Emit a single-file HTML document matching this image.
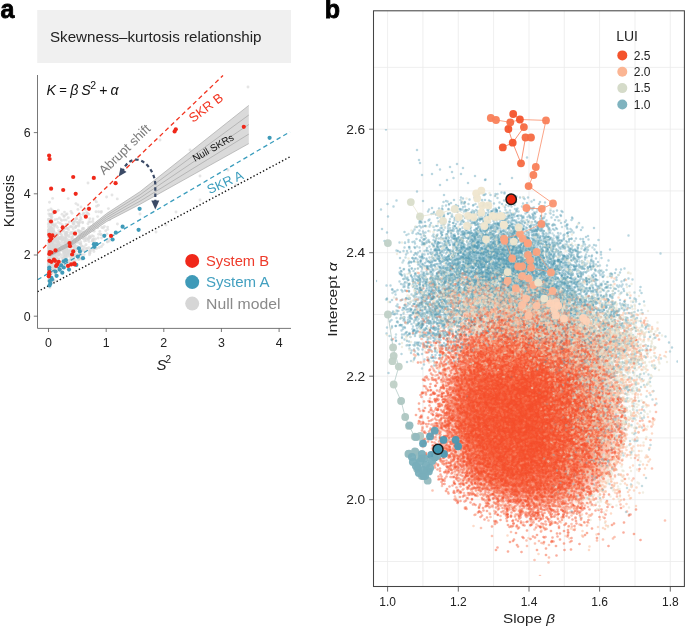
<!DOCTYPE html>
<html><head><meta charset="utf-8"><title>Skewness–kurtosis relationship</title>
<style>html,body{margin:0;padding:0;background:#fff;width:685px;height:627px;overflow:hidden}svg{display:block}</style>
</head><body>
<svg width="685" height="627" viewBox="0 0 685 627" font-family="'Liberation Sans', Arial, sans-serif"><rect x="37.2" y="10" width="253.8" height="53" fill="#f0f0f0"/>
<text x="50" y="41.5" font-size="15.2" fill="#222" textLength="211.5" lengthAdjust="spacingAndGlyphs">Skewness–kurtosis relationship</text>
<text x="0.4" y="18.2" font-size="25" font-weight="bold" fill="#000" stroke="#000" stroke-width="0.8">a</text>
<text x="324.8" y="18.2" font-size="25" font-weight="bold" fill="#000" stroke="#000" stroke-width="0.8">b</text>
<g fill="#111" font-size="14.2"><text x="46.6" y="94.6" font-style="italic">K</text><text x="59.3" y="94" font-size="13">=</text><text x="70.2" y="94.6" font-style="italic">β</text><text x="81.3" y="94.6" font-style="italic">S</text><text x="90.2" y="88.8" font-size="10.5">2</text><text x="99.3" y="94.6">+</text><text x="110.4" y="94.6" font-style="italic">α</text></g>
<g fill="#dadada" fill-opacity="0.7"><circle cx="48.4" cy="257.7" r="1.45"/><circle cx="49.2" cy="235.1" r="1.45"/><circle cx="49.8" cy="233.2" r="1.45"/><circle cx="48.6" cy="277.5" r="1.45"/><circle cx="49.9" cy="240.2" r="1.45"/><circle cx="49.9" cy="258.8" r="1.45"/><circle cx="48.7" cy="234.3" r="1.45"/><circle cx="48.5" cy="265.2" r="1.45"/><circle cx="52.4" cy="243.3" r="1.45"/><circle cx="54.1" cy="227.5" r="1.45"/><circle cx="53.9" cy="247.5" r="1.45"/><circle cx="52.2" cy="257.2" r="1.45"/><circle cx="48.9" cy="248.4" r="1.45"/><circle cx="56" cy="241.8" r="1.45"/><circle cx="48.5" cy="254.2" r="1.45"/><circle cx="53" cy="242.9" r="1.45"/><circle cx="51.3" cy="236.6" r="1.45"/><circle cx="51.6" cy="236.7" r="1.45"/><circle cx="48.5" cy="268.8" r="1.45"/><circle cx="50.2" cy="249.9" r="1.45"/><circle cx="48.7" cy="253.2" r="1.45"/><circle cx="52.1" cy="253.4" r="1.45"/><circle cx="52.5" cy="222.6" r="1.45"/><circle cx="51" cy="254.3" r="1.45"/><circle cx="50.7" cy="229.2" r="1.45"/><circle cx="48.6" cy="263" r="1.45"/><circle cx="49" cy="265" r="1.45"/><circle cx="48.6" cy="264.7" r="1.45"/><circle cx="52.7" cy="239.2" r="1.45"/><circle cx="49" cy="243.2" r="1.45"/><circle cx="48.8" cy="229.4" r="1.45"/><circle cx="50.1" cy="248.3" r="1.45"/><circle cx="51.1" cy="273.8" r="1.45"/><circle cx="52.4" cy="236.9" r="1.45"/><circle cx="50.3" cy="214.1" r="1.45"/><circle cx="49.8" cy="250.2" r="1.45"/><circle cx="52.2" cy="265.1" r="1.45"/><circle cx="49.4" cy="245" r="1.45"/><circle cx="49.2" cy="280.9" r="1.45"/><circle cx="49.7" cy="246.2" r="1.45"/><circle cx="49.5" cy="249.7" r="1.45"/><circle cx="49" cy="230.8" r="1.45"/><circle cx="48.4" cy="243.6" r="1.45"/><circle cx="51.9" cy="264.4" r="1.45"/><circle cx="48.5" cy="264.7" r="1.45"/><circle cx="49.4" cy="272" r="1.45"/><circle cx="48.4" cy="263.1" r="1.45"/><circle cx="52.3" cy="258.6" r="1.45"/><circle cx="53.5" cy="213.3" r="1.45"/><circle cx="49.3" cy="234.9" r="1.45"/><circle cx="50.9" cy="240.1" r="1.45"/><circle cx="49" cy="261.4" r="1.45"/><circle cx="48.9" cy="248.1" r="1.45"/><circle cx="50.5" cy="261.9" r="1.45"/><circle cx="51.5" cy="250.5" r="1.45"/><circle cx="48.5" cy="232" r="1.45"/><circle cx="49.2" cy="235.7" r="1.45"/><circle cx="51.3" cy="255.7" r="1.45"/><circle cx="48.7" cy="240.8" r="1.45"/><circle cx="48.8" cy="214" r="1.45"/><circle cx="51.8" cy="258.9" r="1.45"/><circle cx="54.8" cy="268.1" r="1.45"/><circle cx="53.6" cy="266.4" r="1.45"/><circle cx="50.9" cy="266.8" r="1.45"/><circle cx="48.8" cy="222.8" r="1.45"/><circle cx="52.1" cy="279.4" r="1.45"/><circle cx="48.6" cy="246.8" r="1.45"/><circle cx="48.9" cy="233.5" r="1.45"/><circle cx="51.7" cy="241.7" r="1.45"/><circle cx="48.6" cy="236.9" r="1.45"/><circle cx="50.3" cy="227.7" r="1.45"/><circle cx="52.2" cy="249.1" r="1.45"/><circle cx="51.3" cy="252.3" r="1.45"/><circle cx="50.5" cy="245.8" r="1.45"/><circle cx="50.1" cy="252.2" r="1.45"/><circle cx="49.5" cy="246.3" r="1.45"/><circle cx="52.5" cy="236.7" r="1.45"/><circle cx="53.4" cy="239.2" r="1.45"/><circle cx="51.6" cy="258.4" r="1.45"/><circle cx="52.6" cy="224.4" r="1.45"/><circle cx="49" cy="240" r="1.45"/><circle cx="53.7" cy="266" r="1.45"/><circle cx="48.5" cy="253.4" r="1.45"/><circle cx="50.7" cy="260.6" r="1.45"/><circle cx="50" cy="249.3" r="1.45"/><circle cx="51.7" cy="228.9" r="1.45"/><circle cx="52.4" cy="242.4" r="1.45"/><circle cx="49.3" cy="251.4" r="1.45"/><circle cx="49.7" cy="242.3" r="1.45"/><circle cx="50.3" cy="246.3" r="1.45"/><circle cx="48.9" cy="252.4" r="1.45"/><circle cx="51.9" cy="264.9" r="1.45"/><circle cx="49.5" cy="241.3" r="1.45"/><circle cx="52.5" cy="270" r="1.45"/><circle cx="51.3" cy="249.3" r="1.45"/><circle cx="50" cy="266.8" r="1.45"/><circle cx="50.9" cy="269.5" r="1.45"/><circle cx="49.8" cy="280.8" r="1.45"/><circle cx="52.1" cy="268.4" r="1.45"/><circle cx="49.9" cy="268.6" r="1.45"/><circle cx="54" cy="280.2" r="1.45"/><circle cx="51.8" cy="219.9" r="1.45"/><circle cx="50.9" cy="232.7" r="1.45"/><circle cx="48.4" cy="268" r="1.45"/><circle cx="53.3" cy="211.9" r="1.45"/><circle cx="49.2" cy="252.8" r="1.45"/><circle cx="49.1" cy="252.7" r="1.45"/><circle cx="51" cy="223.2" r="1.45"/><circle cx="48.9" cy="233.5" r="1.45"/><circle cx="53.3" cy="261.6" r="1.45"/><circle cx="48.6" cy="259.7" r="1.45"/><circle cx="51.4" cy="239.5" r="1.45"/><circle cx="51.4" cy="235.2" r="1.45"/><circle cx="49" cy="237.1" r="1.45"/><circle cx="49.5" cy="258.5" r="1.45"/><circle cx="54.5" cy="225.5" r="1.45"/><circle cx="51.1" cy="250.3" r="1.45"/><circle cx="48.4" cy="224.5" r="1.45"/><circle cx="49.8" cy="266.1" r="1.45"/><circle cx="48.6" cy="253.5" r="1.45"/><circle cx="49.3" cy="273.9" r="1.45"/><circle cx="48.5" cy="210.2" r="1.45"/><circle cx="50.5" cy="214.6" r="1.45"/><circle cx="58.2" cy="241.9" r="1.45"/><circle cx="52.4" cy="252.9" r="1.45"/><circle cx="51.9" cy="234.1" r="1.45"/><circle cx="51.8" cy="255" r="1.45"/><circle cx="48.5" cy="251" r="1.45"/><circle cx="48.5" cy="267.3" r="1.45"/><circle cx="50.1" cy="256.1" r="1.45"/><circle cx="51.5" cy="261.7" r="1.45"/><circle cx="50.5" cy="272.8" r="1.45"/><circle cx="52.2" cy="249.4" r="1.45"/><circle cx="48.4" cy="226.8" r="1.45"/><circle cx="53.6" cy="279.7" r="1.45"/><circle cx="49.8" cy="266.7" r="1.45"/><circle cx="49.5" cy="202.3" r="1.45"/><circle cx="49.2" cy="250.8" r="1.45"/><circle cx="48.6" cy="231.5" r="1.45"/><circle cx="49.2" cy="248.6" r="1.45"/><circle cx="52" cy="258.4" r="1.45"/><circle cx="48.4" cy="281.1" r="1.45"/><circle cx="50.1" cy="244.6" r="1.45"/><circle cx="53.9" cy="281.8" r="1.45"/><circle cx="51.3" cy="269.4" r="1.45"/><circle cx="50.4" cy="254.1" r="1.45"/><circle cx="49" cy="247.2" r="1.45"/><circle cx="49" cy="253" r="1.45"/><circle cx="52.9" cy="262.6" r="1.45"/><circle cx="48.6" cy="241" r="1.45"/><circle cx="50.3" cy="282.5" r="1.45"/><circle cx="49.9" cy="253.3" r="1.45"/><circle cx="49.4" cy="230.9" r="1.45"/><circle cx="48.6" cy="268.6" r="1.45"/><circle cx="49.6" cy="247.7" r="1.45"/><circle cx="49.1" cy="254.1" r="1.45"/><circle cx="53.2" cy="247.5" r="1.45"/><circle cx="51" cy="268.8" r="1.45"/><circle cx="50.7" cy="263" r="1.45"/><circle cx="53" cy="246" r="1.45"/><circle cx="50.2" cy="255.6" r="1.45"/><circle cx="48.4" cy="233.1" r="1.45"/><circle cx="49.2" cy="248.1" r="1.45"/><circle cx="51.5" cy="258.1" r="1.45"/><circle cx="52.1" cy="231" r="1.45"/><circle cx="52.2" cy="234.8" r="1.45"/><circle cx="51.6" cy="281" r="1.45"/><circle cx="49.2" cy="262.5" r="1.45"/><circle cx="54.3" cy="248.3" r="1.45"/><circle cx="50.2" cy="226.3" r="1.45"/><circle cx="48.5" cy="280.1" r="1.45"/><circle cx="51.3" cy="234.1" r="1.45"/><circle cx="51" cy="242.4" r="1.45"/><circle cx="49.3" cy="248.1" r="1.45"/><circle cx="49" cy="257.6" r="1.45"/><circle cx="49.3" cy="251.2" r="1.45"/><circle cx="49" cy="250.4" r="1.45"/><circle cx="49.9" cy="287.5" r="1.45"/><circle cx="50.2" cy="253.1" r="1.45"/><circle cx="53.5" cy="259.4" r="1.45"/><circle cx="54.2" cy="225.2" r="1.45"/><circle cx="51" cy="265.4" r="1.45"/><circle cx="48.8" cy="219.5" r="1.45"/><circle cx="49.5" cy="239.1" r="1.45"/><circle cx="49.1" cy="237.2" r="1.45"/><circle cx="51.9" cy="250.9" r="1.45"/><circle cx="48.9" cy="230.1" r="1.45"/><circle cx="48.7" cy="230.1" r="1.45"/><circle cx="51.7" cy="272.2" r="1.45"/><circle cx="51.7" cy="243" r="1.45"/><circle cx="49.9" cy="249.5" r="1.45"/><circle cx="49.6" cy="245.6" r="1.45"/><circle cx="52.3" cy="224.6" r="1.45"/><circle cx="50.8" cy="248.4" r="1.45"/><circle cx="49" cy="271" r="1.45"/><circle cx="53.6" cy="237.1" r="1.45"/><circle cx="48.9" cy="259.4" r="1.45"/><circle cx="49.5" cy="271.6" r="1.45"/><circle cx="49" cy="228.9" r="1.45"/><circle cx="51.2" cy="267.3" r="1.45"/><circle cx="49.8" cy="215.9" r="1.45"/><circle cx="52.4" cy="263.4" r="1.45"/><circle cx="52.4" cy="244.7" r="1.45"/><circle cx="49.3" cy="230.6" r="1.45"/><circle cx="56" cy="248.7" r="1.45"/><circle cx="53.2" cy="239.7" r="1.45"/><circle cx="48.9" cy="220.2" r="1.45"/><circle cx="49.5" cy="270.7" r="1.45"/><circle cx="52.2" cy="272.4" r="1.45"/><circle cx="49.4" cy="232.2" r="1.45"/><circle cx="49.9" cy="243.3" r="1.45"/><circle cx="48.5" cy="241.8" r="1.45"/><circle cx="50.9" cy="246.2" r="1.45"/><circle cx="51.5" cy="227.5" r="1.45"/><circle cx="48.5" cy="268.8" r="1.45"/><circle cx="53" cy="252.1" r="1.45"/><circle cx="50.3" cy="233.4" r="1.45"/><circle cx="51" cy="242.2" r="1.45"/><circle cx="52.9" cy="237.2" r="1.45"/><circle cx="49.6" cy="247.7" r="1.45"/><circle cx="50.7" cy="263.2" r="1.45"/><circle cx="48.9" cy="263.5" r="1.45"/><circle cx="48.5" cy="231.4" r="1.45"/><circle cx="48.7" cy="253" r="1.45"/><circle cx="51.3" cy="234.8" r="1.45"/><circle cx="48.5" cy="219.3" r="1.45"/><circle cx="50.4" cy="231.5" r="1.45"/><circle cx="53.8" cy="250.9" r="1.45"/><circle cx="51.7" cy="223" r="1.45"/><circle cx="51.7" cy="237.9" r="1.45"/><circle cx="51.8" cy="259.2" r="1.45"/><circle cx="50.8" cy="238.3" r="1.45"/><circle cx="50.1" cy="237.6" r="1.45"/><circle cx="49.7" cy="233.5" r="1.45"/><circle cx="52" cy="217.1" r="1.45"/><circle cx="54" cy="245.9" r="1.45"/><circle cx="49.1" cy="251.4" r="1.45"/><circle cx="48.9" cy="252.9" r="1.45"/><circle cx="54.1" cy="232.3" r="1.45"/><circle cx="53.1" cy="232.8" r="1.45"/><circle cx="52.4" cy="266.2" r="1.45"/><circle cx="50.9" cy="233.7" r="1.45"/><circle cx="52.6" cy="245.3" r="1.45"/><circle cx="52.6" cy="198.4" r="1.45"/><circle cx="50" cy="231.6" r="1.45"/><circle cx="51.5" cy="231.5" r="1.45"/><circle cx="49.3" cy="223.4" r="1.45"/><circle cx="51.3" cy="278.3" r="1.45"/><circle cx="50.9" cy="244.4" r="1.45"/><circle cx="51" cy="216" r="1.45"/><circle cx="49.6" cy="251.4" r="1.45"/><circle cx="48.7" cy="250.2" r="1.45"/><circle cx="51.8" cy="250.7" r="1.45"/><circle cx="48.5" cy="276.5" r="1.45"/><circle cx="54" cy="249.4" r="1.45"/><circle cx="50.7" cy="250.8" r="1.45"/><circle cx="64.3" cy="259.7" r="1.45"/><circle cx="50" cy="270.9" r="1.45"/><circle cx="64.2" cy="249.6" r="1.45"/><circle cx="55" cy="255" r="1.45"/><circle cx="67.4" cy="261.6" r="1.45"/><circle cx="54.7" cy="261" r="1.45"/><circle cx="54.6" cy="252.3" r="1.45"/><circle cx="83.8" cy="238" r="1.45"/><circle cx="83.3" cy="249.1" r="1.45"/><circle cx="50.9" cy="251.5" r="1.45"/><circle cx="52.6" cy="259.9" r="1.45"/><circle cx="58.2" cy="266.2" r="1.45"/><circle cx="55.5" cy="260.6" r="1.45"/><circle cx="50.9" cy="273.1" r="1.45"/><circle cx="54.6" cy="250" r="1.45"/><circle cx="52.2" cy="260.3" r="1.45"/><circle cx="60.4" cy="245.7" r="1.45"/><circle cx="55.9" cy="245.6" r="1.45"/><circle cx="65.5" cy="251.5" r="1.45"/><circle cx="65" cy="240.7" r="1.45"/><circle cx="62.5" cy="230.1" r="1.45"/><circle cx="74.7" cy="239.5" r="1.45"/><circle cx="88.9" cy="221.8" r="1.45"/><circle cx="82.1" cy="249.9" r="1.45"/><circle cx="81.5" cy="246" r="1.45"/><circle cx="55.5" cy="224" r="1.45"/><circle cx="89.9" cy="238" r="1.45"/><circle cx="54.8" cy="272.2" r="1.45"/><circle cx="66.5" cy="240.1" r="1.45"/><circle cx="58.8" cy="248.6" r="1.45"/><circle cx="74.3" cy="255.6" r="1.45"/><circle cx="50" cy="242.7" r="1.45"/><circle cx="63.7" cy="231.1" r="1.45"/><circle cx="58.8" cy="255.3" r="1.45"/><circle cx="57.9" cy="266.7" r="1.45"/><circle cx="91" cy="226.6" r="1.45"/><circle cx="49.9" cy="249.4" r="1.45"/><circle cx="92.5" cy="240.9" r="1.45"/><circle cx="64.1" cy="261.7" r="1.45"/><circle cx="107" cy="233.9" r="1.45"/><circle cx="71.8" cy="238.4" r="1.45"/><circle cx="64.1" cy="248.2" r="1.45"/><circle cx="51.7" cy="244.9" r="1.45"/><circle cx="66.2" cy="220" r="1.45"/><circle cx="77.9" cy="236.7" r="1.45"/><circle cx="56.3" cy="238.9" r="1.45"/><circle cx="62.5" cy="249.3" r="1.45"/><circle cx="72" cy="213.2" r="1.45"/><circle cx="52.6" cy="253.9" r="1.45"/><circle cx="53.6" cy="231.3" r="1.45"/><circle cx="49.3" cy="231.3" r="1.45"/><circle cx="73.6" cy="246.6" r="1.45"/><circle cx="53.6" cy="240.2" r="1.45"/><circle cx="72.2" cy="238.9" r="1.45"/><circle cx="75.4" cy="235" r="1.45"/><circle cx="61.3" cy="256.8" r="1.45"/><circle cx="75.2" cy="246.8" r="1.45"/><circle cx="76.9" cy="256.7" r="1.45"/><circle cx="70.7" cy="241.7" r="1.45"/><circle cx="66.7" cy="236" r="1.45"/><circle cx="55.2" cy="266.6" r="1.45"/><circle cx="50.4" cy="259.7" r="1.45"/><circle cx="72.3" cy="254.3" r="1.45"/><circle cx="59.9" cy="230.6" r="1.45"/><circle cx="106.6" cy="197" r="1.45"/><circle cx="50.1" cy="250.8" r="1.45"/><circle cx="88.3" cy="239" r="1.45"/><circle cx="73.8" cy="241.7" r="1.45"/><circle cx="60.2" cy="262.9" r="1.45"/><circle cx="65.8" cy="259.3" r="1.45"/><circle cx="52.2" cy="250" r="1.45"/><circle cx="64.6" cy="253.1" r="1.45"/><circle cx="61.4" cy="263.3" r="1.45"/><circle cx="57.9" cy="267.1" r="1.45"/><circle cx="77.9" cy="242.2" r="1.45"/><circle cx="67.7" cy="252" r="1.45"/><circle cx="54.3" cy="241.3" r="1.45"/><circle cx="89.9" cy="252.8" r="1.45"/><circle cx="58.3" cy="210.3" r="1.45"/><circle cx="73.3" cy="245.6" r="1.45"/><circle cx="67" cy="213.9" r="1.45"/><circle cx="54.6" cy="258.1" r="1.45"/><circle cx="79.9" cy="233" r="1.45"/><circle cx="65.9" cy="255.2" r="1.45"/><circle cx="98.4" cy="205.3" r="1.45"/><circle cx="63.2" cy="237.5" r="1.45"/><circle cx="101.1" cy="221.1" r="1.45"/><circle cx="53.5" cy="245.8" r="1.45"/><circle cx="66.2" cy="252.4" r="1.45"/><circle cx="92.4" cy="229.4" r="1.45"/><circle cx="67.7" cy="251.6" r="1.45"/><circle cx="64.2" cy="253.4" r="1.45"/><circle cx="108.4" cy="208.6" r="1.45"/><circle cx="55.1" cy="234.4" r="1.45"/><circle cx="99.9" cy="231.5" r="1.45"/><circle cx="95.3" cy="248.1" r="1.45"/><circle cx="79.8" cy="248.9" r="1.45"/><circle cx="56.2" cy="253.3" r="1.45"/><circle cx="56.6" cy="252.5" r="1.45"/><circle cx="62.5" cy="258.4" r="1.45"/><circle cx="92.2" cy="235.8" r="1.45"/><circle cx="96.4" cy="201.9" r="1.45"/><circle cx="82.8" cy="228.3" r="1.45"/><circle cx="66" cy="224.1" r="1.45"/><circle cx="50" cy="255.4" r="1.45"/><circle cx="56.1" cy="250.1" r="1.45"/><circle cx="59.8" cy="251.2" r="1.45"/><circle cx="76.6" cy="248.3" r="1.45"/><circle cx="107.7" cy="229.4" r="1.45"/><circle cx="54.7" cy="243.7" r="1.45"/><circle cx="66.9" cy="264.4" r="1.45"/><circle cx="53.9" cy="238" r="1.45"/><circle cx="55.5" cy="249.9" r="1.45"/><circle cx="88.8" cy="247.6" r="1.45"/><circle cx="50.6" cy="262.3" r="1.45"/><circle cx="65.9" cy="255.6" r="1.45"/><circle cx="65.7" cy="237.6" r="1.45"/><circle cx="68" cy="250.9" r="1.45"/><circle cx="65.8" cy="238.6" r="1.45"/><circle cx="65.3" cy="241.5" r="1.45"/><circle cx="56.6" cy="226.1" r="1.45"/><circle cx="68.1" cy="260.8" r="1.45"/><circle cx="80.1" cy="233.8" r="1.45"/><circle cx="66.6" cy="248.6" r="1.45"/><circle cx="57.8" cy="249.1" r="1.45"/><circle cx="64.9" cy="247" r="1.45"/><circle cx="80.6" cy="233.8" r="1.45"/><circle cx="58.7" cy="243.9" r="1.45"/><circle cx="86.3" cy="240.6" r="1.45"/><circle cx="55.2" cy="248.7" r="1.45"/><circle cx="83.7" cy="213.1" r="1.45"/><circle cx="51.2" cy="273.1" r="1.45"/><circle cx="92.8" cy="239.5" r="1.45"/><circle cx="50.8" cy="265.4" r="1.45"/><circle cx="50.9" cy="264.1" r="1.45"/><circle cx="62.8" cy="260.1" r="1.45"/><circle cx="49.5" cy="239" r="1.45"/><circle cx="60.6" cy="262.9" r="1.45"/><circle cx="68.8" cy="264.1" r="1.45"/><circle cx="61.1" cy="249.8" r="1.45"/><circle cx="73.9" cy="258.8" r="1.45"/><circle cx="86" cy="244.7" r="1.45"/><circle cx="52.3" cy="256.2" r="1.45"/><circle cx="94.5" cy="241.6" r="1.45"/><circle cx="69.2" cy="236.8" r="1.45"/><circle cx="50.5" cy="268.2" r="1.45"/><circle cx="64.9" cy="256.8" r="1.45"/><circle cx="78.8" cy="254.1" r="1.45"/><circle cx="86.1" cy="234.5" r="1.45"/><circle cx="78.6" cy="249.1" r="1.45"/><circle cx="72.8" cy="253.6" r="1.45"/><circle cx="52.6" cy="213.6" r="1.45"/><circle cx="68.4" cy="254" r="1.45"/><circle cx="50.7" cy="248.8" r="1.45"/><circle cx="79.9" cy="248.6" r="1.45"/><circle cx="93.7" cy="239.1" r="1.45"/><circle cx="48.9" cy="253.1" r="1.45"/><circle cx="82.7" cy="234.5" r="1.45"/><circle cx="69.6" cy="263" r="1.45"/><circle cx="71" cy="211.5" r="1.45"/><circle cx="68.6" cy="241.9" r="1.45"/><circle cx="52.5" cy="224.8" r="1.45"/><circle cx="72.6" cy="245.9" r="1.45"/><circle cx="60.4" cy="237.8" r="1.45"/><circle cx="59.8" cy="245" r="1.45"/><circle cx="55.7" cy="249.8" r="1.45"/><circle cx="51.9" cy="271.6" r="1.45"/><circle cx="49" cy="240.8" r="1.45"/><circle cx="73.6" cy="247.5" r="1.45"/><circle cx="65.7" cy="264.2" r="1.45"/><circle cx="53.2" cy="269.7" r="1.45"/><circle cx="77.9" cy="204.9" r="1.45"/><circle cx="101" cy="234.8" r="1.45"/><circle cx="67.7" cy="244.4" r="1.45"/><circle cx="51.1" cy="229.2" r="1.45"/><circle cx="82.7" cy="222.8" r="1.45"/><circle cx="49.8" cy="232" r="1.45"/><circle cx="53.4" cy="263.5" r="1.45"/><circle cx="55.7" cy="240" r="1.45"/><circle cx="49.4" cy="246.8" r="1.45"/><circle cx="71.8" cy="233.3" r="1.45"/><circle cx="52.3" cy="252.2" r="1.45"/><circle cx="75.4" cy="250.1" r="1.45"/><circle cx="66.8" cy="249.7" r="1.45"/><circle cx="79.4" cy="251.2" r="1.45"/><circle cx="77.1" cy="222.1" r="1.45"/><circle cx="51" cy="274.6" r="1.45"/><circle cx="57.8" cy="236" r="1.45"/><circle cx="79.4" cy="247.8" r="1.45"/><circle cx="59" cy="238.9" r="1.45"/><circle cx="65.2" cy="241.8" r="1.45"/><circle cx="49.3" cy="263.2" r="1.45"/><circle cx="61.3" cy="248.2" r="1.45"/><circle cx="49.3" cy="263.6" r="1.45"/><circle cx="59.6" cy="232.3" r="1.45"/><circle cx="54" cy="238.4" r="1.45"/><circle cx="79.7" cy="231.6" r="1.45"/><circle cx="107.4" cy="241.6" r="1.45"/><circle cx="69.5" cy="250.6" r="1.45"/><circle cx="96.6" cy="206.2" r="1.45"/><circle cx="99.2" cy="247.5" r="1.45"/><circle cx="65.7" cy="234.7" r="1.45"/><circle cx="67.6" cy="247.5" r="1.45"/><circle cx="60.3" cy="239.3" r="1.45"/><circle cx="50.5" cy="237.7" r="1.45"/><circle cx="107.1" cy="218.5" r="1.45"/><circle cx="75.3" cy="227.6" r="1.45"/><circle cx="54.4" cy="266.5" r="1.45"/><circle cx="58.2" cy="265.1" r="1.45"/><circle cx="49.2" cy="246.8" r="1.45"/><circle cx="75" cy="245.3" r="1.45"/><circle cx="75.7" cy="242.4" r="1.45"/><circle cx="50.9" cy="244.8" r="1.45"/><circle cx="76" cy="248" r="1.45"/><circle cx="54.8" cy="254.7" r="1.45"/><circle cx="50.6" cy="268.4" r="1.45"/><circle cx="75.2" cy="249.3" r="1.45"/><circle cx="60.5" cy="262.7" r="1.45"/><circle cx="57.8" cy="244.6" r="1.45"/><circle cx="59.4" cy="217.9" r="1.45"/><circle cx="58.1" cy="222.4" r="1.45"/><circle cx="73.4" cy="254.3" r="1.45"/><circle cx="58.4" cy="243.6" r="1.45"/><circle cx="50.1" cy="253.5" r="1.45"/><circle cx="58.1" cy="262.2" r="1.45"/><circle cx="67.1" cy="250.1" r="1.45"/><circle cx="93.9" cy="251.5" r="1.45"/><circle cx="101.5" cy="246.5" r="1.45"/><circle cx="89.8" cy="253.2" r="1.45"/><circle cx="56.3" cy="256.6" r="1.45"/><circle cx="50.1" cy="245.2" r="1.45"/><circle cx="94.1" cy="231.3" r="1.45"/><circle cx="51.7" cy="269" r="1.45"/><circle cx="63.6" cy="252.1" r="1.45"/><circle cx="70.1" cy="246" r="1.45"/><circle cx="56.2" cy="237.5" r="1.45"/><circle cx="57.6" cy="263.5" r="1.45"/><circle cx="55.4" cy="273.8" r="1.45"/><circle cx="51.6" cy="214.8" r="1.45"/><circle cx="78.2" cy="259.2" r="1.45"/><circle cx="71.2" cy="251.2" r="1.45"/><circle cx="74.6" cy="256.3" r="1.45"/><circle cx="66.4" cy="232.8" r="1.45"/><circle cx="70.9" cy="250.8" r="1.45"/><circle cx="68" cy="256.2" r="1.45"/><circle cx="61" cy="219.6" r="1.45"/><circle cx="78.9" cy="259.6" r="1.45"/><circle cx="71.1" cy="226.4" r="1.45"/><circle cx="67.9" cy="261.4" r="1.45"/><circle cx="77.2" cy="246.3" r="1.45"/><circle cx="54.4" cy="249.7" r="1.45"/><circle cx="55.5" cy="255.2" r="1.45"/><circle cx="48.5" cy="266.4" r="1.45"/><circle cx="51.9" cy="249.9" r="1.45"/><circle cx="72.2" cy="254.5" r="1.45"/><circle cx="69.1" cy="240.2" r="1.45"/><circle cx="66.1" cy="214.6" r="1.45"/><circle cx="56.3" cy="211.5" r="1.45"/><circle cx="68.8" cy="242.3" r="1.45"/><circle cx="53.9" cy="261.2" r="1.45"/><circle cx="54" cy="261.3" r="1.45"/><circle cx="67.8" cy="252.6" r="1.45"/><circle cx="59.9" cy="269" r="1.45"/><circle cx="49.8" cy="268.6" r="1.45"/><circle cx="53.2" cy="236.3" r="1.45"/><circle cx="58" cy="242.7" r="1.45"/><circle cx="57.7" cy="249.9" r="1.45"/><circle cx="51.8" cy="258.4" r="1.45"/><circle cx="68.2" cy="263.4" r="1.45"/><circle cx="83.3" cy="238.8" r="1.45"/><circle cx="67.9" cy="254" r="1.45"/><circle cx="66.1" cy="244.5" r="1.45"/><circle cx="67.1" cy="228.4" r="1.45"/><circle cx="49.5" cy="237.7" r="1.45"/><circle cx="68.3" cy="217.8" r="1.45"/><circle cx="56.8" cy="251.2" r="1.45"/><circle cx="75.9" cy="203.6" r="1.45"/><circle cx="82.1" cy="237.6" r="1.45"/><circle cx="57.7" cy="241" r="1.45"/><circle cx="64.4" cy="264.7" r="1.45"/><circle cx="49.9" cy="269.5" r="1.45"/><circle cx="50.1" cy="252.8" r="1.45"/><circle cx="109.2" cy="241.1" r="1.45"/><circle cx="51.7" cy="256.2" r="1.45"/><circle cx="59.8" cy="233.2" r="1.45"/><circle cx="61.2" cy="262.3" r="1.45"/><circle cx="91.1" cy="250.5" r="1.45"/><circle cx="62.4" cy="248" r="1.45"/><circle cx="74.8" cy="249" r="1.45"/><circle cx="49.3" cy="246.6" r="1.45"/><circle cx="63.9" cy="252" r="1.45"/><circle cx="57.3" cy="247.6" r="1.45"/><circle cx="58.2" cy="263.5" r="1.45"/><circle cx="50.1" cy="254.4" r="1.45"/><circle cx="52.3" cy="266.9" r="1.45"/><circle cx="62.7" cy="245" r="1.45"/><circle cx="65.1" cy="233.2" r="1.45"/><circle cx="61.4" cy="234.5" r="1.45"/><circle cx="78.9" cy="223.2" r="1.45"/><circle cx="84.6" cy="241.1" r="1.45"/><circle cx="53" cy="239.8" r="1.45"/><circle cx="84" cy="235.7" r="1.45"/><circle cx="62.3" cy="254.7" r="1.45"/><circle cx="93.7" cy="248.8" r="1.45"/><circle cx="49" cy="240.6" r="1.45"/><circle cx="74.2" cy="244.7" r="1.45"/><circle cx="53.4" cy="266" r="1.45"/><circle cx="58.9" cy="254.2" r="1.45"/><circle cx="64.2" cy="220" r="1.45"/><circle cx="79.6" cy="220.2" r="1.45"/><circle cx="65.5" cy="227.3" r="1.45"/><circle cx="57.8" cy="261.5" r="1.45"/><circle cx="57.3" cy="246.5" r="1.45"/><circle cx="65.1" cy="228.7" r="1.45"/><circle cx="80" cy="221.9" r="1.45"/><circle cx="83.8" cy="228.5" r="1.45"/><circle cx="88.2" cy="239.2" r="1.45"/><circle cx="56.6" cy="257.4" r="1.45"/><circle cx="72.1" cy="250.1" r="1.45"/><circle cx="72.5" cy="221.2" r="1.45"/><circle cx="65.8" cy="243.7" r="1.45"/><circle cx="72.5" cy="227.2" r="1.45"/><circle cx="66" cy="254.4" r="1.45"/><circle cx="74" cy="240.3" r="1.45"/><circle cx="79.4" cy="248.8" r="1.45"/><circle cx="77.9" cy="209.4" r="1.45"/><circle cx="60.2" cy="269.3" r="1.45"/><circle cx="54.7" cy="245.4" r="1.45"/><circle cx="66.8" cy="234.2" r="1.45"/><circle cx="61.1" cy="264" r="1.45"/><circle cx="53.1" cy="240.6" r="1.45"/><circle cx="64.9" cy="242.3" r="1.45"/><circle cx="50.9" cy="209" r="1.45"/><circle cx="66.9" cy="224.7" r="1.45"/><circle cx="49.9" cy="256.4" r="1.45"/><circle cx="67.2" cy="232.3" r="1.45"/><circle cx="81.4" cy="234.9" r="1.45"/><circle cx="64.1" cy="256.5" r="1.45"/><circle cx="61.7" cy="239.8" r="1.45"/><circle cx="84.8" cy="232" r="1.45"/><circle cx="76" cy="218.5" r="1.45"/><circle cx="89.8" cy="249.9" r="1.45"/><circle cx="80.5" cy="231.3" r="1.45"/><circle cx="93" cy="219" r="1.45"/><circle cx="51.2" cy="257" r="1.45"/><circle cx="50.7" cy="251.2" r="1.45"/><circle cx="62.3" cy="249.3" r="1.45"/><circle cx="55.2" cy="266.4" r="1.45"/><circle cx="53.4" cy="239.4" r="1.45"/><circle cx="50" cy="242" r="1.45"/><circle cx="89.7" cy="218.8" r="1.45"/><circle cx="64.1" cy="238" r="1.45"/><circle cx="68.1" cy="242.6" r="1.45"/><circle cx="88.8" cy="232.2" r="1.45"/><circle cx="85.6" cy="209.5" r="1.45"/><circle cx="49.2" cy="258.2" r="1.45"/><circle cx="90.5" cy="222" r="1.45"/><circle cx="118.6" cy="212" r="1.45"/><circle cx="81.3" cy="231.6" r="1.45"/><circle cx="74.1" cy="222.2" r="1.45"/><circle cx="80.5" cy="243.9" r="1.45"/><circle cx="55.7" cy="237.7" r="1.45"/><circle cx="59.3" cy="244" r="1.45"/><circle cx="68.3" cy="266.6" r="1.45"/><circle cx="50.1" cy="265.6" r="1.45"/><circle cx="53.2" cy="246.4" r="1.45"/><circle cx="66.1" cy="232.5" r="1.45"/><circle cx="54.1" cy="257.7" r="1.45"/><circle cx="92.8" cy="240.4" r="1.45"/><circle cx="57.2" cy="246.2" r="1.45"/><circle cx="84.1" cy="254.6" r="1.45"/><circle cx="62.4" cy="239.6" r="1.45"/><circle cx="65.2" cy="237.6" r="1.45"/><circle cx="56.6" cy="244.7" r="1.45"/><circle cx="55.8" cy="239.7" r="1.45"/><circle cx="73.3" cy="224.2" r="1.45"/><circle cx="74" cy="241.1" r="1.45"/><circle cx="78.6" cy="231.4" r="1.45"/><circle cx="121.9" cy="210.6" r="1.45"/><circle cx="95.7" cy="248.2" r="1.45"/><circle cx="86.6" cy="212.5" r="1.45"/><circle cx="88.8" cy="237.1" r="1.45"/><circle cx="79.7" cy="243.7" r="1.45"/><circle cx="50.9" cy="269.7" r="1.45"/><circle cx="52.8" cy="254.8" r="1.45"/><circle cx="98.6" cy="211.8" r="1.45"/><circle cx="49.7" cy="235.2" r="1.45"/><circle cx="68.7" cy="251.2" r="1.45"/><circle cx="72.1" cy="264.1" r="1.45"/><circle cx="55.7" cy="272.8" r="1.45"/><circle cx="51.5" cy="227.6" r="1.45"/><circle cx="68" cy="242.6" r="1.45"/><circle cx="71.8" cy="262.8" r="1.45"/><circle cx="80.6" cy="217.4" r="1.45"/><circle cx="109.8" cy="219.7" r="1.45"/><circle cx="67.1" cy="235.4" r="1.45"/><circle cx="57.2" cy="238.3" r="1.45"/><circle cx="56" cy="247.1" r="1.45"/><circle cx="64.3" cy="257.1" r="1.45"/><circle cx="52.3" cy="268.5" r="1.45"/><circle cx="51.1" cy="246.6" r="1.45"/><circle cx="85.3" cy="251.3" r="1.45"/><circle cx="73" cy="232.1" r="1.45"/><circle cx="92.8" cy="221.5" r="1.45"/><circle cx="57.6" cy="227.6" r="1.45"/><circle cx="87.8" cy="213.4" r="1.45"/><circle cx="117.3" cy="198.9" r="1.45"/><circle cx="75.3" cy="240.2" r="1.45"/><circle cx="54.1" cy="250.9" r="1.45"/><circle cx="87" cy="248.5" r="1.45"/><circle cx="60.6" cy="246" r="1.45"/><circle cx="79.6" cy="239.7" r="1.45"/><circle cx="109.4" cy="238.9" r="1.45"/><circle cx="81" cy="219.2" r="1.45"/><circle cx="73" cy="235.5" r="1.45"/><circle cx="50.1" cy="270.9" r="1.45"/><circle cx="57.5" cy="259.1" r="1.45"/><circle cx="61.1" cy="237.3" r="1.45"/><circle cx="65.4" cy="256.6" r="1.45"/><circle cx="72" cy="239.9" r="1.45"/><circle cx="51.1" cy="237.5" r="1.45"/><circle cx="117.4" cy="210.5" r="1.45"/><circle cx="49.4" cy="257.3" r="1.45"/><circle cx="70.7" cy="259.4" r="1.45"/><circle cx="74.5" cy="249.5" r="1.45"/><circle cx="59.6" cy="238.2" r="1.45"/><circle cx="58.9" cy="253.5" r="1.45"/><circle cx="80.1" cy="214.6" r="1.45"/><circle cx="61.7" cy="220.6" r="1.45"/><circle cx="69.2" cy="222" r="1.45"/><circle cx="54.9" cy="240.7" r="1.45"/><circle cx="79" cy="214.2" r="1.45"/><circle cx="59.4" cy="237.9" r="1.45"/><circle cx="81.7" cy="250.7" r="1.45"/><circle cx="59.3" cy="264.2" r="1.45"/><circle cx="66.4" cy="257" r="1.45"/><circle cx="52.3" cy="250.9" r="1.45"/><circle cx="101.1" cy="212.4" r="1.45"/><circle cx="67.8" cy="252.1" r="1.45"/><circle cx="50.9" cy="245" r="1.45"/><circle cx="68.2" cy="198.6" r="1.45"/><circle cx="97.6" cy="216.6" r="1.45"/><circle cx="58.3" cy="252.4" r="1.45"/><circle cx="52.8" cy="229.1" r="1.45"/><circle cx="53.7" cy="259.5" r="1.45"/><circle cx="51.6" cy="260.9" r="1.45"/><circle cx="89.7" cy="251.2" r="1.45"/><circle cx="71.8" cy="265" r="1.45"/><circle cx="66.3" cy="248.7" r="1.45"/><circle cx="117.4" cy="224" r="1.45"/><circle cx="77" cy="249.4" r="1.45"/><circle cx="89.5" cy="254.8" r="1.45"/><circle cx="76.8" cy="218.7" r="1.45"/><circle cx="51.6" cy="228.4" r="1.45"/><circle cx="57.1" cy="265.5" r="1.45"/><circle cx="50.3" cy="234.1" r="1.45"/><circle cx="73.6" cy="243.7" r="1.45"/><circle cx="49.8" cy="256.3" r="1.45"/><circle cx="63.9" cy="216.4" r="1.45"/><circle cx="48.7" cy="273.4" r="1.45"/><circle cx="61.2" cy="237.4" r="1.45"/><circle cx="65.6" cy="249.5" r="1.45"/><circle cx="66.3" cy="246.6" r="1.45"/><circle cx="69.8" cy="253.2" r="1.45"/><circle cx="58.5" cy="230.6" r="1.45"/><circle cx="65.8" cy="246.8" r="1.45"/><circle cx="105.3" cy="218.5" r="1.45"/><circle cx="58" cy="238.8" r="1.45"/><circle cx="59.4" cy="264.1" r="1.45"/><circle cx="50.4" cy="256.8" r="1.45"/><circle cx="100.9" cy="234.2" r="1.45"/><circle cx="56.1" cy="258.8" r="1.45"/><circle cx="92.4" cy="241" r="1.45"/><circle cx="49.6" cy="252.9" r="1.45"/><circle cx="78.8" cy="231" r="1.45"/><circle cx="80.9" cy="244" r="1.45"/><circle cx="83.3" cy="250.6" r="1.45"/><circle cx="62.1" cy="231.3" r="1.45"/><circle cx="58.7" cy="255.2" r="1.45"/><circle cx="54.4" cy="235.2" r="1.45"/><circle cx="107.3" cy="242" r="1.45"/><circle cx="75.3" cy="260.6" r="1.45"/><circle cx="71.3" cy="258.4" r="1.45"/><circle cx="56.5" cy="265.9" r="1.45"/><circle cx="51.8" cy="247" r="1.45"/><circle cx="67.9" cy="244.1" r="1.45"/><circle cx="92" cy="230.1" r="1.45"/><circle cx="65.4" cy="248.4" r="1.45"/><circle cx="72.8" cy="239.6" r="1.45"/><circle cx="71.4" cy="258" r="1.45"/><circle cx="54.1" cy="234.4" r="1.45"/><circle cx="61.7" cy="246" r="1.45"/><circle cx="75.6" cy="256.1" r="1.45"/><circle cx="62.1" cy="214.2" r="1.45"/><circle cx="59.1" cy="258.6" r="1.45"/><circle cx="63.1" cy="251" r="1.45"/><circle cx="65.5" cy="244.3" r="1.45"/><circle cx="101.9" cy="227.5" r="1.45"/><circle cx="86" cy="233.7" r="1.45"/><circle cx="51.8" cy="254.6" r="1.45"/><circle cx="71.3" cy="250.9" r="1.45"/><circle cx="59.9" cy="253.9" r="1.45"/><circle cx="54.4" cy="245.9" r="1.45"/><circle cx="81.5" cy="254.9" r="1.45"/><circle cx="56" cy="249.3" r="1.45"/><circle cx="58.3" cy="259.7" r="1.45"/><circle cx="70.1" cy="246.2" r="1.45"/><circle cx="79.1" cy="258" r="1.45"/><circle cx="88" cy="223.7" r="1.45"/><circle cx="60.3" cy="237.2" r="1.45"/><circle cx="82" cy="246.4" r="1.45"/><circle cx="56.9" cy="259.4" r="1.45"/><circle cx="65.6" cy="253.8" r="1.45"/><circle cx="74.6" cy="243.4" r="1.45"/><circle cx="63.8" cy="239.1" r="1.45"/><circle cx="74.3" cy="256" r="1.45"/><circle cx="72.4" cy="237.1" r="1.45"/><circle cx="101.4" cy="211.4" r="1.45"/><circle cx="61.1" cy="261.8" r="1.45"/><circle cx="57.3" cy="234.6" r="1.45"/><circle cx="57.4" cy="234.2" r="1.45"/><circle cx="52" cy="233.9" r="1.45"/><circle cx="80.8" cy="242" r="1.45"/><circle cx="85.8" cy="235.5" r="1.45"/><circle cx="50.8" cy="268.6" r="1.45"/><circle cx="56" cy="239.2" r="1.45"/><circle cx="82.6" cy="229.3" r="1.45"/><circle cx="57.5" cy="246.5" r="1.45"/><circle cx="105.7" cy="230.8" r="1.45"/><circle cx="65.3" cy="259.6" r="1.45"/><circle cx="65.9" cy="257.7" r="1.45"/><circle cx="66.5" cy="250.7" r="1.45"/><circle cx="69.5" cy="260.3" r="1.45"/><circle cx="64.5" cy="212.1" r="1.45"/><circle cx="70" cy="256.5" r="1.45"/><circle cx="55.7" cy="268" r="1.45"/><circle cx="79.4" cy="213.6" r="1.45"/><circle cx="78.9" cy="223.6" r="1.45"/><circle cx="69.8" cy="227" r="1.45"/><circle cx="71" cy="247.5" r="1.45"/><circle cx="74" cy="254.2" r="1.45"/><circle cx="107.6" cy="227.1" r="1.45"/><circle cx="65.1" cy="234.8" r="1.45"/><circle cx="95.2" cy="226.2" r="1.45"/><circle cx="80.1" cy="234.9" r="1.45"/><circle cx="84.2" cy="246.7" r="1.45"/><circle cx="68.6" cy="229.8" r="1.45"/><circle cx="52.1" cy="270.9" r="1.45"/><circle cx="58.4" cy="262.6" r="1.45"/><circle cx="56.2" cy="249.8" r="1.45"/><circle cx="78.3" cy="230.2" r="1.45"/><circle cx="89.1" cy="230.2" r="1.45"/><circle cx="71.8" cy="237.2" r="1.45"/><circle cx="75.2" cy="251.7" r="1.45"/><circle cx="73.2" cy="229.1" r="1.45"/><circle cx="75.1" cy="254.5" r="1.45"/><circle cx="82.9" cy="257.9" r="1.45"/><circle cx="57.9" cy="244.9" r="1.45"/><circle cx="108.1" cy="216.1" r="1.45"/><circle cx="79.2" cy="258.1" r="1.45"/><circle cx="66.1" cy="248.3" r="1.45"/><circle cx="88.4" cy="207.7" r="1.45"/><circle cx="70.8" cy="241" r="1.45"/><circle cx="53.7" cy="230.2" r="1.45"/><circle cx="60.3" cy="233.6" r="1.45"/><circle cx="67.7" cy="228.5" r="1.45"/><circle cx="68.3" cy="251.8" r="1.45"/><circle cx="97.7" cy="227.8" r="1.45"/><circle cx="51.3" cy="218" r="1.45"/><circle cx="57.9" cy="263.8" r="1.45"/><circle cx="67.6" cy="265.2" r="1.45"/><circle cx="77.8" cy="222.6" r="1.45"/><circle cx="63.4" cy="258.3" r="1.45"/><circle cx="53.1" cy="252.7" r="1.45"/><circle cx="73.9" cy="234.5" r="1.45"/><circle cx="101.5" cy="238" r="1.45"/><circle cx="59" cy="254.6" r="1.45"/><circle cx="56.5" cy="270.9" r="1.45"/><circle cx="63.8" cy="251" r="1.45"/><circle cx="79.2" cy="235.4" r="1.45"/><circle cx="73.5" cy="242.7" r="1.45"/><circle cx="76.1" cy="226.1" r="1.45"/><circle cx="89" cy="241.5" r="1.45"/><circle cx="76.7" cy="226.1" r="1.45"/><circle cx="56.5" cy="233.5" r="1.45"/><circle cx="48.8" cy="235.8" r="1.45"/><circle cx="70.5" cy="233.7" r="1.45"/><circle cx="61.6" cy="242.8" r="1.45"/><circle cx="54.5" cy="248.7" r="1.45"/><circle cx="74.2" cy="251.6" r="1.45"/><circle cx="93.5" cy="236.4" r="1.45"/><circle cx="74.1" cy="244.9" r="1.45"/><circle cx="54.9" cy="219.8" r="1.45"/><circle cx="56.5" cy="271.7" r="1.45"/><circle cx="67" cy="251.7" r="1.45"/><circle cx="104.4" cy="226.5" r="1.45"/><circle cx="72.7" cy="260" r="1.45"/><circle cx="57.6" cy="240.2" r="1.45"/><circle cx="95.2" cy="245" r="1.45"/><circle cx="64.2" cy="243.1" r="1.45"/><circle cx="75" cy="243.4" r="1.45"/><circle cx="64" cy="239.4" r="1.45"/><circle cx="59.9" cy="271.2" r="1.45"/><circle cx="86.9" cy="233.4" r="1.45"/><circle cx="74.9" cy="220.7" r="1.45"/><circle cx="62" cy="236" r="1.45"/><circle cx="54.8" cy="253.2" r="1.45"/><circle cx="50.7" cy="254" r="1.45"/><circle cx="77.4" cy="240" r="1.45"/><circle cx="52.5" cy="257.6" r="1.45"/><circle cx="57.4" cy="265.2" r="1.45"/><circle cx="61.5" cy="249.9" r="1.45"/><circle cx="63.2" cy="250.3" r="1.45"/><circle cx="64.3" cy="216" r="1.45"/><circle cx="83" cy="232.3" r="1.45"/><circle cx="49.9" cy="219.5" r="1.45"/><circle cx="56.9" cy="252.6" r="1.45"/><circle cx="56.4" cy="246.6" r="1.45"/><circle cx="85.1" cy="238.8" r="1.45"/><circle cx="103" cy="244.5" r="1.45"/><circle cx="66.5" cy="262.8" r="1.45"/><circle cx="95.6" cy="239" r="1.45"/><circle cx="50" cy="239.6" r="1.45"/><circle cx="81.1" cy="258" r="1.45"/><circle cx="52.1" cy="255" r="1.45"/><circle cx="57.6" cy="261.8" r="1.45"/><circle cx="58.5" cy="262.4" r="1.45"/><circle cx="62.2" cy="224.7" r="1.45"/><circle cx="98.6" cy="234.2" r="1.45"/><circle cx="59.3" cy="242.3" r="1.45"/><circle cx="73.2" cy="246.2" r="1.45"/><circle cx="75.5" cy="231.7" r="1.45"/><circle cx="51.1" cy="256.4" r="1.45"/><circle cx="58.1" cy="254.6" r="1.45"/><circle cx="88.8" cy="227.3" r="1.45"/><circle cx="56" cy="254.1" r="1.45"/><circle cx="74.1" cy="224.1" r="1.45"/><circle cx="76.8" cy="254.6" r="1.45"/><circle cx="88.6" cy="214.3" r="1.45"/><circle cx="67.7" cy="265.1" r="1.45"/><circle cx="65" cy="255.5" r="1.45"/><circle cx="89.6" cy="236" r="1.45"/><circle cx="81.7" cy="259.3" r="1.45"/><circle cx="72.3" cy="255.1" r="1.45"/><circle cx="50.4" cy="244.2" r="1.45"/><circle cx="69.6" cy="250.8" r="1.45"/><circle cx="49.6" cy="267.6" r="1.45"/><circle cx="93.8" cy="224.2" r="1.45"/><circle cx="77.1" cy="242" r="1.45"/><circle cx="67" cy="239" r="1.45"/><circle cx="96" cy="211.8" r="1.45"/><circle cx="62.5" cy="250.1" r="1.45"/><circle cx="81.7" cy="236" r="1.45"/><circle cx="52.4" cy="210.2" r="1.45"/><circle cx="65.9" cy="245.3" r="1.45"/><circle cx="81.1" cy="254.1" r="1.45"/><circle cx="58" cy="245.3" r="1.45"/><circle cx="52.8" cy="267.2" r="1.45"/><circle cx="68.9" cy="254.4" r="1.45"/><circle cx="68.9" cy="235.4" r="1.45"/><circle cx="90.5" cy="237.2" r="1.45"/><circle cx="67.1" cy="252.6" r="1.45"/><circle cx="54.7" cy="270" r="1.45"/><circle cx="82.5" cy="222.1" r="1.45"/><circle cx="75.6" cy="227.2" r="1.45"/><circle cx="92.9" cy="230.2" r="1.45"/><circle cx="80.9" cy="250.1" r="1.45"/><circle cx="53.4" cy="252.8" r="1.45"/><circle cx="72.9" cy="222.9" r="1.45"/><circle cx="57.6" cy="261.3" r="1.45"/><circle cx="110" cy="214.4" r="1.45"/><circle cx="52.5" cy="260.8" r="1.45"/><circle cx="103.3" cy="228.1" r="1.45"/><circle cx="68" cy="244.6" r="1.45"/><circle cx="75.5" cy="254.9" r="1.45"/><circle cx="58.5" cy="259.3" r="1.45"/><circle cx="60.2" cy="223.2" r="1.45"/><circle cx="70.8" cy="232.2" r="1.45"/><circle cx="62.2" cy="241.1" r="1.45"/><circle cx="86.3" cy="238.3" r="1.45"/><circle cx="96.6" cy="248.4" r="1.45"/><circle cx="55.1" cy="274" r="1.45"/><circle cx="57.4" cy="242.7" r="1.45"/><circle cx="86.1" cy="248.6" r="1.45"/><circle cx="48.6" cy="260.7" r="1.45"/><circle cx="67.7" cy="265.3" r="1.45"/><circle cx="51.4" cy="253.4" r="1.45"/><circle cx="65.6" cy="263.4" r="1.45"/><circle cx="84.4" cy="209" r="1.45"/><circle cx="83.3" cy="214.5" r="1.45"/><circle cx="64.1" cy="253.8" r="1.45"/><circle cx="78.5" cy="224.9" r="1.45"/><circle cx="93.4" cy="249.6" r="1.45"/><circle cx="56.3" cy="234.8" r="1.45"/><circle cx="57.2" cy="219.2" r="1.45"/><circle cx="63.3" cy="239.7" r="1.45"/><circle cx="81" cy="207" r="1.45"/><circle cx="51.8" cy="255.7" r="1.45"/><circle cx="98.2" cy="238" r="1.45"/><circle cx="48.8" cy="245.4" r="1.45"/><circle cx="89.7" cy="237.4" r="1.45"/><circle cx="75.5" cy="234.6" r="1.45"/><circle cx="56.2" cy="250.3" r="1.45"/><circle cx="49.2" cy="269.2" r="1.45"/><circle cx="78.9" cy="226.1" r="1.45"/><circle cx="50.9" cy="266.1" r="1.45"/><circle cx="54.4" cy="244.8" r="1.45"/><circle cx="67.8" cy="241.7" r="1.45"/><circle cx="74.2" cy="252.3" r="1.45"/><circle cx="160" cy="140" r="1.45"/><circle cx="248" cy="87" r="1.45"/><circle cx="107" cy="168" r="1.45"/><circle cx="118" cy="160" r="1.45"/><circle cx="190" cy="150" r="1.45"/><circle cx="200" cy="176" r="1.45"/><circle cx="228" cy="170" r="1.45"/><circle cx="236" cy="185" r="1.45"/><circle cx="112" cy="195" r="1.45"/><circle cx="95" cy="200" r="1.45"/><circle cx="130" cy="205" r="1.45"/><circle cx="140" cy="214" r="1.45"/><circle cx="176" cy="212" r="1.45"/><circle cx="200" cy="200" r="1.45"/><circle cx="88" cy="183" r="1.45"/><circle cx="156" cy="232" r="1.45"/><circle cx="166" cy="225" r="1.45"/></g>
<polygon points="50,254 60,247.2 71.7,241.3 106.7,213.5 140,191.7 248.8,105.4 248.8,143.6 140,204.3 106.7,221.5 71.7,245.1 60,250.8 50,256" fill="#dadada" stroke="none"/>
<polyline points="50,254 60,247.2 71.7,241.3 106.7,213.5 140,191.7 248.8,105.4" fill="none" stroke="#a2a2a2" stroke-width="0.65"/>
<polyline points="50,254.5 60,248.1 71.7,242.2 106.7,215.5 140,194.8 248.8,115" fill="none" stroke="#a2a2a2" stroke-width="0.65"/>
<polyline points="50,255 60,249 71.7,243.2 106.7,217.5 140,198 248.8,124.5" fill="none" stroke="#a2a2a2" stroke-width="0.65"/>
<polyline points="50,255.5 60,249.9 71.7,244.1 106.7,219.5 140,201.2 248.8,134.1" fill="none" stroke="#a2a2a2" stroke-width="0.65"/>
<polyline points="50,256 60,250.8 71.7,245.1 106.7,221.5 140,204.3 248.8,143.6" fill="none" stroke="#a2a2a2" stroke-width="0.65"/>
<line x1="37.5" y1="291.7" x2="291" y2="156.3" stroke="#111" stroke-width="1.4" stroke-dasharray="1.4 2.2" />
<line x1="37.5" y1="279.8" x2="290" y2="131.8" stroke="#3a9dbd" stroke-width="1.3" stroke-dasharray="4.5 3.2"/>
<line x1="37.5" y1="253.5" x2="223" y2="75.5" stroke="#f2321e" stroke-width="1.3" stroke-dasharray="4.5 3.2"/>
<g fill="#3f9ab8"><circle cx="93.9" cy="244.2" r="2.1"/><circle cx="96.5" cy="244.2" r="2.1"/><circle cx="94.4" cy="246.8" r="2.1"/><circle cx="78.9" cy="248.3" r="2.1"/><circle cx="79.9" cy="251.4" r="2.1"/><circle cx="77.8" cy="256.6" r="2.1"/><circle cx="83" cy="258.2" r="2.1"/><circle cx="65.9" cy="260.2" r="2.1"/><circle cx="63.8" cy="261.3" r="2.1"/><circle cx="61.2" cy="265.4" r="2.1"/><circle cx="63.8" cy="267.5" r="2.1"/><circle cx="59.7" cy="269.6" r="2.1"/><circle cx="62.3" cy="272.7" r="2.1"/><circle cx="56.6" cy="275.8" r="2.1"/><circle cx="49.3" cy="267.5" r="2.1"/><circle cx="49.3" cy="269.6" r="2.1"/><circle cx="51.4" cy="277.8" r="2.1"/><circle cx="49.8" cy="281" r="2.1"/><circle cx="50.4" cy="283.5" r="2.1"/><circle cx="69" cy="269.6" r="2.1"/><circle cx="76.3" cy="264.9" r="2.1"/><circle cx="55.5" cy="271.6" r="2.1"/><circle cx="52" cy="279.5" r="2.1"/><circle cx="49.5" cy="285.5" r="2.1"/><circle cx="139.6" cy="208.8" r="2.1"/><circle cx="122.6" cy="226.7" r="2.1"/><circle cx="138.6" cy="229.8" r="2.1"/><circle cx="115.8" cy="232.7" r="2.1"/><circle cx="104.3" cy="235.8" r="2.1"/><circle cx="112.6" cy="239.5" r="2.1"/><circle cx="269.6" cy="137.8" r="2.1"/></g>
<g fill="#f0281a"><circle cx="54.7" cy="212" r="2.1"/><circle cx="89" cy="208.8" r="2.1"/><circle cx="85.8" cy="216.7" r="2.1"/><circle cx="51" cy="221.5" r="2.1"/><circle cx="62.7" cy="227.4" r="2.1"/><circle cx="75" cy="233.5" r="2.1"/><circle cx="49.3" cy="234.8" r="2.1"/><circle cx="50.4" cy="236.4" r="2.1"/><circle cx="51.4" cy="238.5" r="2.1"/><circle cx="49.8" cy="240.5" r="2.1"/><circle cx="52.4" cy="235.4" r="2.1"/><circle cx="49.8" cy="252" r="2.1"/><circle cx="49.3" cy="254" r="2.1"/><circle cx="51.4" cy="252.5" r="2.1"/><circle cx="55.5" cy="250.4" r="2.1"/><circle cx="69.5" cy="243.1" r="2.1"/><circle cx="70" cy="246.2" r="2.1"/><circle cx="73.2" cy="251.4" r="2.1"/><circle cx="72.1" cy="254.5" r="2.1"/><circle cx="49.3" cy="260.8" r="2.1"/><circle cx="51.4" cy="261.8" r="2.1"/><circle cx="54" cy="259.7" r="2.1"/><circle cx="55" cy="260.8" r="2.1"/><circle cx="58.7" cy="261.8" r="2.1"/><circle cx="57.1" cy="264.4" r="2.1"/><circle cx="56.1" cy="265.9" r="2.1"/><circle cx="68" cy="265.9" r="2.1"/><circle cx="71.1" cy="264.4" r="2.1"/><circle cx="74.2" cy="263.3" r="2.1"/><circle cx="74.7" cy="264.4" r="2.1"/><circle cx="49.3" cy="272.2" r="2.1"/><circle cx="49.3" cy="274.2" r="2.1"/><circle cx="48.8" cy="276.3" r="2.1"/><circle cx="111" cy="235.9" r="2.1"/><circle cx="49.1" cy="155.6" r="2.1"/><circle cx="49.6" cy="159" r="2.1"/><circle cx="73.2" cy="177" r="2.1"/><circle cx="93.8" cy="177.9" r="2.1"/><circle cx="51.1" cy="188.7" r="2.1"/><circle cx="63.2" cy="190" r="2.1"/><circle cx="75.7" cy="193.8" r="2.1"/><circle cx="115.6" cy="183.2" r="2.1"/><circle cx="174.6" cy="131.5" r="2.1"/><circle cx="175.8" cy="129.3" r="2.1"/><circle cx="243.8" cy="126.8" r="2.1"/></g>
<text font-size="13" fill="#f2321e" transform="translate(193,123) rotate(-37)">SKR B</text>
<text font-size="13" fill="#3a9dbd" transform="translate(209.5,194.3) rotate(-24.5)">SKR A</text>
<text font-size="10" fill="#111" transform="translate(195,162) rotate(-29.5)">Null SKRs</text>
<text font-size="13" fill="#7a7a7a" transform="translate(104,175.5) rotate(-44)">Abrupt shift</text>
<path d="M122,172 C126,163 131,159.5 136.2,159.5 C146,160 154.5,172 155.3,184 L155.3,202" fill="none" stroke="#3b4a66" stroke-width="2.2" stroke-dasharray="3.5 2.8"/>
<polygon points="118.7,176.6 120.5,167.5 126.5,172" fill="#3b4a66"/>
<polygon points="155.3,209.5 151.3,200.5 159.3,200.5" fill="#3b4a66"/>
<path d="M37.5,75 V328.4 H291" fill="none" stroke="#555" stroke-width="0.8"/>
<line x1="33.8" y1="316.2" x2="37.5" y2="316.2" stroke="#555" stroke-width="0.8"/>
<text x="30.6" y="320.5" font-size="12.4" text-anchor="end" fill="#222">0</text>
<line x1="33.8" y1="255" x2="37.5" y2="255" stroke="#555" stroke-width="0.8"/>
<text x="30.6" y="259.3" font-size="12.4" text-anchor="end" fill="#222">2</text>
<line x1="33.8" y1="193.8" x2="37.5" y2="193.8" stroke="#555" stroke-width="0.8"/>
<text x="30.6" y="198.1" font-size="12.4" text-anchor="end" fill="#222">4</text>
<line x1="33.8" y1="132.6" x2="37.5" y2="132.6" stroke="#555" stroke-width="0.8"/>
<text x="30.6" y="136.9" font-size="12.4" text-anchor="end" fill="#222">6</text>
<line x1="48.5" y1="328.4" x2="48.5" y2="332" stroke="#555" stroke-width="0.8"/>
<text x="48.5" y="347" font-size="12.4" text-anchor="middle" fill="#222">0</text>
<line x1="106.2" y1="328.4" x2="106.2" y2="332" stroke="#555" stroke-width="0.8"/>
<text x="106.2" y="347" font-size="12.4" text-anchor="middle" fill="#222">1</text>
<line x1="163.8" y1="328.4" x2="163.8" y2="332" stroke="#555" stroke-width="0.8"/>
<text x="163.8" y="347" font-size="12.4" text-anchor="middle" fill="#222">2</text>
<line x1="221.4" y1="328.4" x2="221.4" y2="332" stroke="#555" stroke-width="0.8"/>
<text x="221.4" y="347" font-size="12.4" text-anchor="middle" fill="#222">3</text>
<line x1="279.1" y1="328.4" x2="279.1" y2="332" stroke="#555" stroke-width="0.8"/>
<text x="279.1" y="347" font-size="12.4" text-anchor="middle" fill="#222">4</text>
<text font-size="14.5" fill="#222" text-anchor="middle" transform="translate(13.6,201) rotate(-90)">Kurtosis</text>
<text x="156.5" y="369.8" font-size="15" fill="#222" font-style="italic">S</text><text x="165.5" y="363" font-size="10" fill="#222">2</text>
<circle cx="192.2" cy="260.9" r="7" fill="#f0281a"/>
<text x="206" y="266.1" font-size="14.3" fill="#ee3a2a" textLength="63" lengthAdjust="spacingAndGlyphs">System B</text>
<circle cx="192.2" cy="282.1" r="7" fill="#3f9ab8"/>
<text x="206" y="287.3" font-size="14.3" fill="#43a0c0" textLength="63.5" lengthAdjust="spacingAndGlyphs">System A</text>
<circle cx="192.2" cy="303.6" r="7" fill="#d6d6d6"/>
<text x="206" y="308.8" font-size="14.3" fill="#8a8a8a" textLength="74.5" lengthAdjust="spacingAndGlyphs">Null model</text>
<rect x="373.5" y="10.8" width="310.9" height="575.7" fill="#fff"/>
<path d="M387.6,10.8V586.5M422.9,10.8V586.5M458.3,10.8V586.5M493.6,10.8V586.5M529,10.8V586.5M564.3,10.8V586.5M599.6,10.8V586.5M635,10.8V586.5M670.3,10.8V586.5M373.5,561.5H684.4M373.5,499.7H684.4M373.5,437.9H684.4M373.5,376.2H684.4M373.5,314.5H684.4M373.5,252.7H684.4M373.5,190.9H684.4M373.5,129.2H684.4M373.5,67.4H684.4" stroke="#ebebeb" stroke-width="0.8" fill="none"/>
<defs><filter id="bl" x="-30%" y="-30%" width="160%" height="160%"><feGaussianBlur stdDeviation="9"/></filter></defs>
<path d="M468,335 L510,325 L555,330 L590,350 L607,390 L610,440 L597,478 L568,498 L528,502 L490,490 L464,468 L453,425 L454,380 Z" fill="#f6502a" fill-opacity="0.6" filter="url(#bl)"/>
<defs><filter id="soft" x="0" y="0" width="100%" height="100%"><feGaussianBlur stdDeviation="0.45"/></filter></defs><g filter="url(#soft)"><g fill="none" stroke-linecap="round" transform="scale(.5)">
<path stroke="#4893ae" stroke-opacity="0.38" stroke-width="5.0" d="M1054 315h0m-150 29h0m18 4h0m102 8h0m-144 14h0m46 27h0m13 2h0m86-7h0m15 3h0m-148 7h0m3 1h0m7 3h0m68-6h0m98 0h0m12 4h0m-293 9h0m129-1h0m30-1h0m74-2h0m3 4h0m21 0h0m-180 3h0m55 2h0m26 3h0m10 1h0m31-1h0m1-2h0m4 2h0m1-2h0m1 4h0m18-3h0m70-1h0m-139 6h0m12 5h0m22-1h0m8-5h0m3 6h0m29-5h0m5 1h0m45 4h0m2-5h0m23 3h0m-211 5h0m29 4h0m36-2h0m11 4h0m14-4h0m13 0h0m10 4h0m2-6h0m4 6h0m14-1h0m16-5h0m8 4h0m18-3h0m11 3h0m-204 9h0m87-1h0m1-2h0m7 4h0m58-1h0m8-5h0m6 1h0m6 4h0m5 0h0m24-2h0m-233 10h0m8-2h0m11 0h0m17 2h0m29-1h0m11-1h0m13-3h0m18 0h0m43 6h0m2-1h0m4-6h0m3 0h0m3 2h0m2-2h0m22 7h0m1-3h0m22 0h0m8 1h0m24-4h0m13 6h0m9-4h0m40-2h0m0 6h0m1-6h0m18 6h0m-327 8h0m20 0h0m29-2h0m6-5h0m15 1h0m9 4h0m2 1h0m1-3h0m8 2h0m14-4h0m2 5h0m20-5h0m3-1h0m1 6h0m11-2h0m0 0h0m6 0h0m9-3h0m12 0h0m5 4h0m12 0h0m16 2h0m3 0h0m10-1h0m0 1h0m3-4h0m3 0h0m7 2h0m11 2h0m6-1h0m5-5h0m4 3h0m1-1h0m29 1h0m5-2h0m-289 8h0m22 0h0m20 3h0m61 1h0m41 0h0m2-6h0m8 2h0m4 0h0m13 4h0m3-4h0m3 1h0m15 3h0m3-4h0m4 1h0m4-3h0m9 2h0m0 1h0m1 1h0m0 1h0m10-3h0m21 3h0m28-2h0m3-1h0m27 5h0m8-4h0m12-2h0m-304 10h0m25-1h0m13 3h0m3 0h0m8 0h0m10-4h0m3 4h0m21-4h0m1-1h0m11 5h0m13-1h0m0 3h0m5-5h0m16 0h0m6 4h0m0 1h0m6-6h0m2 1h0m3-2h0m14 4h0m2 1h0m13 0h0m5-4h0m1 6h0m5 0h0m3-4h0m0-2h0m0 5h0m10-3h0m5 2h0m5-2h0m3 2h0m25-1h0m2 3h0m7-2h0m3-4h0m21 2h0m2 0h0m13 0h0m0 2h0m33 1h0m15-6h0m-347 11h0m15 1h0m4 2h0m5-3h0m57 2h0m0-2h0m1-2h0m1 0h0m14 5h0m13 1h0m2-3h0m0 1h0m1-5h0m5 7h0m4-2h0m3 0h0m9-5h0m9 1h0m1 3h0m9 0h0m8-3h0m1 2h0m7-3h0m0 5h0m8 1h0m5-1h0m3-4h0m9 6h0m8-1h0m11-2h0m7 1h0m2 1h0m3 0h0m4 1h0m9-1h0m12-1h0m3 2h0m4-5h0m7 5h0m12-6h0m12 1h0m4 4h0m2-5h0m45 3h0m-320 5h0m19 4h0m7-1h0m1-3h0m1 6h0m6-2h0m0 0h0m10 2h0m18-6h0m18 0h0m16 4h0m4 0h0m3 2h0m1-3h0m4-1h0m1-1h0m1 4h0m3-5h0m7 3h0m4 1h0m0 2h0m8-3h0m4-4h0m1 3h0m1-3h0m4 2h0m2 2h0m6 1h0m3 0h0m18 0h0m8 1h0m2-6h0m3 6h0m3-1h0m3-1h0m2 2h0m2-3h0m8-2h0m6 4h0m3-1h0m1-1h0m7-2h0m10 0h0m3 3h0m6-3h0m16 6h0m14-4h0m10-1h0m10 3h0m35 2h0m-378 6h0m29 2h0m8-7h0m39 3h0m2-2h0m2 5h0m12-3h0m22-2h0m5 3h0m2-3h0m6 3h0m2-4h0m3 3h0m10-3h0m2 4h0m3 0h0m1-4h0m5 2h0m0 3h0m1-1h0m12 1h0m4-2h0m2-2h0m5 2h0m1-1h0m4 4h0m11-2h0m0 0h0m7 3h0m0-5h0m6 5h0m9-5h0m11 3h0m4-5h0m2 4h0m5 1h0m2-3h0m8 4h0m1 0h0m1-3h0m5-1h0m1 4h0m5-3h0m6 1h0m6-2h0m2 2h0m1-3h0m2 5h0m11-5h0m4 5h0m8 0h0m9-2h0m1 0h0m1 3h0m2-5h0m24-1h0m16 6h0m-318 7h0m21-1h0m26-1h0m1 3h0m25-5h0m47-2h0m2 4h0m2 3h0m1-5h0m9 2h0m0 2h0m6-6h0m1 3h0m3-2h0m10 3h0m1-4h0m7 1h0m4 2h0m0-3h0m10 3h0m4-3h0m6 1h0m1 2h0m4-1h0m0 0h0m3-1h0m17 1h0m0 0h0m3 0h0m2 5h0m1-1h0m3 1h0m1-1h0m7-6h0m7 1h0m9 4h0m1 1h0m2-2h0m1-4h0m7 0h0m1 1h0m1 5h0m0 1h0m17-1h0m70-1h0m-372 7h0m25 0h0m2 2h0m37-3h0m12 2h0m2-4h0m7 5h0m8 1h0m1-5h0m9 3h0m2-5h0m14 6h0m13-2h0m2 1h0m3-3h0m3 4h0m1-6h0m3 7h0m15-3h0m0-3h0m6 4h0m1-1h0m4 1h0m5 2h0m2-4h0m1 1h0m2-2h0m0 3h0m2 0h0m3-4h0m3-1h0m1 6h0m4-6h0m3 5h0m2-1h0m14-1h0m0 2h0m6-4h0m1 0h0m1 1h0m2 2h0m7 1h0m3-1h0m5 0h0m1-4h0m13 3h0m1 4h0m3-6h0m3-1h0m6 1h0m0 5h0m7-1h0m6-4h0m16-1h0m9 6h0m3-5h0m11 6h0m0-3h0m4 3h0m5-2h0m1-5h0m2 5h0m4 2h0m19-2h0m7-3h0m12 5h0m0-3h0m13-3h0m-365 12h0m10-3h0m14-1h0m17 4h0m12-4h0m17 1h0m1-1h0m4 5h0m13 1h0m4-6h0m1 4h0m31-3h0m3-2h0m2 4h0m4 0h0m6-1h0m4 3h0m5 0h0m1 1h0m1-3h0m3 1h0m2-1h0m2-4h0m2 0h0m2 2h0m0 3h0m0-5h0m6 4h0m1 3h0m2-2h0m3 2h0m4 0h0m2-3h0m1 1h0m14 2h0m2-5h0m4 0h0m0 1h0m2-2h0m5 4h0m0-1h0m3-1h0m2 3h0m6-2h0m7 1h0m4-5h0m3 3h0m3 4h0m1-5h0m8 5h0m1-7h0m2 4h0m0-1h0m1 1h0m9 2h0m5-6h0m2 2h0m3-2h0m2 0h0m0 6h0m8 0h0m0 0h0m1-5h0m3 3h0m2 3h0m7-4h0m8-1h0m7 2h0m29 3h0m7-4h0m28 0h0m-343 12h0m1-7h0m3 3h0m9 1h0m13-3h0m5-1h0m5 7h0m8-3h0m9-4h0m15 7h0m1-5h0m1-1h0m4 5h0m1-2h0m1 2h0m4 1h0m2-4h0m0 2h0m1 0h0m10-5h0m8 5h0m6-1h0m6 3h0m5-6h0m3 2h0m3 2h0m2-4h0m3 4h0m1-2h0m7 2h0m0 1h0m5-6h0m1 7h0m1-6h0m7 6h0m3-6h0m7-1h0m0 3h0m0 1h0m3-4h0m0 6h0m9-6h0m5 7h0m8-2h0m2 2h0m4-3h0m1-4h0m1 2h0m1 1h0m9-2h0m10 5h0m3-2h0m6 3h0m1-6h0m0 3h0m1 1h0m1 0h0m3-4h0m2 4h0m9-4h0m6 6h0m5-7h0m4 7h0m0-1h0m2 1h0m1-5h0m2 0h0m2 1h0m15 3h0m6 0h0m0-2h0m4-1h0m7 1h0m3 3h0m12-3h0m5-3h0m22 2h0m-360 12h0m7-1h0m27-6h0m21 2h0m13-2h0m2 0h0m15 1h0m9-1h0m7 5h0m5-3h0m1 2h0m1-2h0m19-2h0m5 5h0m9-4h0m1-1h0m8 1h0m1 2h0m2 3h0m2-3h0m6-2h0m4 2h0m1 4h0m3-1h0m2 1h0m8-1h0m1-6h0m1 2h0m0 4h0m13 1h0m5-7h0m1 2h0m1 4h0m1 1h0m0 0h0m6-6h0m1-1h0m5 1h0m1 0h0m1 5h0m8-5h0m1 1h0m1 3h0m0 1h0m1 0h0m2-5h0m6 4h0m1-4h0m1 5h0m4-1h0m3-4h0m8 5h0m2-4h0m10 0h0m2 2h0m2 3h0m14-2h0m8-2h0m5-2h0m1 3h0m1 3h0m10-2h0m5 1h0m17-2h0m3-2h0m17 0h0m7 0h0m-376 10h0m22 2h0m38-3h0m0-2h0m4 4h0m10-1h0m10-2h0m4 2h0m4 1h0m1 1h0m1-4h0m7 2h0m12 0h0m1-3h0m6 1h0m4 1h0m2 3h0m9-6h0m2 4h0m1-4h0m0 2h0m9 3h0m2-3h0m4 4h0m4 1h0m2-4h0m0 0h0m6 0h0m2 2h0m9-4h0m3 2h0m1-2h0m1 0h0m2 2h0m12-1h0m2-2h0m1 3h0m2 4h0m4-6h0m4 2h0m9 3h0m1-2h0m3-1h0m1-3h0m10 4h0m2-1h0m4 1h0m3 3h0m5 0h0m7 0h0m0-4h0m2-1h0m1-1h0m4 4h0m8 1h0m7-2h0m4-3h0m1 4h0m3 1h0m1 0h0m1-1h0m1-4h0m3 2h0m6 4h0m4-1h0m4-3h0m2 1h0m4-1h0m10 1h0m5 3h0m0 0h0m13-3h0m5 3h0m13-2h0m14-5h0m19 3h0m11-1h0m8-2h0m23 2h0m7 4h0m-413 4h0m15 3h0m10 2h0m2-5h0m10 3h0m0 2h0m9-6h0m1 2h0m7 2h0m9-3h0m4-1h0m7 3h0m9 2h0m4-3h0m4 0h0m7 2h0m16 0h0m3 1h0m1-3h0m4-1h0m1-1h0m4 0h0m11 1h0m4 3h0m0-5h0m9 2h0m2 5h0m1-2h0m1 1h0m6-4h0m1 0h0m10 1h0m0-2h0m0-1h0m6 3h0m12-1h0m1-2h0m3 7h0m1-7h0m4 7h0m2-6h0m1 0h0m0 5h0m1-6h0m7 1h0m1 1h0m1-1h0m5 5h0m3-3h0m2 1h0m3 1h0m1-2h0m2-2h0m1-1h0m11 7h0m5-5h0m4 3h0m3-4h0m3 0h0m2 2h0m3 0h0m6 3h0m3-2h0m2 1h0m6-2h0m1 4h0m0-3h0m2 0h0m0 2h0m10-1h0m10 2h0m7-2h0m12 0h0m0-2h0m20 2h0m11 1h0m17 1h0m14-6h0m45 6h0m7-2h0m-458 6h0m46 1h0m16 2h0m24-4h0m4 2h0m3-3h0m2 4h0m4 1h0m17-4h0m1 3h0m11 1h0m9-6h0m1 0h0m2 4h0m4-3h0m5 4h0m2-1h0m1-3h0m8 5h0m1-1h0m3 0h0m0-5h0m6 5h0m0-1h0m10 1h0m3 1h0m1-2h0m1-4h0m1 4h0m1-3h0m2-1h0m6 3h0m1-1h0m5 1h0m1-2h0m1 0h0m0 5h0m1-3h0m2 0h0m5 0h0m6-1h0m5-1h0m1 1h0m6 4h0m14-3h0m2-1h0m4-2h0m4 1h0m2-1h0m0 2h0m1 4h0m2-2h0m1 3h0m2-3h0m4 3h0m2-6h0m3 4h0m7 0h0m1-4h0m7 1h0m7 0h0m1 4h0m4-3h0m0 1h0m1 0h0m2 3h0m4-7h0m3 0h0m1 7h0m1-3h0m16 0h0m8 3h0m4-2h0m6-1h0m6 2h0m18-2h0m0-1h0m1-3h0m47 4h0m-407 10h0m10-5h0m9 5h0m26-2h0m27 3h0m21-6h0m6 1h0m0 2h0m10-2h0m1-1h0m2 5h0m3-6h0m7 1h0m2 0h0m6 6h0m2-6h0m3 3h0m5-1h0m5-1h0m5 5h0m5-4h0m7 3h0m0-4h0m1 4h0m1-3h0m2 1h0m6 1h0m4-1h0m4-3h0m5 4h0m8 1h0m1 1h0m2-3h0m5-3h0m2 6h0m1-5h0m0 2h0m1-1h0m0 4h0m3 0h0m10-5h0m7 3h0m8 0h0m2-2h0m2-3h0m1 2h0m2 5h0m9-1h0m4 0h0m9-5h0m14 1h0m1 0h0m1 3h0m13 0h0m8-2h0m6 4h0m1-2h0m0-4h0m21 1h0m6 3h0m57-1h0m6-1h0m9 4h0m-424 8h0m15-3h0m10 2h0m30-3h0m1 4h0m8 0h0m1-4h0m4 2h0m2-5h0m4 7h0m16-3h0m13 2h0m4 0h0m3-2h0m2-3h0m8 3h0m3 0h0m12 2h0m5-1h0m1-4h0m0-1h0m8 1h0m1 4h0m6-1h0m7 0h0m6 0h0m10-4h0m3 5h0m2-3h0m1 5h0m1 0h0m3-4h0m4-2h0m5 2h0m2-2h0m4 6h0m2-2h0m2-4h0m1 0h0m2 4h0m6-4h0m7 3h0m3 0h0m8 0h0m0-1h0m1 0h0m1 2h0m0 1h0m8-3h0m3 2h0m3-1h0m6 3h0m4-2h0m5 0h0m4 1h0m0-2h0m15-2h0m12-1h0m4 2h0m2-3h0m4 0h0m1 3h0m6 3h0m13-1h0m8 1h0m3 1h0m8-1h0m21-4h0m35 2h0m-344 11h0m9 0h0m10-5h0m5 0h0m31 0h0m5 1h0m1-2h0m16 6h0m2-1h0m19 1h0m2-1h0m1 1h0m5-1h0m4-5h0m7 6h0m1-6h0m1 2h0m1 1h0m1 0h0m14-4h0m5 3h0m4 0h0m7 3h0m2-1h0m6 1h0m7-2h0m5-3h0m2 1h0m4 1h0m12 0h0m4 0h0m1 2h0m2 2h0m2-1h0m7-6h0m7 5h0m4-1h0m1-1h0m6 0h0m2 3h0m1-6h0m1 0h0m5 7h0m10-2h0m0 1h0m1-6h0m7 4h0m1 2h0m0-6h0m2 3h0m7-1h0m6-1h0m7 2h0m2-1h0m16 2h0m14 3h0m16-7h0m6 1h0m51 3h0m-413 9h0m21-3h0m10 5h0m26-6h0m0 2h0m17 3h0m3-1h0m4-4h0m7 6h0m8-4h0m2-2h0m1 4h0m36 2h0m3-5h0m3 3h0m0 2h0m8-2h0m0-4h0m12 4h0m3 0h0m4 0h0m5 2h0m1-1h0m3-5h0m1 5h0m10 1h0m3-4h0m8 3h0m0-2h0m4 3h0m7-4h0m9 2h0m2-1h0m1-2h0m2-2h0m7 3h0m1-3h0m5 3h0m2 3h0m3-6h0m3 2h0m5-2h0m4 2h0m7-2h0m4 3h0m0 4h0m4-2h0m1-1h0m6-2h0m6 5h0m1-1h0m1-5h0m0-1h0m2 4h0m13 2h0m1 1h0m6-5h0m3 4h0m4-6h0m7 4h0m1 2h0m20-4h0m2 3h0m6 1h0m2-4h0m13 0h0m9 1h0m3 0h0m7-2h0m0 6h0m30-3h0m-424 5h0m45-1h0m5 1h0m2 2h0m13 3h0m9-2h0m7 0h0m2-2h0m2-2h0m4 4h0m1-3h0m12 6h0m14 0h0m3-7h0m8 4h0m10-3h0m3 0h0m5 0h0m3 1h0m4 3h0m3 2h0m0-4h0m4-2h0m3 3h0m14-4h0m3 0h0m4 7h0m1-5h0m7 0h0m2 4h0m1-1h0m6-5h0m1 1h0m3 5h0m0 0h0m4-4h0m11-1h0m5 6h0m3-1h0m36-6h0m0 2h0m4-2h0m8 1h0m1 5h0m1 0h0m6-2h0m4 1h0m0-1h0m6 1h0m2-1h0m5 1h0m6-1h0m7-1h0m10 1h0m0-1h0m2 4h0m2-2h0m11-5h0m1 4h0m10 1h0m18-1h0m9-1h0m6 0h0m10-2h0m2-1h0m1 6h0m20-3h0m1-3h0m-389 8h0m11 3h0m18 1h0m1-2h0m6 0h0m6 1h0m7-1h0m6 1h0m18 2h0m2-5h0m5 3h0m2-2h0m49 0h0m12-1h0m2 6h0m4-2h0m4 1h0m31 1h0m12 0h0m17 1h0m13-5h0m3 5h0m10-7h0m5 4h0m2 1h0m3-3h0m2 3h0m3-2h0m8 4h0m11-3h0m2 0h0m13 1h0m12-3h0m4 3h0m2-3h0m5 0h0m1 1h0m17 0h0m8-2h0m1 0h0m3 2h0m5 0h0m8 2h0m0-4h0m22 4h0m7 2h0m34-7h0m-450 14h0m13-6h0m21 6h0m4-3h0m11 2h0m19 2h0m3-1h0m37-1h0m0 2h0m4-6h0m2 6h0m1-5h0m60 5h0m23-4h0m17-3h0m26 0h0m24 4h0m0-3h0m7 0h0m1 1h0m3 2h0m2-2h0m5-2h0m3 3h0m1-2h0m17 0h0m1 4h0m14-5h0m1 5h0m0 0h0m3 2h0m6-6h0m4 3h0m17-2h0m29 3h0m6 2h0m2-4h0m4 2h0m17-1h0m15-2h0m36 1h0m-469 7h0m1 2h0m35 3h0m5-6h0m10-1h0m2 7h0m2 0h0m14-6h0m37 2h0m6 0h0m4 4h0m1-7h0m3 3h0m1 4h0m3-4h0m0 2h0m0-3h0m3 0h0m12 4h0m17-5h0m37 0h0m6 5h0m17-3h0m9 4h0m3-4h0m8 0h0m12 0h0m3 1h0m2-2h0m2-1h0m15 1h0m7 3h0m2-2h0m15 3h0m11-4h0m3-2h0m1 0h0m4 7h0m4-5h0m12 2h0m2 3h0m18-5h0m2 5h0m13-6h0m0 1h0m0-2h0m6 1h0m21 5h0m109-4h0m-477 12h0m14-2h0m20-3h0m2 3h0m19-3h0m11 6h0m5-7h0m1 1h0m26 0h0m5 3h0m18-2h0m3-2h0m10 1h0m40 6h0m28-7h0m4 2h0m5 2h0m22 0h0m0 0h0m8 1h0m6-5h0m1 0h0m7 4h0m4 1h0m11-2h0m3 3h0m6-2h0m11-2h0m2 1h0m17-2h0m11 4h0m2-1h0m5-2h0m2 2h0m2-2h0m6 3h0m0-2h0m1-1h0m9 5h0m8-2h0m1-1h0m0-3h0m13 2h0m1 1h0m4 0h0m20-2h0m8 0h0m4 2h0m4-1h0m-435 5h0m12 3h0m20 2h0m1-5h0m3 3h0m19 4h0m2-2h0m5-1h0m2 3h0m20-4h0m9 4h0m37-2h0m2 1h0m8-5h0m19 0h0m1 5h0m36 0h0m0-5h0m2 2h0m20-1h0m0 4h0m5-6h0m1 1h0m37 2h0m14-1h0m9 0h0m5-2h0m0 1h0m10 1h0m40-2h0m0 3h0m1 2h0m7-1h0m1-3h0m14 0h0m19 6h0m4-2h0m7 1h0m36 1h0m13-5h0m22 5h0m-445 3h0m34 0h0m12-1h0m15 0h0m51 1h0m14-1h0m1 5h0m10-5h0m3 3h0m25-2h0m78 2h0m4 3h0m5-4h0m5 0h0m4 1h0m12-2h0m2-2h0m2 3h0m22-2h0m12 1h0m3 0h0m9 3h0m20 0h0m26-1h0m5-3h0m23 5h0m13-3h0m3-3h0m14 2h0m2 1h0m11-2h0m2 0h0m3 2h0m21-3h0m28 1h0m-466 13h0m3 1h0m15-3h0m2 1h0m11-2h0m41-1h0m4 5h0m60-3h0m2-1h0m31 1h0m8-2h0m68 0h0m3 4h0m33-2h0m6 0h0m3 2h0m29 1h0m7-2h0m20-4h0m6 3h0m3-4h0m2 2h0m13 4h0m24-6h0m-373 14h0m9-3h0m1-2h0m1 4h0m16-4h0m17 3h0m4 3h0m31-7h0m12 6h0m16-3h0m20-2h0m34 1h0m33 3h0m18-1h0m31-3h0m3-1h0m23 6h0m14-6h0m39 4h0m0-2h0m8 5h0m-340 3h0m26 1h0m14-2h0m1 1h0m17 2h0m11-1h0m11-1h0m68-1h0m105 1h0m1 3h0m37-3h0m31 0h0m6 3h0m35-1h0m18 3h0m11-7h0m23 5h0m34-3h0m-420 7h0m9 4h0m39-5h0m5 7h0m135-1h0m33-1h0m27 0h0m8-5h0m43 2h0m0-1h0m7 5h0m11-6h0m4 1h0m17 4h0m2 2h0m23 0h0m28-5h0m6 1h0m-448 8h0m77-3h0m36 5h0m122 0h0m20-1h0m47-1h0m39-3h0m4 7h0m23-5h0m64-2h0m4 3h0m-435 6h0m9 2h0m7-3h0m35 0h0m24 0h0m19 1h0m2 4h0m135-4h0m42 3h0m6 3h0m15-7h0m13 0h0m33 5h0m3-1h0m9 1h0m44-1h0m6-1h0m-418 9h0m19-2h0m113 5h0m215-7h0m34 4h0m11 3h0m26 0h0m60-2h0m-229 7h0m13-1h0m45-1h0m37 5h0m22-3h0m-355 8h0m53-2h0m217-1h0m-216 10h0m296 0h0m10 3h0m79-6h0m-67 23h0"/>
<path stroke="#8dbcc6" stroke-opacity="0.5" stroke-width="5.0" d="M969 390h0m1 21h0m-10 27h0m98 5h0m-159 7h0m113 1h0m73 3h0m-48 5h0m-83 10h0m29 1h0m-66 5h0m64 2h0m22-2h0m53 3h0m45-3h0m-52 10h0m58 0h0m42-3h0m-262 13h0m29-4h0m58 2h0m123 1h0m0 0h0m12 0h0m9-6h0m-200 8h0m54 1h0m13 4h0m67-4h0m-32 14h0m4-6h0m7 0h0m75-1h0m-229 9h0m55 2h0m19 2h0m1 0h0m22-4h0m16 3h0m1-1h0m5-1h0m28-2h0m8 6h0m65-1h0m51-3h0m-259 7h0m43 4h0m1-3h0m18-2h0m2 6h0m42 1h0m9-5h0m19-2h0m19 5h0m60-2h0m7-1h0m-193 11h0m35-4h0m6 4h0m17 0h0m54 2h0m13-3h0m15-4h0m52 0h0m-230 15h0m16-3h0m9-3h0m26 2h0m29-3h0m17 3h0m29 0h0m23 4h0m52-3h0m37 0h0m-268 5h0m18 5h0m17 1h0m20-2h0m27-4h0m22 4h0m20-2h0m15 3h0m2-5h0m42 5h0m3-4h0m65 2h0m62 0h0m-312 4h0m116 5h0m41 1h0m36-6h0m1 6h0m61-4h0m24 2h0m-291 11h0m4-5h0m59 0h0m10-1h0m0 1h0m0-1h0m57-1h0m49 5h0m28-5h0m15 4h0m98 1h0m21 0h0m-316 9h0m24 0h0m48 1h0m23-7h0m21 7h0m43-4h0m7-3h0m14 5h0m6-4h0m4 3h0m38 1h0m10-5h0m18 4h0m18-4h0m-205 13h0m25 0h0m36-5h0m12 5h0m83-1h0m62 2h0m55-4h0m-363 11h0m36-1h0m22 2h0m29 0h0m1-3h0m83 4h0m17-1h0m17 1h0m11-6h0m21 3h0m7-1h0m9-1h0m8 3h0m17 0h0m34-1h0m20 1h0m68-2h0m-469 12h0m134-6h0m24 6h0m11 0h0m43-1h0m53-5h0m55 3h0m27-1h0m7 3h0m10 1h0m0-4h0m12-1h0m13 5h0m4-7h0m31 6h0m28-3h0m-285 11h0m11-2h0m22 0h0m10 3h0m4-1h0m5-1h0m2-1h0m10 0h0m13-4h0m3 5h0m3 0h0m43 1h0m10 1h0m0 0h0m33-3h0m17-1h0m15 1h0m38 2h0m13-2h0m75 0h0m-427 4h0m18 1h0m27 6h0m81-3h0m50 2h0m41-6h0m20 0h0m29 7h0m2-1h0m36-1h0m15 1h0m106-1h0m-447 5h0m133-2h0m17 0h0m12 5h0m6 1h0m36-1h0m19-5h0m36 1h0m17-1h0m16 1h0m12-1h0m6 6h0m2-1h0m5-3h0m19-2h0m53 1h0m18 4h0m15-2h0m11 0h0m-425 6h0m98 1h0m39 1h0m40-2h0m12-1h0m56 2h0m67 4h0m12-2h0m6 2h0m5-3h0m3-2h0m24 5h0m41-5h0m6 5h0m-382 4h0m82 2h0m47 1h0m34-3h0m71 4h0m23 1h0m3-6h0m5 6h0m9-3h0m22 1h0m3 2h0m6-6h0m6-1h0m1 6h0m19-4h0m11 1h0m68-1h0m-367 10h0m71-3h0m61 3h0m7-2h0m24 3h0m31 0h0m25-3h0m12 3h0m41-2h0m9 1h0m11-1h0m10 0h0m21 1h0m0 2h0m33-1h0m4-4h0m2 5h0m-425 3h0m0 0h0m6 0h0m3 0h0m121 2h0m110 0h0m26-3h0m1 5h0m10 0h0m36-1h0m3-2h0m56 5h0m18-1h0m11-6h0m6 1h0m-397 7h0m93 0h0m12 7h0m53 0h0m29-5h0m53 0h0m8 5h0m10-4h0m4 1h0m3 1h0m16-5h0m19 3h0m42 4h0m25-7h0m9 7h0m8-4h0m8-3h0m31 2h0m-422 7h0m7 3h0m30-4h0m134 7h0m22-4h0m15-1h0m43-2h0m7 5h0m8-1h0m4 1h0m41-2h0m4-1h0m9 5h0m7-4h0m13-1h0m3 4h0m58-1h0m18 1h0m-421 3h0m8 1h0m17-2h0m293 7h0m1-1h0m10-6h0m4 0h0m10 4h0m8-3h0m8 4h0m32-1h0m15-4h0m-267 14h0m42-2h0m16-3h0m37 3h0m25-1h0m43 4h0m4-2h0m12-4h0m65 4h0m5-1h0m25-4h0m-200 9h0m39-1h0m37 0h0m28 7h0m34-5h0m4-2h0m102 5h0m8 2h0m-196 7h0m5-1h0m71 1h0m4-1h0m9 2h0m34-4h0m14 2h0m44-1h0m-437 4h0m247 7h0m44-5h0m10 4h0m16-1h0m1 2h0m6-7h0m1 3h0m22 3h0m7-3h0m7 2h0m17-5h0m26 5h0m1-1h0m5-1h0m27 0h0m-165 12h0m52-1h0m17 0h0m34-4h0m7-2h0m49 0h0m2 2h0m31 3h0m-500 5h0m322 4h0m10-5h0m50 1h0m7 2h0m47-3h0m13 5h0m8-6h0m-193 14h0m14 0h0m33-6h0m16 4h0m13 2h0m31-4h0m16-2h0m4 2h0m25 3h0m8 1h0m58-3h0m5 0h0m-187 5h0m19 5h0m23-3h0m27 4h0m54-3h0m-110 5h0m6 0h0m38 5h0m16-4h0m4 3h0m10 0h0m2-1h0m44-2h0m-93 13h0m4-1h0m7-3h0m13 1h0m28 4h0m9-4h0m-51 12h0m6-5h0m2 2h0m1-4h0m20 6h0m11-6h0m24 3h0m5 1h0m59 0h0m-210 6h0m67-1h0m25 5h0m12 1h0m37-4h0m18 0h0m-137 9h0m24 0h0m41-2h0m6-2h0m20 0h0m24 4h0m38-3h0m42 5h0m-152 9h0m31 0h0m-89 3h0m93 0h0m9 3h0m12-4h0m7 2h0m37 1h0m50 3h0m-153 6h0m9-2h0m19-2h0m52 1h0m5 0h0m-46 8h0m15-2h0m32 0h0m47 6h0m-88 7h0m3-2h0m14-3h0m52 3h0m-88 7h0m16 2h0m3-3h0m10 5h0m38-4h0m-89 8h0m13 3h0m32-2h0m15 4h0m50-2h0m-150 6h0m37 2h0m44 2h0m4-3h0m51 2h0m-103 5h0m60-3h0m4 5h0m-6 3h0m10 2h0m24-2h0m-97 8h0m29 2h0m56-1h0m39 3h0m-90 9h0m6 1h0m-30 4h0m18 0h0m4 2h0m93-2h0m4 0h0m-149 13h0m135-5h0m39 9h0m-184 12h0m64-7h0m31 14h0m8-6h0m-44 29h0m31 13h0m80 18h0m-26 57h0m-97 6h0"/>
<path stroke="#e6e2cf" stroke-opacity="0.6" stroke-width="5.0" d="M933 397h0m-8 6h0m55 5h0m27 4h0m6 11h0m-87 8h0m-26 30h0m55 2h0m141-2h0m-247 10h0m18-7h0m207 5h0m-201 6h0m116 2h0m40-3h0m26 4h0m-251 7h0m110-1h0m79-1h0m61-1h0m42-2h0m48 7h0m-277 7h0m110-2h0m18-3h0m36 2h0m68 2h0m12-2h0m28-1h0m-230 8h0m124-1h0m11 3h0m8-2h0m19 5h0m30-3h0m1-4h0m-223 14h0m18-4h0m37-1h0m124 6h0m30-7h0m-204 14h0m23-5h0m82 1h0m55 0h0m29 4h0m26 0h0m-239 2h0m28 6h0m113-6h0m2 6h0m30-3h0m18-2h0m31 2h0m35 2h0m-268 9h0m53 1h0m13-6h0m25 2h0m6 1h0m35 1h0m4 0h0m18-4h0m9 2h0m3 1h0m32-2h0m69-2h0m-281 9h0m66 3h0m71-2h0m46 2h0m47 3h0m25-7h0m24 4h0m-280 5h0m76 3h0m8-2h0m44 3h0m43 1h0m5-1h0m37-2h0m26-1h0m71 0h0m1-1h0m-289 14h0m19-6h0m19 6h0m5-4h0m3 2h0m45 2h0m3-1h0m60-6h0m8 5h0m27 1h0m1 0h0m22-3h0m44 3h0m9 1h0m29-5h0m23 2h0m4 2h0m-358 9h0m18-7h0m0 1h0m2 4h0m20 0h0m58 1h0m23-1h0m18-3h0m0 1h0m58 1h0m6 0h0m17 1h0m12 0h0m20-2h0m33 3h0m11-4h0m-246 8h0m47 4h0m16-1h0m76-3h0m2 1h0m17 3h0m23 0h0m13-3h0m3-1h0m1 5h0m10-3h0m9 2h0m94 0h0m-309 8h0m26-5h0m0 6h0m30-4h0m17 2h0m3-4h0m11 3h0m3 1h0m9 0h0m3-2h0m7-3h0m11 6h0m6-3h0m7 4h0m4-5h0m17 4h0m22-1h0m4-2h0m12-1h0m7-2h0m13 5h0m4 1h0m21-3h0m3 4h0m2-1h0m32-1h0m49 0h0m9 0h0m-352 7h0m62 1h0m5-1h0m3 1h0m5 0h0m19-5h0m9 5h0m9-5h0m1 6h0m20 0h0m21-3h0m13 0h0m5 0h0m21-1h0m2-1h0m3 5h0m18-4h0m10 5h0m0-7h0m54 7h0m11-3h0m46 1h0m66-3h0m-405 8h0m23 0h0m19 1h0m10 4h0m7-1h0m3 0h0m3-2h0m27 3h0m3-1h0m4-2h0m11-4h0m29 2h0m5-2h0m3 5h0m13-5h0m6 0h0m1 6h0m28-5h0m4-1h0m28 0h0m9 1h0m4 4h0m7-1h0m1-3h0m16 1h0m1 5h0m0 0h0m51-2h0m6 2h0m1-3h0m-298 10h0m2-2h0m21 3h0m20 0h0m22-1h0m16-3h0m4 1h0m5 0h0m31 3h0m14-5h0m4 2h0m0 2h0m3-4h0m3 3h0m9 2h0m10 0h0m6-6h0m4 4h0m31 2h0m9-5h0m2-2h0m1 7h0m3-1h0m16-2h0m6 3h0m82-1h0m14 0h0m18 0h0m-384 5h0m28 1h0m7 3h0m9-1h0m11-5h0m40 5h0m7-4h0m3 5h0m2-1h0m0-5h0m4 0h0m1 2h0m10-1h0m4 1h0m13-1h0m2 1h0m19-1h0m4 3h0m4-4h0m5-1h0m7 3h0m14-2h0m11 1h0m2 5h0m16-4h0m1 0h0m1 2h0m5-1h0m17 0h0m9-4h0m5 7h0m4 0h0m7-5h0m2 1h0m19 0h0m9-3h0m18 0h0m79 4h0m-397 6h0m42 5h0m25-2h0m17-4h0m15 1h0m29 4h0m16-6h0m15 6h0m5-2h0m16 3h0m6-7h0m2 0h0m2 3h0m11-2h0m1 3h0m2-3h0m3 2h0m4 1h0m5-1h0m8 4h0m1-3h0m1 2h0m10 1h0m0-3h0m16-4h0m2 3h0m1 0h0m7-2h0m0 3h0m6-2h0m3 1h0m5 1h0m28-2h0m14 5h0m4-4h0m2 0h0m48-2h0m9-1h0m3 7h0m-424 1h0m66 3h0m30 2h0m0-3h0m19 2h0m18 3h0m6-1h0m5 1h0m21 0h0m3-4h0m2 3h0m8-2h0m2 1h0m1-2h0m1-3h0m3 6h0m16 0h0m8 0h0m5-6h0m0 3h0m7 1h0m4 2h0m1 0h0m2-2h0m2 2h0m1-1h0m21 1h0m28-6h0m14 2h0m2 3h0m1 2h0m4 0h0m28-6h0m19 3h0m37 2h0m15 1h0m4-3h0m7-1h0m62 0h0m-481 11h0m39-4h0m13 0h0m46 0h0m5 4h0m20 0h0m58-6h0m17 5h0m6-2h0m19-1h0m4-1h0m3 1h0m21 5h0m2-3h0m1 3h0m1-1h0m6-5h0m10 0h0m3 0h0m1-1h0m2 5h0m6 0h0m1 1h0m3-4h0m10 4h0m1-6h0m2 1h0m14 3h0m1 3h0m12-4h0m4 3h0m6 0h0m11 1h0m21-2h0m33 0h0m3-2h0m10-1h0m2 4h0m7-2h0m2-2h0m-312 11h0m17-4h0m21 4h0m21-3h0m26 0h0m0-1h0m0 4h0m1 2h0m0-5h0m3 1h0m6-2h0m0 4h0m13 2h0m6-2h0m3 0h0m8-2h0m4 0h0m3-2h0m17 6h0m22 0h0m6-1h0m12-4h0m9-2h0m0 0h0m9 5h0m7-3h0m3 1h0m25-2h0m11 5h0m9-6h0m6 3h0m1 3h0m19-1h0m5-1h0m6 2h0m35 0h0m20 1h0m-429 1h0m36 2h0m75 1h0m7 1h0m11 0h0m15-3h0m15-1h0m10 4h0m2 2h0m4 0h0m18-6h0m11 7h0m0-2h0m3-4h0m2 1h0m0 4h0m1-5h0m2 4h0m28-1h0m1-2h0m1 1h0m3 1h0m3-3h0m9 0h0m7-1h0m5 7h0m9-2h0m7-2h0m14-1h0m5-1h0m8-1h0m6 5h0m0 2h0m14-5h0m16-1h0m1 1h0m2 0h0m31 4h0m3-1h0m14 0h0m4-5h0m15 5h0m11-4h0m2 6h0m14-6h0m-426 8h0m29 1h0m25 1h0m45-2h0m17-1h0m21 4h0m9 2h0m2-3h0m6-3h0m2 7h0m1-1h0m3-2h0m3 0h0m10-2h0m12 4h0m4-6h0m3 7h0m12-1h0m11-1h0m5-3h0m14 1h0m2 0h0m9-2h0m7 6h0m10-4h0m4-2h0m9 5h0m2 1h0m12 0h0m1-4h0m0 3h0m25-6h0m4 6h0m48 1h0m3-2h0m10 2h0m2-7h0m10 3h0m22 2h0m6 2h0m25 0h0m-464 8h0m42-1h0m5 1h0m28-7h0m8 0h0m2 1h0m12 5h0m16-1h0m2-1h0m45-3h0m11-1h0m4 7h0m18 0h0m1-4h0m2-1h0m18-1h0m9 1h0m8 1h0m5-2h0m2 0h0m3 5h0m4 0h0m6-2h0m20 0h0m7-1h0m1 2h0m1-4h0m10 6h0m5-5h0m7 4h0m3-1h0m11-4h0m14 2h0m11-1h0m5 1h0m23 1h0m6 3h0m4-2h0m12-3h0m4 1h0m4 4h0m0-4h0m1-3h0m24 2h0m27 0h0m34 5h0m-511 3h0m161 0h0m2 4h0m17-6h0m27 6h0m17-1h0m43-5h0m6 0h0m6 0h0m14 7h0m9-4h0m4-2h0m1-1h0m3 7h0m1-7h0m3 6h0m6-4h0m6 4h0m3-3h0m5 2h0m3 1h0m15 1h0m9-1h0m4-6h0m1 5h0m3 2h0m9-7h0m17 6h0m4-1h0m37-5h0m1 3h0m8 0h0m-333 5h0m17 2h0m19 5h0m22-7h0m8 4h0m11 1h0m31-1h0m1-2h0m12 0h0m2 2h0m3-3h0m8 1h0m10 3h0m4 1h0m6-3h0m2-1h0m21 0h0m19 0h0m10 0h0m1 3h0m5-4h0m7 1h0m0 1h0m3-2h0m31 5h0m18-5h0m5 4h0m1-2h0m19 3h0m2-2h0m20 0h0m8-3h0m9 0h0m25 2h0m-391 7h0m11-2h0m47 3h0m46-1h0m36 4h0m24 1h0m9-1h0m5-5h0m29 3h0m8-2h0m19-1h0m2 0h0m14 3h0m0 0h0m1-1h0m2 1h0m5-2h0m9 0h0m5 5h0m0-7h0m27 6h0m3-1h0m8-4h0m0 5h0m16-4h0m1-2h0m2 6h0m7 0h0m3-6h0m14 6h0m1-1h0m6 2h0m28-6h0m-418 14h0m21-4h0m56 1h0m14-2h0m45 0h0m37-2h0m0 1h0m20 2h0m11 4h0m15 0h0m30-2h0m10-2h0m1 1h0m6-3h0m12 1h0m3 2h0m5-3h0m1 5h0m10-3h0m4 2h0m5-3h0m4 3h0m15-3h0m3-1h0m1 6h0m2-6h0m4 5h0m7-2h0m24-3h0m0 1h0m3 0h0m7-2h0m7 1h0m31 4h0m-302 4h0m8 5h0m8 1h0m3-4h0m30 3h0m11-4h0m2 0h0m14 2h0m50-4h0m22 0h0m5 7h0m2-3h0m11-1h0m50 2h0m8 2h0m16 0h0m10-7h0m0 5h0m11-3h0m6-2h0m13 3h0m0 2h0m10-1h0m-436 6h0m144-2h0m77 6h0m12-4h0m21 4h0m20-3h0m37 3h0m5-4h0m14 3h0m22-4h0m18 6h0m0-2h0m4-3h0m3-1h0m23 1h0m4 2h0m20 2h0m0-2h0m15 2h0m6-1h0m-377 5h0m16 0h0m40-1h0m141 2h0m7 4h0m11-7h0m50 1h0m17-1h0m21 7h0m12-5h0m6-2h0m32 1h0m19 5h0m4 0h0m7-6h0m4 1h0m5 3h0m-303 9h0m20 2h0m93 0h0m16-3h0m25 3h0m12-6h0m10 3h0m5-2h0m5-2h0m2 0h0m0 4h0m1 3h0m4-5h0m10 5h0m3-7h0m28 7h0m3 0h0m3 0h0m1 0h0m42-4h0m4-1h0m38 5h0m-346 6h0m42-2h0m61 4h0m23-1h0m27-4h0m16 3h0m12-1h0m16-1h0m6 3h0m8-6h0m2 4h0m17 1h0m6-5h0m8 5h0m4-5h0m18 4h0m3-1h0m0 2h0m3 2h0m52-6h0m-330 10h0m53 3h0m111-4h0m36-2h0m15 5h0m12 1h0m11-3h0m7 0h0m8 3h0m3 1h0m8-3h0m0-3h0m58 3h0m-354 7h0m220-3h0m2 4h0m43 1h0m2-3h0m39 2h0m3-1h0m2-2h0m14 0h0m46 6h0m5-6h0m-140 11h0m27-3h0m19 2h0m2 2h0m76-5h0m9 4h0m-348 7h0m161 1h0m21 1h0m7-4h0m6 4h0m26-5h0m19 6h0m29-1h0m38 0h0m3 1h0m42-2h0m-188 9h0m13-1h0m41 0h0m2 2h0m29-4h0m0 3h0m15-2h0m9-1h0m-134 12h0m1-5h0m24 3h0m9-4h0m47 4h0m1-3h0m9 3h0m34-4h0m13 0h0m-119 13h0m21 1h0m14-3h0m14-1h0m3-2h0m1 5h0m3-3h0m5 1h0m0 0h0m14 1h0m22 0h0m14 3h0m17-1h0m15 0h0m-95 6h0m16 1h0m9-4h0m4 4h0m3 0h0m2-3h0m20-2h0m74 1h0m-107 14h0m39-2h0m1 0h0m4-5h0m2 2h0m8-2h0m47 2h0m-172 7h0m17 4h0m5-5h0m37 4h0m54-1h0m25-2h0m-119 7h0m29 6h0m40-2h0m12-1h0m34-3h0m6 5h0m10-5h0m15 7h0m1-1h0m17 1h0m7-3h0m-159 6h0m24 0h0m15 3h0m44 0h0m1 2h0m2-1h0m27-2h0m7 3h0m-110 7h0m20-5h0m8-1h0m25 7h0m11-7h0m12 3h0m8-3h0m21 3h0m21-3h0m-154 14h0m32 1h0m21-3h0m35 3h0m24-5h0m29 1h0m-163 12h0m60 0h0m38-1h0m28-6h0m29 3h0m-89 12h0m25-2h0m16 0h0m2-2h0m14 1h0m29 1h0m16-3h0m-87 11h0m5-3h0m16 5h0m6-1h0m5-4h0m3 5h0m53 0h0m28-5h0m-131 12h0m24-2h0m19-2h0m-50 12h0m42-6h0m26 6h0m14 0h0m-101 7h0m31-4h0m1 0h0m22 6h0m45-7h0m-99 8h0m34 0h0m69 0h0m-131 11h0m90-3h0m64 4h0m-99 5h0m10-1h0m2 0h0m33 5h0m3-2h0m-112 9h0m34 0h0m81 3h0m-50 2h0m2 7h0m41 2h0m-74 9h0m12 1h0m5 1h0m8 1h0m68 0h0m-60 3h0m48 6h0m16 1h0m11 0h0m-54 12h0m18 0h0m16 13h0m-81 7h0m41 3h0m15 1h0m6-1h0m8 43h0"/>
<path stroke="#fbbd9c" stroke-opacity="0.55" stroke-width="5.2" d="M992 546h0m-130 7h0m149 1h0m24 1h0m15-2h0m10 4h0m169 0h0m-371 9h0m85-1h0m34 0h0m55-5h0m-65 14h0m1 1h0m8-4h0m13 4h0m24-3h0m6 0h0m9 0h0m1 1h0m41-1h0m27-3h0m-223 8h0m12 0h0m54 3h0m20-4h0m0 7h0m4-6h0m5-1h0m3 1h0m6-1h0m11 0h0m11 6h0m0-5h0m15 6h0m16 0h0m12-1h0m7 1h0m9-4h0m16 1h0m0 3h0m-165 4h0m17 3h0m4 0h0m6-6h0m14 7h0m2-4h0m2 0h0m24 2h0m5-2h0m16 4h0m25-2h0m2 1h0m19-3h0m24 2h0m4 0h0m23-2h0m7-1h0m16 5h0m29-4h0m-303 5h0m17 7h0m15-5h0m7-1h0m8 2h0m8-1h0m5-1h0m27-1h0m12 4h0m4-4h0m9 6h0m9-5h0m31 2h0m1 2h0m29-2h0m3 4h0m27-7h0m17 0h0m6 2h0m11 3h0m8-4h0m-253 8h0m81 5h0m0 1h0m6-3h0m7-3h0m3 3h0m32 1h0m6 0h0m6 0h0m4-3h0m2 4h0m23-1h0m5 1h0m9 1h0m12-2h0m2 0h0m10-5h0m4 2h0m1 3h0m1 0h0m11-2h0m26 1h0m18 2h0m6-2h0m10-4h0m7 5h0m61 1h0m50-6h0m-310 15h0m16-6h0m13 3h0m9-1h0m1-2h0m2 6h0m2-7h0m6 3h0m0-2h0m2 0h0m4 4h0m0 0h0m1-5h0m6 1h0m0 1h0m3 2h0m5-2h0m3-1h0m11 1h0m4 1h0m34 0h0m22 0h0m3 2h0m7-3h0m4 5h0m9-2h0m16-1h0m2 3h0m54-3h0m44-3h0m-334 9h0m6 2h0m3 1h0m4 0h0m8-5h0m1 1h0m8-1h0m27 1h0m28 1h0m0 5h0m34-5h0m19-2h0m4 3h0m4 3h0m13-2h0m2 2h0m6-1h0m3 1h0m13-1h0m14-4h0m23 5h0m1 0h0m5-4h0m5 1h0m29 0h0m-283 6h0m62 4h0m3 2h0m0-3h0m15 2h0m23 1h0m0-7h0m35 2h0m6 2h0m6 2h0m3-4h0m29 1h0m8 1h0m0-2h0m6 2h0m34 2h0m16-6h0m14 2h0m7 4h0m63 0h0m5-4h0m60 1h0m-328 8h0m18-3h0m0 2h0m7-2h0m9 6h0m1-1h0m13-5h0m1 7h0m14-6h0m10 4h0m15 2h0m28-3h0m2-3h0m6 4h0m17-3h0m2-2h0m5 0h0m9 2h0m22 0h0m2 4h0m4-6h0m9 0h0m7 3h0m9 1h0m9 1h0m11 0h0m15 0h0m17-5h0m-264 14h0m1 0h0m12-2h0m47-2h0m6 3h0m22-2h0m10 1h0m6-1h0m2 4h0m2-6h0m11 6h0m7-7h0m35 6h0m14 1h0m27 0h0m4-6h0m7 1h0m3 1h0m18 4h0m19-4h0m5 3h0m26 0h0m4 1h0m7-3h0m30-4h0m27 5h0m-332 8h0m7-4h0m10 1h0m20 5h0m3-7h0m10 3h0m34 1h0m1 0h0m1 3h0m2-1h0m2-2h0m0 1h0m4 0h0m2 1h0m8-3h0m5-1h0m30 3h0m12-4h0m5 4h0m16-4h0m6 0h0m2 6h0m6-2h0m29-1h0m3-2h0m15-1h0m25-1h0m2 0h0m-239 8h0m16 6h0m17-1h0m3-5h0m4 2h0m9 4h0m5-6h0m4 2h0m8 0h0m30 4h0m1 1h0m11-6h0m7 0h0m1 4h0m0 2h0m3-5h0m7 1h0m29-2h0m12 6h0m5-6h0m12 1h0m3-1h0m7 3h0m14-1h0m3 0h0m1 0h0m2 3h0m6-6h0m19 5h0m-298 4h0m60 1h0m45 5h0m4-5h0m6-1h0m8 5h0m16 1h0m11-5h0m9 5h0m36-4h0m3 2h0m5-4h0m2 0h0m12 0h0m39 3h0m13-4h0m0 2h0m20-1h0m9 5h0m3-4h0m5 3h0m3-2h0m18-1h0m48 3h0m1 1h0m19-2h0m-380 5h0m78 1h0m4 0h0m22-2h0m2 4h0m19 0h0m3-3h0m1 0h0m9-1h0m33 0h0m1 6h0m7-6h0m7 3h0m11-2h0m6-1h0m0 2h0m2 2h0m19-2h0m19 5h0m5-5h0m3 3h0m37 0h0m48 1h0m6-3h0m-280 9h0m12 0h0m16-1h0m0 3h0m27 0h0m8-5h0m1 4h0m8-4h0m0 3h0m25 2h0m12 0h0m10-5h0m15 6h0m3-3h0m5 1h0m26-3h0m5 4h0m8-3h0m3 1h0m28-4h0m21 0h0m9 2h0m23-2h0m19 7h0m-353 7h0m39-5h0m54 2h0m15 3h0m13-6h0m7 2h0m7 5h0m18-1h0m14-3h0m5-1h0m27 1h0m13-2h0m17 1h0m0 0h0m1 2h0m12-3h0m9 5h0m1-2h0m24 3h0m1-2h0m23 1h0m4 0h0m6-1h0m5-3h0m4 1h0m4 2h0m12-4h0m35 2h0m-337 11h0m58-3h0m2 1h0m18-3h0m45 6h0m6-3h0m2-2h0m25 2h0m9 2h0m40 1h0m8-6h0m8 4h0m17 1h0m43-4h0m20-1h0m18 4h0m-228 6h0m9 3h0m20-4h0m17-2h0m6 7h0m20-2h0m5 1h0m13-3h0m9 2h0m13-4h0m17 6h0m6 0h0m8-6h0m1 5h0m4-5h0m2 0h0m1 1h0m19 1h0m4-3h0m13 5h0m100-5h0m-389 9h0m73 2h0m6-2h0m26 0h0m8 3h0m3 2h0m44-1h0m44-5h0m18 2h0m2 4h0m6-3h0m4-3h0m3 1h0m10 0h0m11 4h0m21-3h0m2-1h0m21 4h0m-387 8h0m168 1h0m47-5h0m4 4h0m4-1h0m93 2h0m16-2h0m4 2h0m14 0h0m28-1h0m20-1h0m11-4h0m-340 13h0m48 0h0m94-3h0m43-1h0m30 1h0m34 5h0m11-1h0m0-4h0m18 1h0m2-1h0m6 4h0m4 1h0m3-4h0m46 2h0m-373 9h0m86-5h0m149-1h0m20 0h0m31 5h0m20 2h0m6-5h0m11 1h0m4-2h0m19 6h0m1-7h0m20 3h0m-370 10h0m230 2h0m21-1h0m34-1h0m18 1h0m28-1h0m13-4h0m-126 9h0m48 1h0m1 1h0m2 2h0m11-2h0m21-2h0m19-2h0m6 6h0m14 0h0m29 1h0m15 0h0m-123 5h0m7-1h0m2-1h0m3 0h0m45 1h0m15 3h0m10-3h0m8-2h0m13-1h0m32 2h0m-197 10h0m25 1h0m14-5h0m27 3h0m48-3h0m11 1h0m40 4h0m-132 4h0m36 0h0m14 4h0m11-1h0m40 2h0m17-6h0m36 5h0m-110 5h0m4 1h0m35 2h0m10 0h0m0-3h0m13 1h0m22 1h0m32 1h0m-152 7h0m7-3h0m41 5h0m14-4h0m6 4h0m28-2h0m37 2h0m-139 2h0m4 3h0m72-3h0m26 2h0m-123 11h0m83 1h0m16-2h0m9 2h0m11-3h0m0-3h0m-94 14h0m11-6h0m13 0h0m26 0h0m4 2h0m13 2h0m-94 5h0m20 5h0m1-2h0m39 2h0m6-4h0m12 1h0m10-1h0m8 4h0m7-2h0m19 0h0m9-3h0m15 1h0m-163 8h0m45 2h0m46 2h0m34-5h0m10 3h0m15 0h0m16-3h0m11 4h0m20-1h0m28 3h0m-199 8h0m21-7h0m36 6h0m2-5h0m12 6h0m6-4h0m6-2h0m12 5h0m3 1h0m4-3h0m6 1h0m7 1h0m9-2h0m64-1h0m-161 9h0m39 2h0m33-2h0m49-4h0m29 1h0m-187 10h0m34 2h0m13 2h0m16-3h0m5 2h0m14-1h0m9 2h0m33-7h0m4 3h0m6-3h0m3 7h0m3-1h0m-97 7h0m29 0h0m16 2h0m11-7h0m12 6h0m17-1h0m14 1h0m2-1h0m60-2h0m-160 12h0m14-4h0m6-3h0m17 4h0m19 2h0m21-3h0m2-3h0m12 6h0m3-1h0m-68 5h0m15 4h0m7-4h0m8-2h0m39 0h0m8 0h0m-95 11h0m23 3h0m10-5h0m2 1h0m8 3h0m17-1h0m1 3h0m54-2h0m20-2h0m-178 7h0m19 3h0m12 1h0m13-1h0m7 0h0m56 2h0m8-5h0m11 1h0m7-3h0m11 4h0m10-4h0m-82 14h0m34-6h0m-26 13h0m56 2h0m28-7h0m-115 10h0m87-2h0m-125 13h0m91-1h0m9-1h0m40 4h0m26-6h0m-150 14h0m35-2h0m8 0h0m16 0h0m4-2h0m25-2h0m-79 8h0m35-1h0m12 6h0m17 1h0m10 0h0m28 0h0m-74 5h0m2-4h0m70 1h0m-120 13h0m76-5h0m-103 10h0m65 2h0m110 2h0m-114 4h0m28-3h0m13 4h0m4-3h0m35 5h0m-58 8h0m49-5h0m-51 14h0m22 0h0m-126 7h0m78-3h0m94 10h0m-113 15h0m30 1h0m-71 6h0m75 9h0"/>
<path stroke="#fa8a68" stroke-opacity="0.5" stroke-width="5.4" d="M932 543h0m-1 5h0m67 2h0m9-2h0m-62 12h0m-11 9h0m43 3h0m38-3h0m2 3h0m-170 5h0m57 5h0m76 1h0m75-2h0m-181 10h0m63-6h0m6-1h0m66 7h0m-198 8h0m55-3h0m41-1h0m56 3h0m13-4h0m4 2h0m22-1h0m29 0h0m47 4h0m-238 7h0m4 0h0m66-3h0m18 1h0m62-2h0m43 0h0m25-2h0m43 4h0m4-4h0m45 5h0m-283 9h0m49-6h0m19 2h0m32 2h0m1-3h0m10 3h0m6-4h0m25 6h0m16 0h0m21-2h0m8 2h0m-134 3h0m11 6h0m25-2h0m26-2h0m14-3h0m34 0h0m3 5h0m4-1h0m28 2h0m11-3h0m-64 5h0m10 0h0m2 3h0m24-1h0m16-1h0m3 6h0m4-6h0m-197 9h0m56-1h0m21 5h0m67-3h0m22 0h0m25 0h0m3 4h0m9-5h0m11 1h0m40 4h0m23-2h0m-256 6h0m71-2h0m27 3h0m0 2h0m6-5h0m10 0h0m23 5h0m43-6h0m10 0h0m4 2h0m12-1h0m135 1h0m-391 6h0m78 0h0m20 7h0m5-4h0m24-2h0m20 6h0m25-5h0m4 5h0m10 0h0m13-2h0m5 0h0m15-1h0m26-2h0m22 5h0m50 0h0m19-2h0m80-2h0m-238 6h0m9-1h0m5 1h0m3 5h0m2-3h0m11 4h0m5-3h0m4-3h0m2 1h0m16-1h0m3-1h0m36 6h0m3-6h0m14 1h0m20-1h0m6 6h0m-284 7h0m51 1h0m13-5h0m27 3h0m2-2h0m1 5h0m33-7h0m16 1h0m25 6h0m59-2h0m3 0h0m12 2h0m3 0h0m6-5h0m29 4h0m3-2h0m32 3h0m36-2h0m51-1h0m-392 10h0m6 0h0m73-6h0m5 1h0m14-1h0m13 6h0m25-1h0m3-3h0m2 2h0m25-1h0m12 0h0m28-2h0m18 5h0m2 0h0m8-5h0m74-1h0m19 6h0m31-3h0m-388 9h0m120 1h0m34 0h0m10-2h0m5 1h0m4 1h0m32 1h0m19-5h0m2 0h0m23 6h0m9-4h0m74 3h0m-295 4h0m17-1h0m23 3h0m71 2h0m10-5h0m16 5h0m0-1h0m12-5h0m5 6h0m1-6h0m23 5h0m17 2h0m2-4h0m23 4h0m7-1h0m2-5h0m9 5h0m36-2h0m7 0h0m29-4h0m-320 15h0m28-3h0m50 1h0m4-5h0m43 3h0m2 2h0m10-3h0m11 3h0m3-3h0m9 5h0m1-3h0m5 0h0m1-4h0m1 4h0m9-1h0m4-1h0m2 5h0m15-4h0m17-3h0m5 1h0m15-1h0m10 7h0m23-2h0m2 2h0m5-7h0m23 2h0m18-2h0m47 4h0m25-2h0m-385 9h0m59-2h0m21 3h0m39-3h0m11 1h0m7-2h0m11 5h0m2 2h0m10 0h0m4-5h0m24 3h0m52 2h0m10-4h0m5 2h0m4-4h0m4-1h0m6 3h0m9-2h0m17 2h0m13 4h0m10-4h0m-301 7h0m97 1h0m0 0h0m15-1h0m2 4h0m26 0h0m3-3h0m5-1h0m4 0h0m31-1h0m1 1h0m4 5h0m3-3h0m6-2h0m2 5h0m5-5h0m2 4h0m29-6h0m21 1h0m42-1h0m5 5h0m-252 6h0m22 4h0m12-2h0m8-1h0m33-4h0m11 6h0m0-2h0m22 3h0m3-3h0m25 0h0m8 1h0m2-4h0m30-1h0m54 2h0m7 5h0m23-6h0m-338 8h0m9 0h0m11 6h0m13 0h0m39 0h0m20 0h0m4 0h0m3-4h0m2-1h0m16-2h0m7 7h0m33-2h0m2-2h0m7 4h0m2-5h0m6-1h0m12 2h0m14-1h0m2 1h0m19 4h0m15-5h0m12 1h0m0-3h0m25 7h0m43-7h0m-240 14h0m15-3h0m54 4h0m5-4h0m3-1h0m9 1h0m1 3h0m6-6h0m18 4h0m18-3h0m3 1h0m4 4h0m16-4h0m9 2h0m16-4h0m32 0h0m16 4h0m26 3h0m-293 5h0m9-2h0m7 5h0m63-1h0m29-5h0m6 4h0m20-4h0m3 4h0m8-2h0m2 0h0m35 2h0m16-1h0m2 2h0m11-4h0m90 5h0m-225 7h0m3-3h0m2 2h0m2 0h0m8-4h0m10 3h0m9 1h0m27-3h0m3 5h0m3-7h0m19 3h0m3-2h0m1 5h0m6 0h0m16-1h0m39-3h0m3-2h0m3 4h0m5-4h0m12 6h0m5-1h0m4-4h0m12-1h0m19 0h0m27 7h0m-325 6h0m69-1h0m4 0h0m22-2h0m12 5h0m49-3h0m3-1h0m19 1h0m3-3h0m12 3h0m42 0h0m15-2h0m7 3h0m9-4h0m43 4h0m-289 4h0m48 0h0m17 6h0m1-7h0m16 3h0m29-2h0m4 6h0m19-4h0m0-2h0m9 4h0m0-3h0m12 4h0m16-4h0m10-2h0m10 4h0m2-4h0m41 2h0m21 0h0m25-2h0m10 0h0m50 1h0m-408 13h0m37 0h0m48 1h0m38-6h0m28 5h0m4-3h0m6 3h0m27-5h0m9 1h0m7 5h0m6-4h0m17-3h0m28 2h0m6 2h0m6 0h0m23-3h0m96 4h0m-303 9h0m9-3h0m34-2h0m17 0h0m3 1h0m14 4h0m10-3h0m5-1h0m14 2h0m10 2h0m54-3h0m1 4h0m9-6h0m10 5h0m55-1h0m8 0h0m-267 8h0m46-1h0m11 0h0m31 0h0m12 2h0m32-2h0m8-4h0m5 7h0m3-4h0m83 3h0m22-6h0m-232 13h0m34 0h0m1-3h0m14 2h0m10-2h0m12 4h0m7 1h0m20-4h0m1-2h0m4 5h0m13 0h0m5-2h0m13-2h0m19 5h0m5-6h0m7 5h0m13-3h0m6-2h0m8 3h0m4 3h0m24-7h0m105 1h0m-394 11h0m15-3h0m24 4h0m3-5h0m40 0h0m15 0h0m8 1h0m5 0h0m17 5h0m9-5h0m16 2h0m31-2h0m14 2h0m8 3h0m4-3h0m4 0h0m3-2h0m48 5h0m14-2h0m17-3h0m26 5h0m-232 7h0m38 0h0m16 2h0m2-2h0m11-4h0m0 6h0m8-7h0m2 1h0m15 0h0m5 2h0m37-1h0m15 5h0m4-2h0m27-1h0m45-3h0m-203 8h0m1 3h0m19 1h0m13-5h0m12 7h0m5 0h0m20-7h0m7 1h0m1 3h0m2-3h0m4 5h0m42-4h0m23-1h0m1-1h0m20 2h0m3 1h0m-255 12h0m44-1h0m8-1h0m5-2h0m17-1h0m12 3h0m29-2h0m8 0h0m10 1h0m1-1h0m4 0h0m2 3h0m15 1h0m21-2h0m60-5h0m-247 9h0m26 6h0m17 0h0m41-1h0m16-2h0m1 1h0m7 1h0m6-1h0m9 1h0m12 0h0m19-4h0m4 3h0m4 0h0m12-4h0m3-1h0m13 5h0m3-5h0m26 5h0m1 0h0m150-3h0m-420 12h0m52-6h0m18 1h0m52-1h0m8 2h0m57 0h0m7 2h0m7-3h0m1 1h0m0-1h0m17 4h0m45-4h0m0-1h0m24 7h0m6-7h0m79 2h0m6 4h0m1 0h0m-276 5h0m40-1h0m64 0h0m19 4h0m13 0h0m8-4h0m1-2h0m28 7h0m17-5h0m1 1h0m20-1h0m16 2h0m-245 10h0m17-6h0m3 3h0m44-2h0m29 0h0m25-1h0m1 4h0m10-3h0m18-1h0m20 2h0m6-2h0m32 5h0m10-1h0m1-4h0m30 3h0m25 2h0m31-5h0m-291 12h0m12-1h0m33 3h0m6-3h0m35 4h0m17-7h0m7 0h0m7 2h0m4 0h0m1 3h0m22 2h0m26-5h0m42 5h0m5-3h0m8 0h0m-252 8h0m23 3h0m14-7h0m15 0h0m43 6h0m78 0h0m32 1h0m4-7h0m91 6h0m19-1h0m-318 3h0m1 3h0m55-3h0m20 1h0m1 2h0m83-3h0m20 3h0m24-2h0m22 5h0m19-2h0m49-2h0m12-2h0m-306 9h0m26 1h0m21 5h0m30-4h0m25-3h0m6 1h0m18 3h0m8 1h0m77 0h0m12 0h0m7 0h0m-187 7h0m5-3h0m17 0h0m8 4h0m16 2h0m2-4h0m7 0h0m9-1h0m10-2h0m9 2h0m35-2h0m6 2h0m6 3h0m6 1h0m12 1h0m34-7h0m34 3h0m63 4h0m-288 6h0m5 2h0m22-6h0m10 4h0m4-4h0m0 3h0m10-4h0m14 7h0m32-1h0m6-3h0m23-2h0m163 2h0m-359 6h0m36 3h0m14-2h0m46 1h0m25 2h0m7 2h0m18-6h0m3 3h0m11-1h0m62 2h0m49-5h0m31 6h0m-228 9h0m3-5h0m15 5h0m25-7h0m6 3h0m48 1h0m1 1h0m8-4h0m10 0h0m68 6h0m25 0h0m56-5h0m-238 13h0m6 0h0m121-7h0m-119 11h0m17-3h0m14 6h0m77-1h0m3-1h0m1 3h0m8-2h0m43-5h0m5 1h0m44 5h0m9-5h0m-249 7h0m40 5h0m1 1h0m17-2h0m202-2h0m-188 6h0m20 5h0m25 2h0m3-1h0m-197 6h0m75 3h0m71-4h0m5-2h0m18 3h0m20 3h0m7-5h0m20 2h0m124-2h0m-359 11h0m244-1h0m10 0h0m0-4h0m47 5h0m-247 5h0m34 5h0m2-4h0m98-1h0m82 4h0m28 0h0m-227 7h0m61-5h0m88 6h0m1-5h0m148 0h0m-206 8h0m27 2h0m34-3h0m7 6h0m4 0h0m25-2h0m-129 9h0m57-1h0m17-4h0m29 4h0m26-3h0m51 5h0m-187 8h0m56 0h0m209 1h0m-305 7h0m214 6h0m-116 9h0m127 6h0m32 28h0m-128 3h0m5 4h0m57-2h0m54-3h0m-140 11h0"/>
<path stroke="#f54b27" stroke-opacity="0.45" stroke-width="5.4" d="M799 615h0m210 0h0m28 7h0m5-2h0m21-4h0m10 7h0m-46 8h0m12-1h0m21-4h0m-100 9h0m0-2h0m4 5h0m24-1h0m27-4h0m6 2h0m94 1h0m-137 11h0m51-6h0m1 0h0m12 4h0m46-2h0m4 0h0m11-3h0m1 4h0m3-1h0m99 1h0m-263 10h0m25-2h0m4-2h0m1 3h0m39-3h0m10 1h0m7 4h0m14-2h0m18-1h0m8 0h0m33 1h0m10-4h0m41 6h0m-224 1h0m11 6h0m42 1h0m14-7h0m27 4h0m23-2h0m30 0h0m26 0h0m5 3h0m1 0h0m22 2h0m6-7h0m38 0h0m22 6h0m-297 3h0m82 5h0m5-4h0m5-1h0m8 6h0m8-5h0m6 1h0m9-2h0m3 5h0m6-2h0m1-4h0m8 1h0m13 0h0m16 5h0m1-1h0m2-3h0m9-1h0m12 3h0m4 0h0m3-1h0m11-2h0m2-1h0m23 7h0m10-5h0m11 4h0m3-3h0m48 3h0m-293 9h0m9-7h0m7 1h0m7 5h0m6-3h0m12 2h0m17-1h0m1-2h0m8 3h0m6-3h0m1 1h0m5 1h0m2-2h0m1-1h0m7 0h0m3 6h0m6-3h0m15-2h0m8 5h0m34-4h0m23-1h0m4 1h0m1 2h0m1-2h0m1 0h0m11 4h0m2-1h0m0-4h0m14 4h0m12-2h0m4-4h0m19 0h0m6 6h0m-288 7h0m17-1h0m34-2h0m6 5h0m5-7h0m8 4h0m8-2h0m3 5h0m1-1h0m5 0h0m9-3h0m3 2h0m2-5h0m1 3h0m5 4h0m6-5h0m14-2h0m10 0h0m1 7h0m3 0h0m8 0h0m5-7h0m4 7h0m2-6h0m5 6h0m2-1h0m9 1h0m1-6h0m9 0h0m3 0h0m11 0h0m7 5h0m0-3h0m4 1h0m8 0h0m8-3h0m3 6h0m6-2h0m16-3h0m40-2h0m20 4h0m58 0h0m-340 8h0m51-3h0m0-1h0m5 7h0m16 0h0m4-6h0m8 1h0m11 3h0m2 1h0m4-2h0m15-2h0m0 5h0m7-7h0m7 5h0m1-3h0m1 4h0m2-1h0m2 1h0m2-2h0m1-2h0m1 3h0m2 1h0m16 0h0m3 1h0m18 0h0m9-3h0m6 3h0m5-3h0m8 1h0m4-4h0m11 3h0m0 3h0m4-1h0m5-2h0m7 0h0m10-2h0m5 1h0m2-3h0m0 7h0m9-4h0m-294 7h0m3 0h0m14-2h0m7 7h0m21-2h0m4 2h0m5-5h0m2 4h0m4-4h0m12 5h0m11-1h0m9-4h0m13 2h0m1 2h0m0-1h0m5 0h0m9-2h0m6-2h0m2 4h0m6 2h0m1-1h0m2 1h0m8 0h0m6-5h0m3-1h0m5 4h0m2 2h0m2-7h0m12 1h0m9 6h0m9-6h0m4 2h0m1 3h0m0-1h0m17 1h0m4 0h0m1-6h0m8 4h0m7-1h0m9 1h0m1 1h0m2-2h0m4 2h0m22-5h0m9 2h0m1-1h0m9 1h0m2-1h0m9 2h0m10 1h0m-306 8h0m1 1h0m27-2h0m15 0h0m2 2h0m16 1h0m11-5h0m3 1h0m4 2h0m4-4h0m2 6h0m1 1h0m2 0h0m0-4h0m4 1h0m12-2h0m5 5h0m9 0h0m2-4h0m8-1h0m1-1h0m10-1h0m8 3h0m8-2h0m8 5h0m4 1h0m1-2h0m2-1h0m22-2h0m8 3h0m3 0h0m10-3h0m0 5h0m1-3h0m9 2h0m2-4h0m1-2h0m9 2h0m0-1h0m11-1h0m3 1h0m8 6h0m7 0h0m15-7h0m14 6h0m94-5h0m-408 9h0m32 2h0m26-4h0m4 0h0m10 7h0m20-3h0m7 0h0m7-1h0m0-2h0m2-1h0m7 5h0m4-5h0m16 4h0m0 3h0m1-4h0m0 0h0m6 0h0m0 2h0m2-5h0m6 3h0m2-2h0m1 1h0m6 1h0m2 3h0m8 0h0m0-2h0m8-1h0m4-1h0m9 4h0m4-2h0m1-2h0m1 5h0m0-2h0m2-3h0m10-1h0m2 4h0m5-2h0m5-2h0m2 5h0m1-5h0m0-1h0m9 6h0m10-1h0m4-3h0m21-2h0m5 7h0m9-1h0m2 0h0m5-6h0m4 0h0m10 6h0m2 0h0m2-6h0m1 1h0m1 4h0m1-1h0m15 0h0m2-4h0m4 6h0m42-1h0m25 2h0m-408 1h0m15 5h0m3 0h0m28-4h0m6 6h0m20-5h0m5 3h0m6 0h0m4 2h0m1-1h0m3-4h0m1-2h0m7 1h0m1 1h0m10 1h0m4-3h0m12 6h0m10-6h0m4 3h0m5 0h0m1-3h0m0 7h0m1-3h0m0 0h0m2-4h0m2 3h0m6 3h0m2-6h0m1 7h0m0-7h0m12 3h0m2-3h0m5 0h0m11 3h0m2 0h0m1 1h0m9-2h0m2 2h0m3 2h0m1-1h0m3-3h0m4-1h0m0 6h0m6-1h0m2-2h0m1 2h0m3-3h0m3 3h0m1-4h0m5-1h0m6-1h0m3 7h0m7 0h0m1 0h0m1-3h0m8 2h0m0-5h0m11-1h0m0 5h0m5-5h0m1 2h0m1 4h0m1-4h0m1 5h0m3-2h0m15 0h0m6-2h0m12-2h0m1 0h0m3 1h0m8 3h0m2-1h0m3 1h0m12 1h0m28-4h0m20 4h0m-378 6h0m20-3h0m19 3h0m2-4h0m23 7h0m13-2h0m2 0h0m6-4h0m1 1h0m6 3h0m2 0h0m3 2h0m2-1h0m0 0h0m7-1h0m5-3h0m0 4h0m1 1h0m2-3h0m5 2h0m3-2h0m1 2h0m2-3h0m1 3h0m3-2h0m0 3h0m1-3h0m2 0h0m6 2h0m2 1h0m1-6h0m3-1h0m4 4h0m4-1h0m3 3h0m6-3h0m5 3h0m1 0h0m1-1h0m1 0h0m1-5h0m4 2h0m1 0h0m3 3h0m1 2h0m0-1h0m1-5h0m2 3h0m1 1h0m4-2h0m0-3h0m1 0h0m6 7h0m2-2h0m0-3h0m0-1h0m2 1h0m0 5h0m4-4h0m2-2h0m7 4h0m2 1h0m1-6h0m7 7h0m17 0h0m1-2h0m4-1h0m1-1h0m1 3h0m9 1h0m3-5h0m1 4h0m4-6h0m6 0h0m12 1h0m4 2h0m5 2h0m10 0h0m41-2h0m-344 10h0m22-1h0m11 2h0m12-5h0m0 5h0m12-2h0m12 0h0m5 3h0m6-2h0m15 0h0m10-3h0m6 3h0m8-4h0m1 3h0m2 1h0m2 1h0m2-1h0m1 2h0m2-5h0m5 0h0m2-2h0m3 0h0m1 6h0m4 1h0m2 0h0m2-6h0m0 1h0m0 3h0m2 2h0m0-2h0m0 0h0m2-1h0m0-1h0m1 3h0m1-4h0m6 0h0m2 2h0m9-3h0m4 4h0m2 2h0m2-3h0m0-3h0m6-1h0m2 0h0m2 7h0m3-7h0m1 5h0m2-2h0m3 2h0m2-1h0m4 1h0m0-2h0m0 1h0m0 0h0m2 1h0m5-5h0m1 7h0m0-7h0m1 0h0m0 5h0m1-4h0m1 0h0m2 2h0m5 3h0m8-6h0m5 1h0m3 5h0m1-6h0m8 2h0m1 0h0m4 2h0m3 0h0m2-4h0m1 4h0m2-4h0m9 4h0m14-2h0m22-2h0m2 2h0m25 4h0m13-5h0m-348 13h0m16-4h0m4-1h0m1 5h0m4 0h0m10 1h0m13 0h0m1-1h0m7 0h0m5-5h0m1 4h0m0-3h0m2 1h0m2-2h0m4 3h0m1-2h0m10 1h0m3 0h0m4-2h0m2 6h0m4-1h0m0 0h0m4-6h0m3 6h0m12-1h0m4-5h0m1 2h0m1-2h0m3 4h0m2 1h0m4 0h0m1 2h0m0-7h0m0 4h0m1 2h0m7-3h0m6-2h0m1 2h0m0-2h0m2 0h0m2-1h0m0 5h0m0-1h0m1 1h0m0-3h0m2-2h0m1 4h0m3 1h0m7 1h0m2-6h0m11 4h0m2-1h0m1 1h0m2 0h0m1-3h0m1 2h0m2 1h0m2 1h0m0-5h0m2 7h0m1-1h0m7 1h0m0-7h0m1 1h0m5 3h0m1-1h0m3 3h0m1-3h0m2 0h0m1 0h0m1 2h0m1-1h0m0-1h0m5 4h0m1-4h0m2 2h0m1-3h0m1 1h0m1 4h0m5-6h0m1 0h0m4 5h0m3-6h0m8 5h0m2 1h0m4-3h0m4 1h0m1 2h0m1 0h0m0-2h0m2-3h0m4 6h0m24-3h0m1 2h0m8-6h0m7 3h0m14 2h0m1-1h0m2-3h0m14 4h0m5 1h0m-331 9h0m5-2h0m22 2h0m10-2h0m2-4h0m13 4h0m2 2h0m5-4h0m4 2h0m6-5h0m2 1h0m1 4h0m8 1h0m1-1h0m10-5h0m9 5h0m4-3h0m5 4h0m6-4h0m8 4h0m0-2h0m4 2h0m6 0h0m4 0h0m9-4h0m2 1h0m1 2h0m3-2h0m8 0h0m2-2h0m3 3h0m0-2h0m7 5h0m0 0h0m1-6h0m1 1h0m1 5h0m4-2h0m0-2h0m2 4h0m0-1h0m5 1h0m17 0h0m2 0h0m5-3h0m1-3h0m2 6h0m0-1h0m1-5h0m2 2h0m3 2h0m1 1h0m5-3h0m10 3h0m1-2h0m4 1h0m4 2h0m10-5h0m8-2h0m14 4h0m5-1h0m13 0h0m4 2h0m2 2h0m1-7h0m7 4h0m3-2h0m2-1h0m9 4h0m3 2h0m20-6h0m-350 7h0m30 7h0m21-4h0m6 0h0m10 0h0m10 1h0m6-2h0m2 3h0m2 1h0m2-3h0m1 2h0m10 0h0m1-1h0m2-1h0m1-1h0m11-2h0m2 6h0m0-6h0m2 2h0m5 4h0m0-1h0m0-1h0m0-2h0m6 2h0m8 2h0m3-4h0m7 2h0m2 0h0m3 0h0m1-4h0m2 0h0m2 1h0m3 1h0m5 3h0m1 1h0m1-2h0m9-2h0m0 3h0m0-1h0m1-4h0m1 6h0m0-4h0m1 4h0m1-1h0m0-4h0m2 1h0m0 3h0m1 0h0m1 0h0m0-4h0m2 1h0m7 2h0m1-2h0m6 4h0m3 1h0m0-1h0m1 0h0m0-2h0m1 2h0m0 0h0m1 0h0m3-4h0m0-1h0m0 4h0m2-2h0m0 3h0m2-6h0m7 0h0m1 1h0m1 6h0m2-1h0m3-1h0m9 2h0m6-3h0m3 1h0m6-3h0m3 5h0m2-2h0m11-3h0m1-1h0m2 4h0m11 1h0m12 0h0m13 1h0m11-4h0m2 0h0m5 4h0m7-2h0m6 1h0m26-1h0m-349 10h0m18 0h0m17-3h0m7 2h0m0-6h0m7 5h0m10 2h0m7-7h0m7 5h0m4 0h0m2 0h0m1 2h0m4-4h0m1 3h0m0-5h0m3 4h0m8-2h0m6 1h0m0-2h0m3 3h0m0-2h0m3 2h0m0 0h0m2 0h0m1-4h0m1 2h0m0 4h0m2 0h0m0-3h0m2-1h0m4-3h0m4 3h0m0 3h0m0-1h0m3-1h0m2-4h0m3 4h0m1 1h0m0-5h0m2 7h0m5-4h0m4-1h0m3-2h0m3 5h0m2-5h0m2 5h0m3 0h0m3-4h0m1 5h0m1-4h0m0 5h0m1-5h0m3 2h0m3-4h0m3 2h0m1 4h0m1-1h0m2-2h0m3 0h0m2 4h0m8 0h0m0-6h0m2 6h0m0-2h0m3 2h0m2-7h0m0 5h0m2-5h0m1 7h0m0-1h0m2-1h0m1 2h0m5-6h0m0 2h0m6-1h0m2 1h0m6 4h0m2-7h0m6 2h0m2 0h0m0 2h0m2-2h0m4-2h0m8 5h0m10-2h0m4 0h0m12-3h0m10 5h0m3-5h0m26 3h0m2 1h0m18-4h0m12 5h0m2-3h0m12 1h0m-385 6h0m32-1h0m34 6h0m4-6h0m6 5h0m4-1h0m6 2h0m1 0h0m1-2h0m1 1h0m8-3h0m4 2h0m3-2h0m3 5h0m4-1h0m2 1h0m0-5h0m0-1h0m2 3h0m2-2h0m2-1h0m6 1h0m0 2h0m1 2h0m6-2h0m5-1h0m4-3h0m1 7h0m4-1h0m4-4h0m0 0h0m5 2h0m5-1h0m0 1h0m0 1h0m2-2h0m1-1h0m0 5h0m3-7h0m2 2h0m0 3h0m2-1h0m5 0h0m3 3h0m0-3h0m3 2h0m1-6h0m0 3h0m1-2h0m1 6h0m3-6h0m8-1h0m3 1h0m1 0h0m2 0h0m3-1h0m0 7h0m1-4h0m4-1h0m2 1h0m0 0h0m0 1h0m2 3h0m0-5h0m1 0h0m5-2h0m4 6h0m1-2h0m5 0h0m0-2h0m3-2h0m2 6h0m9-3h0m2-1h0m2 0h0m2-2h0m1 2h0m2 5h0m2-7h0m6 1h0m13 5h0m3 1h0m1 0h0m9-6h0m3-1h0m18 3h0m1 4h0m51-4h0m26 0h0m-394 8h0m26 0h0m14 1h0m18 0h0m0-2h0m16 5h0m19 0h0m3-6h0m1 6h0m6 0h0m3 0h0m4-4h0m0 2h0m2-2h0m10 3h0m1 1h0m2-6h0m2 3h0m1-4h0m5 7h0m0-3h0m1 0h0m1 0h0m4-4h0m0 1h0m1-1h0m9 3h0m0 3h0m4 0h0m2-3h0m3 3h0m3-2h0m3 1h0m3-2h0m5 0h0m0-3h0m3 6h0m1-6h0m4 5h0m2-4h0m0 2h0m1 0h0m3-1h0m3 3h0m1-2h0m0 1h0m6-3h0m0 6h0m3-4h0m0 0h0m5 4h0m1-1h0m0-4h0m2-2h0m3 5h0m2 2h0m1-3h0m0-1h0m1-2h0m0 6h0m1-6h0m3 2h0m1-3h0m0 4h0m0-1h0m2-2h0m2 5h0m0 0h0m1-4h0m4-1h0m3 6h0m2-7h0m2 1h0m0 6h0m3-1h0m1 1h0m2-5h0m2 1h0m6 3h0m0 1h0m1-6h0m1-1h0m2 5h0m1-5h0m12 6h0m1 1h0m2-7h0m3 2h0m1 1h0m2 1h0m2-3h0m2 4h0m7 0h0m4-4h0m2 4h0m1-5h0m7 4h0m5 0h0m2 3h0m1-2h0m0-5h0m1 7h0m26 0h0m20-3h0m5 3h0m15-3h0m-349 10h0m3 1h0m16-1h0m6 0h0m6-3h0m3 0h0m2 2h0m3-4h0m19 3h0m7-4h0m1 3h0m7-3h0m9 7h0m2-1h0m0 1h0m4-3h0m4-3h0m6 6h0m1-5h0m5 2h0m1-3h0m10 5h0m4-1h0m4-4h0m0 6h0m1-3h0m0 1h0m1-5h0m4 0h0m0 1h0m0-1h0m4 2h0m3 4h0m1 1h0m0-1h0m2-6h0m1 6h0m5-3h0m1-2h0m3 3h0m1-1h0m2-1h0m3 4h0m3-1h0m8 0h0m1-4h0m1 4h0m0-5h0m3 7h0m0 0h0m7-3h0m6-3h0m1 5h0m1-6h0m2 3h0m11 4h0m1-7h0m0 6h0m5-5h0m1 5h0m0-2h0m1-1h0m5 1h0m1-1h0m3-3h0m2 0h0m7 7h0m1-6h0m1 2h0m2-1h0m0 5h0m4-7h0m4 3h0m2 4h0m0 0h0m0 0h0m5-4h0m7 2h0m3-5h0m4 3h0m6 3h0m3-6h0m2 3h0m9-2h0m1 4h0m5-2h0m1 3h0m3-3h0m12-2h0m7 4h0m3-3h0m8 0h0m1 0h0m13 4h0m-364 9h0m19-5h0m1 1h0m38 1h0m3-3h0m5 4h0m4 0h0m5-5h0m1 1h0m2 0h0m13 2h0m2 1h0m0-2h0m3 0h0m5-1h0m3 3h0m2 0h0m1-1h0m4 1h0m2 3h0m3-3h0m6-1h0m7 4h0m1 0h0m0-7h0m0 6h0m3-4h0m0 4h0m0-6h0m3 6h0m0 1h0m2-4h0m4 3h0m2 1h0m0-7h0m3 3h0m4-1h0m1 1h0m4 1h0m1 2h0m0 1h0m3 0h0m2-7h0m4 5h0m0-1h0m1-3h0m3 5h0m1-3h0m2-2h0m2 6h0m7-3h0m1 1h0m0 1h0m8-4h0m0-1h0m4 4h0m0 2h0m1-4h0m2-3h0m4 6h0m1-4h0m0 4h0m1-2h0m0 3h0m0-1h0m4-1h0m1 2h0m2-4h0m2 4h0m4-5h0m1 2h0m0 3h0m2-2h0m1-3h0m2 1h0m1 1h0m0-4h0m3 7h0m2 0h0m0-2h0m1 2h0m2-7h0m2 4h0m3 0h0m3 1h0m8-5h0m4 7h0m2-7h0m1 4h0m1 2h0m2 1h0m1-7h0m5 2h0m3 0h0m1 1h0m0 0h0m11 0h0m0 3h0m0-2h0m1-1h0m3 4h0m2-1h0m4 0h0m0-2h0m2-1h0m2 2h0m6-1h0m0 2h0m1 0h0m5-1h0m5 0h0m6-5h0m3 3h0m4 0h0m4 1h0m2-2h0m12-1h0m-320 10h0m17-3h0m3 5h0m13-2h0m5 3h0m25-4h0m1 0h0m4 3h0m2 1h0m2-2h0m0-2h0m1 4h0m3 1h0m9-6h0m1 4h0m1 1h0m8 0h0m1 1h0m2-5h0m0 2h0m1-2h0m2 5h0m6 0h0m6-5h0m0 4h0m3-2h0m0 3h0m1-1h0m0-2h0m1 1h0m5 2h0m11-2h0m3-3h0m2 5h0m5-6h0m2 4h0m1-2h0m2 4h0m2-1h0m3 0h0m2-1h0m1-4h0m0 1h0m1-1h0m4 1h0m0 0h0m1-1h0m2 2h0m1 2h0m0-4h0m6 4h0m0-3h0m1 5h0m2-6h0m1 3h0m2-2h0m3 3h0m4-3h0m4 3h0m4-5h0m1 1h0m1 2h0m1 3h0m1-2h0m3-1h0m1 2h0m0-4h0m1 3h0m0-2h0m2 2h0m0-4h0m1 0h0m3 3h0m1 3h0m3-2h0m4 3h0m1-7h0m0 6h0m2 0h0m1-2h0m8-2h0m0 5h0m1-7h0m0 0h0m7 3h0m0-3h0m1 0h0m0 7h0m2-1h0m2 1h0m1-4h0m2 3h0m4-4h0m11 4h0m4-2h0m4 3h0m11-2h0m0 0h0m0-5h0m8 2h0m10 1h0m20-2h0m8 6h0m38-6h0m-383 9h0m8 3h0m21 2h0m4-4h0m26-1h0m3 2h0m7 2h0m2-2h0m13-4h0m18 0h0m4 0h0m0 7h0m0-7h0m1 6h0m0 1h0m0-2h0m1-2h0m5-1h0m6 4h0m4-6h0m3 7h0m0-4h0m2-1h0m1 4h0m4 1h0m1 0h0m3-7h0m1 3h0m3-2h0m1 5h0m1-2h0m0 0h0m2 2h0m0 1h0m1-1h0m4-3h0m2 1h0m4 3h0m5-5h0m5-2h0m2 6h0m0 0h0m2 1h0m2-4h0m2 4h0m1-7h0m1 0h0m2 4h0m0-2h0m1-1h0m2 1h0m3-1h0m1 0h0m1-1h0m0 1h0m1 2h0m2-2h0m2-1h0m4 6h0m1-3h0m0-3h0m0 0h0m1 4h0m0-4h0m1 1h0m1 3h0m1 3h0m0-5h0m2 5h0m0 0h0m2-7h0m0 4h0m1 0h0m4-3h0m1-1h0m0 5h0m2-4h0m3 6h0m0-4h0m3 3h0m0-3h0m2-2h0m2 6h0m0-1h0m1 0h0m1-2h0m3 0h0m0-3h0m3 3h0m2 2h0m0-4h0m3 3h0m4 1h0m1 1h0m6-7h0m2 6h0m6-2h0m0-2h0m2-1h0m2 5h0m3-2h0m1-4h0m1 5h0m0 0h0m2 0h0m10-3h0m1-2h0m4 1h0m6 3h0m4-3h0m1 4h0m3-2h0m2 2h0m1-4h0m0 6h0m1-7h0m0 6h0m2-2h0m2-1h0m0 4h0m4 0h0m0-4h0m8 3h0m3-1h0m2 0h0m1 0h0m2 1h0m0-6h0m2 0h0m2 6h0m4-3h0m1-2h0m1 3h0m2 2h0m5-5h0m4 0h0m4 5h0m1 1h0m3-3h0m10 0h0m6-2h0m37 5h0m-399 8h0m38-1h0m11-3h0m2 3h0m5-5h0m1 0h0m1 1h0m19-1h0m4 4h0m4 2h0m2-4h0m1 0h0m5 0h0m3 2h0m1 0h0m3 0h0m3-2h0m2 2h0m2-4h0m1 1h0m1-1h0m0 0h0m7 4h0m1 2h0m6-6h0m6-1h0m6 1h0m4-1h0m2 3h0m0 0h0m0-1h0m1 0h0m2-1h0m1 0h0m0 1h0m4-2h0m1 6h0m2-1h0m11-5h0m1 5h0m0-4h0m1 6h0m5 0h0m3-4h0m4 1h0m0-4h0m0 0h0m3 1h0m0 3h0m2-4h0m0 1h0m2 2h0m0 4h0m9-6h0m2 2h0m3 0h0m1 4h0m1-1h0m1-4h0m0 4h0m1 1h0m3-7h0m0 0h0m0 4h0m1-2h0m1 3h0m1 2h0m1-6h0m4 6h0m5-7h0m5 5h0m1 0h0m1-2h0m3 3h0m0-4h0m1-1h0m1 2h0m3-1h0m8 0h0m3-2h0m0 5h0m4 0h0m1-2h0m1 3h0m5 1h0m2-3h0m2-1h0m2 1h0m2 2h0m5-4h0m0-1h0m11 6h0m2-2h0m6-1h0m0 1h0m3-3h0m2-1h0m0 6h0m2-2h0m6-3h0m5 4h0m10-5h0m0 1h0m2-1h0m2 2h0m0-1h0m0 3h0m6 0h0m4 2h0m3-5h0m1-2h0m3 0h0m2 6h0m0-1h0m4 2h0m23-1h0m5-6h0m0 1h0m32 6h0m-405 4h0m3-3h0m39 5h0m6-2h0m16 4h0m2-3h0m2-2h0m5-2h0m3 7h0m1-3h0m9-3h0m4 5h0m3-2h0m4-2h0m0 0h0m11 5h0m0-3h0m5-2h0m2 4h0m1-4h0m2 3h0m0 1h0m1 1h0m0-5h0m9-1h0m2 0h0m1 2h0m0 3h0m3-4h0m1 3h0m2-1h0m7-1h0m6 1h0m0 3h0m2-3h0m6 3h0m3-5h0m0 3h0m1 2h0m0-3h0m0 0h0m1-2h0m2 4h0m1-1h0m0 1h0m4-4h0m1 2h0m2-1h0m1-1h0m3-2h0m3 4h0m1-3h0m2 5h0m2 1h0m0-4h0m1 3h0m0 0h0m0 0h0m1-6h0m1 5h0m1 0h0m3-2h0m1 4h0m0-4h0m1 1h0m2 3h0m1-4h0m2 2h0m1-2h0m2 3h0m3-1h0m0-5h0m3 4h0m0 0h0m1-1h0m2 3h0m0-2h0m1-4h0m1 6h0m2-4h0m1 2h0m1 3h0m1-5h0m1 2h0m1-1h0m1 4h0m0-1h0m1 1h0m0 0h0m1-7h0m1 3h0m1-1h0m5-1h0m0 5h0m3-4h0m3-2h0m0 4h0m1-4h0m2 5h0m3-3h0m2-2h0m2 7h0m3-4h0m3-3h0m0 0h0m1 3h0m5-2h0m2 6h0m0-4h0m1 3h0m0 0h0m1-3h0m4 0h0m1 1h0m0-4h0m1 5h0m0-3h0m3 3h0m9 0h0m0-2h0m2-3h0m0 0h0m8 2h0m4 3h0m2 2h0m0-7h0m1 2h0m0 1h0m1-1h0m1-1h0m1 6h0m1-7h0m5 7h0m9 0h0m1-2h0m4-1h0m2 3h0m1-3h0m2 3h0m1-4h0m14-3h0m2 4h0m10-2h0m23 2h0m35 0h0m2 2h0m-394 4h0m15 5h0m7 0h0m33-3h0m0-2h0m8-1h0m2 4h0m0-5h0m1 7h0m4-4h0m24 2h0m3-3h0m0 2h0m10 3h0m1-5h0m0 2h0m1 1h0m0-5h0m2 0h0m3 0h0m1 3h0m1 3h0m2-6h0m1 4h0m1 0h0m2-2h0m0 5h0m2-5h0m4 1h0m1 3h0m4 0h0m2-4h0m5-2h0m3 0h0m3 1h0m4 5h0m5-4h0m6 2h0m4-1h0m5 2h0m2 0h0m0-3h0m1 5h0m2-3h0m0 0h0m0-3h0m1-1h0m3 5h0m1-3h0m3 0h0m1 1h0m0 4h0m1-1h0m0-6h0m1 0h0m1 2h0m1 4h0m1 0h0m1-3h0m3-1h0m0 3h0m1 0h0m1-1h0m0 1h0m0 0h0m6 2h0m0-4h0m1 1h0m0 3h0m1-4h0m0 3h0m4-2h0m0-2h0m1 5h0m1-5h0m1-2h0m1 7h0m4-4h0m0-1h0m1 3h0m0 1h0m1-6h0m13 7h0m0-6h0m0 3h0m1 2h0m1 1h0m3-2h0m1-5h0m4 6h0m1-2h0m2 1h0m1 1h0m1 1h0m1-5h0m8 0h0m1 4h0m0-6h0m4 4h0m1-1h0m2 0h0m2-1h0m1 2h0m0 0h0m7 1h0m1-5h0m0 3h0m1 0h0m1 4h0m2-4h0m6-1h0m1-2h0m0 3h0m3 1h0m9 1h0m38-5h0m4 4h0m7 0h0m20 2h0m15-6h0m-375 9h0m7 2h0m4 1h0m3 3h0m3 0h0m2 0h0m5-2h0m4-2h0m4-2h0m18 4h0m11-4h0m2 2h0m6-2h0m0 6h0m10-5h0m2-2h0m5 4h0m2-2h0m6 1h0m1 2h0m2-5h0m3 0h0m0 1h0m4 3h0m1 0h0m3-1h0m4-1h0m4 2h0m1-4h0m1 1h0m3 6h0m8-7h0m1 4h0m1 3h0m2-6h0m1 4h0m1 0h0m3-3h0m2 2h0m1-1h0m2-3h0m0 1h0m0 2h0m2 4h0m0-1h0m3 1h0m0 0h0m4-5h0m0 2h0m0-1h0m2 3h0m6-4h0m0 3h0m1-4h0m1 0h0m1 4h0m3-3h0m0 1h0m2-2h0m0 3h0m1-1h0m1 1h0m4 2h0m0-1h0m7-1h0m1 0h0m0 0h0m6 1h0m1-1h0m1 3h0m2-5h0m2 5h0m0-7h0m0 5h0m3 0h0m0 2h0m6-4h0m3 4h0m7-4h0m1-1h0m0 1h0m3-3h0m0 5h0m2-2h0m1-2h0m0 4h0m6-4h0m2 4h0m1-2h0m1 2h0m1-3h0m1 0h0m4 4h0m1-2h0m0-2h0m12-1h0m6 1h0m1-1h0m5 5h0m1-5h0m3 3h0m3 1h0m2-2h0m7-2h0m1 1h0m4 3h0m5 1h0m0-6h0m10 0h0m3 0h0m7 3h0m0-3h0m9 2h0m54 2h0m5-2h0m13-2h0m-390 9h0m5 1h0m5 3h0m20 1h0m1-6h0m3 7h0m4 0h0m15-7h0m5 4h0m23 3h0m3-3h0m4-1h0m3 0h0m1 4h0m3-7h0m6 6h0m0-3h0m0 3h0m1-3h0m3-3h0m1 3h0m1 4h0m3-6h0m3 6h0m0-7h0m2 2h0m0 2h0m3 1h0m4 1h0m3-1h0m0-1h0m4-3h0m0 4h0m8-2h0m1 1h0m1 2h0m5-5h0m1 5h0m1-6h0m4 5h0m2-5h0m0 7h0m1-4h0m1-2h0m0 6h0m2 0h0m1-1h0m6-4h0m1 5h0m0-2h0m1 1h0m2-6h0m2 4h0m1-4h0m0 5h0m1 0h0m1-5h0m2 7h0m3-6h0m3-1h0m5 2h0m0 1h0m5 2h0m0 0h0m1 2h0m1-3h0m3-3h0m2 2h0m3 2h0m5-3h0m4 2h0m12 2h0m0-3h0m2-3h0m0 7h0m1-3h0m2 2h0m2-5h0m1 6h0m1-4h0m0 4h0m1-6h0m0 5h0m1-5h0m1-1h0m1 4h0m3 2h0m1 0h0m0-2h0m9-4h0m7 6h0m1 1h0m2 0h0m0-6h0m3-1h0m5 7h0m10-5h0m2-1h0m5 4h0m6 2h0m0-5h0m2 1h0m6 2h0m11-5h0m1 7h0m1-6h0m6-1h0m47 4h0m4 3h0m-370 5h0m37-3h0m8 0h0m8 0h0m2 0h0m5 1h0m10-1h0m7 5h0m2 0h0m8-3h0m9-2h0m4 5h0m1-2h0m3-2h0m1 4h0m3-2h0m5 2h0m2-5h0m0 6h0m1-3h0m3 0h0m2 3h0m4-5h0m5 1h0m1 0h0m4 0h0m1 4h0m3-7h0m4 5h0m3-1h0m2-1h0m0 3h0m0-2h0m1-4h0m2 4h0m0 3h0m2-3h0m0-1h0m2 4h0m1-5h0m1-2h0m0 1h0m2 4h0m0 2h0m1-7h0m1 4h0m0 1h0m3 2h0m3-1h0m5 1h0m5-7h0m2 1h0m2 2h0m2-2h0m2-1h0m3 6h0m2 1h0m1-6h0m1 4h0m2-2h0m3-3h0m1 6h0m4-1h0m1-2h0m0-3h0m2 3h0m0-2h0m7 3h0m3 1h0m1-3h0m1 2h0m0 3h0m0-1h0m3-3h0m2-3h0m0 0h0m1 3h0m0 3h0m2-4h0m2 0h0m1 1h0m1 0h0m0-1h0m1 4h0m5-3h0m0 4h0m3-1h0m0 1h0m4-5h0m1 0h0m2 0h0m1-2h0m1 2h0m1 2h0m2 0h0m3-3h0m9 5h0m2-4h0m0 0h0m8 4h0m2 1h0m4-1h0m3-6h0m0 5h0m0 0h0m5-5h0m3 4h0m3 0h0m4 3h0m3-7h0m2 7h0m3-6h0m7 2h0m24-2h0m2 3h0m12 0h0m1 1h0m12-3h0m-353 7h0m14 2h0m16-2h0m2 6h0m1-5h0m3 0h0m10 1h0m6-2h0m0 2h0m23 1h0m0 1h0m6 0h0m0-5h0m0 1h0m1 0h0m2 2h0m7-1h0m2 1h0m1-2h0m2-1h0m2 6h0m1-4h0m3 2h0m1-2h0m1 4h0m2-4h0m3 3h0m2-3h0m0-2h0m3 5h0m2-1h0m1 2h0m5-4h0m0 3h0m6 0h0m7-5h0m0 2h0m3-2h0m0 4h0m1 2h0m0 0h0m1-5h0m0 6h0m2-6h0m2 6h0m1-1h0m1-1h0m5-5h0m0 5h0m5-2h0m0 0h0m2 3h0m0-3h0m2-3h0m2 7h0m1-1h0m0-6h0m1 1h0m0 4h0m2-4h0m1 0h0m0 0h0m1 5h0m4-1h0m1 0h0m2-1h0m10 1h0m2-3h0m1-1h0m2 2h0m1 0h0m2-3h0m1 5h0m4-4h0m2 3h0m1 1h0m0-2h0m1 0h0m2 0h0m3 3h0m0-3h0m2-2h0m2 4h0m2-5h0m0 4h0m2-3h0m0 0h0m0 6h0m3-2h0m1 2h0m1-4h0m0 3h0m1 1h0m3-2h0m1-2h0m9 3h0m0-3h0m3-3h0m5 0h0m7 5h0m1-5h0m8 3h0m7-2h0m1 5h0m0-6h0m20 5h0m3-1h0m3 3h0m10-1h0m5-2h0m9-1h0m12-3h0m47 0h0m-377 12h0m0 0h0m14-1h0m28 2h0m15-3h0m17 3h0m3-5h0m6 5h0m8-2h0m1-1h0m1 1h0m6 0h0m5-3h0m4 1h0m1 5h0m0-6h0m7 4h0m0 0h0m1-3h0m1 0h0m5 6h0m0-5h0m1 2h0m3 0h0m1 3h0m2-4h0m2 3h0m7 0h0m1-1h0m1-2h0m6 0h0m0 4h0m1-5h0m1 4h0m1-3h0m1-2h0m0 0h0m1 4h0m3 0h0m1 1h0m1 0h0m2-6h0m2 0h0m1 2h0m1 0h0m6 1h0m2 4h0m1 0h0m1-3h0m1-2h0m0 1h0m0-1h0m2-1h0m2 0h0m2 1h0m2 0h0m1 0h0m1 1h0m0 3h0m2-4h0m2 2h0m7-1h0m0-1h0m1 4h0m0-5h0m2 1h0m1 0h0m5 1h0m4-1h0m1 1h0m0 2h0m3 0h0m0-4h0m2 4h0m0-1h0m1 2h0m1 1h0m1-4h0m2-1h0m1-2h0m1 6h0m1 0h0m1-6h0m6 3h0m4-2h0m1-1h0m2 2h0m0-1h0m5 1h0m6-1h0m0 4h0m1-3h0m7-1h0m4 1h0m3 3h0m0-4h0m5 4h0m4-1h0m6-2h0m8 0h0m9 1h0m1-3h0m34 4h0m1-1h0m5-2h0m9 2h0m27 3h0m-390 4h0m27-2h0m15 6h0m4-4h0m9 4h0m3-6h0m10 4h0m1-1h0m2 0h0m14 3h0m10 0h0m4-5h0m15 3h0m2 0h0m3-1h0m3 4h0m3-6h0m3-1h0m5 2h0m0 2h0m7 2h0m1-2h0m0 0h0m4-4h0m3 1h0m1 3h0m3 1h0m0-1h0m3-4h0m2 7h0m0-7h0m1 7h0m7 0h0m19-4h0m5 2h0m0-4h0m4-1h0m1 0h0m4 7h0m0-4h0m2 3h0m2-4h0m2 2h0m0-2h0m2 0h0m2 3h0m2-1h0m0-4h0m3 2h0m1 2h0m5 1h0m0-5h0m2 4h0m2-2h0m0-2h0m2 1h0m2 5h0m2 1h0m1-7h0m2 2h0m4 5h0m0-2h0m2-3h0m0 4h0m0-4h0m5 4h0m8 1h0m5-2h0m5-1h0m3-4h0m1 5h0m1 0h0m1 1h0m3-6h0m2 0h0m1 3h0m7 4h0m6-6h0m5 4h0m6-1h0m1 1h0m10 2h0m11-7h0m4 4h0m12-1h0m5 0h0m10 4h0m1-5h0m16 2h0m-331 10h0m7 1h0m1-6h0m3 2h0m3 1h0m10 2h0m1 0h0m14-6h0m2 3h0m12 2h0m4 1h0m5-6h0m14 4h0m1 0h0m1-4h0m0 6h0m15-4h0m1 1h0m1 3h0m5-4h0m0 1h0m1 1h0m6 0h0m3-4h0m0 6h0m1-5h0m1 4h0m0 0h0m0-2h0m1 0h0m2-2h0m2 1h0m4 4h0m1-1h0m1-3h0m2 2h0m0-1h0m1-3h0m4 3h0m2 2h0m3-3h0m3-2h0m2 3h0m0 3h0m0-2h0m6-4h0m0 6h0m4-5h0m2 1h0m1 1h0m1 2h0m6-2h0m1 2h0m0-2h0m5 3h0m2-5h0m2 0h0m3 5h0m2-5h0m0-1h0m1 2h0m1 0h0m3 5h0m2-5h0m3 0h0m8 5h0m2-1h0m2-3h0m4-2h0m2 2h0m2-3h0m1 3h0m0 1h0m4-4h0m2 6h0m3-1h0m0 0h0m6 1h0m0-5h0m1 0h0m4 4h0m1-1h0m0 3h0m5-3h0m4 0h0m2-3h0m1-1h0m1 0h0m4 2h0m8-2h0m1 3h0m2-1h0m2 5h0m1-2h0m7-2h0m13-2h0m0 0h0m14 5h0m15-4h0m1 2h0m12 0h0m-324 8h0m4-3h0m12 2h0m7 3h0m3-4h0m22 3h0m24-2h0m8 4h0m1-4h0m10 2h0m0 2h0m6-6h0m14 1h0m1-1h0m1 6h0m4 0h0m1-7h0m8 2h0m2-2h0m5 5h0m3-3h0m2 2h0m2 0h0m3 3h0m1-3h0m11 1h0m3-2h0m3 2h0m2-3h0m0 2h0m3-3h0m2 5h0m1-5h0m2 1h0m1 3h0m0 1h0m4 0h0m3 0h0m0-6h0m3 3h0m1 1h0m2-2h0m4 3h0m10 0h0m0 0h0m10 2h0m2-3h0m4-1h0m1-3h0m1 3h0m0 2h0m0-3h0m1-2h0m6 5h0m3-3h0m1 0h0m2 0h0m0 4h0m6-6h0m2 2h0m0 5h0m1-1h0m0-3h0m5 3h0m0-1h0m5-5h0m4 2h0m1 5h0m1-1h0m1-1h0m4 0h0m0-1h0m5-1h0m2 3h0m13-6h0m1 7h0m6-1h0m1-6h0m4 6h0m-302 7h0m15 2h0m26-4h0m1-3h0m11 1h0m2 5h0m5-1h0m2-3h0m6 4h0m5-3h0m1-3h0m9 4h0m2-1h0m3-1h0m11 1h0m2 3h0m1-3h0m2-3h0m0 3h0m10-1h0m2 5h0m5-6h0m3 3h0m5 1h0m2 1h0m1-2h0m1-3h0m4-1h0m4 0h0m2 7h0m6-2h0m0 1h0m6-2h0m1 2h0m4-1h0m1-2h0m0-3h0m2 3h0m6-2h0m2-1h0m0 5h0m6-3h0m3 4h0m1-3h0m1 4h0m1-3h0m2 3h0m1-4h0m1 0h0m1 1h0m3-3h0m4 4h0m0-5h0m1 5h0m1 0h0m2-4h0m5 0h0m1 5h0m0-2h0m2 3h0m1-3h0m2-2h0m0-1h0m5 5h0m0 1h0m3-3h0m1-2h0m1-1h0m0 5h0m0-1h0m1-4h0m0 2h0m2 4h0m8-6h0m2 4h0m1-3h0m1 2h0m3 1h0m10 2h0m2-3h0m0-4h0m0 7h0m1 0h0m3-6h0m9 5h0m7-1h0m0-5h0m3 2h0m3-1h0m6 4h0m6-5h0m4 0h0m19 3h0m16 2h0m33 1h0m-342 9h0m9-1h0m3-1h0m3 1h0m25-1h0m0 1h0m15-4h0m16 4h0m6-6h0m13 1h0m4 5h0m2-5h0m7 0h0m7 2h0m4 0h0m6-3h0m3 1h0m1 6h0m1-2h0m3-4h0m1 3h0m0 3h0m1-3h0m1-1h0m10-1h0m1 1h0m0 4h0m5-4h0m3 2h0m3 0h0m4-3h0m4 5h0m4-2h0m1 1h0m0 0h0m12-2h0m1-3h0m3 2h0m3 3h0m0 0h0m0-3h0m0 3h0m1-4h0m1 3h0m0 1h0m7-6h0m1 6h0m0 0h0m4-3h0m7 1h0m1 3h0m5-2h0m1-1h0m1-4h0m5 7h0m4-7h0m1 4h0m1-2h0m10 3h0m2-2h0m1 2h0m3-2h0m4-3h0m10 7h0m14-3h0m17-3h0m7 4h0m6-3h0m4 4h0m29-3h0m-348 8h0m1 4h0m24-1h0m16-5h0m17 2h0m11 0h0m4 1h0m4-2h0m3 5h0m3 0h0m15-6h0m3 1h0m4 4h0m13-1h0m4-3h0m6 0h0m1-2h0m1 2h0m1 4h0m1-4h0m3-1h0m1 6h0m0-5h0m1 0h0m0-2h0m4 2h0m2 1h0m3 4h0m0-5h0m2 1h0m1 0h0m6-3h0m2 1h0m1 1h0m3 4h0m1 0h0m1-3h0m7-2h0m0-1h0m3 5h0m0 1h0m1-3h0m0 4h0m6-3h0m2-1h0m0-3h0m1 3h0m13 4h0m1-4h0m1-1h0m4-1h0m7 5h0m0 1h0m3-3h0m2 1h0m5-5h0m1 1h0m2 3h0m9 1h0m9-1h0m8 3h0m6-6h0m2 1h0m6-1h0m5 3h0m6-4h0m25 0h0m0 5h0m31-2h0m-301 12h0m1-6h0m12 6h0m8-2h0m1 2h0m3-4h0m21 1h0m0 2h0m8 0h0m6 0h0m5-5h0m6 6h0m0-5h0m0 4h0m1-2h0m9-1h0m10 2h0m5-2h0m1 0h0m2 4h0m0-4h0m2 4h0m3-3h0m3-3h0m1 2h0m1-1h0m1 2h0m3-2h0m1 1h0m3-3h0m1 5h0m2-3h0m1 2h0m1 2h0m1-1h0m10-1h0m4-1h0m3 4h0m9-7h0m3 0h0m5 5h0m8-5h0m3 4h0m1-3h0m16 1h0m0 0h0m3 1h0m1 3h0m12-1h0m3 1h0m2 1h0m6-4h0m15-3h0m5 2h0m1 4h0m18-3h0m26 4h0m12-3h0m7 0h0m27 3h0m-328 1h0m26 1h0m15 6h0m7-6h0m17-1h0m2 3h0m2-2h0m15 4h0m4-1h0m13 1h0m7-4h0m13 0h0m1 0h0m3 5h0m0 0h0m5-1h0m2-3h0m0 4h0m2 0h0m1-1h0m1 0h0m6-2h0m1-2h0m5 4h0m2-3h0m4 0h0m5 0h0m2 0h0m3 5h0m2-4h0m1-2h0m2 4h0m6-4h0m8 6h0m3 0h0m0-6h0m1 0h0m2 0h0m2 6h0m2-6h0m5 4h0m19-2h0m18 4h0m4-2h0m4-2h0m15 0h0m35 3h0m4-5h0m3 3h0m21-1h0m-336 12h0m36-4h0m1 4h0m16-5h0m7 4h0m9-4h0m7 4h0m2-5h0m1 3h0m2-4h0m8 2h0m4 5h0m5-6h0m7 5h0m2 1h0m6-2h0m8-3h0m7 3h0m2-5h0m4 5h0m2-4h0m13 4h0m0-2h0m7 3h0m16-5h0m3 5h0m1-4h0m1 0h0m5-1h0m3 4h0m2-1h0m2-3h0m1 5h0m12-5h0m7-1h0m10 2h0m1 1h0m2 4h0m1-4h0m4 0h0m3 2h0m5 0h0m0 2h0m1-6h0m0 2h0m3 3h0m5-3h0m1-3h0m8 0h0m3 3h0m2 3h0m1 0h0m12-5h0m16 5h0m12-3h0m17 0h0m4-3h0m24 0h0m-294 8h0m8 1h0m7 4h0m9-2h0m30 0h0m1 3h0m1-6h0m0 7h0m1-1h0m13-3h0m5-2h0m7 6h0m1-6h0m1 1h0m1 0h0m3 2h0m14 0h0m6 3h0m10-7h0m3 7h0m5 0h0m2-5h0m4-1h0m0 0h0m5-1h0m3 0h0m2 3h0m2-2h0m0 3h0m7 2h0m4 0h0m4-4h0m9 5h0m2-3h0m3 3h0m3-4h0m0 0h0m21 2h0m6 2h0m4-4h0m7 0h0m0-2h0m11 3h0m3-1h0m28 4h0m-270 8h0m21 0h0m10-7h0m34 0h0m5 0h0m6 0h0m2 4h0m14-3h0m13-1h0m11 4h0m10 1h0m2-4h0m7 4h0m0-1h0m2-3h0m2 6h0m1-7h0m10 7h0m12-4h0m3 3h0m3-1h0m0 0h0m7-3h0m2 1h0m8 0h0m9-2h0m2 2h0m11-1h0m4 2h0m1 3h0m15-3h0m18 1h0m0 2h0m16-1h0m-266 8h0m6 1h0m21-5h0m35-2h0m10 4h0m1 0h0m3-2h0m12-1h0m2 4h0m0-3h0m32 3h0m2-4h0m1 4h0m1-2h0m7 0h0m3 2h0m2-2h0m2-3h0m6 2h0m2 2h0m3-4h0m8 3h0m0 3h0m7-3h0m1 0h0m5 2h0m1-4h0m2-1h0m6 3h0m6 2h0m1-5h0m6 3h0m1-2h0m3 5h0m12-3h0m2-1h0m11 0h0m14-2h0m3 7h0m19-4h0m38 0h0m34 4h0m-318 1h0m18 2h0m50-1h0m18 1h0m17-2h0m3 5h0m1 0h0m11-2h0m5 2h0m8-4h0m1-1h0m13 6h0m1-5h0m19 6h0m4-5h0m0-1h0m21 5h0m6-6h0m4 4h0m40 1h0m-235 4h0m52 6h0m18-1h0m10-3h0m2-1h0m8 3h0m15-4h0m1 6h0m2-7h0m1 7h0m21-1h0m18-1h0m1-4h0m1 0h0m8 1h0m3-2h0m7 3h0m1 3h0m1-5h0m33-1h0m12 1h0m7-1h0m1 2h0m-228 8h0m11-1h0m44 5h0m19-3h0m22-1h0m10 2h0m3 1h0m22-3h0m3 1h0m33 1h0m16-3h0m12 3h0m15-1h0m1 4h0m9-1h0m3 1h0m-133 4h0m0 4h0m10-4h0m14-2h0m14 3h0m6-3h0m18 0h0m6-1h0m26 0h0m28 4h0m10 2h0m3-4h0m4 3h0m41-3h0m34 4h0m-267 9h0m52-6h0m9 2h0m8 2h0m0-4h0m17 6h0m32-7h0m21 0h0m8 5h0m45 1h0m47-2h0m75-1h0m-310 6h0m89 6h0m7-4h0m9 4h0m2 0h0m3-5h0m41-2h0m68 7h0m-220 3h0m13 1h0m41-1h0m15-1h0m11 2h0m22-1h0m8 1h0m0 0h0m10 4h0m16 0h0m41-4h0m-149 7h0m66 1h0m46 3h0m1-2h0m1-1h0m8 2h0m58 0h0m-185 8h0m38-1h0m59 2h0m11-5h0m-18 21h0m62 0h0m61-2h0m-169 11h0m19-3h0m58-1h0m89 1h0m-174 8h0m87-1h0m21 4h0m-16 5h0m-120 8h0"/>
<path stroke="#4893ae" stroke-opacity="0.38" stroke-width="5.0" d="M864 348h0m43 8h0m96 29h0m44 10h0m-160 9h0m21-4h0m15 4h0m41-4h0m4 7h0m10-6h0m30 0h0m-96 9h0m86 5h0m6-7h0m13 4h0m12-2h0m-132 8h0m96 2h0m1 2h0m6 1h0m61-6h0m40 4h0m13 0h0m-242 8h0m28-3h0m50 5h0m8-4h0m50 0h0m10 4h0m40 0h0m63-1h0m-233 8h0m0-5h0m23 2h0m3 4h0m6-1h0m22 0h0m23-3h0m23 1h0m4 2h0m8-4h0m2 5h0m5 0h0m10-3h0m18-4h0m33 6h0m1-2h0m11 1h0m64-2h0m-304 7h0m3 3h0m7-1h0m39 3h0m10-4h0m33 3h0m4-1h0m17-5h0m15 2h0m1 4h0m2 0h0m1-3h0m0 3h0m4 1h0m1-7h0m10 2h0m30 0h0m6 3h0m2-4h0m20 4h0m11-1h0m33 0h0m21-4h0m12 6h0m-239 5h0m7 4h0m22-7h0m29 0h0m0 5h0m1 2h0m13-6h0m2 5h0m5 0h0m12-4h0m1-1h0m8 4h0m1-2h0m2 4h0m2-2h0m17 0h0m13 1h0m1-1h0m3 1h0m2-6h0m2 5h0m4 1h0m2-1h0m2-1h0m9 3h0m1-7h0m17 4h0m12 1h0m4 1h0m20 1h0m1-7h0m36 2h0m-305 9h0m55-3h0m13 5h0m2 0h0m15-4h0m6 1h0m4 5h0m4 0h0m5-6h0m1 1h0m8 3h0m7-1h0m5-2h0m6 1h0m0 4h0m3 0h0m6-1h0m0 0h0m6-6h0m3 3h0m2 1h0m2-3h0m25 3h0m1 1h0m18-5h0m4 2h0m16 0h0m0-1h0m23 5h0m2-2h0m2 1h0m1 0h0m24-2h0m8-1h0m29 0h0m-287 13h0m37-7h0m23 7h0m21 0h0m2-5h0m8-2h0m6 3h0m1 2h0m2 2h0m2 0h0m4-4h0m3-1h0m5 0h0m10 3h0m2-1h0m1 2h0m4-2h0m2-3h0m7 2h0m3-3h0m4 7h0m8-1h0m4-2h0m2 1h0m17 0h0m1-4h0m0 2h0m4 0h0m2 4h0m0-5h0m3-2h0m20 1h0m9 6h0m7-3h0m15 3h0m29-5h0m19 0h0m122 5h0m-407 1h0m22 5h0m14 1h0m10-5h0m13 5h0m2-2h0m21 0h0m11 1h0m28 0h0m5-4h0m2 5h0m5-5h0m19 1h0m8 3h0m2 1h0m4 1h0m8-6h0m2 6h0m6 0h0m1 0h0m4-6h0m7 5h0m0-1h0m19-1h0m7-4h0m5 4h0m19-2h0m23 1h0m19-3h0m36 2h0m5 5h0m-408 3h0m30 3h0m31 2h0m10-6h0m36 4h0m16 2h0m5-6h0m0 5h0m0-3h0m22 1h0m4 1h0m1 1h0m2-4h0m8 1h0m1 2h0m1 1h0m10 1h0m0-3h0m2 0h0m6 3h0m0-1h0m9-6h0m2 1h0m1 6h0m20 0h0m2-3h0m1 0h0m3-4h0m4 1h0m4 3h0m3-4h0m14 6h0m0-2h0m3 2h0m6-5h0m4-1h0m4 1h0m0 2h0m1-1h0m9 5h0m1-4h0m3-2h0m3 6h0m0-1h0m2-5h0m0 4h0m2-1h0m12-4h0m5 6h0m1 0h0m8-2h0m1-2h0m3 5h0m7-6h0m2 2h0m103-3h0m-388 15h0m20-1h0m15-5h0m41 3h0m4-3h0m3 1h0m2 4h0m5-4h0m9 2h0m0-4h0m15 2h0m4-2h0m3 7h0m6-7h0m4 6h0m4-3h0m2-3h0m3 2h0m5 3h0m13 0h0m8-1h0m2-3h0m2 4h0m3-5h0m1 2h0m4 2h0m1 2h0m2-6h0m3 6h0m2-3h0m3-3h0m4 6h0m0-6h0m2 3h0m0 1h0m5-2h0m2 3h0m1 0h0m10-2h0m2 0h0m4-2h0m2 1h0m12 4h0m0 1h0m1-1h0m3 1h0m3-5h0m13 2h0m1 2h0m4-4h0m10-2h0m14 1h0m2 4h0m4-4h0m4 6h0m4-1h0m13 1h0m24-5h0m3 2h0m-349 10h0m23-5h0m50 5h0m10-2h0m9 1h0m10-1h0m16 0h0m15-3h0m3 1h0m7 0h0m4 3h0m1-1h0m12-2h0m4 3h0m4-5h0m4 7h0m4-4h0m9-3h0m5 7h0m1-4h0m1-2h0m0 1h0m6 2h0m0 3h0m3-1h0m7-1h0m1 0h0m1-2h0m0 1h0m3-2h0m4 2h0m3-3h0m5 1h0m4 4h0m1-3h0m7 2h0m1-4h0m2 6h0m3-5h0m1-1h0m12 5h0m4 1h0m0 0h0m8 0h0m1-4h0m2 1h0m1 3h0m16-4h0m2 2h0m7-3h0m3 3h0m25-3h0m24 2h0m9 2h0m14-2h0m-356 9h0m24-4h0m29 4h0m15-3h0m3 5h0m4-6h0m21 1h0m0 4h0m1 0h0m7-1h0m11-2h0m1 4h0m11-6h0m5 6h0m1-3h0m12-2h0m5 1h0m1 0h0m2 4h0m2-1h0m2-5h0m3 5h0m1-3h0m3-1h0m2 0h0m10 5h0m0-7h0m2 2h0m2 5h0m2-4h0m3 2h0m7-5h0m5 6h0m0-5h0m0 6h0m5-2h0m5-5h0m4 4h0m4 1h0m3-1h0m8-1h0m0 0h0m4-2h0m2 3h0m8 2h0m6-4h0m4 4h0m2-6h0m3 6h0m13 0h0m3 0h0m9-2h0m1-4h0m1 3h0m3 0h0m2-3h0m9 7h0m30-3h0m4-3h0m51-1h0m-350 10h0m2 3h0m8 2h0m6-4h0m28 2h0m3-1h0m6-2h0m1 2h0m1 1h0m22-5h0m2 1h0m1 0h0m1-1h0m3 0h0m0 5h0m9-2h0m11-1h0m7 2h0m6 0h0m1 1h0m6-2h0m1-3h0m9 6h0m2 0h0m1-3h0m0 0h0m11 1h0m0-4h0m2 0h0m1 6h0m3 1h0m1-4h0m1-3h0m4 7h0m2-5h0m3 4h0m9-3h0m0 2h0m0 0h0m4 1h0m0-1h0m7 0h0m0-2h0m1 0h0m5 4h0m2-6h0m0 1h0m0-2h0m6 3h0m3 2h0m1 0h0m1 2h0m8 0h0m12-5h0m5 3h0m3-3h0m4 3h0m7-5h0m2 4h0m10-1h0m1 3h0m20-5h0m13 2h0m4-3h0m1 4h0m33-3h0m-351 10h0m31 3h0m6-4h0m11 0h0m13 0h0m4 1h0m9-2h0m9 6h0m3-2h0m15 2h0m7-2h0m6-4h0m5 2h0m6-2h0m5 1h0m1 4h0m3-4h0m2-1h0m2 1h0m3 2h0m2 0h0m0 2h0m4-3h0m3 1h0m6-3h0m3 0h0m7 4h0m7-4h0m3 4h0m2 2h0m12-1h0m1-4h0m2 1h0m1-2h0m4 6h0m0 0h0m1-1h0m0 0h0m4-6h0m2 7h0m2-3h0m1 3h0m0-4h0m2-2h0m4-1h0m0 6h0m2 0h0m1-4h0m3 5h0m0-6h0m5 1h0m4-2h0m5 7h0m2-3h0m12 2h0m3 0h0m1-2h0m0-2h0m2 1h0m9-2h0m1 2h0m2-3h0m3 4h0m1 1h0m15 2h0m4-6h0m8 0h0m5 4h0m5 1h0m2-1h0m57-2h0m11 1h0m-377 8h0m20-3h0m6 0h0m9 3h0m6 1h0m17-1h0m24-3h0m2 6h0m3-5h0m8 3h0m0 1h0m1-2h0m1 0h0m4-1h0m4 0h0m0 3h0m1-4h0m6 2h0m4-3h0m5 4h0m7 2h0m2-7h0m4 1h0m1 4h0m2-4h0m0 4h0m5 2h0m16-1h0m12-5h0m4 3h0m1 0h0m6-3h0m6 5h0m2-1h0m3 1h0m3-6h0m2 6h0m10-2h0m7-3h0m1 2h0m4 3h0m4-1h0m5-4h0m3-1h0m0 5h0m3-4h0m1 4h0m3-1h0m0-2h0m4-1h0m10 1h0m9 0h0m3-1h0m3-1h0m6 1h0m4 2h0m7 3h0m3-6h0m6 5h0m2 0h0m0 2h0m6-6h0m4 6h0m8 0h0m4-2h0m11-2h0m4 3h0m8-3h0m3 2h0m3 0h0m2-2h0m4-1h0m-371 6h0m3 7h0m15-4h0m18-2h0m29 2h0m22 4h0m6-3h0m1-4h0m1 5h0m15 2h0m3 0h0m1-3h0m1-4h0m1 2h0m2 0h0m1 2h0m5-2h0m6 2h0m5-3h0m3 6h0m3 0h0m2-1h0m3-6h0m2 7h0m1 0h0m4 0h0m10-2h0m6 1h0m3-1h0m0-3h0m5 0h0m10 3h0m5-3h0m13 5h0m4-3h0m7 0h0m1-1h0m7 2h0m4-2h0m4 4h0m3-3h0m15 0h0m6 3h0m2-6h0m3 3h0m2 3h0m9-1h0m0-1h0m3 0h0m6-5h0m3 4h0m1-2h0m1 4h0m6-6h0m9 0h0m3 7h0m2-1h0m12-6h0m5 0h0m15 6h0m30-5h0m74 2h0m-395 10h0m4 0h0m4-1h0m7-4h0m12 2h0m4-2h0m14 2h0m22 0h0m1 4h0m1 1h0m1-7h0m1 1h0m3 1h0m2 1h0m0 0h0m14-1h0m2 2h0m8-1h0m2 4h0m6-4h0m1-3h0m0 2h0m4 0h0m0 5h0m3-1h0m1-3h0m2-3h0m6 2h0m0 5h0m4-3h0m9-3h0m7 6h0m2-2h0m1-2h0m1 4h0m0-7h0m19 4h0m1 3h0m3-3h0m5-2h0m5-1h0m1 0h0m0 3h0m8 0h0m2 0h0m4-3h0m3 4h0m1-2h0m1-1h0m5-2h0m7 4h0m0 3h0m5-1h0m0-6h0m5 5h0m1-3h0m6 3h0m3-2h0m4 0h0m1 2h0m5 2h0m7-3h0m3 3h0m1-4h0m8 2h0m8-3h0m9 0h0m4-1h0m5 0h0m8 3h0m1-1h0m-323 5h0m3 5h0m0 1h0m9-6h0m20 6h0m17 1h0m10-1h0m5-1h0m1-5h0m3 3h0m10-3h0m1 4h0m23-3h0m20 5h0m2-1h0m6-1h0m7-1h0m7 2h0m1-1h0m1 3h0m4-2h0m5 1h0m4-3h0m1-3h0m8 0h0m4 1h0m7 6h0m6-1h0m2-1h0m6 2h0m0-6h0m2 5h0m7-1h0m1-4h0m1 3h0m1-4h0m2 6h0m1 1h0m3-2h0m1-1h0m2-3h0m4 4h0m9-4h0m6 4h0m0 1h0m3 1h0m4-6h0m4 6h0m3-1h0m4-5h0m6 6h0m11-3h0m26 1h0m8-5h0m2 5h0m5 1h0m4-2h0m9 2h0m12-6h0m4 7h0m12-3h0m7 2h0m5-6h0m2 2h0m-369 6h0m16 0h0m7 3h0m28 1h0m36-3h0m38 3h0m3 2h0m2-6h0m6 4h0m16-2h0m1 2h0m1-3h0m4 3h0m0-4h0m3 6h0m4 1h0m12-2h0m2-4h0m0 2h0m3-1h0m0-1h0m3-1h0m3 0h0m3 7h0m2-3h0m7 3h0m2-7h0m3 6h0m2-6h0m6 5h0m1-1h0m1-3h0m1-1h0m2 7h0m8-6h0m1-1h0m3 6h0m0-1h0m22-3h0m2 3h0m2 1h0m0-6h0m6 0h0m2 3h0m3 0h0m5-3h0m6 1h0m1 0h0m1 3h0m0-2h0m0-1h0m0 4h0m2 2h0m3-6h0m7 0h0m2 0h0m9 3h0m2 1h0m7-2h0m5-1h0m12 5h0m10-6h0m15-1h0m2 2h0m1 3h0m5-1h0m9-2h0m-355 10h0m6-2h0m20-1h0m1 2h0m5-3h0m3 6h0m1-4h0m19 1h0m0-1h0m21-1h0m1 0h0m1-1h0m3 7h0m1-6h0m12 2h0m7-3h0m8 2h0m1 5h0m15-3h0m4 2h0m0 0h0m4-6h0m8 2h0m1 2h0m5 0h0m4 0h0m2 1h0m6-5h0m1 2h0m0 2h0m2 2h0m1-1h0m3-3h0m0 4h0m1 1h0m3 0h0m2 0h0m3-6h0m10 5h0m4 1h0m0-4h0m7-2h0m7 5h0m4 0h0m4 1h0m1-2h0m0-1h0m1-1h0m5 3h0m0-3h0m8 0h0m7 0h0m5 4h0m3-6h0m1-1h0m1 4h0m1-2h0m0-1h0m4 1h0m9 2h0m3 3h0m5-6h0m6 4h0m1-5h0m6 1h0m2-1h0m11 1h0m11 2h0m12 4h0m6-7h0m12 1h0m9-1h0m18 2h0m0-2h0m22 7h0m23-1h0m2-3h0m-455 8h0m34 4h0m12-5h0m0 1h0m15-3h0m6 6h0m13-3h0m11 1h0m1 1h0m1-2h0m20-1h0m6 0h0m5 3h0m4-4h0m16 0h0m17 6h0m2-1h0m6-1h0m9 0h0m16 1h0m0-3h0m2-1h0m6-1h0m4 3h0m1 3h0m2 0h0m6-6h0m0-1h0m2 5h0m0 2h0m3-1h0m1 1h0m1-6h0m3 5h0m2 1h0m1-1h0m1 1h0m5-6h0m5 1h0m1 1h0m0 1h0m3 1h0m4-3h0m1 1h0m1 1h0m2-3h0m1 0h0m1 2h0m27 4h0m0-1h0m3-1h0m0 0h0m1 2h0m3-4h0m6 4h0m15-3h0m20-2h0m11 4h0m6-2h0m5-4h0m7 3h0m4 3h0m1-4h0m1 0h0m15 5h0m-339 6h0m7 1h0m12-5h0m3 4h0m3 0h0m10-1h0m24 3h0m1-4h0m1 4h0m3-5h0m1 5h0m14-6h0m5-1h0m7 6h0m1-4h0m8 0h0m19 5h0m13-6h0m1-1h0m3 6h0m15-2h0m14-3h0m2-1h0m0 6h0m2-1h0m6-2h0m1 0h0m0-2h0m1 1h0m4-1h0m2 0h0m6 5h0m2 0h0m4-2h0m0 2h0m18 0h0m10 0h0m10-5h0m3 3h0m1-2h0m6 1h0m3-1h0m2 0h0m2 1h0m6-2h0m2 2h0m1-1h0m2 2h0m2 3h0m3-4h0m8-1h0m7 0h0m8 0h0m6 5h0m9 0h0m1-7h0m10 7h0m4-4h0m2 4h0m1-1h0m16-3h0m22-2h0m10-1h0m27 6h0m-407 6h0m16-1h0m6 4h0m2 0h0m8-2h0m1 0h0m2-1h0m2 0h0m2 0h0m12 2h0m33-4h0m13-1h0m2 0h0m2 0h0m0 1h0m40 1h0m1 0h0m32 2h0m1-4h0m11-1h0m6 3h0m3-2h0m12-1h0m3 5h0m3-2h0m2-3h0m0 3h0m8 2h0m8-5h0m2 7h0m0 0h0m0-6h0m24 5h0m0 1h0m0 0h0m2 0h0m8-4h0m1 3h0m3-3h0m2 0h0m11-2h0m9 6h0m2-2h0m0 0h0m1 1h0m9-5h0m1 3h0m6 1h0m7 2h0m1-7h0m7 5h0m5-2h0m9 2h0m9 2h0m10-4h0m99 4h0m-456 7h0m15-2h0m5 3h0m11-2h0m12 0h0m19 1h0m1-6h0m5 7h0m7-6h0m15 2h0m11 4h0m3-1h0m0-6h0m3 3h0m2 1h0m1 0h0m7-1h0m5 1h0m12 1h0m5-5h0m9 7h0m4-7h0m10 2h0m4 5h0m3 0h0m3-3h0m1-2h0m4-1h0m9 6h0m8-6h0m5 0h0m2 4h0m6 0h0m7 2h0m3-1h0m0-2h0m6 2h0m2-2h0m2 0h0m0 3h0m9-2h0m19-2h0m1 3h0m7-2h0m0-4h0m25 3h0m5 1h0m16 2h0m2-1h0m8-3h0m5 2h0m10 0h0m10-1h0m2-3h0m1 5h0m4-3h0m5-1h0m29 1h0m10 4h0m14 1h0m15-7h0m-447 12h0m2-3h0m35-1h0m5 2h0m2 2h0m20-1h0m15 0h0m43-3h0m16 3h0m4-3h0m20 7h0m13-1h0m2 1h0m6-1h0m2-4h0m2 5h0m2-4h0m1 4h0m0-5h0m1 5h0m4-4h0m10-2h0m9-1h0m1 6h0m3-3h0m3-2h0m3 5h0m5-6h0m4 5h0m7-5h0m8 5h0m5-2h0m6 4h0m3-2h0m0 1h0m14-5h0m6 4h0m17-4h0m1 2h0m2 4h0m1-3h0m0 1h0m5-4h0m6 0h0m2 3h0m2-2h0m2 4h0m10-4h0m1 2h0m9 3h0m14-6h0m0 2h0m2-3h0m3 7h0m14-7h0m3 7h0m33-4h0m9 2h0m-389 7h0m19 0h0m29-2h0m2-2h0m17 2h0m6 5h0m13-5h0m1 3h0m22 0h0m21 1h0m4-1h0m2-4h0m1 0h0m1 5h0m12-6h0m0 0h0m15 7h0m4-1h0m21-1h0m30-5h0m16 4h0m18 1h0m5-2h0m6 3h0m3 1h0m23-4h0m1-3h0m7 3h0m30 0h0m2 1h0m4 2h0m19-5h0m5 0h0m1 3h0m0 1h0m1-2h0m5 1h0m10 0h0m16 2h0m-424 5h0m12 3h0m48-3h0m26 1h0m1-2h0m5 4h0m4-6h0m17 5h0m4 2h0m34-5h0m8 3h0m6-3h0m6 4h0m0-2h0m4 3h0m18 0h0m33-4h0m10 3h0m2-5h0m1 5h0m2-6h0m6 7h0m8-2h0m6-1h0m1 3h0m1 0h0m1-4h0m5-2h0m5 1h0m3-1h0m4 1h0m8 2h0m1 0h0m5 3h0m5-4h0m1-2h0m3-1h0m2 0h0m9 1h0m2 4h0m5-1h0m2 1h0m6-2h0m27 2h0m12 1h0m3-3h0m1 2h0m17 2h0m16-3h0m8-4h0m18 5h0m11-5h0m2 0h0m2 7h0m28 0h0m-464 6h0m19-1h0m14-2h0m41 1h0m6 2h0m8-3h0m0 0h0m2 2h0m26 0h0m41 1h0m17 0h0m6-3h0m7 5h0m6-3h0m2-2h0m28-1h0m14 4h0m1-2h0m15 0h0m3-3h0m7 3h0m2-2h0m5 5h0m16-2h0m10 2h0m10-6h0m1 0h0m7 1h0m21 1h0m8 1h0m7 1h0m10 1h0m17 1h0m7-5h0m1 4h0m60 2h0m5 0h0m-457 5h0m16 1h0m10-2h0m8 2h0m20-4h0m9 0h0m5 2h0m0 2h0m7-1h0m5 2h0m11-4h0m3 3h0m8-5h0m4 7h0m4-2h0m4 1h0m17-6h0m30 1h0m20 5h0m2-3h0m10 3h0m22-6h0m16 3h0m3 3h0m34-5h0m7-1h0m7 2h0m1 3h0m6-4h0m14 0h0m5 4h0m13 0h0m2 2h0m1-4h0m3-3h0m69 2h0m4 4h0m30-4h0m-433 10h0m48-3h0m1 2h0m5 0h0m0-3h0m32 5h0m9-4h0m1 2h0m1-2h0m10 1h0m10 0h0m6 3h0m3-1h0m22-4h0m24 5h0m8-2h0m10 4h0m37-3h0m17 0h0m6-2h0m0 5h0m6-7h0m8 4h0m10-3h0m9 6h0m6-6h0m0 3h0m14-2h0m10 0h0m12 5h0m15-6h0m6-1h0m8 0h0m13 6h0m2-1h0m9-3h0m1-1h0m5 6h0m31-1h0m-403 7h0m26-1h0m5-3h0m8-1h0m8 4h0m15-4h0m4 1h0m2 3h0m6-2h0m4 5h0m19-7h0m24 5h0m15-2h0m7-3h0m31 0h0m25 2h0m40 4h0m10 0h0m7-4h0m19 4h0m2 0h0m30-1h0m18 1h0m14-6h0m16 7h0m11-5h0m11 0h0m1 2h0m3 2h0m20-2h0m5-2h0m10 4h0m16-6h0m28 3h0m19 2h0m-468 10h0m32-6h0m1 4h0m8-5h0m10 3h0m2 2h0m17 0h0m12 0h0m33-5h0m15 3h0m4-1h0m34 4h0m51-5h0m41 4h0m15-1h0m2 0h0m28-4h0m10 5h0m7-4h0m2 5h0m29-4h0m20 0h0m8 5h0m18-1h0m3-4h0m3-1h0m11 1h0m24-2h0m44 0h0m-425 9h0m65-1h0m14 5h0m121 1h0m14-1h0m32 0h0m21 0h0m36-5h0m-392 8h0m34 3h0m20 2h0m17-5h0m0 4h0m33 2h0m45 1h0m86 0h0m56-1h0m2-4h0m15 5h0m36-1h0m52-2h0m1 2h0m19 1h0m-373 3h0m8 0h0m5 2h0m23-1h0m2 0h0m26 2h0m117-3h0m136 4h0m16 1h0m102-3h0m-417 7h0m26 2h0m22-3h0m11 4h0m21-6h0m24 0h0m5 5h0m126-1h0m49-4h0m9 4h0m46 3h0m24 0h0m85-6h0m-381 12h0m254-2h0m3 2h0m9 1h0m12-1h0m39 0h0m8-2h0m-388 12h0m79-5h0m160 4h0m52-3h0m7 0h0m27 4h0m56-3h0m-335 10h0m13-4h0m34 5h0m124 0h0m22-6h0m83 5h0m-72 2h0m-10 8h0"/>
<path stroke="#8dbcc6" stroke-opacity="0.5" stroke-width="5.0" d="M898 408h0m119 22h0m-117 8h0m50-2h0m26-4h0m95 2h0m-120 11h0m61-1h0m-16 4h0m109 2h0m-131 11h0m32 2h0m-80 5h0m128 0h0m-172 6h0m40 2h0m23 3h0m46-2h0m21 1h0m2 1h0m5-6h0m-147 8h0m18 3h0m66 0h0m37-3h0m88 5h0m51-4h0m-226 12h0m29-3h0m10-3h0m112 7h0m3-2h0m-119 3h0m21 5h0m47-1h0m27-4h0m57 1h0m33 0h0m-295 9h0m67 5h0m166-7h0m20 4h0m16 1h0m57-5h0m-346 11h0m103 4h0m104-2h0m80-5h0m30 0h0m13 3h0m15-2h0m-251 9h0m4 4h0m27 1h0m7-3h0m72 3h0m11-1h0m-110 5h0m74 3h0m11-3h0m2-1h0m24-1h0m37 6h0m14-2h0m46-2h0m7-1h0m69 1h0m-393 8h0m17-2h0m20 1h0m61-1h0m55 2h0m31-2h0m2 5h0m19-2h0m37 3h0m1-2h0m10-3h0m36 1h0m15-2h0m6 3h0m85 2h0m-371 7h0m8 1h0m51 1h0m46-6h0m39-1h0m7 4h0m56 2h0m2-4h0m9 4h0m5-3h0m74 4h0m80 0h0m-317 7h0m46-6h0m46 2h0m10-2h0m5 0h0m12 5h0m14-1h0m20 1h0m7-1h0m13 0h0m29-3h0m12 0h0m1 3h0m61 3h0m-353 6h0m13 0h0m4 1h0m22 1h0m93 0h0m11-3h0m53 2h0m6 1h0m2-5h0m10 0h0m14 1h0m9-3h0m102 4h0m-344 10h0m74 0h0m3 1h0m25 0h0m43-6h0m32 4h0m3 0h0m48 2h0m27-7h0m14 3h0m90 3h0m23-5h0m8 4h0m-358 9h0m60-4h0m7 0h0m53 0h0m5 2h0m1 3h0m39-4h0m12 4h0m4-3h0m8-2h0m3-2h0m3 0h0m5 6h0m16-4h0m21 1h0m85 4h0m-333 3h0m58 4h0m3 0h0m26-1h0m27-2h0m41 0h0m15 3h0m7-1h0m5-1h0m26 0h0m25 1h0m63-1h0m10-1h0m119 3h0m-401 8h0m7 0h0m79-2h0m15-2h0m2-2h0m52 5h0m4 2h0m41 0h0m59 0h0m28-5h0m12 5h0m2-6h0m17 2h0m9 1h0m30-4h0m-384 9h0m74 6h0m75-2h0m10-1h0m2 3h0m9-1h0m15-2h0m9 1h0m11-4h0m6 3h0m2 1h0m26-1h0m17-1h0m6 3h0m14-6h0m12 0h0m13 4h0m0-3h0m8-1h0m-340 14h0m48-5h0m8-1h0m7 1h0m28 2h0m48 4h0m60-1h0m23 1h0m4-5h0m20 2h0m25-2h0m17 1h0m7-2h0m4 4h0m30-1h0m23-4h0m3 3h0m10 4h0m51 0h0m1-1h0m10 1h0m-348 2h0m35 4h0m1 2h0m121-5h0m49-1h0m19 4h0m10 2h0m15-6h0m0-1h0m17 4h0m53 0h0m88 0h0m-381 11h0m42 0h0m14-3h0m4-1h0m35 3h0m26-4h0m13 1h0m9 1h0m3-4h0m2 3h0m15 3h0m22-6h0m13 0h0m24 0h0m27 4h0m44-4h0m27 7h0m-402 8h0m94-4h0m7 3h0m77-2h0m12 0h0m71-1h0m3 0h0m2 2h0m3-3h0m6-2h0m21 0h0m16 5h0m8-5h0m4 1h0m1-1h0m55 3h0m41 0h0m-412 6h0m31 3h0m21 2h0m12-3h0m66 4h0m50-5h0m22 5h0m102-5h0m8 1h0m1-3h0m4 3h0m5 3h0m8-4h0m2-2h0m25 0h0m19 7h0m67-2h0m-374 9h0m12-6h0m93 5h0m57-3h0m1 4h0m39-6h0m14 3h0m12 1h0m14 0h0m12 2h0m-304 5h0m19-2h0m77 3h0m28 2h0m10-4h0m64 1h0m30-2h0m17 6h0m4 0h0m20-7h0m5 5h0m12-4h0m13 6h0m48-1h0m4 0h0m0-1h0m10 2h0m12-3h0m12-3h0m16 1h0m4 5h0m-439 1h0m19 2h0m45 3h0m13-5h0m99 3h0m15-2h0m30 6h0m14-5h0m28 5h0m38-4h0m10 1h0m40-3h0m44 2h0m6 0h0m12 1h0m-268 8h0m121 0h0m11-3h0m0 2h0m2 0h0m72 4h0m4-7h0m28 0h0m1 0h0m8 0h0m22 3h0m23 4h0m80-6h0m-539 9h0m160 4h0m88-4h0m9-2h0m2 1h0m65 4h0m28 2h0m5-1h0m39-2h0m14-4h0m7 5h0m30-3h0m20 1h0m1 4h0m-431 5h0m23 1h0m269-2h0m42 1h0m52 3h0m26-6h0m-286 8h0m113 3h0m29-2h0m4 5h0m1-4h0m0-2h0m23-1h0m12 7h0m8-4h0m44-3h0m24 4h0m29 0h0m6-3h0m20 5h0m-168 4h0m70-2h0m26 0h0m16 3h0m7 3h0m20-4h0m10-1h0m18 6h0m-160 2h0m56 2h0m29-3h0m10 0h0m13 2h0m1-2h0m4 4h0m1 1h0m5-4h0m66 2h0m-200 5h0m49 5h0m4-1h0m9-2h0m2-2h0m40 5h0m22 1h0m10-5h0m-101 8h0m23 4h0m3-2h0m3 0h0m11-3h0m14 2h0m1 3h0m6-4h0m37 0h0m-125 14h0m3-2h0m24 2h0m83 0h0m60-7h0m-69 8h0m3 7h0m6-5h0m33 0h0m-100 13h0m11-2h0m45 2h0m-78 3h0m14 2h0m25 1h0m34 0h0m18-4h0m-75 9h0m19 5h0m59-7h0m15 4h0m22 3h0m30-1h0m-164 9h0m22-4h0m54 1h0m11 3h0m12 0h0m41-3h0m16-3h0m-104 12h0m1 0h0m40-5h0m2 7h0m41-2h0m-51 3h0m31 3h0m2-1h0m57-1h0m-121 11h0m70-1h0m25 4h0m-141 6h0m44-1h0m10 3h0m17-6h0m-37 14h0m50-3h0m2 0h0m4 2h0m28-6h0m9 0h0m-12 8h0m-60 8h0m22 7h0m29-2h0m1 2h0m5-3h0m50-1h0m-181 7h0m145 1h0m-135 9h0m42-2h0m4 9h0m3-3h0m5 7h0m1-2h0m-35 5h0m-22 10h0m20-4h0m27 4h0m28-2h0m17 0h0m23 2h0m-32 7h0m33-3h0m29 2h0m-116 10h0m57 1h0m-12 11h0m2 6h0m16-1h0m55-2h0m-44 14h0m-14 11h0m-37 16h0m70 1h0m-90 19h0m-40 23h0m76 0h0m-39 33h0"/>
<path stroke="#e6e2cf" stroke-opacity="0.6" stroke-width="5.0" d="M992 391h0m-58 29h0m47-4h0m32 31h0m-160 6h0m64 1h0m98-2h0m18-1h0m28 3h0m-38 9h0m-120 2h0m91 6h0m2-7h0m-16 11h0m15 2h0m80 3h0m-226 11h0m36 4h0m3-2h0m5-4h0m53 0h0m142 3h0m-184 11h0m21 0h0m21-7h0m18 6h0m34 1h0m12-7h0m73 3h0m30 4h0m-319 5h0m71 1h0m101-4h0m9 4h0m8 0h0m20 1h0m65-3h0m-251 10h0m107 0h0m53-1h0m3-4h0m37 7h0m17-5h0m0 0h0m11-2h0m62 4h0m7-2h0m-133 13h0m40-5h0m36 4h0m2-6h0m1 1h0m0 3h0m89-4h0m-235 13h0m9-1h0m76 2h0m11-6h0m36 0h0m66 5h0m-262 4h0m88 1h0m34 3h0m6-1h0m3 1h0m158-1h0m47-3h0m0 0h0m-371 11h0m115-4h0m25 7h0m48-2h0m21 1h0m51-3h0m37-3h0m-202 10h0m16 5h0m41-2h0m13-5h0m58 2h0m91 4h0m51-3h0m-327 10h0m26-5h0m38 5h0m5-4h0m7 0h0m9 6h0m22-2h0m20-4h0m11 5h0m8 1h0m37-4h0m6 1h0m1-1h0m0 4h0m15-6h0m5 6h0m11-2h0m15-5h0m36 5h0m6-3h0m23-1h0m29 1h0m-324 8h0m11 0h0m2 0h0m9 4h0m18-1h0m43 2h0m41 0h0m2-4h0m19 4h0m4-3h0m26 2h0m44-1h0m9 2h0m1 0h0m9 0h0m24-3h0m-188 8h0m32-1h0m3 2h0m2 0h0m15-4h0m8 1h0m30 5h0m11-3h0m12 1h0m5-4h0m6 0h0m1 2h0m25-1h0m3 1h0m10 2h0m119 1h0m-361 3h0m37 2h0m8-3h0m16 7h0m12-4h0m7-3h0m0 5h0m1-5h0m10 7h0m2-3h0m14-1h0m16 3h0m15-5h0m1-1h0m12 6h0m13 1h0m2-7h0m0 7h0m12-4h0m1 1h0m50-4h0m36 4h0m6-3h0m1 1h0m2 2h0m8 3h0m12-5h0m36 1h0m12-3h0m-364 13h0m56-1h0m1-2h0m17 1h0m1-3h0m5 3h0m26 4h0m8 0h0m13-5h0m3 0h0m9 1h0m20-3h0m8 6h0m8 1h0m1-6h0m5 2h0m2-3h0m1 5h0m2 2h0m10-4h0m1 2h0m20 1h0m31-3h0m22 3h0m23-1h0m22-2h0m46 1h0m85-4h0m-433 15h0m24-6h0m28 1h0m17 1h0m25 2h0m11 2h0m1-3h0m3-4h0m8 1h0m10 1h0m12 5h0m2 0h0m10-6h0m8 1h0m7 3h0m1-2h0m7 1h0m13 3h0m5-6h0m3 0h0m1-1h0m15 1h0m9 2h0m20-1h0m0 4h0m79-5h0m26-1h0m72 3h0m-403 7h0m12 4h0m34-4h0m23 1h0m6-1h0m14 0h0m20 0h0m14 0h0m10 2h0m0-2h0m19 4h0m1 1h0m5-4h0m2 0h0m11 4h0m1-7h0m6 6h0m1-6h0m13 4h0m1-2h0m8 5h0m6-3h0m5-1h0m10 3h0m4-2h0m0-4h0m15 6h0m2-2h0m5 0h0m53 1h0m12 2h0m29-5h0m6 5h0m26-4h0m16-3h0m13 3h0m-369 5h0m17 4h0m3-1h0m1 2h0m15 0h0m19-1h0m7 3h0m6-3h0m12-3h0m15 6h0m2-2h0m11 0h0m4-3h0m11-2h0m0 5h0m0-3h0m2 4h0m13-4h0m4 3h0m6-2h0m4-3h0m2 1h0m1 5h0m4 1h0m2-3h0m5-1h0m2-1h0m1-2h0m0 0h0m15 6h0m0 1h0m27-6h0m15 5h0m10-2h0m14 3h0m20-5h0m11 2h0m9 3h0m1-4h0m1-1h0m3 5h0m13-7h0m13 6h0m51-4h0m5-1h0m-481 7h0m40 6h0m42-1h0m37-5h0m28 0h0m4 1h0m15 0h0m6 2h0m23-1h0m7 0h0m15-2h0m12 7h0m3-3h0m1 0h0m6 3h0m11-2h0m1-4h0m2-1h0m3 0h0m15 6h0m9 1h0m8-4h0m1 3h0m18-5h0m24 5h0m10-4h0m23 0h0m10 4h0m13-4h0m3 2h0m3-4h0m33 2h0m3 3h0m13-1h0m8 2h0m27-5h0m-398 14h0m21-2h0m6-5h0m47 7h0m6-1h0m1 0h0m9-6h0m27 4h0m11 2h0m25-3h0m2 1h0m3-2h0m1 5h0m11-4h0m3-2h0m5-1h0m3 2h0m9 1h0m1 3h0m3-3h0m1-3h0m3 1h0m9 3h0m10 3h0m3-6h0m4 4h0m2 2h0m0 0h0m4-6h0m4 1h0m19-2h0m10 4h0m5-2h0m8 3h0m10 2h0m1-5h0m21 2h0m23 1h0m23 1h0m8 1h0m-418 8h0m47-1h0m8 1h0m12-5h0m5 4h0m9-4h0m23 2h0m10 2h0m6-4h0m2 5h0m19-2h0m24-5h0m5 0h0m9 2h0m9-2h0m11 2h0m10 1h0m19 1h0m4 2h0m1-2h0m3 0h0m1-2h0m0 4h0m1-6h0m2 5h0m10-1h0m3-4h0m2 4h0m3 3h0m1-6h0m8 2h0m9 4h0m17-1h0m4-1h0m4-2h0m2-1h0m12 3h0m7 1h0m2 1h0m6-7h0m4 4h0m6 0h0m1-2h0m19-1h0m1 5h0m14 0h0m4-4h0m1 5h0m3-1h0m5-3h0m6-3h0m34 1h0m7-1h0m68 5h0m-482 3h0m61 6h0m38-5h0m12 2h0m32-1h0m4 4h0m5-2h0m7-2h0m5 4h0m5-5h0m1 2h0m8 4h0m10-3h0m11-3h0m4 6h0m6-7h0m12 4h0m4-2h0m0 3h0m3-4h0m0 3h0m4-4h0m4 3h0m17-3h0m7 3h0m3-1h0m16 4h0m20-6h0m4 2h0m0-2h0m3 1h0m0-1h0m14 2h0m5 0h0m18-1h0m5 1h0m11-2h0m2 0h0m5 5h0m7-3h0m31 0h0m9 0h0m40 4h0m-330 2h0m9 0h0m2 1h0m3 6h0m2-5h0m8-2h0m18 5h0m2-2h0m3-3h0m9 0h0m26 3h0m1 4h0m0-6h0m2 3h0m1-3h0m12 3h0m6-1h0m6 1h0m2 0h0m17-2h0m10 1h0m2 0h0m5-2h0m5 3h0m20-2h0m1 4h0m15-2h0m1-3h0m14 0h0m4 0h0m12 0h0m10 5h0m2-6h0m20 3h0m7-1h0m10 0h0m7 1h0m26-1h0m17 3h0m-391 10h0m58 0h0m74-4h0m5 3h0m7-3h0m14 2h0m19-1h0m2 2h0m2-2h0m7 0h0m6-2h0m6-2h0m15 7h0m3-2h0m20 1h0m11-2h0m1 1h0m0 1h0m3-3h0m7 0h0m2-2h0m11-1h0m24 3h0m6 3h0m1-6h0m0 4h0m25 0h0m18 2h0m0-3h0m5 1h0m10 3h0m6-7h0m4 4h0m-442 5h0m42 0h0m37 1h0m39 4h0m46-6h0m4 7h0m9-1h0m18-6h0m5 7h0m3-4h0m3 1h0m1-2h0m7 2h0m5-1h0m2 4h0m17-7h0m16 0h0m1 0h0m16 2h0m13 3h0m19 1h0m3-5h0m14-1h0m16 4h0m2-2h0m9-1h0m2 6h0m3-2h0m1-5h0m3 4h0m19 1h0m1-1h0m4-1h0m4-1h0m7 0h0m4 1h0m0-1h0m1-2h0m12 0h0m13 7h0m11 0h0m19-2h0m-404 9h0m73 0h0m47-1h0m14-5h0m29 4h0m1 2h0m4-3h0m11 1h0m7 1h0m14-3h0m1 0h0m24 1h0m1 4h0m5-4h0m7 2h0m5 2h0m8-3h0m10-3h0m7 5h0m3-5h0m1-1h0m2 2h0m3 4h0m8-2h0m4 0h0m19 3h0m8-4h0m0 2h0m20 1h0m6-3h0m2 4h0m6-3h0m6 2h0m8-1h0m22 0h0m2 1h0m0-3h0m9 2h0m32-2h0m-454 7h0m62 2h0m54 1h0m34-5h0m4 6h0m15-6h0m7 4h0m11 1h0m5-4h0m17-1h0m2 0h0m5 4h0m1 0h0m11 2h0m28-2h0m9 2h0m9-6h0m16 7h0m8-7h0m7 3h0m5-2h0m1 0h0m2 6h0m7-3h0m11 0h0m8-2h0m2 2h0m0-4h0m8 3h0m6 2h0m31 1h0m3-3h0m5-1h0m2 5h0m12-4h0m28-1h0m33-2h0m-453 15h0m68-2h0m68-2h0m20-3h0m7 5h0m4-1h0m40 1h0m29 1h0m8 1h0m2-7h0m14 0h0m3 0h0m7 4h0m6-3h0m1 2h0m3-2h0m6 0h0m9 1h0m5 1h0m11 1h0m31-2h0m2 3h0m7 2h0m1-2h0m8-3h0m11-2h0m2 7h0m4-4h0m1-2h0m8-1h0m2 7h0m21-4h0m40 4h0m-349 4h0m33-3h0m12 7h0m26-7h0m66 6h0m13-4h0m2-2h0m9 0h0m19 3h0m1-1h0m7 2h0m6 1h0m22-3h0m16-2h0m11 7h0m9-5h0m3-2h0m0 1h0m16 4h0m1-5h0m25 3h0m22-1h0m-322 13h0m0-5h0m56 3h0m5-5h0m5 1h0m3 3h0m12 1h0m2 2h0m17-2h0m27 2h0m4-3h0m41-1h0m27-2h0m1-1h0m4 7h0m1-3h0m16 2h0m10-5h0m1 5h0m4-2h0m4-4h0m4 0h0m3 6h0m10-6h0m15 4h0m20-3h0m40-1h0m-453 11h0m14 1h0m126-4h0m11 7h0m2-3h0m22-4h0m6 3h0m6-1h0m11 5h0m53-7h0m0 4h0m33 3h0m2 0h0m46-6h0m2 3h0m4 3h0m4-5h0m2 5h0m29-7h0m13 5h0m2-2h0m9 1h0m3 2h0m22 0h0m2-4h0m5-1h0m7 6h0m0-5h0m3 5h0m20-6h0m14 3h0m-416 4h0m185 4h0m9-4h0m7 6h0m19-5h0m23 2h0m36 0h0m3-3h0m5 5h0m7-5h0m6 2h0m11 5h0m5-2h0m2-5h0m7 6h0m7 0h0m4-3h0m7 4h0m5-2h0m5-4h0m1 1h0m17-1h0m52 1h0m1 5h0m-338 7h0m14-6h0m96 3h0m23 0h0m14 0h0m74-3h0m3 2h0m26 4h0m5-6h0m7 2h0m24-2h0m14 1h0m8-1h0m-339 10h0m122 1h0m123 3h0m2-3h0m0 3h0m11-1h0m1 2h0m26-6h0m19 0h0m10-1h0m16 2h0m0 4h0m-177 4h0m37-2h0m9 1h0m24 2h0m1-1h0m1 5h0m3-3h0m45 1h0m36-3h0m4 5h0m-180 6h0m90-5h0m5 4h0m11-4h0m26 5h0m34-4h0m46 2h0m-182 12h0m51-2h0m13 1h0m6-5h0m4 3h0m19 0h0m8-3h0m1 4h0m33-2h0m7 0h0m24 2h0m-201 3h0m58 2h0m39 4h0m6-4h0m5 4h0m11-4h0m15 0h0m7 1h0m7-1h0m5 2h0m15-2h0m31 0h0m1-1h0m0 5h0m-191 2h0m79 0h0m3 1h0m15 6h0m27-3h0m2 0h0m25 0h0m0 1h0m4 1h0m-116 7h0m7-3h0m18 2h0m32 2h0m4 1h0m11-3h0m0-3h0m45 3h0m16-2h0m-144 8h0m12 3h0m33 2h0m29-1h0m9-6h0m68 0h0m23 3h0m10 2h0m-208 7h0m57-2h0m8 0h0m21-1h0m4-1h0m23 1h0m7 6h0m6-3h0m8 3h0m22 0h0m4-2h0m48-1h0m-105 8h0m14-3h0m55 6h0m49 0h0m-181 5h0m5 1h0m21-3h0m14 4h0m14-3h0m14 1h0m12 1h0m5-4h0m23-1h0m-121 13h0m42-3h0m50 4h0m13-5h0m4 0h0m13 1h0m13 1h0m21 2h0m18-4h0m-163 13h0m21-5h0m60 6h0m13-5h0m2 1h0m27-3h0m-86 9h0m38 0h0m29 4h0m11-1h0m39 2h0m-130 4h0m7 4h0m12-1h0m32-2h0m16 3h0m24 0h0m-128 4h0m31 5h0m72-4h0m22 0h0m6 3h0m-13 8h0m5-5h0m-78 8h0m5 1h0m52-2h0m4 5h0m-69 5h0m23 4h0m38-6h0m-52 14h0m-2 7h0m51-1h0m-73 6h0m83-1h0m4 2h0m5-3h0m16 2h0m60 0h0m-163 13h0m67-3h0m5-2h0m25-2h0m-120 8h0m119 3h0m0 4h0m16-2h0m-80 3h0m19 2h0m-27 13h0m18-1h0m48-6h0m2 6h0m-6 2h0m-79 28h0m42-3h0m8 13h0m52 3h0m-48 14h0m29 2h0m12 2h0m-25 14h0"/>
<path stroke="#fbbd9c" stroke-opacity="0.55" stroke-width="5.2" d="M888 544h0m93 5h0m1-3h0m47 2h0m-45 8h0m44 1h0m18 2h0m14-1h0m-163 3h0m76-1h0m17 4h0m29-2h0m25 1h0m19-1h0m6-2h0m-203 14h0m64-3h0m13 3h0m4 0h0m14-2h0m88-2h0m-235 12h0m77-4h0m46 0h0m41 1h0m6 3h0m10-5h0m2 5h0m19 0h0m15-4h0m12-1h0m4 5h0m1-4h0m23 3h0m55 0h0m13-5h0m56 3h0m-296 9h0m7-1h0m23-3h0m4 6h0m7-3h0m26-2h0m9 2h0m21-1h0m8 2h0m8 0h0m1 3h0m53-1h0m5-2h0m5-2h0m12-1h0m8 6h0m11-1h0m19 0h0m20 1h0m-296 4h0m48-3h0m18 5h0m59-2h0m29-2h0m6 0h0m8 4h0m0 1h0m1-5h0m11 5h0m3-4h0m10 5h0m7-1h0m55 1h0m4-3h0m52 2h0m-264 9h0m3-1h0m28-6h0m13 2h0m15 4h0m2 1h0m13 0h0m6-3h0m1 2h0m17-2h0m2 3h0m0-4h0m16 4h0m6-2h0m5 2h0m13-2h0m11 0h0m5-5h0m3 4h0m1 0h0m8 1h0m9 1h0m3 0h0m9 0h0m0-1h0m73-1h0m36-4h0m-343 15h0m13-5h0m16 5h0m6-7h0m72 4h0m33-2h0m3 0h0m0 2h0m11 1h0m1 2h0m8-7h0m2 3h0m30 3h0m5-1h0m1-4h0m0 5h0m3 0h0m6-5h0m3-1h0m2 1h0m10 0h0m2 1h0m24 1h0m6 2h0m7-2h0m2 3h0m31 0h0m-286 9h0m68-7h0m2 4h0m8-2h0m9 4h0m4-1h0m4-3h0m7 1h0m1 4h0m4-5h0m11 3h0m12-4h0m6 1h0m3 5h0m4-5h0m2-2h0m4 6h0m12-3h0m6 0h0m9 1h0m8-1h0m8-2h0m5 0h0m2 5h0m17 1h0m17-2h0m1 2h0m12-7h0m4 7h0m0 0h0m19-5h0m6 2h0m42 2h0m26-6h0m30 5h0m-345 5h0m15 4h0m20-5h0m9-1h0m12 4h0m0 3h0m6-6h0m3 3h0m22-4h0m2 6h0m3-4h0m4-1h0m12 6h0m9-5h0m3-1h0m1 5h0m17-5h0m11 2h0m1 3h0m8-3h0m10 3h0m0-1h0m13-5h0m0 3h0m4 4h0m16-7h0m0 2h0m47 4h0m34-5h0m37 2h0m32 4h0m32-2h0m-346 6h0m9 0h0m27 0h0m2-2h0m9 5h0m7-5h0m40 3h0m12 2h0m4 1h0m4-6h0m14 5h0m2 1h0m3-3h0m8 2h0m4-3h0m9-2h0m10 6h0m4-6h0m8 5h0m24-3h0m28 2h0m42-4h0m-294 7h0m3 6h0m37 0h0m6-5h0m1 3h0m10-4h0m38 5h0m24-5h0m7 1h0m8 5h0m5-6h0m2 3h0m3 4h0m6-1h0m26-2h0m1-4h0m5 1h0m3 2h0m1 0h0m3 2h0m2-3h0m2 2h0m8 1h0m3-5h0m2 5h0m31-4h0m3-1h0m8 1h0m29 4h0m90-4h0m1 1h0m-331 10h0m0 1h0m2-2h0m31-2h0m16 0h0m13 2h0m3-1h0m6 5h0m3-4h0m13-3h0m9 3h0m8 4h0m1-3h0m40-4h0m3 6h0m28-5h0m11 2h0m4 4h0m9 0h0m5-2h0m19-3h0m3 3h0m8-4h0m9 4h0m24 0h0m3-3h0m30-2h0m-322 11h0m82 1h0m16-4h0m8 2h0m17 1h0m7 0h0m2 4h0m4-2h0m12 1h0m5-5h0m10 2h0m11 4h0m3-4h0m6 3h0m11-3h0m12 2h0m15-3h0m1-1h0m1 3h0m10 1h0m13-3h0m8 2h0m28-4h0m0 4h0m-264 7h0m36 4h0m0 0h0m1-7h0m17 4h0m3 3h0m18-3h0m21 3h0m13-3h0m8 3h0m6-7h0m19 3h0m0-3h0m8 5h0m2 2h0m14-3h0m12-4h0m7 7h0m6-1h0m9-1h0m14-3h0m1 5h0m26-5h0m12-1h0m13 2h0m10-2h0m2 0h0m2 4h0m1 1h0m41 1h0m25-4h0m-412 6h0m71-1h0m8 5h0m19-3h0m14 1h0m14 3h0m15-1h0m8 0h0m12-3h0m10 4h0m1-3h0m20-3h0m17 1h0m1 4h0m31 1h0m11 0h0m6-5h0m10 4h0m3-2h0m15-3h0m29 1h0m8 1h0m12 1h0m19-1h0m4 5h0m20-6h0m8 4h0m39 1h0m-424 4h0m65 0h0m23-1h0m47 0h0m7 2h0m25-1h0m1 0h0m2 4h0m18 1h0m7-4h0m43 2h0m10-2h0m22 1h0m4-2h0m8 5h0m3 0h0m13 0h0m13-5h0m6 1h0m37-2h0m12 2h0m36-3h0m-357 12h0m33-1h0m31 1h0m41-1h0m8-2h0m11-1h0m43 2h0m3 2h0m19 0h0m20 3h0m7-2h0m5-4h0m12 0h0m7 4h0m3-2h0m4 3h0m6-1h0m7-2h0m11-3h0m7 0h0m1 7h0m2-1h0m20 0h0m7 1h0m2-5h0m6 3h0m18 1h0m6 0h0m6-5h0m13 6h0m-427 1h0m74 6h0m16 1h0m23-4h0m46-3h0m22 5h0m37-3h0m14-2h0m27 4h0m2 0h0m8 2h0m2-2h0m4 0h0m7 3h0m8-6h0m9 6h0m0-3h0m7-1h0m6-3h0m3 2h0m18 0h0m47 4h0m2-4h0m35-1h0m42 0h0m-422 9h0m95-2h0m47 7h0m38 0h0m73-7h0m6 0h0m7 5h0m1-4h0m4 5h0m23-3h0m6 0h0m17 3h0m12 1h0m50-3h0m28 0h0m-388 7h0m54 1h0m14-1h0m60 4h0m50-7h0m7 7h0m9-5h0m10 3h0m98-2h0m6 4h0m25-3h0m10 0h0m15-3h0m4 6h0m2-3h0m13-4h0m12 1h0m-183 13h0m53-4h0m2 4h0m0-1h0m10-2h0m20 3h0m1-6h0m0 6h0m3-4h0m27 0h0m6-2h0m18 5h0m2-1h0m12 1h0m8-5h0m0 2h0m30 1h0m4-2h0m-362 8h0m11 6h0m37-7h0m4 6h0m54-6h0m66 0h0m70 6h0m34-1h0m2 2h0m10-1h0m30 1h0m23-1h0m-248 2h0m25 4h0m40 3h0m20-5h0m28-2h0m7 1h0m0 0h0m5 1h0m15 2h0m24-3h0m1 5h0m31-5h0m19 0h0m12 5h0m29-2h0m-207 10h0m16-4h0m4-2h0m21 0h0m8 0h0m17 0h0m7 4h0m2-3h0m0 6h0m31-7h0m11 0h0m3 1h0m1 0h0m26-1h0m5 7h0m10 0h0m-125 5h0m2 0h0m40-2h0m13-2h0m13 6h0m2 0h0m6 0h0m8-2h0m-39 8h0m18 1h0m58-3h0m1-2h0m14 4h0m-86 5h0m15 1h0m16-2h0m25 6h0m16-1h0m22-5h0m21 6h0m-176 6h0m28-2h0m26-1h0m37 2h0m7-1h0m3 4h0m9-3h0m5-2h0m6 4h0m15 0h0m2-5h0m-82 15h0m4-3h0m47-4h0m8 7h0m4 0h0m-128 5h0m35-2h0m6 2h0m23 0h0m34-3h0m11 3h0m2 0h0m-76 7h0m3-2h0m8 0h0m37 6h0m56-5h0m-123 10h0m17 3h0m36-7h0m26 1h0m20 5h0m26 1h0m51-4h0m-182 12h0m17-5h0m48 3h0m13-2h0m30 4h0m2 0h0m-103 5h0m3-4h0m44 4h0m5-1h0m0 3h0m5-3h0m7 1h0m14 3h0m67-5h0m5 5h0m-187 8h0m49-3h0m9-1h0m2 1h0m57 1h0m19-2h0m-78 12h0m32-5h0m5 5h0m18-5h0m6 5h0m12-5h0m12 1h0m7 1h0m72-3h0m-213 17h0m19 3h0m20-1h0m36 2h0m102-5h0m15 4h0m4-4h0m-202 12h0m54-3h0m4 5h0m9-1h0m6 0h0m22-3h0m4 1h0m6 1h0m14-5h0m11 5h0m9 1h0m16-4h0m-122 6h0m69 2h0m18-1h0m15 6h0m4-6h0m7 5h0m7-4h0m10-2h0m41 6h0m-172 9h0m23-4h0m2 1h0m11-3h0m4 2h0m2 1h0m14-4h0m13 5h0m5-2h0m39 3h0m7-4h0m-114 12h0m57-5h0m0 3h0m58-4h0m19 0h0m-160 14h0m56 1h0m19-7h0m4 6h0m2-6h0m6 3h0m9 0h0m-25 5h0m23 5h0m7-2h0m20-2h0m-77 9h0m4 0h0m4 1h0m35-1h0m52 5h0m-61 8h0m41-6h0m-25 12h0m13-1h0m37-3h0m-107 7h0m5 0h0m89 4h0m47 2h0m-160 2h0m87 0h0m13 6h0m20-1h0m3 1h0m-58 2h0m-85 13h0m124-2h0m42 8h0m-36 8h0m1 1h0m7-1h0m-110 12h0m36 0h0m38-2h0m27 9h0m35-2h0m-118 13h0m128 3h0m-138 13h0m23 0h0m-90 8h0m97 18h0m-22 6h0m4 2h0m4-2h0m-93 19h0m20 32h0"/>
<path stroke="#fa8a68" stroke-opacity="0.5" stroke-width="5.4" d="M904 532h0m23 15h0m7 16h0m-37 12h0m110-5h0m20 3h0m28-3h0m-214 7h0m97-1h0m13 1h0m67 3h0m39-4h0m41 4h0m-136 8h0m0 0h0m52 3h0m40 0h0m57-2h0m-181 7h0m62 2h0m22-1h0m29 0h0m2-3h0m72 5h0m-314 1h0m151 6h0m37 0h0m6 0h0m21-6h0m0 0h0m5 4h0m69-1h0m-266 9h0m108-3h0m41 6h0m6-1h0m15-1h0m55-4h0m13 0h0m4 5h0m9-6h0m103 2h0m11 5h0m-351 6h0m31 0h0m30 2h0m22 0h0m59-5h0m9 0h0m22 3h0m150 1h0m-327 8h0m123-5h0m12 4h0m14-5h0m8 7h0m2 0h0m35-5h0m42-1h0m37-1h0m-109 13h0m2-3h0m1 5h0m5 0h0m25-3h0m6 1h0m12-1h0m0 3h0m2-2h0m40-3h0m36 0h0m21 4h0m95 1h0m-398 2h0m8 0h0m40 3h0m46-1h0m19 3h0m5-1h0m18-5h0m65 7h0m11-6h0m48 4h0m24-1h0m29 3h0m41-3h0m16 3h0m-289 1h0m69 7h0m10-6h0m1-1h0m34 6h0m24-2h0m24 2h0m12-3h0m18-3h0m21 0h0m89 3h0m29-1h0m-340 11h0m7-5h0m23 4h0m28 0h0m9-3h0m11 2h0m5-1h0m19 1h0m1 1h0m62 3h0m13-4h0m2 4h0m50 0h0m1-7h0m7 4h0m8-4h0m14 6h0m22-6h0m1 4h0m34-1h0m27-1h0m-411 8h0m13 5h0m105-7h0m38 2h0m3 5h0m3-5h0m8 5h0m15-1h0m7 0h0m18-3h0m8 4h0m2-1h0m7-4h0m0 3h0m53-5h0m2 2h0m20-1h0m30-1h0m18 2h0m56 5h0m-415 7h0m15-3h0m108-2h0m36-1h0m7 0h0m0 3h0m1 1h0m8 3h0m16-5h0m36 1h0m57 4h0m11-5h0m2 0h0m4 1h0m17-3h0m0 6h0m12-6h0m9 7h0m31-5h0m12 1h0m3-3h0m-316 10h0m38 5h0m19-3h0m17 1h0m23-5h0m11 3h0m11 0h0m0 1h0m8-2h0m0-2h0m10 3h0m3 3h0m12-5h0m40 5h0m7 0h0m3-1h0m14-5h0m11 1h0m16-1h0m67 2h0m-368 11h0m51 2h0m32-6h0m14 3h0m37-2h0m10-2h0m0 2h0m19 4h0m15-5h0m30 1h0m8 5h0m3 0h0m29-5h0m23 0h0m4 0h0m9 3h0m14 2h0m10-4h0m36-1h0m7 2h0m27 3h0m-272 8h0m3-7h0m36 7h0m16-6h0m2 0h0m2 0h0m17 6h0m37-3h0m18-1h0m14 3h0m16-5h0m21 1h0m12 3h0m1 1h0m42-1h0m26-2h0m14 3h0m55-1h0m-380 6h0m13-1h0m64 2h0m38-1h0m28 0h0m17-2h0m11 1h0m10 0h0m15 2h0m11 3h0m5-6h0m0 4h0m29-1h0m71 3h0m-330 8h0m23-1h0m3-6h0m9 5h0m13-3h0m17-2h0m31 5h0m7 0h0m0-2h0m12 1h0m5 2h0m31-3h0m4-3h0m6 0h0m2 4h0m3 3h0m2-5h0m8 0h0m30 3h0m6-1h0m3 3h0m10-6h0m2 6h0m26-3h0m2-2h0m20 1h0m4 4h0m58-7h0m52 5h0m-441 8h0m6-2h0m64 0h0m71 3h0m1-4h0m1 3h0m0-4h0m21 5h0m14-5h0m1 6h0m12-2h0m10-2h0m28 2h0m9 2h0m28 0h0m4-1h0m122-1h0m-301 10h0m16-3h0m3-2h0m15 0h0m14-1h0m3 0h0m5 4h0m2 2h0m24-1h0m15-1h0m3-4h0m5 0h0m4 4h0m75-2h0m15 3h0m59-3h0m-236 5h0m6 0h0m4 2h0m53 2h0m25 0h0m33 1h0m10-5h0m11 2h0m29 2h0m40 2h0m1-6h0m49 2h0m-345 13h0m42-5h0m39 1h0m37 0h0m2-1h0m4 2h0m14-3h0m8 0h0m9-1h0m56 4h0m7 0h0m45-4h0m45 5h0m-177 7h0m2-1h0m12 1h0m7 0h0m21-2h0m15 2h0m7-1h0m43 1h0m6 0h0m18 3h0m3-1h0m52-4h0m-305 10h0m66-4h0m2 3h0m19-3h0m10 5h0m4-2h0m27 3h0m6 1h0m16-4h0m1 1h0m13 0h0m1-1h0m25 0h0m28 1h0m12 0h0m8-3h0m9 5h0m50 0h0m-293 5h0m50 0h0m13-2h0m16 4h0m12-3h0m3 3h0m66-1h0m1 3h0m6-4h0m18-2h0m7 4h0m7-1h0m1 0h0m5-4h0m23 3h0m3 0h0m9 1h0m9-3h0m95 4h0m-309 7h0m39 2h0m36-5h0m4 5h0m3 1h0m26 0h0m55-5h0m6 3h0m40 1h0m77-4h0m10 1h0m3 2h0m-373 4h0m82 4h0m26-5h0m15 3h0m4 0h0m20 0h0m3-2h0m9-1h0m5 0h0m11 7h0m3-1h0m25 0h0m3-5h0m0 3h0m15-4h0m4 4h0m7 0h0m1 2h0m4-1h0m15-5h0m7 3h0m82 2h0m-329 8h0m50 1h0m25-3h0m4 0h0m7-2h0m28 5h0m15-6h0m11 3h0m4 0h0m8 2h0m38-4h0m15 4h0m27 1h0m5 0h0m5-6h0m19 2h0m0-1h0m0 4h0m43-1h0m55-4h0m-297 15h0m43-6h0m21-1h0m0 2h0m21 2h0m16-1h0m6 0h0m0 1h0m35-4h0m54 5h0m6-5h0m7 6h0m25-3h0m65 2h0m-327 3h0m30 2h0m32 4h0m1 1h0m34-6h0m6 3h0m31 0h0m1-2h0m2 1h0m18 0h0m8 1h0m8-3h0m14 1h0m0-1h0m7 0h0m10 0h0m16 4h0m11-1h0m31-2h0m1-1h0m-220 10h0m61-2h0m5 1h0m5 3h0m12-1h0m0-1h0m6-3h0m16 5h0m11 0h0m14-3h0m4 3h0m41 2h0m6-1h0m27 0h0m3-3h0m1 1h0m57-4h0m30 0h0m-256 10h0m5 1h0m2 1h0m27 3h0m1-2h0m25 0h0m6 0h0m9-5h0m10 5h0m8 2h0m1-2h0m10-4h0m3 2h0m42 3h0m61-6h0m13 2h0m62 5h0m-356 1h0m21 6h0m30-6h0m58 7h0m12-1h0m1-6h0m5 2h0m21-1h0m9 3h0m9 2h0m6-1h0m29 1h0m14 0h0m2-3h0m21 2h0m7 1h0m51-5h0m6 0h0m43 3h0m-375 10h0m97-1h0m10 1h0m12 0h0m0-2h0m6 2h0m0 0h0m7 1h0m2-7h0m0 1h0m2 4h0m6 0h0m8 2h0m3 0h0m5-4h0m6 1h0m7-1h0m6 4h0m13-3h0m4 3h0m11-1h0m30-2h0m0-3h0m23 3h0m14-4h0m12 2h0m139 1h0m-365 8h0m0-1h0m2 5h0m78-3h0m47 2h0m19-6h0m6 1h0m4 5h0m7 1h0m0 0h0m0 0h0m53-4h0m4 0h0m41 4h0m0-6h0m6 1h0m1 3h0m-324 6h0m3 4h0m25-4h0m17 4h0m32-1h0m4 1h0m13-4h0m8 3h0m16-1h0m47 0h0m19 2h0m4-4h0m28 2h0m10-2h0m0-1h0m39 1h0m32-2h0m-218 7h0m4 2h0m19 1h0m9 2h0m5-1h0m13 1h0m74-3h0m3 4h0m76 1h0m38-4h0m2-1h0m39-2h0m-347 15h0m24-5h0m12 0h0m67 5h0m20 0h0m6-1h0m27 1h0m7 0h0m47-6h0m29 3h0m45-3h0m8 4h0m16-2h0m69 4h0m-351 6h0m26-4h0m48 5h0m11 0h0m4-2h0m4-1h0m7-3h0m10 0h0m0 4h0m12 3h0m20-1h0m18-5h0m8 0h0m1 6h0m3-5h0m2 2h0m6 0h0m26 2h0m37-1h0m33 0h0m-274 5h0m57 0h0m3-1h0m5 2h0m7 1h0m9-3h0m62 6h0m3-6h0m5 4h0m8-1h0m3 2h0m53 0h0m73-6h0m37 7h0m-347 2h0m60 1h0m2 2h0m47-4h0m45 4h0m4-1h0m29 1h0m2 3h0m10-7h0m2 1h0m76 5h0m13-1h0m-220 6h0m40-2h0m12 2h0m13 0h0m20 4h0m3 0h0m79-7h0m77 4h0m-305 11h0m105-6h0m2 4h0m8-5h0m8 1h0m8 0h0m41 2h0m73 4h0m36-4h0m38-1h0m-342 10h0m20-1h0m58-3h0m10 0h0m6 1h0m46 5h0m50-3h0m31 1h0m37-1h0m68 3h0m-273 9h0m6-7h0m1 5h0m19-1h0m6-2h0m30 2h0m37-3h0m10 6h0m7-2h0m3 0h0m35 1h0m42-4h0m95 5h0m-248 3h0m32-1h0m7 5h0m3-3h0m37-2h0m8 3h0m29 0h0m5-4h0m15 6h0m75-4h0m17 1h0m19 2h0m76-4h0m-415 8h0m21 4h0m49-1h0m14-1h0m52-2h0m8 1h0m14 5h0m31-4h0m50 4h0m58-6h0m-254 14h0m53-2h0m204 2h0m-267 6h0m71-2h0m7 3h0m52-4h0m28-2h0m10 6h0m23 1h0m7-6h0m9 5h0m5-5h0m26-1h0m15 5h0m-212 5h0m17 0h0m12 0h0m5-2h0m64 2h0m13 0h0m-147 8h0m16 3h0m14-1h0m2-2h0m113-2h0m10 1h0m38-1h0m-155 12h0m16 1h0m134-4h0m48 6h0m-68 5h0m38-4h0m4 3h0m9-1h0m19 5h0m-67 7h0m11-2h0m-124 10h0m57-6h0m31 7h0m19-7h0m12 3h0m15 1h0m122-3h0m-209 10h0m22-2h0m28-1h0m2 3h0m56-2h0m10 5h0m-35 8h0m69-2h0m-120 21h0m22 4h0m52-1h0m-1 13h0m92 9h0m-142 13h0"/>
<path stroke="#f54b27" stroke-opacity="0.45" stroke-width="5.4" d="M1037 617h0m10 1h0m10 4h0m18-3h0m-113 8h0m46-3h0m14 7h0m30-3h0m56 1h0m21 0h0m-184 4h0m15 3h0m30-2h0m32-2h0m15 1h0m4 2h0m16 3h0m21-1h0m25-1h0m7-1h0m-179 7h0m30-1h0m18 5h0m3-1h0m22-1h0m19 3h0m9-1h0m0-6h0m11 1h0m2 1h0m24 0h0m7 3h0m12-3h0m0-2h0m-221 13h0m56-3h0m7 1h0m19-1h0m35 1h0m29-3h0m16 3h0m29-3h0m36 5h0m5-4h0m14 2h0m85-2h0m33 5h0m8 1h0m-321 7h0m6-1h0m6-2h0m10 3h0m29 0h0m16-3h0m16 1h0m32-2h0m1 0h0m1-2h0m1 5h0m3-1h0m5 2h0m4 1h0m5-6h0m47 5h0m2 1h0m45 0h0m2-2h0m-255 9h0m12 1h0m17-4h0m6-2h0m2 4h0m15-3h0m17 2h0m9 3h0m8 0h0m0-6h0m21 1h0m0 3h0m0 2h0m7 0h0m4-7h0m6 5h0m8-1h0m7-4h0m12 6h0m5-5h0m3 2h0m4-3h0m2 2h0m0 2h0m10 0h0m1-2h0m26 2h0m10-3h0m13 0h0m9 1h0m15-2h0m8 1h0m17 5h0m-203 9h0m10-6h0m17-1h0m6 6h0m6-5h0m1-1h0m2 7h0m3-3h0m3 2h0m2-1h0m2-3h0m17 4h0m6-3h0m1 1h0m8 3h0m14-7h0m3 2h0m2 1h0m3 3h0m23-3h0m1 0h0m19 2h0m0 2h0m4-1h0m16-3h0m3 1h0m11 3h0m4-7h0m3 5h0m3-3h0m21 2h0m20-1h0m-256 7h0m4-2h0m0 6h0m9-3h0m7 3h0m0-1h0m3-3h0m0-2h0m5 0h0m7 1h0m15 3h0m1-3h0m2 5h0m1-5h0m14 5h0m0-2h0m0 2h0m12-1h0m5-5h0m1 0h0m6 5h0m3-4h0m9-1h0m4 5h0m0-4h0m10 1h0m8 1h0m6-3h0m1 4h0m4-2h0m6 1h0m2 2h0m12-3h0m1 3h0m20 0h0m6 0h0m0 2h0m7-3h0m15 1h0m10 1h0m18-4h0m28 1h0m-358 7h0m60 1h0m6 3h0m3-2h0m12 3h0m4-6h0m11-1h0m7 0h0m10 1h0m11 1h0m6 5h0m10-7h0m2 0h0m17 2h0m8 1h0m4 4h0m3-5h0m6 1h0m1-1h0m3-1h0m0 1h0m3 5h0m3-5h0m6 4h0m3 0h0m4-3h0m1-3h0m3 6h0m3-1h0m3-3h0m1 0h0m2-1h0m1 4h0m8 1h0m0-1h0m5-3h0m11-1h0m5 2h0m6 2h0m18 0h0m24 2h0m1-6h0m2 4h0m2-5h0m3 5h0m8-3h0m20 3h0m1-4h0m9 1h0m21 1h0m-289 6h0m19 4h0m2-4h0m0 3h0m4 2h0m22-6h0m7 5h0m13-1h0m4-4h0m10 3h0m2 2h0m7 1h0m5-2h0m4-1h0m2 1h0m6 3h0m0-4h0m11 2h0m1 1h0m1-4h0m3 5h0m2-1h0m3 1h0m6-2h0m0 2h0m2-5h0m1 5h0m1-7h0m0 5h0m0 1h0m1-6h0m6 4h0m3-2h0m5 5h0m1-5h0m0 2h0m1-1h0m7-2h0m4 5h0m2 1h0m6-6h0m4 3h0m0-2h0m1 2h0m8 1h0m2-1h0m4-3h0m6 4h0m18 2h0m14-2h0m0 2h0m10 0h0m4-3h0m2 0h0m-280 5h0m5 4h0m44 0h0m8-4h0m5 0h0m8 3h0m1 1h0m0 2h0m5-1h0m10-1h0m3-4h0m19 1h0m2 0h0m4-1h0m0 3h0m2 2h0m8-1h0m1-1h0m4 1h0m3-5h0m0 3h0m0 2h0m6 1h0m8-2h0m9-4h0m2 7h0m4-5h0m2 1h0m6 0h0m4 2h0m4-4h0m6 2h0m0 1h0m1-1h0m5-3h0m17 3h0m3 3h0m1-4h0m0-2h0m0 6h0m6-6h0m6 1h0m1 5h0m0-1h0m5-1h0m14 0h0m2-1h0m0 2h0m29-4h0m7 4h0m3 1h0m5-6h0m12 0h0m4 7h0m2-6h0m1 0h0m4 4h0m5-2h0m-310 10h0m13-3h0m14 3h0m18-5h0m2 5h0m3-3h0m14-2h0m3 7h0m4-2h0m8-5h0m9 7h0m8-2h0m1-2h0m0 4h0m4-2h0m1-3h0m1 1h0m5 1h0m6 3h0m16-1h0m1-5h0m15 0h0m1-1h0m2 3h0m4 1h0m1-1h0m1 4h0m0-2h0m5-3h0m6 2h0m8 1h0m6-3h0m7 1h0m3 3h0m1 1h0m1-6h0m0 0h0m5 1h0m5 5h0m0-1h0m3-1h0m4-5h0m6 2h0m9 5h0m1-6h0m6 6h0m10-6h0m31-1h0m8 7h0m6-6h0m15 3h0m39-2h0m-396 11h0m38 0h0m8-3h0m2 5h0m4-3h0m15 0h0m7 1h0m13-1h0m6 1h0m1-2h0m7-2h0m7 6h0m1-7h0m11 5h0m5-5h0m5 4h0m1-2h0m9 4h0m1-4h0m5 2h0m1-2h0m1 1h0m0 0h0m1 0h0m4 4h0m6-3h0m5 3h0m4-7h0m1 2h0m3 1h0m3-3h0m3 4h0m14-3h0m1 1h0m4 3h0m1 0h0m1 0h0m7-4h0m11 6h0m7 0h0m0-6h0m9 3h0m3-4h0m7 0h0m7 5h0m1-5h0m1 5h0m10 1h0m1-5h0m3 2h0m3 3h0m0-5h0m13 3h0m2 1h0m2-2h0m2 0h0m3-2h0m1-1h0m9 3h0m19-3h0m0 2h0m1 2h0m6-2h0m3 5h0m3-5h0m29-2h0m17 3h0m-295 6h0m0 4h0m19-4h0m3 0h0m0 5h0m8-4h0m7-1h0m5 0h0m1 2h0m1-1h0m4 1h0m8-1h0m2 0h0m0 5h0m2-3h0m0 0h0m6 3h0m4-3h0m5-4h0m1 3h0m2 1h0m6 2h0m4-2h0m4 1h0m0-2h0m7-2h0m1 1h0m4 0h0m1 2h0m1 2h0m9 0h0m1-3h0m22 1h0m2 0h0m0 2h0m13-3h0m0-2h0m3 1h0m0 5h0m2-3h0m1-2h0m1 2h0m0 1h0m1-4h0m6 2h0m6 4h0m3-3h0m11 3h0m6-4h0m9 4h0m12-7h0m1 5h0m3-5h0m5 3h0m2-3h0m1 1h0m3 0h0m1 4h0m1 2h0m8-4h0m3-1h0m12 3h0m10 0h0m-310 3h0m19 2h0m11 2h0m8-3h0m16 5h0m8-2h0m17 2h0m0-6h0m4 3h0m2 4h0m1-7h0m6 1h0m4 1h0m8 3h0m5-5h0m2 2h0m3-1h0m2-1h0m0 3h0m2 4h0m2-1h0m10 0h0m1 0h0m3-1h0m0-5h0m2 2h0m3 5h0m1-3h0m2 0h0m2-1h0m1 3h0m5-4h0m2 3h0m6-1h0m5-1h0m2 0h0m1 2h0m2-5h0m0 4h0m1 2h0m3 1h0m3-2h0m2-5h0m4 1h0m3-1h0m3 2h0m1 5h0m3-7h0m0 5h0m0-5h0m7 7h0m2-1h0m0-6h0m3 1h0m1 0h0m7 4h0m1 0h0m0-5h0m2 0h0m2 3h0m2-1h0m4-2h0m5 7h0m3-7h0m2 4h0m1 0h0m0 2h0m6-2h0m2-3h0m3 1h0m5 1h0m0 2h0m6-2h0m21-2h0m4 0h0m1 2h0m15-2h0m5 2h0m8 2h0m15-2h0m-336 8h0m26-1h0m4 5h0m17-3h0m17-4h0m2 4h0m9 3h0m4-5h0m2 2h0m7-1h0m3 3h0m3-6h0m6 2h0m7 4h0m2-4h0m1-2h0m6 7h0m5 0h0m2 0h0m5-3h0m1-3h0m5 3h0m0 0h0m4-4h0m1 5h0m2-5h0m3 2h0m1 2h0m0 1h0m1-2h0m2 2h0m6-1h0m0 1h0m5-3h0m0 2h0m2-4h0m3 4h0m0 3h0m5-6h0m1 5h0m0-6h0m4 1h0m1 2h0m4-2h0m0 6h0m2-5h0m1 3h0m2-5h0m7 5h0m1 2h0m2-1h0m2 0h0m0 0h0m4-5h0m1 3h0m0-1h0m2-1h0m2 2h0m1 3h0m2-7h0m0 0h0m4 2h0m9-2h0m2 6h0m4-6h0m3 3h0m1 2h0m6-3h0m5 5h0m3-1h0m2-2h0m1 3h0m0-5h0m3 1h0m6 0h0m2 2h0m7 2h0m1-7h0m8 0h0m2 2h0m7-2h0m6 0h0m0 0h0m14 6h0m0-3h0m0 0h0m2-2h0m12-1h0m20 2h0m8-1h0m1 2h0m-331 8h0m16 4h0m3-1h0m8-3h0m13 1h0m2 0h0m2-3h0m7 4h0m3 0h0m1 0h0m2-2h0m5 0h0m9 1h0m7-4h0m5 4h0m2-4h0m2 4h0m1 3h0m6-2h0m0-1h0m10-3h0m2 3h0m1 1h0m6-4h0m1-1h0m1 4h0m3-3h0m2 5h0m2-6h0m0 5h0m5-2h0m0 1h0m2-1h0m6-1h0m5-1h0m2 5h0m0-5h0m0 3h0m3 1h0m1-2h0m0-3h0m4 3h0m0 0h0m1-2h0m1 5h0m2 0h0m3-5h0m1 0h0m2 1h0m2 4h0m2 1h0m5-6h0m2 4h0m2-5h0m1 7h0m3-7h0m6 5h0m3-4h0m0 2h0m4 1h0m2 3h0m1-2h0m2-3h0m7-2h0m7 4h0m1-4h0m2 5h0m1 2h0m2-5h0m2 1h0m0 4h0m2-4h0m0 1h0m0 2h0m7-4h0m5 0h0m0-1h0m1 2h0m5-1h0m1 3h0m2-4h0m0 6h0m3-5h0m1 5h0m3-4h0m3 0h0m2 3h0m11-2h0m3-1h0m10-3h0m24 5h0m1 2h0m16-2h0m2-2h0m32-2h0m-355 13h0m12-3h0m6 2h0m1 0h0m16 0h0m1-3h0m4-1h0m2 0h0m12 1h0m3 5h0m1-3h0m6-4h0m12 1h0m2-1h0m7 4h0m2 2h0m3-3h0m5-3h0m7 7h0m3-6h0m3 2h0m0 3h0m4-3h0m6 3h0m1-4h0m4 5h0m5-2h0m3 2h0m1-4h0m3-3h0m6 0h0m0 3h0m1 1h0m1-2h0m4 2h0m5 1h0m4 2h0m3-4h0m0 3h0m1-4h0m0-1h0m0 6h0m3-6h0m11-1h0m0 6h0m7-4h0m5 5h0m0-2h0m2 0h0m3-2h0m1 3h0m0-3h0m2 1h0m2-1h0m0-1h0m8 5h0m0-6h0m3 0h0m9 0h0m3 3h0m2-2h0m13 5h0m0-3h0m7 2h0m0-2h0m0-4h0m1 2h0m4 5h0m2-3h0m2-3h0m3 1h0m9-2h0m8 0h0m2 0h0m5 1h0m20 2h0m4-2h0m8 2h0m10 4h0m4 0h0m6-5h0m30 4h0m-382 7h0m20-2h0m25 0h0m15-1h0m9 5h0m1-2h0m0 2h0m5-1h0m3-2h0m7 0h0m1 0h0m8-4h0m4 6h0m0-2h0m8 3h0m1-3h0m7-4h0m2 6h0m11 0h0m2-1h0m4 0h0m1 2h0m3-5h0m3 2h0m2 1h0m1-4h0m1 1h0m2-1h0m1-1h0m1 0h0m3 0h0m4 5h0m1-3h0m1 1h0m5 0h0m8 3h0m4-5h0m2-1h0m2 4h0m0 3h0m2 0h0m3-4h0m3 2h0m0-2h0m7 3h0m1 0h0m0 0h0m1 0h0m8-2h0m1-3h0m2 4h0m2-4h0m1 3h0m0-4h0m6 7h0m0-6h0m0 4h0m1-1h0m0-4h0m4 5h0m3-1h0m1 2h0m5-5h0m0 3h0m7 3h0m3-7h0m0 1h0m3 4h0m1-5h0m3 0h0m1 6h0m1-4h0m1 1h0m5 1h0m0 1h0m0 1h0m1-5h0m0 0h0m2 1h0m0 1h0m2 2h0m3-5h0m2 5h0m0-5h0m0 3h0m0-2h0m3 2h0m6-2h0m3 5h0m4-4h0m2 2h0m0 2h0m2-5h0m3 1h0m5 0h0m7-1h0m9 0h0m36 1h0m-321 11h0m0 0h0m25-1h0m9 1h0m0-1h0m3 0h0m1 3h0m1-2h0m3 1h0m1-1h0m10 0h0m0-5h0m9 0h0m5 2h0m1 3h0m2-2h0m2 3h0m9-2h0m2 3h0m2-2h0m14 1h0m1-4h0m2 1h0m2 2h0m6-4h0m5 2h0m1-1h0m0 2h0m1 2h0m2 0h0m0-1h0m1-2h0m1 2h0m3 1h0m1-2h0m0 3h0m1-3h0m0 3h0m3-6h0m2 1h0m1 3h0m1 2h0m1-5h0m4 1h0m2-3h0m5 7h0m0-4h0m5 3h0m1 0h0m2-1h0m2-3h0m3 0h0m1 0h0m0 3h0m1 1h0m0-2h0m2-4h0m0 2h0m1 0h0m0 4h0m0-2h0m3 0h0m7 2h0m1-1h0m1 1h0m1-3h0m1 2h0m0-4h0m2 0h0m1 2h0m7 2h0m1 0h0m6-4h0m0 6h0m1-5h0m0-2h0m0 2h0m1 5h0m1-3h0m5 3h0m1-2h0m2 1h0m1 0h0m0-6h0m1 3h0m1 1h0m0 2h0m7 1h0m0-6h0m3 5h0m7-4h0m1 3h0m3-3h0m0 0h0m6-2h0m3 7h0m6-2h0m4 2h0m5-7h0m3 7h0m8-3h0m3 0h0m2 0h0m5-1h0m0-1h0m1 5h0m2-7h0m0 5h0m5-2h0m1 0h0m0-3h0m10 3h0m8-2h0m24-1h0m2 0h0m15 4h0m3 1h0m17 0h0m-390 5h0m6 3h0m16-1h0m16-3h0m2 1h0m9 0h0m29-1h0m20 1h0m8 3h0m10-2h0m2 2h0m0 1h0m6-3h0m2 2h0m2-3h0m2 1h0m0 3h0m7-5h0m2 3h0m4 2h0m2 1h0m1-3h0m0-2h0m1-1h0m5-1h0m2 4h0m1 2h0m3 1h0m1-4h0m3-1h0m2 0h0m3 0h0m1 5h0m2-1h0m0-2h0m1-2h0m2 5h0m4 0h0m3-7h0m1 7h0m1 0h0m6-3h0m1 1h0m0-1h0m1-1h0m0-2h0m0 6h0m1-5h0m0 1h0m2 4h0m2-3h0m1-4h0m2 0h0m1 4h0m3-1h0m2 3h0m3-2h0m0-3h0m1 4h0m5-4h0m4 0h0m4 2h0m1-2h0m3 2h0m2-2h0m2 4h0m7 0h0m0-3h0m1 2h0m1-4h0m4 6h0m1-6h0m1 2h0m0 4h0m2-5h0m0 3h0m0-3h0m0 4h0m0-2h0m0 0h0m1 2h0m2-4h0m1 4h0m4-5h0m7 0h0m1 6h0m0 1h0m2-1h0m1-6h0m12 5h0m2 1h0m1-1h0m6-2h0m1-1h0m5-2h0m2 0h0m2 5h0m1 1h0m1-2h0m4 2h0m2-4h0m12 5h0m6 0h0m1-1h0m10 0h0m9 0h0m1-2h0m10-3h0m6 2h0m16-1h0m-344 13h0m7-6h0m13-1h0m0 2h0m8 1h0m19 4h0m3-1h0m1-4h0m6 4h0m1-3h0m3-1h0m1 3h0m1-1h0m0 2h0m1-3h0m7-2h0m4 2h0m1 4h0m3 0h0m2-2h0m4 0h0m6-4h0m2 1h0m2 2h0m3-1h0m1 2h0m6-5h0m2 6h0m3-2h0m5-1h0m1 3h0m7-2h0m3-2h0m1 3h0m5 0h0m0 2h0m2-5h0m1-1h0m1 6h0m1 0h0m7-7h0m2 5h0m0-4h0m3 2h0m5-3h0m3 6h0m0-4h0m0-1h0m2 4h0m0-4h0m4 2h0m0 0h0m1-3h0m0 0h0m0 4h0m1-2h0m0 1h0m1-2h0m4 6h0m3-7h0m3 6h0m3-4h0m1 2h0m1-4h0m8 1h0m2 5h0m0-2h0m1-4h0m0 0h0m6 2h0m1 0h0m3 4h0m0-1h0m4-2h0m4 0h0m13 4h0m1-4h0m4 3h0m2-3h0m3-2h0m4 2h0m2 1h0m4 2h0m1-3h0m1 4h0m1-5h0m1-1h0m2 4h0m0-3h0m8-1h0m1 5h0m6-3h0m0-2h0m2 1h0m0 4h0m4-1h0m2-3h0m6 4h0m13 0h0m4-3h0m14 3h0m5-4h0m45 2h0m-365 6h0m19 1h0m13-2h0m8-1h0m8 1h0m5 0h0m0 6h0m2-5h0m8-1h0m3 6h0m0-7h0m6 3h0m3 2h0m4-3h0m0-1h0m1-1h0m1 1h0m1 4h0m1 0h0m1 1h0m3-3h0m1 3h0m2-2h0m4-1h0m0-2h0m4 4h0m0-4h0m1 2h0m3 2h0m4-2h0m2-2h0m7 1h0m4 1h0m3-2h0m0 1h0m0 4h0m2-5h0m6 2h0m0-3h0m1 5h0m6 2h0m0-6h0m3 0h0m4 5h0m5 1h0m1-2h0m0 0h0m1-3h0m1 1h0m2 0h0m3-3h0m2 0h0m3 2h0m1 4h0m1-6h0m2 6h0m1-2h0m1-3h0m1 3h0m0 1h0m0 2h0m2-3h0m0-1h0m0-1h0m1-1h0m1 6h0m0-4h0m2-3h0m0 5h0m2 2h0m1 0h0m0-3h0m1 0h0m2 3h0m3-7h0m2 4h0m2-2h0m3-1h0m3 3h0m3-4h0m3 5h0m7-4h0m1 1h0m2 3h0m8-4h0m3 6h0m0-1h0m0 1h0m1-6h0m0-1h0m2 4h0m3 2h0m4-3h0m1 0h0m0-2h0m2 6h0m5-1h0m5 1h0m1-4h0m2-3h0m1 6h0m2-1h0m1 0h0m2-1h0m1 2h0m3-6h0m2 6h0m5 1h0m5-6h0m9-1h0m3 4h0m7 1h0m5-5h0m4 4h0m6-2h0m1 0h0m4 0h0m1 3h0m6-2h0m6 1h0m2 3h0m6-6h0m1 5h0m27-3h0m-331 5h0m20 1h0m2 6h0m19-4h0m9-2h0m0 3h0m8-2h0m4 3h0m8 1h0m7-3h0m5 4h0m0-1h0m2 1h0m1-2h0m1-4h0m5 2h0m2-2h0m4 2h0m1 0h0m0 1h0m3 0h0m0-1h0m6-3h0m4 0h0m2 1h0m0 6h0m0-2h0m1-5h0m2 6h0m3-5h0m1 5h0m2 1h0m2-2h0m6-2h0m1 3h0m1-6h0m5 0h0m1 6h0m0 1h0m1-4h0m0-1h0m0 3h0m1-4h0m2 5h0m0-5h0m5 4h0m2-2h0m0 2h0m0 2h0m1-1h0m7-2h0m0 1h0m3-3h0m2-2h0m2 3h0m0 4h0m3-6h0m0 6h0m1-3h0m1 1h0m1-2h0m2 4h0m0 0h0m1-3h0m1-2h0m1 1h0m2 4h0m5 0h0m0-6h0m0 4h0m1-2h0m0-1h0m0 0h0m2 3h0m2 1h0m1-1h0m3-3h0m0 3h0m1-5h0m1 3h0m2-3h0m4 5h0m0 1h0m1-3h0m3 3h0m2-5h0m0 1h0m4 3h0m0 2h0m0 0h0m17-4h0m6-2h0m4 6h0m8-1h0m0-2h0m0-3h0m1 1h0m2 2h0m0-1h0m2 2h0m0-4h0m9 6h0m11-5h0m3 3h0m1 2h0m11-6h0m2-1h0m5 7h0m-338 1h0m12 0h0m10 0h0m15 7h0m14-1h0m9-6h0m4 2h0m6 4h0m3-3h0m3-3h0m2 7h0m5-4h0m0-2h0m8 4h0m2 2h0m5-2h0m3-4h0m1 3h0m1 0h0m0-4h0m8 0h0m2 2h0m0 0h0m5 4h0m4-5h0m4 3h0m4-2h0m1-1h0m3 0h0m1 2h0m4-3h0m0 6h0m2 1h0m0-2h0m6 1h0m2-3h0m1 1h0m0-3h0m1-1h0m2 6h0m1-2h0m2-3h0m0 2h0m5 1h0m0-3h0m0 3h0m1 0h0m0 3h0m1-5h0m1 4h0m1-1h0m1-3h0m2 5h0m2-6h0m0 0h0m0 3h0m1-2h0m1 2h0m0-3h0m0 4h0m2 1h0m2-5h0m2 2h0m2 3h0m2-1h0m3-3h0m1 1h0m0-2h0m0 3h0m0 2h0m1-2h0m3-1h0m3-1h0m0 3h0m1-1h0m0 1h0m1 2h0m1 0h0m1-4h0m1 3h0m1-4h0m1 0h0m1 4h0m5-5h0m0 6h0m1-6h0m0-1h0m1 2h0m2-2h0m0 5h0m5-3h0m9 3h0m2-1h0m0-4h0m1 7h0m0-1h0m2-2h0m2-4h0m0 2h0m1 1h0m0-2h0m0 3h0m4-1h0m5-2h0m1 2h0m2-2h0m1 0h0m7 3h0m2-4h0m0 5h0m2-2h0m1 0h0m2 4h0m0-3h0m2-3h0m0 3h0m1 3h0m18-7h0m6 2h0m14-2h0m1 1h0m5 4h0m1-1h0m1-3h0m4 3h0m3-4h0m13 1h0m6 5h0m11-3h0m3 1h0m26 2h0m20 1h0m-386 1h0m32 6h0m0-2h0m4-3h0m3 0h0m13-1h0m11 3h0m5-3h0m1 3h0m1-2h0m1 6h0m0-7h0m2 3h0m1 3h0m2-6h0m0 3h0m17-3h0m1 6h0m1-4h0m0 3h0m3-1h0m2 1h0m7 0h0m4-4h0m3 3h0m1 1h0m1-2h0m3 1h0m1-4h0m2 4h0m3 1h0m2-3h0m0 2h0m1-2h0m1-2h0m1 0h0m0 4h0m3-3h0m0 0h0m4 6h0m0-6h0m5 1h0m1 5h0m2-7h0m0 4h0m1-4h0m2 1h0m3 4h0m3-3h0m1 2h0m0-2h0m1 0h0m0-1h0m0 6h0m5 0h0m4-3h0m1 2h0m3 1h0m1-2h0m2-2h0m1 2h0m1 2h0m1-2h0m3-3h0m3-1h0m1 3h0m4 1h0m1-1h0m1 1h0m1-2h0m2 2h0m2-2h0m0 2h0m1-4h0m1 2h0m0-1h0m5 1h0m2 2h0m1 1h0m2-5h0m1 2h0m1-2h0m4 4h0m0-3h0m4 1h0m0 1h0m4 1h0m3 2h0m10-3h0m0 1h0m2-2h0m1-1h0m0-2h0m2 1h0m1 3h0m4 0h0m4-2h0m1 3h0m4-5h0m4 2h0m10 2h0m0 2h0m2-2h0m5 0h0m4 3h0m3-1h0m1-4h0m0 0h0m2 4h0m2-1h0m4 1h0m2-3h0m12 1h0m4-1h0m1 0h0m3 0h0m8 2h0m2-5h0m6 0h0m1 6h0m7-1h0m13-4h0m-335 12h0m7-5h0m19 6h0m5-4h0m4 2h0m3-3h0m7 3h0m5 0h0m4 3h0m0 0h0m7-1h0m2-6h0m4 5h0m3 2h0m1-7h0m4 5h0m4 2h0m2-5h0m5 4h0m1-2h0m0 2h0m1-5h0m11 6h0m5-1h0m4 1h0m1-3h0m2 2h0m2-6h0m1 2h0m2 0h0m0 2h0m4 0h0m2 3h0m1-2h0m2-5h0m6 5h0m2-5h0m0 7h0m1-3h0m2 0h0m0 0h0m3-1h0m2 3h0m1-5h0m0 0h0m1 1h0m0-1h0m0-1h0m1 0h0m0 0h0m2 7h0m4-1h0m1-6h0m0 3h0m1-2h0m1 1h0m4-1h0m0 2h0m1-2h0m4 3h0m3-4h0m2 0h0m1 5h0m1-3h0m6 0h0m0-1h0m2 5h0m0-4h0m1 3h0m0-1h0m2 0h0m1 0h0m1 2h0m4-3h0m1-2h0m2 2h0m1 3h0m1-2h0m1 0h0m1-4h0m1 0h0m2 3h0m1 1h0m2-4h0m2 0h0m3 6h0m0-3h0m1-2h0m0 6h0m0 0h0m3 0h0m1-5h0m1 5h0m2-4h0m1-2h0m3 2h0m2 3h0m17-3h0m1 3h0m2-6h0m0 6h0m0-5h0m1-1h0m1 4h0m3-4h0m0 5h0m2 1h0m2 1h0m5-7h0m3 7h0m4-3h0m2-2h0m4-2h0m3 3h0m1 3h0m8 0h0m2-6h0m1 3h0m0 4h0m2-6h0m10 3h0m15-4h0m11 6h0m19-3h0m2 2h0m15-5h0m8 0h0m12 2h0m62 3h0m-460 7h0m0 3h0m35-4h0m9-1h0m8 0h0m2-1h0m30 4h0m7-2h0m1 1h0m3-2h0m14 3h0m1 1h0m7 1h0m5-7h0m4 5h0m1 1h0m13-4h0m0 1h0m8 2h0m1-4h0m0 3h0m4 0h0m1 3h0m1-4h0m0-2h0m1 3h0m0-3h0m3 6h0m0-6h0m1 2h0m0 4h0m1-6h0m0 4h0m4 1h0m0-6h0m0 5h0m1-3h0m2 0h0m1 5h0m0-3h0m2-1h0m3 4h0m1 0h0m4-4h0m0-2h0m3 6h0m1 0h0m2 0h0m5-2h0m1-5h0m1 1h0m1 2h0m1-2h0m2 0h0m2 3h0m3-1h0m3-3h0m2 6h0m1-4h0m2 4h0m0-1h0m1-5h0m2 3h0m2 0h0m1 4h0m6-3h0m2 1h0m1-5h0m4 7h0m1-5h0m1 5h0m2-4h0m3 4h0m2-1h0m1-4h0m0-2h0m0 7h0m1 0h0m1-1h0m5-3h0m1-1h0m0 2h0m1 2h0m1-5h0m5 0h0m4 0h0m0 1h0m4-1h0m1 4h0m1-5h0m0 1h0m5 5h0m1 1h0m6-6h0m1 4h0m3-3h0m0 2h0m7-3h0m6 1h0m2 1h0m3 2h0m1-4h0m10 5h0m3-3h0m2 0h0m2 2h0m0-3h0m3 3h0m2 1h0m21-5h0m9 1h0m1 0h0m2 4h0m43 1h0m-357 2h0m6 4h0m3-3h0m1 2h0m3-4h0m2 1h0m3 2h0m7 2h0m1 0h0m10 0h0m1-5h0m1 2h0m7-2h0m8 3h0m2 3h0m7-4h0m5-1h0m6 0h0m0-1h0m1 0h0m1 4h0m7 0h0m4-3h0m1 5h0m2-2h0m5 0h0m2 0h0m1 1h0m5-3h0m5 1h0m0 1h0m3 2h0m2-5h0m1 1h0m3 5h0m1-2h0m2-2h0m1 2h0m4-3h0m3 1h0m0 2h0m5 0h0m2-4h0m3 2h0m0 2h0m1-3h0m0 5h0m1-4h0m2 3h0m1-1h0m1-3h0m1 4h0m1-6h0m1 3h0m0 4h0m1-4h0m3 4h0m1-7h0m3 3h0m4 0h0m0-3h0m6 4h0m1-3h0m1 2h0m1-3h0m0 0h0m0 7h0m3-7h0m0 3h0m2 3h0m0-5h0m0-1h0m0 6h0m1 1h0m1-2h0m1 0h0m2 1h0m1-3h0m1 4h0m0-2h0m2 1h0m1-3h0m3-1h0m4-1h0m3 3h0m0-3h0m2 6h0m1-7h0m3 5h0m6 2h0m2 0h0m0-4h0m6 0h0m0-2h0m2 1h0m1 1h0m1 3h0m4 0h0m10 0h0m0 0h0m11-2h0m2-3h0m2 5h0m2-2h0m1-3h0m4 0h0m0-1h0m4 6h0m0-1h0m4 0h0m0-1h0m1 2h0m1-2h0m5 1h0m1 0h0m3 0h0m6 1h0m0-1h0m0-2h0m13-2h0m4 0h0m6 4h0m9 1h0m15 1h0m23-7h0m-388 13h0m1-4h0m13 6h0m36-2h0m13 1h0m3 1h0m9-5h0m3-2h0m1 2h0m4 5h0m2 0h0m8-7h0m9 0h0m0 6h0m6 1h0m0-7h0m4 7h0m4-2h0m6-4h0m4 3h0m5-1h0m1 1h0m2 3h0m0-6h0m3 4h0m1 2h0m2-5h0m0-1h0m1 6h0m1-2h0m2-4h0m2 1h0m1 0h0m5 1h0m0 3h0m5-6h0m2 7h0m1-7h0m2 5h0m1-1h0m1 0h0m2 1h0m0-4h0m3-1h0m5 0h0m1 4h0m1 2h0m1-5h0m5-1h0m0 2h0m0 5h0m1-7h0m2 5h0m0-3h0m0 1h0m1 2h0m6-4h0m3 2h0m0 1h0m0-4h0m1 6h0m4-1h0m1-3h0m2 2h0m6 2h0m5-3h0m0-1h0m1 2h0m3 3h0m2-2h0m1-4h0m2 5h0m1 0h0m2-6h0m2 1h0m0 1h0m1-2h0m1 1h0m1 4h0m1-2h0m2 0h0m0 3h0m1-1h0m4 1h0m4 1h0m1-3h0m0 2h0m1-1h0m0 1h0m4-5h0m4 4h0m1-5h0m2 0h0m0 0h0m5 5h0m0-1h0m1-4h0m2 1h0m2 1h0m1 2h0m4 2h0m1 1h0m2-2h0m2-3h0m2 1h0m0 0h0m9 2h0m1-1h0m3 2h0m0 1h0m4-7h0m1 1h0m1 1h0m4 3h0m6-5h0m7 5h0m1 0h0m2-1h0m9-2h0m2 2h0m0 2h0m2-5h0m1 5h0m34 0h0m15-4h0m6 4h0m-379 4h0m11 5h0m3-2h0m8 0h0m7-4h0m24 2h0m4-3h0m7 0h0m9 1h0m1-1h0m7 4h0m6 0h0m4-4h0m10 2h0m8 3h0m8-2h0m2-1h0m5 4h0m0-1h0m1 2h0m2-4h0m5 3h0m5-3h0m5 0h0m3 2h0m0 2h0m0-1h0m2 0h0m2-4h0m1 3h0m2-4h0m2 5h0m2-6h0m1 3h0m2 1h0m2 3h0m1 0h0m6-7h0m4 3h0m1 3h0m0-5h0m5-1h0m3 0h0m0 4h0m0 3h0m2-7h0m3 0h0m1 6h0m3 0h0m2-1h0m3 1h0m2 0h0m4 1h0m1-6h0m3 5h0m1-2h0m2-2h0m1 5h0m1-5h0m3 2h0m1 0h0m0-1h0m3 1h0m1-4h0m1 1h0m1 6h0m3-2h0m6 0h0m1-2h0m1-1h0m2 4h0m1-5h0m8 0h0m2 5h0m2 0h0m1 1h0m3-3h0m6-1h0m0 2h0m1 1h0m5-1h0m1-1h0m7-1h0m3 1h0m1 2h0m0-2h0m3 0h0m1-4h0m4 5h0m0 1h0m0 1h0m9-2h0m6-4h0m8 1h0m4 3h0m4-2h0m16 0h0m2 4h0m1-1h0m0-1h0m-336 10h0m24-5h0m9 5h0m0-2h0m41-2h0m13 2h0m0-4h0m1 1h0m4-1h0m4 6h0m1-1h0m0-4h0m11-1h0m1 2h0m3 1h0m6-2h0m11 5h0m1-5h0m8 2h0m0-2h0m1 3h0m2-2h0m1-2h0m1 2h0m1-3h0m1 4h0m9-2h0m1 5h0m0-5h0m0 3h0m2-5h0m2 3h0m3 3h0m0-2h0m4 1h0m1 2h0m6-5h0m1 4h0m3-4h0m1-1h0m0 4h0m4 2h0m2-3h0m2 3h0m0-5h0m7 5h0m0-2h0m1-3h0m1-1h0m2 2h0m4-2h0m3 0h0m1 5h0m2 0h0m0 1h0m2 0h0m6-4h0m6 2h0m0-3h0m1 2h0m2-3h0m1 5h0m0-4h0m9-2h0m0 7h0m1-2h0m1 0h0m2 2h0m1-3h0m2-4h0m3 1h0m0 2h0m2 3h0m1-5h0m0-1h0m0 7h0m6-4h0m6 4h0m1-1h0m2 0h0m1-5h0m12 3h0m1 1h0m5 0h0m14 1h0m1-6h0m0 5h0m11-4h0m9 2h0m19 2h0m22 0h0m9-5h0m16 6h0m-328 6h0m3-4h0m6 7h0m6 0h0m1 0h0m7-2h0m12-3h0m2 1h0m1-1h0m5 2h0m16 3h0m10-2h0m4-5h0m0 3h0m4 3h0m3-4h0m9 5h0m2-3h0m1 2h0m6-5h0m1 1h0m1 3h0m7-4h0m3 6h0m0-6h0m1 6h0m7-1h0m1-5h0m6 6h0m0-7h0m2 0h0m1 6h0m1-5h0m0 2h0m2-3h0m1 4h0m3 1h0m1-4h0m1 2h0m4 0h0m0 2h0m0-4h0m4 2h0m1 3h0m0-3h0m2 1h0m3-1h0m4-2h0m3 3h0m0 2h0m0-2h0m5 3h0m2-3h0m0 1h0m1-2h0m1 2h0m3-3h0m6-1h0m1 1h0m1-1h0m1 1h0m0 4h0m0 0h0m1-6h0m3 1h0m1 1h0m2 2h0m0 3h0m4-1h0m2 1h0m3-4h0m2 3h0m0-3h0m2-3h0m1 5h0m0-4h0m0 4h0m0-2h0m4-2h0m3 3h0m2-2h0m0 3h0m2-1h0m2 3h0m3-7h0m3 7h0m0-7h0m8 5h0m2-5h0m6 1h0m2-1h0m3 0h0m0 4h0m0 3h0m6-2h0m0-3h0m6 2h0m0 3h0m3-2h0m15 1h0m4 0h0m7 0h0m5-4h0m1 4h0m11-2h0m21 1h0m22-5h0m-363 15h0m2-7h0m16 3h0m13 0h0m24-1h0m0 1h0m4 4h0m6 0h0m3-6h0m0 4h0m2-2h0m2-1h0m2 2h0m2 3h0m2 0h0m0-5h0m3 1h0m2 3h0m2-1h0m0-4h0m2 2h0m2 3h0m1-6h0m1 3h0m2-1h0m8 2h0m0 2h0m2-3h0m2-1h0m0-2h0m1 2h0m4 3h0m7-5h0m0 7h0m2-1h0m2-6h0m1 5h0m2-2h0m0-1h0m3-1h0m4 3h0m1-4h0m2 7h0m3-5h0m3 1h0m2-1h0m1-2h0m0 2h0m6 3h0m7 2h0m1-3h0m4-2h0m0 2h0m0-2h0m6 3h0m1 1h0m3-5h0m5 6h0m1-3h0m0 2h0m0-4h0m0 3h0m5 1h0m2 1h0m1-2h0m0 1h0m0-2h0m2-2h0m2-2h0m1 2h0m2 1h0m3-2h0m2 5h0m0-3h0m4 3h0m1-6h0m3 2h0m3-2h0m0 3h0m2 3h0m1-3h0m3-1h0m1 4h0m0-2h0m3 3h0m3-3h0m4-2h0m1-1h0m16-1h0m1 4h0m2-1h0m2-1h0m9-1h0m2 4h0m1-1h0m1 0h0m18 2h0m6-4h0m5 3h0m1-5h0m2 3h0m9-3h0m10 1h0m13 2h0m20 4h0m14-5h0m3 2h0m-341 6h0m1 0h0m18-2h0m10 1h0m1 1h0m11 3h0m0-5h0m11 2h0m2 4h0m10-6h0m3 7h0m3-5h0m4 5h0m3-7h0m1 7h0m4-3h0m2-2h0m5 5h0m2-6h0m4 5h0m2-6h0m6 1h0m4 0h0m7 6h0m3-3h0m2 2h0m1-5h0m1 4h0m0-5h0m0 3h0m3 2h0m3 1h0m4-2h0m1-2h0m3-1h0m1 0h0m1 4h0m2 2h0m6-4h0m3 0h0m3 1h0m3 0h0m0 3h0m1-1h0m0-3h0m1 3h0m0-1h0m3-1h0m3-1h0m6-1h0m1-2h0m2 1h0m1 4h0m1-1h0m3-1h0m1-1h0m0 5h0m2-2h0m4 2h0m0-7h0m7 3h0m1 0h0m2 1h0m7 1h0m1 0h0m3-4h0m10-1h0m1 7h0m1-2h0m7-5h0m3 6h0m1-6h0m0 3h0m1 1h0m9 0h0m1-2h0m1-1h0m0 5h0m5 1h0m1-3h0m1 3h0m0-5h0m3 2h0m2-2h0m1 2h0m4-3h0m11 6h0m7-3h0m5 3h0m15 0h0m4-3h0m1-4h0m19 4h0m11-2h0m-364 12h0m39-2h0m18 1h0m5-4h0m11 2h0m8 0h0m9 3h0m3 0h0m3-2h0m10-1h0m1 1h0m0-3h0m0-1h0m0 3h0m9-2h0m0 6h0m3-3h0m7 0h0m1 3h0m0-1h0m4-2h0m1 3h0m0-3h0m1 3h0m1-6h0m3 2h0m1 2h0m1-2h0m1 1h0m6 1h0m2-1h0m5-3h0m0 1h0m2 1h0m1 4h0m10-5h0m3 5h0m1-3h0m7 3h0m1-4h0m6-3h0m0 2h0m1 3h0m6-4h0m3-1h0m0 6h0m3-5h0m0 6h0m2-6h0m3 3h0m1-2h0m1 1h0m0 4h0m1 0h0m0-4h0m8-2h0m1 0h0m8 6h0m3 0h0m5-5h0m2 3h0m1 0h0m3-5h0m1 2h0m0 2h0m0 1h0m1 2h0m6-6h0m6 0h0m0 6h0m2-1h0m0-1h0m6 0h0m2 2h0m1-6h0m15 5h0m9 0h0m3-5h0m0 4h0m3 1h0m1 1h0m34 0h0m4-6h0m-339 11h0m11 0h0m34-3h0m9 1h0m0 3h0m1-3h0m6 3h0m1-2h0m17 1h0m2-3h0m1 3h0m1 2h0m7-1h0m7-3h0m24 4h0m0 1h0m4-4h0m1-1h0m5 2h0m1-4h0m4 6h0m3-3h0m2 4h0m2-5h0m1 0h0m3 2h0m4-3h0m2 3h0m3 0h0m2-4h0m2 5h0m3-1h0m5-3h0m4-1h0m0 6h0m1-4h0m0 4h0m0-6h0m2 0h0m1 6h0m1 0h0m1 0h0m4-1h0m5 1h0m8-3h0m2 0h0m1 1h0m0 1h0m1-3h0m0 3h0m16-5h0m9 2h0m7 3h0m2-2h0m1 1h0m2-2h0m5 2h0m8-1h0m4 1h0m3-3h0m1 6h0m2-1h0m2-1h0m3-5h0m2 4h0m3-3h0m11 1h0m6-1h0m2 2h0m5-3h0m5 4h0m1 1h0m8-3h0m2 4h0m16-6h0m31 7h0m2-3h0m-297 6h0m10 0h0m13 5h0m1-4h0m17 1h0m3 2h0m5-5h0m10 6h0m1-7h0m3 7h0m10-2h0m0-5h0m8 3h0m3 4h0m4-4h0m6 2h0m8-2h0m1 1h0m1-4h0m3 3h0m0-2h0m15 3h0m0 2h0m6-4h0m2 0h0m3 2h0m14 3h0m0-3h0m0-4h0m3 5h0m2-1h0m0 2h0m2-4h0m1 0h0m2 1h0m0 2h0m3-4h0m6 6h0m3-2h0m6 1h0m2 0h0m12-2h0m0-2h0m7 5h0m0-3h0m6-4h0m2 2h0m2 3h0m0-4h0m4 0h0m1 3h0m0-1h0m3 0h0m7 0h0m34 3h0m10-3h0m7-1h0m3 5h0m2-5h0m13 4h0m15-6h0m-333 9h0m14 2h0m11 3h0m3 1h0m7-2h0m11-2h0m29-3h0m3 0h0m6 3h0m1-2h0m1-1h0m2 7h0m9-3h0m2-4h0m1 6h0m5-4h0m0-1h0m1-1h0m2 3h0m3-1h0m4 1h0m2-1h0m2 5h0m2 0h0m0-2h0m8-3h0m3 5h0m4 0h0m4-1h0m7-5h0m3 1h0m0 1h0m6 4h0m2-6h0m1 2h0m3 0h0m7 0h0m6 0h0m7 2h0m3-3h0m5-2h0m1 4h0m4 2h0m9-5h0m2-1h0m5 6h0m1-3h0m1 3h0m6 1h0m5 0h0m12-3h0m4 3h0m3-6h0m0 5h0m1-2h0m14 2h0m2-4h0m1 5h0m13-6h0m18 4h0m1 2h0m12-5h0m19 5h0m2-3h0m-334 10h0m21-6h0m25 4h0m2-2h0m6 5h0m20-4h0m5 4h0m10-1h0m3-1h0m1 1h0m8 1h0m4 0h0m1-5h0m7 0h0m3-1h0m1 3h0m0-2h0m8 2h0m1-3h0m1-1h0m3 3h0m0-2h0m1 1h0m2 1h0m2-3h0m1 6h0m3 0h0m2 1h0m5-2h0m1 1h0m2-2h0m0-3h0m0 3h0m1 3h0m5-6h0m3 3h0m4-3h0m1 4h0m1-4h0m4 5h0m1-3h0m0-3h0m12 2h0m8 4h0m1-5h0m1 1h0m1 1h0m4 0h0m0-3h0m2 5h0m0-5h0m1 6h0m3-1h0m5-2h0m6 1h0m1-2h0m0 0h0m0 0h0m2 3h0m7-1h0m2 2h0m3-5h0m2-1h0m1 3h0m6-1h0m1-2h0m7 2h0m4 3h0m3 1h0m8-2h0m9-1h0m8-2h0m3 0h0m8 3h0m23 1h0m-276 8h0m9-4h0m8 6h0m1-6h0m6 4h0m7 0h0m13-3h0m2-2h0m2 1h0m1 4h0m0-5h0m27 4h0m5-1h0m2 3h0m1 1h0m8-5h0m0-1h0m0 6h0m19-7h0m0 4h0m1-3h0m3 5h0m2 1h0m5-3h0m2-1h0m8 3h0m0 1h0m1-7h0m1 5h0m1-3h0m2 5h0m5-6h0m5 2h0m0-3h0m1 6h0m0-3h0m9-1h0m4-2h0m10 3h0m6 0h0m18-2h0m3 1h0m9 2h0m18 0h0m1 2h0m4-6h0m22 6h0m-288 8h0m3 0h0m8-1h0m11-3h0m4 0h0m2 0h0m10 2h0m18-4h0m4 5h0m3-3h0m19 4h0m8-2h0m2 2h0m1-6h0m0 2h0m9 1h0m1 1h0m11-3h0m1 2h0m5 1h0m3 2h0m2-2h0m2 0h0m9-4h0m13 7h0m4-7h0m2 1h0m5 2h0m5 3h0m1 0h0m1-1h0m0-1h0m14 1h0m6-4h0m3 2h0m1 4h0m5-7h0m4 2h0m14 5h0m13-2h0m0 0h0m2 2h0m1-6h0m5 3h0m1 2h0m7-2h0m12 0h0m2-2h0m5 0h0m-255 7h0m3 1h0m20 5h0m29-5h0m8-1h0m4 6h0m8-6h0m13 0h0m7 3h0m2-1h0m12-1h0m12 0h0m1-2h0m5 7h0m15-4h0m19 2h0m1 1h0m9-1h0m3-5h0m8 0h0m8 6h0m7-3h0m1-2h0m2 5h0m7-1h0m0-1h0m6-1h0m8 3h0m22-6h0m2 7h0m11-1h0m20 0h0m0-5h0m-274 7h0m43 2h0m11 1h0m15-2h0m14-1h0m13 3h0m4 4h0m17-3h0m12-4h0m7 0h0m5 4h0m11 0h0m3 2h0m7-5h0m6-1h0m16 6h0m2-5h0m1 3h0m1 3h0m1-1h0m8-3h0m12 0h0m3-2h0m8-1h0m14 6h0m5-4h0m24 3h0m8-1h0m8 2h0m1-6h0m1 4h0m29 3h0m6-3h0m-284 9h0m2 1h0m47-5h0m5 3h0m3-2h0m14 5h0m2-7h0m4 1h0m18 3h0m31 2h0m1-4h0m3 2h0m1-1h0m11 4h0m4-4h0m11-1h0m6 0h0m8 5h0m3-4h0m0-3h0m7 3h0m23-1h0m32-1h0m16 5h0m4-6h0m7 3h0m2 4h0m7-6h0m1 4h0m2-4h0m-295 10h0m10-2h0m64-1h0m50 5h0m6-4h0m3-1h0m1 0h0m6 2h0m10-1h0m14 0h0m2 3h0m14-3h0m4 4h0m17-5h0m5 0h0m8 4h0m1-2h0m0 0h0m16 2h0m1-2h0m13 4h0m19 0h0m16-6h0m4 3h0m-272 12h0m55-3h0m4 3h0m10-2h0m34-1h0m4-2h0m7-1h0m13 4h0m17-5h0m1 0h0m4 5h0m3-5h0m9 1h0m1 5h0m3 1h0m4-3h0m1 0h0m5-1h0m20-1h0m0-1h0m42 4h0m42 2h0m-272 5h0m54-3h0m2 5h0m3-6h0m0 2h0m26-1h0m20 1h0m7 0h0m0-2h0m4 5h0m10-3h0m5-2h0m10 0h0m1 7h0m4-2h0m1-4h0m4 6h0m10-7h0m8 3h0m11-3h0m30 2h0m1 5h0m36-2h0m-203 4h0m11 4h0m7-5h0m1 7h0m18-7h0m18 4h0m54 1h0m4-2h0m2 1h0m49-4h0m12 0h0m12 4h0m7 2h0m5 1h0m-227 3h0m33-2h0m39 0h0m9 2h0m11 1h0m17 4h0m16-6h0m4 1h0m64 4h0m22-5h0m21 0h0m10 2h0m-199 9h0m32-1h0m3 1h0m37-3h0m12 3h0m7-3h0m28 1h0m12 3h0m19-4h0m5 1h0m24 0h0m1 5h0m13-4h0m-101 11h0m31-5h0m0 0h0m6 0h0m24-1h0m12 7h0m6-4h0m-98 9h0m62 3h0m-99 3h0m65 3h0m6-5h0m13 2h0m18 3h0m44-3h0m-108 11h0m34-5h0m5 2h0m91-1h0m-14 13h0m-109 8h0m28-3h0m2-1h0m24-1h0m20 0h0m-140 22h0m222-3h0m-201 11h0m58-3h0"/>
<path stroke="#4893ae" stroke-opacity="0.38" stroke-width="5.0" d="M914 328h0m-70 22h0m106 2h0m21 7h0m-13 29h0m9 2h0m4-2h0m78 10h0m-68 5h0m7 4h0m102-2h0m-192 4h0m70 1h0m9 0h0m82 5h0m19-7h0m-316 11h0m96 0h0m20-2h0m43 4h0m11-1h0m51 2h0m8-5h0m7-1h0m32 2h0m3 5h0m0-4h0m32-3h0m42 7h0m-244 5h0m5-4h0m28 3h0m48-2h0m4 3h0m10 2h0m5-3h0m13 3h0m1-6h0m9 5h0m27-3h0m11 3h0m3 0h0m3-2h0m95-3h0m-349 9h0m83 6h0m66-6h0m24 5h0m10 1h0m6-1h0m12-6h0m22 0h0m2 6h0m1-5h0m5 3h0m2 2h0m15-3h0m2 4h0m18-2h0m3-4h0m18 1h0m57-2h0m23 5h0m-306 9h0m3-2h0m44 3h0m4-4h0m16 3h0m15-5h0m33 0h0m12 0h0m28 4h0m1 1h0m11-6h0m4 0h0m18 0h0m4 5h0m11-4h0m4 1h0m3 3h0m4-5h0m27 1h0m12 0h0m37 3h0m2-3h0m11-1h0m15 6h0m-324 8h0m17-2h0m24 0h0m22-3h0m40 2h0m44-1h0m2 5h0m8-7h0m7 2h0m4 1h0m16 1h0m17 0h0m5-2h0m0-1h0m7 2h0m8-2h0m6 4h0m2-4h0m4 2h0m1-1h0m21 2h0m18-4h0m47 5h0m-258 10h0m36-4h0m8-2h0m32 2h0m3 0h0m16 4h0m4-4h0m6-3h0m15 0h0m3 3h0m8-2h0m1 6h0m0-1h0m5-6h0m10 0h0m20 5h0m4-5h0m1 2h0m2 0h0m4 1h0m7 3h0m2-2h0m61 1h0m18-1h0m26-4h0m-414 9h0m35-1h0m30 4h0m64 1h0m3 1h0m10-2h0m9 1h0m10-3h0m5 1h0m15 2h0m14 1h0m12-6h0m27 5h0m10 0h0m8 1h0m0-4h0m3 1h0m6 4h0m17 0h0m1-7h0m5 5h0m5-4h0m4 4h0m21-1h0m5 1h0m15 2h0m13-4h0m8 2h0m-282 10h0m41-2h0m19-4h0m1 5h0m2-6h0m2 6h0m2 0h0m8 0h0m13-2h0m14 0h0m4-3h0m2 2h0m13 2h0m1-3h0m12 2h0m4-4h0m2 6h0m3-2h0m8-3h0m15 3h0m0 2h0m1-2h0m4-3h0m1 6h0m2-2h0m0-4h0m9 2h0m1-1h0m2 0h0m0 0h0m8 3h0m3-3h0m12 2h0m9 2h0m6-1h0m4-5h0m5 1h0m7 1h0m3 2h0m8-2h0m2 2h0m15 3h0m12 0h0m0 0h0m11 0h0m5-1h0m9-1h0m-335 7h0m40-4h0m13 4h0m8 2h0m13-4h0m4 3h0m24-3h0m3 4h0m12-3h0m11 2h0m3-2h0m2 4h0m5-2h0m2-4h0m1-1h0m6 6h0m35-1h0m17-2h0m0-3h0m7 5h0m0 0h0m14-1h0m1-3h0m25 3h0m0 0h0m6 2h0m21-3h0m19 3h0m9-6h0m6 2h0m-265 11h0m7-3h0m10-1h0m0-1h0m17 2h0m19 4h0m1 0h0m9 1h0m3-1h0m22-4h0m1 2h0m5 0h0m4-2h0m8-1h0m4 1h0m2 1h0m2 0h0m14 3h0m3-6h0m10 4h0m0 2h0m1 0h0m16-2h0m1-1h0m9 2h0m2-2h0m10-1h0m7 2h0m3-3h0m6 4h0m2-3h0m7 3h0m2-1h0m24 2h0m5-3h0m3-2h0m2 0h0m7 4h0m3-2h0m16 2h0m5-4h0m24 5h0m3-4h0m7 2h0m2-4h0m3 1h0m18 1h0m-374 12h0m35 0h0m25 0h0m3-2h0m1-2h0m18 2h0m5 0h0m3 2h0m2-1h0m16-2h0m8 3h0m12-5h0m1 1h0m4 3h0m0 0h0m8-5h0m9 5h0m3-3h0m5 5h0m1-4h0m2 4h0m4-1h0m4-5h0m4 4h0m2 2h0m2-4h0m0-2h0m1 6h0m3-2h0m2-3h0m2 5h0m2-6h0m1 1h0m1 0h0m4 3h0m4 2h0m1-2h0m2 1h0m1-2h0m1 1h0m3 2h0m4 0h0m1-2h0m2-2h0m9 3h0m7-6h0m0 6h0m1-1h0m9-2h0m7 1h0m0-3h0m6 6h0m12-2h0m1 1h0m8 0h0m26-3h0m0 4h0m0 0h0m29-5h0m6 2h0m3 0h0m5-2h0m15 3h0m2-2h0m-328 12h0m12-3h0m14 2h0m3 0h0m1-6h0m28 4h0m7 0h0m7 0h0m5-3h0m5 3h0m9 0h0m4-3h0m5 1h0m0-1h0m2 4h0m2-5h0m7 2h0m2 0h0m6 1h0m4 1h0m11 0h0m2-2h0m15 1h0m0-2h0m6 3h0m1 3h0m2-2h0m3 2h0m1-1h0m1-4h0m4-1h0m2 0h0m0-1h0m1 2h0m0 3h0m1-1h0m4-1h0m3-3h0m8 2h0m3-2h0m2 2h0m0-1h0m2 5h0m0-2h0m1-4h0m2 0h0m1 7h0m3-1h0m3 1h0m4-1h0m3-6h0m5 6h0m1-4h0m5 2h0m2 0h0m0-2h0m2 3h0m32-1h0m19-4h0m5 7h0m28-3h0m29 3h0m18-7h0m-367 15h0m4-6h0m28 3h0m1 3h0m22 0h0m5 0h0m3-4h0m1 2h0m2 2h0m4-7h0m0 1h0m4 0h0m0 0h0m14 2h0m1-2h0m3 4h0m4-4h0m6 2h0m0 2h0m2-3h0m0 5h0m2 0h0m1-2h0m1-2h0m5-2h0m14 6h0m6-2h0m7 2h0m0-1h0m3-3h0m4-1h0m3 2h0m13 3h0m1-4h0m3-2h0m5 6h0m2-6h0m3-1h0m1 6h0m0 0h0m3 1h0m0-5h0m8-1h0m5 3h0m2 0h0m0 1h0m1-1h0m3-2h0m3 1h0m7-1h0m5-1h0m0 3h0m4 0h0m5 0h0m0 1h0m2-5h0m8 5h0m1-1h0m0 1h0m2 2h0m2-2h0m3-3h0m1-1h0m5 3h0m5-1h0m40-2h0m4 2h0m15 1h0m31-4h0m5 7h0m-360 5h0m18 1h0m16-2h0m12-3h0m13 5h0m10 2h0m7-1h0m10-6h0m9 4h0m18 3h0m4-1h0m2-6h0m8 7h0m5-6h0m1 6h0m5 0h0m1-7h0m1 5h0m3 2h0m0 0h0m5-6h0m1 4h0m3-2h0m9-2h0m7 4h0m0-1h0m7-2h0m1 3h0m1 1h0m4-3h0m0 1h0m1 3h0m1 0h0m1-3h0m3-3h0m4 3h0m2 2h0m2-4h0m7 3h0m14-3h0m0 1h0m3 3h0m1-5h0m1 1h0m0 1h0m0 2h0m4-1h0m16 2h0m4 0h0m4 1h0m8-3h0m0-4h0m9 6h0m2-3h0m6 0h0m1 3h0m10 0h0m2-1h0m0 2h0m4-5h0m3-2h0m3 6h0m1-2h0m11 1h0m7 1h0m25 0h0m23 1h0m-347 6h0m14 1h0m8-4h0m1 5h0m5-5h0m3 5h0m8-1h0m13-4h0m9 3h0m7-3h0m3-1h0m1-1h0m1 4h0m2-2h0m14 3h0m2 2h0m8-3h0m3 0h0m15 2h0m1-3h0m2 1h0m3 3h0m5-2h0m1-3h0m0 4h0m0-4h0m2 1h0m3 2h0m3 1h0m0 1h0m1-7h0m0 4h0m11 0h0m0-3h0m10 5h0m0 1h0m2-3h0m3 2h0m3 0h0m1-6h0m4 0h0m1 2h0m2-2h0m0 3h0m4 0h0m3-3h0m1 3h0m11-2h0m2-1h0m2 6h0m0-6h0m2 3h0m1-2h0m4 6h0m3-2h0m6-3h0m2 1h0m9-3h0m0 7h0m2-3h0m2-4h0m12 5h0m0-2h0m9 3h0m6-1h0m17-1h0m26-4h0m9 3h0m3 2h0m24 2h0m17-6h0m-384 9h0m15-1h0m44 5h0m4-3h0m20-1h0m2 1h0m6 1h0m7-2h0m1-1h0m5 0h0m13 1h0m15 5h0m2-7h0m10 5h0m0-3h0m3 4h0m7-3h0m10 0h0m2-1h0m4 4h0m2 1h0m3-7h0m8 3h0m4 2h0m1-5h0m1 6h0m3-5h0m2 4h0m1-1h0m6-3h0m0 5h0m0-2h0m3 2h0m2-4h0m4 2h0m1 3h0m1-6h0m1 6h0m5-1h0m0-4h0m0-1h0m4 0h0m5 0h0m4 6h0m1-7h0m2 3h0m3 4h0m8-7h0m1 2h0m9 5h0m4-1h0m4 0h0m2-3h0m0 3h0m4-3h0m3 2h0m5 0h0m0-4h0m5-1h0m2 7h0m1-4h0m3 0h0m1-2h0m2 2h0m3 4h0m3-6h0m7 0h0m7 2h0m3 0h0m3 3h0m15-1h0m0 0h0m7-2h0m7 3h0m4 0h0m17-1h0m1-5h0m14 3h0m-387 11h0m16-4h0m12 1h0m16 4h0m17-7h0m1 2h0m12 4h0m2-4h0m20 3h0m15-1h0m17 2h0m2-6h0m5 1h0m4-1h0m2 0h0m3 7h0m2-4h0m1-2h0m13 5h0m0-6h0m4 5h0m0-4h0m1 2h0m5-3h0m0 6h0m2-3h0m1 2h0m3 0h0m0-1h0m3-1h0m4 3h0m1-3h0m2 0h0m1 0h0m1 1h0m2 2h0m9 0h0m0 1h0m2-2h0m2-4h0m2 4h0m1 1h0m2-5h0m1 2h0m10-1h0m11 0h0m0-2h0m2 1h0m8 4h0m1 2h0m6-7h0m4 6h0m9 0h0m2-4h0m2-2h0m5 2h0m0-2h0m7 5h0m4-2h0m0 2h0m2-5h0m26 2h0m2 2h0m1-4h0m6 2h0m17 1h0m4-1h0m5 4h0m0-1h0m15-5h0m11 1h0m13 5h0m6 0h0m10 0h0m4-3h0m15 1h0m20-3h0m-425 14h0m24-7h0m7 5h0m1 1h0m18-1h0m16 1h0m0-1h0m5 1h0m7-4h0m2 3h0m8-5h0m13 3h0m2 2h0m2-3h0m15 3h0m3-4h0m3 2h0m7 4h0m16-5h0m2-1h0m5 2h0m2 1h0m5 3h0m4-5h0m5 4h0m4-2h0m2 3h0m3 0h0m4-1h0m12 0h0m11 0h0m2-2h0m2-3h0m0 1h0m2 5h0m5 0h0m6-5h0m2 0h0m6 2h0m20-3h0m2 2h0m23 4h0m0 0h0m14-3h0m3-2h0m1 0h0m12 1h0m29 2h0m21 0h0m18 1h0m29-6h0m-404 8h0m20 2h0m16 2h0m13 3h0m3-3h0m22-4h0m2 0h0m7 2h0m1-2h0m0 0h0m11 1h0m5 3h0m9 2h0m26 0h0m4-4h0m8-1h0m6 2h0m8-2h0m2 6h0m2-6h0m3-1h0m0 6h0m2-5h0m2 2h0m1 2h0m11-1h0m6-4h0m1 3h0m4 0h0m5 3h0m2 1h0m7 0h0m1-3h0m0 3h0m0-1h0m6-6h0m2 5h0m4 0h0m4-1h0m0 0h0m2-2h0m0 3h0m3-3h0m2 4h0m0 1h0m3 0h0m13-5h0m5 0h0m3 5h0m1-6h0m3 4h0m1 1h0m2-2h0m0 0h0m2-2h0m2 1h0m3-3h0m3 2h0m2 2h0m3 0h0m3 1h0m3-2h0m28 3h0m10-3h0m2 0h0m2 1h0m11 3h0m2-3h0m6 3h0m11-4h0m0-1h0m10 0h0m33 2h0m11-1h0m-446 8h0m47 1h0m2 3h0m9 0h0m7-3h0m5-4h0m7 5h0m8-1h0m3 1h0m4 2h0m5-7h0m3 2h0m4 2h0m2-1h0m23-1h0m2-2h0m2 3h0m17-1h0m0 0h0m0 4h0m14-2h0m6 3h0m11-6h0m1 1h0m8 2h0m7-4h0m10 7h0m10-3h0m20 3h0m2-1h0m1 1h0m10-5h0m0 1h0m2 4h0m1-2h0m5-4h0m8 2h0m3-2h0m1 0h0m5-1h0m4 7h0m1-1h0m2-5h0m4 4h0m2 2h0m1-5h0m9 0h0m19 1h0m1 1h0m4 3h0m3-1h0m6 0h0m1-2h0m2 0h0m2 2h0m18-5h0m2 4h0m1-2h0m5 1h0m7 2h0m7-6h0m4 4h0m24-2h0m16-1h0m15 2h0m29-2h0m-403 13h0m23-3h0m12 4h0m3 0h0m11-3h0m1 1h0m2-4h0m4 0h0m4 5h0m3 0h0m0-3h0m3 2h0m2 0h0m3-3h0m3 2h0m2-4h0m5 1h0m12-1h0m0 7h0m6-1h0m1-2h0m3-1h0m1 2h0m6 0h0m1 2h0m0-3h0m2-4h0m9 2h0m1 1h0m4-2h0m2 3h0m6-1h0m3 2h0m1 0h0m7-3h0m2-1h0m3 4h0m2-2h0m3-1h0m1 2h0m0-4h0m2 1h0m5-1h0m0 0h0m3 3h0m9-3h0m1 2h0m3 2h0m1-2h0m2 0h0m10 3h0m14-3h0m2 1h0m16 0h0m19-1h0m9-1h0m3 0h0m5-1h0m1 7h0m11-7h0m11 1h0m4 4h0m4 1h0m2-4h0m1 3h0m6 2h0m1-1h0m11 0h0m9-5h0m7 5h0m0-5h0m6 5h0m4 0h0m12 1h0m2-4h0m5-3h0m6 4h0m11 2h0m4-6h0m5 6h0m22 0h0m-457 7h0m50-4h0m17 5h0m3-3h0m0 2h0m20-4h0m1 2h0m1 0h0m1-2h0m5 4h0m8-4h0m2 0h0m22-1h0m1 0h0m2 3h0m0 1h0m0 1h0m26-1h0m9-4h0m1 2h0m4 5h0m9-5h0m7 5h0m5-6h0m1 6h0m6-5h0m4-2h0m1 0h0m1 3h0m1-3h0m0 5h0m7-2h0m3-2h0m4 1h0m9 2h0m1-4h0m7 1h0m3 1h0m0 2h0m7 0h0m1 2h0m12-2h0m21 2h0m1 0h0m4-4h0m0 4h0m1-4h0m10 3h0m18-2h0m0-3h0m0 4h0m17 2h0m1-6h0m8 0h0m7 6h0m3-2h0m9 3h0m42-4h0m-402 10h0m26 1h0m19-3h0m4 0h0m24-2h0m0 5h0m14-4h0m5 1h0m2 4h0m1-7h0m6 0h0m18 6h0m3-1h0m3 2h0m15-3h0m1-4h0m9 4h0m5 1h0m3-5h0m13 0h0m2 2h0m4-2h0m4 7h0m2-5h0m0 3h0m6-3h0m3 0h0m11 5h0m4-1h0m0-3h0m3 4h0m29-4h0m0 3h0m4-6h0m3 2h0m1 4h0m12-1h0m14-4h0m7 1h0m1 0h0m5 0h0m2 4h0m1 0h0m3-1h0m9-2h0m2-3h0m2 3h0m6-1h0m1 2h0m10-3h0m2 4h0m20-3h0m5 5h0m4 0h0m0-6h0m2 1h0m1-2h0m29 6h0m7-6h0m22 1h0m9 5h0m-436 6h0m52-3h0m12 3h0m48 2h0m4-5h0m17 5h0m3-4h0m2 4h0m1-3h0m12-2h0m16 6h0m10-6h0m10 2h0m5 0h0m12-1h0m12 2h0m4-3h0m13 4h0m2 2h0m9-6h0m1 4h0m2 2h0m5 0h0m4-7h0m7 7h0m4-2h0m11-2h0m1-1h0m1 0h0m1-1h0m1 3h0m7 1h0m1-3h0m4 3h0m1 1h0m3 0h0m3-5h0m1 2h0m13-2h0m7 3h0m18 0h0m15-1h0m12-3h0m2 1h0m11 2h0m2-1h0m5 5h0m13-3h0m3-4h0m2 2h0m31 0h0m-397 6h0m8 0h0m4 6h0m40-2h0m7-2h0m0-2h0m2 5h0m6-2h0m9 2h0m27-1h0m14-3h0m35 1h0m4-1h0m3 1h0m0 3h0m1 2h0m2 0h0m32-5h0m5 1h0m35 2h0m1-2h0m7 3h0m16 1h0m10-4h0m18-2h0m5 5h0m3-4h0m30 2h0m0 0h0m21-3h0m7 2h0m0-3h0m3 3h0m11 0h0m1-3h0m-367 14h0m21-2h0m1-4h0m17 2h0m12-1h0m1 4h0m11 0h0m1 0h0m1 2h0m3-7h0m8 7h0m2-4h0m5 2h0m3 1h0m8-1h0m7 1h0m0-3h0m6-3h0m0 1h0m3-1h0m10 5h0m17-1h0m4-4h0m0 7h0m41-1h0m1-6h0m2 4h0m6 0h0m1-2h0m2 2h0m7 0h0m1 3h0m4-2h0m1-2h0m3-2h0m6 0h0m2 1h0m8-1h0m11 2h0m4-3h0m7 7h0m5 0h0m7-5h0m4 5h0m2-4h0m2-3h0m4 4h0m1 1h0m5-4h0m10 2h0m11-1h0m26 4h0m24-6h0m8 1h0m0 1h0m10-2h0m30 6h0m7 1h0m4-6h0m5 4h0m-443 8h0m38-3h0m10-1h0m8 3h0m4 0h0m6-2h0m9 4h0m5-1h0m4-1h0m2-1h0m4 1h0m8 2h0m3-1h0m19 0h0m11-2h0m17-3h0m3 4h0m16 3h0m11-6h0m5 0h0m58 1h0m5 4h0m3-3h0m0-2h0m12 5h0m0-4h0m9 4h0m16-2h0m15 2h0m4-4h0m2-1h0m0-1h0m7 3h0m1 1h0m28 3h0m11-5h0m7 3h0m2-4h0m33 6h0m6 0h0m3 0h0m-388 5h0m3-1h0m57-1h0m34 0h0m28 4h0m8-1h0m6-5h0m6 7h0m11-1h0m22-4h0m2 4h0m37 0h0m17-2h0m0-3h0m14 0h0m1-1h0m0 2h0m5-2h0m1 4h0m8-2h0m23 2h0m7-1h0m4 0h0m2-1h0m5 3h0m26-4h0m6 6h0m11 0h0m6-3h0m33-1h0m23 0h0m11-3h0m-386 15h0m17-4h0m1 2h0m14 0h0m3-1h0m9 3h0m13-7h0m1 1h0m1 2h0m15-1h0m2 0h0m3-2h0m1 6h0m4-3h0m11-2h0m18 6h0m23 0h0m5-2h0m19-1h0m30-4h0m7 1h0m10 3h0m1 3h0m26-3h0m6 1h0m8-5h0m0 4h0m12-1h0m14 4h0m3-4h0m4 3h0m15-3h0m12 3h0m2-6h0m11 7h0m0-3h0m2-2h0m14 5h0m32-4h0m24-3h0m14 7h0m-440 5h0m0-2h0m2 5h0m32-1h0m5-1h0m2-3h0m17 3h0m12-5h0m10 3h0m6-2h0m14 4h0m21 1h0m14-5h0m10 4h0m25-5h0m45 0h0m1 0h0m7 3h0m11 0h0m18 0h0m10 1h0m5 0h0m8-3h0m6 6h0m2 0h0m31 0h0m3-3h0m17-4h0m9 4h0m4-4h0m3 2h0m16 0h0m18 5h0m0-3h0m21-2h0m18 2h0m4 1h0m2 0h0m22 2h0m13 0h0m-462 3h0m20 4h0m8 1h0m7-6h0m13 1h0m5 4h0m1-2h0m14-2h0m3 0h0m20-1h0m1 4h0m14 2h0m32-3h0m12 2h0m29 1h0m26-3h0m23 1h0m13-5h0m7 4h0m35 0h0m6-1h0m2-1h0m4 2h0m1-2h0m1-1h0m4-1h0m3 4h0m1 2h0m3-2h0m0-1h0m4 2h0m12-1h0m2-4h0m12 7h0m0-6h0m9 0h0m53 3h0m13-2h0m-411 11h0m4-4h0m14 3h0m6-3h0m12 6h0m4 0h0m4 0h0m4-4h0m3-1h0m15 4h0m1-3h0m5 2h0m7-1h0m2 2h0m36-3h0m66 2h0m0-1h0m4-3h0m17 3h0m21-4h0m25 5h0m5-2h0m39 0h0m31-3h0m19 0h0m1 0h0m11 3h0m3 2h0m1-2h0m20-1h0m63 2h0m-472 4h0m12 3h0m13 1h0m5 3h0m12-5h0m27-1h0m11 3h0m3-4h0m9 6h0m6 0h0m2-2h0m21 3h0m10-4h0m104 0h0m16 0h0m57 2h0m9 0h0m25 2h0m4-4h0m12 1h0m1 0h0m26 1h0m16-2h0m14-2h0m2 0h0m23 5h0m2-2h0m50-1h0m-479 6h0m42 6h0m2-1h0m6 1h0m55-5h0m11-1h0m144 1h0m6-2h0m3 2h0m13 4h0m3 0h0m23-3h0m9-3h0m3 4h0m38-4h0m27 1h0m3 4h0m30-4h0m8-1h0m-398 10h0m70 1h0m12-2h0m27 1h0m142-1h0m14 1h0m54 2h0m61 0h0m1-3h0m36 0h0m2 0h0m57 3h0m-392 5h0m3 5h0m239-3h0m3 4h0m34-6h0m102 3h0m-441 8h0m20 2h0m7 0h0m3-5h0m170 0h0m43 2h0m64 0h0m70 3h0m-393 9h0m79-3h0m226-3h0m47 6h0m14-1h0m3-2h0m3-2h0m18 4h0m-301 5h0m258-3h0m1 7h0m4-4h0m88 1h0m-420 5h0m273 2h0m-17 5h0m20 3h0m5 0h0m181-2h0m-88 13h0m12-5h0m-79 11h0m56-4h0m-1 54h0"/>
<path stroke="#8dbcc6" stroke-opacity="0.5" stroke-width="5.0" d="M921 400h0m111 4h0m-74 31h0m85-3h0m-67 11h0m66 3h0m1-3h0m-104 9h0m55 2h0m-113 7h0m51-3h0m10 5h0m136-3h0m-148 7h0m3 1h0m22-2h0m29 3h0m30-4h0m36 4h0m42-3h0m-126 10h0m31 2h0m27-6h0m-184 9h0m41 4h0m68-5h0m7 7h0m57-2h0m-194 9h0m15-1h0m80 2h0m3 0h0m6-4h0m5 2h0m17 0h0m13 2h0m21-6h0m8 4h0m19-4h0m0 6h0m2-7h0m48 7h0m6 0h0m43-4h0m26 3h0m6 0h0m-220 7h0m65-3h0m12 2h0m14 0h0m12 3h0m31-2h0m-114 8h0m87-4h0m26 0h0m4 0h0m28 5h0m15-6h0m-230 14h0m46-2h0m15-4h0m20 1h0m53 4h0m14-1h0m7-1h0m4 1h0m2-2h0m65 5h0m9-2h0m-199 3h0m9 0h0m3 6h0m11-5h0m28 5h0m69-5h0m58 1h0m93 5h0m-275 8h0m41-2h0m27 0h0m50-5h0m63 3h0m3 2h0m-152 8h0m8 1h0m12-1h0m48 2h0m24-5h0m15 5h0m19-3h0m1-2h0m54 0h0m79 4h0m5 1h0m7-2h0m-286 9h0m1 1h0m71-2h0m15 1h0m11 1h0m16-1h0m39 0h0m16-5h0m-214 12h0m2-5h0m53 5h0m18-5h0m16 5h0m17-4h0m11-1h0m6 0h0m57 4h0m6-2h0m13-1h0m-169 14h0m49 0h0m17-3h0m45 0h0m7 0h0m32 1h0m22-1h0m15-4h0m9 0h0m26 6h0m79 1h0m-317 3h0m15 2h0m107 1h0m3-3h0m32 4h0m52-2h0m8-1h0m52 3h0m27-3h0m-324 8h0m64 3h0m92 0h0m21-3h0m4-3h0m39 0h0m19 6h0m27 1h0m43-2h0m43-5h0m-425 10h0m111-2h0m37 0h0m26 7h0m1 0h0m10-7h0m43 6h0m21-2h0m34-2h0m12-1h0m7 0h0m25 3h0m81 1h0m8-5h0m1 6h0m-428 9h0m102-7h0m12 2h0m27 5h0m16-5h0m35 5h0m19-1h0m34-2h0m19-4h0m9 6h0m23-4h0m1-1h0m8 2h0m19 3h0m68-3h0m17-1h0m30-1h0m-373 13h0m17-1h0m48 0h0m1 0h0m3 1h0m27-5h0m46 6h0m30-4h0m4-1h0m20-2h0m34 0h0m15 2h0m43 0h0m65 3h0m29-1h0m-387 11h0m17-7h0m45 1h0m15 1h0m47 2h0m10-2h0m12 1h0m14 0h0m5 3h0m32-5h0m25 5h0m7-4h0m7-1h0m11 2h0m7 0h0m6 0h0m6-2h0m5-1h0m79 1h0m31 1h0m35-1h0m5 1h0m-389 11h0m2 1h0m94-2h0m16 3h0m47-6h0m65 4h0m25-1h0m4 3h0m9-5h0m21 1h0m26 2h0m18-2h0m49-3h0m17 0h0m-441 15h0m16-5h0m70-2h0m9 5h0m36-2h0m51 4h0m46-4h0m11-2h0m15 5h0m44-4h0m43-1h0m4 2h0m4-3h0m5 5h0m4-3h0m50 2h0m42-4h0m-462 11h0m1-1h0m43-2h0m9 0h0m47 6h0m14 0h0m27 0h0m73-6h0m19 0h0m9 4h0m1 3h0m3-4h0m22 0h0m52-1h0m36 3h0m10-5h0m14 7h0m-377 2h0m5 6h0m14-6h0m52 3h0m7 2h0m41-1h0m33 1h0m47-1h0m4-3h0m2 0h0m11 3h0m4 1h0m31-5h0m13 4h0m8-1h0m34 3h0m25-1h0m26 0h0m6-2h0m20 1h0m3 2h0m13-6h0m30 3h0m-339 8h0m94 1h0m30-1h0m28-1h0m21-2h0m12 3h0m3 1h0m9-4h0m20 3h0m20-2h0m13-1h0m17 6h0m26-7h0m5 5h0m3-1h0m16-2h0m-275 12h0m31-4h0m12 2h0m87-4h0m6 2h0m7 1h0m18 0h0m15 1h0m63-1h0m7 3h0m5 1h0m18-6h0m-395 13h0m61-6h0m38 3h0m88-3h0m1 4h0m96 2h0m12 1h0m3-4h0m1-2h0m0 1h0m3 2h0m19 2h0m3-6h0m9 4h0m31 0h0m17-2h0m6 3h0m2 0h0m53 0h0m-345 8h0m108-4h0m9 3h0m12 0h0m12-2h0m39 2h0m80 0h0m58-1h0m-127 9h0m65-2h0m3 5h0m5 0h0m0-7h0m4 3h0m16 0h0m2 2h0m37-4h0m18 3h0m15-4h0m0 0h0m1 0h0m-456 10h0m83 4h0m172-3h0m44-1h0m34 3h0m16 0h0m10-5h0m25 4h0m92-2h0m-429 10h0m255 2h0m24 0h0m7-4h0m3 2h0m6-3h0m44 5h0m24-2h0m24 2h0m91 1h0m-505 4h0m350 2h0m4 1h0m38-2h0m-160 4h0m56 4h0m39-4h0m4 4h0m15 2h0m13 0h0m-336 3h0m265 3h0m8-4h0m23 7h0m9-7h0m9 7h0m90-2h0m-150 3h0m75 4h0m9 0h0m16-2h0m25 4h0m45-2h0m-438 5h0m34 6h0m237-7h0m51 7h0m17-4h0m13 0h0m3-2h0m29 3h0m41-4h0m-143 10h0m51-1h0m3 5h0m27-6h0m7 5h0m52-4h0m-144 7h0m12 3h0m6-1h0m19-1h0m50-1h0m-16 10h0m7-1h0m4 2h0m3-1h0m26-1h0m-147 12h0m55-1h0m114 3h0m-109 5h0m27 2h0m8 1h0m18-2h0m5-1h0m11-3h0m28 1h0m13 4h0m-122 6h0m34 0h0m3-3h0m10 1h0m13 0h0m3 2h0m8 3h0m23-2h0m7-5h0m-73 12h0m33-3h0m24 4h0m-85 8h0m11 1h0m-56 3h0m24 4h0m26 0h0m34-1h0m44 1h0m8-1h0m-58 8h0m43 1h0m78 0h0m-122 4h0m6 2h0m26 4h0m34-2h0m17-5h0m-132 12h0m28-2h0m3 2h0m36-3h0m21-1h0m-65 9h0m24 1h0m3 0h0m83 5h0m-67 8h0m7-5h0m41-1h0m3 0h0m1 5h0m-82 4h0m43 2h0m15-4h0m12 6h0m20-6h0m2 1h0m26 9h0m-85 9h0m47-3h0m-49 8h0m56 0h0m-36 15h0m41-6h0m-85 10h0m62 2h0m-70 3h0m47 14h0m-2 7h0m10-3h0m9-1h0m-81 12h0m79-2h0m65-1h0m-148 13h0m19 9h0m142 4h0m-155 31h0m63 9h0m-57 26h0"/>
<path stroke="#e6e2cf" stroke-opacity="0.6" stroke-width="5.0" d="M930 407h0m-14 17h0m43 7h0m140-6h0m-180 7h0m94 8h0m51 5h0m-199 7h0m78-2h0m213-2h0m-333 13h0m160 1h0m-17 8h0m48-3h0m2 0h0m128 2h0m-193 5h0m184-1h0m-276 12h0m76-2h0m92 3h0m62-5h0m-90 11h0m8-4h0m11 2h0m26 2h0m5-4h0m6 5h0m2 0h0m9-5h0m25 3h0m5 1h0m55-2h0m26 3h0m-157 10h0m42-7h0m11 4h0m4 3h0m34-3h0m-203 8h0m2-2h0m166 4h0m45-5h0m-187 9h0m111-1h0m41 6h0m-250 6h0m110-2h0m10 2h0m12 1h0m51-6h0m12 5h0m11-5h0m20 0h0m80 2h0m33 0h0m-227 6h0m98 3h0m9 0h0m29 1h0m102 1h0m-328 6h0m98 2h0m35-1h0m19 0h0m4 0h0m9-3h0m16 5h0m-162 8h0m9-2h0m34-4h0m7 6h0m35-1h0m37 2h0m32-7h0m80 4h0m-234 5h0m2 4h0m11-5h0m8 1h0m85 0h0m2 1h0m13 1h0m226-1h0m-358 13h0m18-1h0m17-1h0m4-1h0m58 1h0m0 2h0m13-5h0m7 3h0m10-3h0m34-1h0m3-1h0m16 1h0m2 4h0m3 2h0m32-7h0m20 5h0m4-3h0m32 2h0m45 3h0m-360 4h0m5 3h0m37-1h0m1 1h0m6-5h0m13 4h0m18-2h0m42 0h0m8 0h0m8 4h0m4-4h0m14 3h0m4-3h0m14 4h0m2-6h0m28 1h0m10 3h0m11 1h0m5-5h0m2 3h0m103 3h0m64-5h0m3 3h0m28 1h0m-343 6h0m17 1h0m30 0h0m51-1h0m19-2h0m1 5h0m1-3h0m2 0h0m9 0h0m2 1h0m0 0h0m7 1h0m16 0h0m9-6h0m35 1h0m5 3h0m113-2h0m-383 10h0m25 1h0m42 0h0m34-2h0m5 3h0m29 1h0m10-7h0m1 2h0m3 5h0m16-1h0m36 1h0m1-1h0m0 1h0m2-7h0m15 3h0m29-2h0m4 3h0m2-3h0m16 0h0m17 3h0m13-3h0m43 5h0m51-1h0m-385 3h0m35 3h0m17 2h0m35-2h0m8 1h0m23-4h0m1 5h0m9-2h0m17 1h0m2 2h0m1 1h0m2-3h0m15 0h0m5-3h0m3 3h0m5 0h0m6 3h0m2 0h0m10-4h0m4-2h0m1 4h0m5 1h0m4-6h0m20 0h0m10 3h0m38-2h0m38 2h0m12-1h0m19 3h0m0 2h0m3-3h0m0 2h0m-427 6h0m83 2h0m18-6h0m28 3h0m5 2h0m2 2h0m12-3h0m1 0h0m1 3h0m1-3h0m13 3h0m14-5h0m6-2h0m3 2h0m4 3h0m1 2h0m10-4h0m7-2h0m8 4h0m0-2h0m8-3h0m4 7h0m16-5h0m2 4h0m3-2h0m6 1h0m9 0h0m2-1h0m3 0h0m10-1h0m1 3h0m7-2h0m7 3h0m12-7h0m8 6h0m1 1h0m2 0h0m1-2h0m4-2h0m10-3h0m11 4h0m65 0h0m1 2h0m7-6h0m73 1h0m-412 8h0m4 6h0m49-1h0m3-5h0m16-1h0m6 4h0m14-4h0m4 5h0m26-3h0m4 1h0m6 2h0m10-1h0m6 0h0m15-2h0m10 1h0m10-3h0m13 2h0m1-1h0m11 0h0m28 1h0m19-1h0m5 3h0m6-1h0m11-3h0m9 4h0m25-2h0m14 5h0m22-3h0m1 3h0m2 0h0m22-3h0m-381 5h0m48 6h0m26-2h0m19-2h0m8 1h0m2 3h0m4-1h0m3-3h0m7-2h0m14 2h0m1-2h0m18 2h0m15 3h0m1-1h0m10 1h0m3-1h0m0-3h0m3 0h0m7-1h0m23 2h0m6-3h0m9 6h0m5 0h0m2 0h0m3-4h0m2 5h0m5-7h0m7 5h0m8-2h0m5 4h0m13-3h0m16 2h0m13-6h0m17 7h0m47-1h0m3-5h0m-387 8h0m6 3h0m10-1h0m17 4h0m10-6h0m27 6h0m18-3h0m23-2h0m6 0h0m19 5h0m9-1h0m3-6h0m3 3h0m25 1h0m1-2h0m8 0h0m2 1h0m8-3h0m1 2h0m1 2h0m0 0h0m1-2h0m1-1h0m13 3h0m2-3h0m17 3h0m9 1h0m6-3h0m4 1h0m12 0h0m5 1h0m6 3h0m11-2h0m10-5h0m9 2h0m28 4h0m24-6h0m1 4h0m18-1h0m-345 6h0m22 1h0m16 2h0m90-4h0m2 1h0m20 3h0m3-4h0m3 7h0m2-6h0m6 1h0m4 5h0m2-2h0m7-4h0m2 3h0m2 0h0m2-1h0m4 1h0m5 0h0m11 3h0m4-3h0m3 2h0m0 0h0m6-4h0m18-1h0m25 2h0m2 1h0m2 0h0m0 0h0m2-3h0m22 4h0m4-2h0m6 2h0m6 0h0m4-3h0m30-1h0m14 6h0m-354 8h0m38 0h0m28-7h0m14 5h0m37 2h0m10-7h0m7 7h0m3-2h0m10 0h0m7 1h0m14-2h0m5 2h0m1-1h0m6-1h0m16-1h0m1 1h0m7-4h0m2 0h0m7 5h0m10-3h0m15-1h0m2 4h0m15-2h0m2-2h0m15 6h0m6-7h0m14 7h0m11-1h0m3-3h0m7 4h0m1-3h0m3 0h0m41 1h0m17 1h0m2 1h0m26-6h0m3 6h0m-423 2h0m54 4h0m4 0h0m15-3h0m1 2h0m9 3h0m21-4h0m23-3h0m22 1h0m8-1h0m6 7h0m9-1h0m5-5h0m3 5h0m2-2h0m10-3h0m0 2h0m2 0h0m8 3h0m19-3h0m4 3h0m17 1h0m8-2h0m9-1h0m7 2h0m5-3h0m0-2h0m3 2h0m1 4h0m17-6h0m6 6h0m4 0h0m14-5h0m2 0h0m37 0h0m3 1h0m0 0h0m7-2h0m16-1h0m-383 9h0m67 3h0m14 3h0m5-6h0m15 1h0m12 4h0m3-2h0m14 3h0m17-1h0m27-2h0m2-3h0m11-1h0m4 7h0m16-6h0m4 3h0m0-4h0m4 0h0m2 6h0m13-5h0m20 6h0m3-6h0m9 3h0m2 3h0m0-5h0m4 5h0m6 0h0m26-1h0m2-5h0m6 5h0m10-4h0m0 3h0m7 1h0m1-3h0m6-1h0m5 4h0m9-1h0m3 0h0m0-2h0m1 3h0m31-2h0m14-2h0m77 5h0m-367 3h0m13-1h0m11 1h0m4 5h0m6-1h0m3-3h0m13 1h0m5-1h0m14 4h0m60-6h0m0 0h0m13 6h0m0-6h0m3 6h0m20 0h0m4-3h0m1 2h0m4-1h0m2-1h0m0 0h0m14-3h0m8 5h0m10-4h0m2 3h0m1-4h0m3 4h0m1 0h0m14-3h0m3-1h0m2 2h0m1 0h0m6-1h0m13 1h0m3 4h0m1-3h0m7 1h0m14-2h0m7-2h0m16 2h0m1 2h0m1 2h0m10-6h0m3 2h0m27 3h0m1-3h0m12 4h0m15 0h0m-408 7h0m47-4h0m27 3h0m7-4h0m20 4h0m5 2h0m4-7h0m49 2h0m23 2h0m12-4h0m10 7h0m1-3h0m12-2h0m14-2h0m0 4h0m20 2h0m1 0h0m3 0h0m4-2h0m4 3h0m17-4h0m14 4h0m10-2h0m3-1h0m7 3h0m3-7h0m9 7h0m29-5h0m1 5h0m4-6h0m2 2h0m10-3h0m-476 14h0m168 0h0m3-4h0m29-2h0m14 0h0m10 1h0m4 1h0m1 2h0m15 3h0m9-2h0m1-2h0m16 3h0m26-2h0m1-1h0m2 1h0m2 2h0m4 1h0m2-4h0m7 3h0m4-4h0m2 1h0m1-2h0m1 0h0m9-1h0m9 2h0m12 4h0m3-5h0m2 4h0m20 1h0m9-3h0m1-2h0m6 5h0m0-4h0m2 5h0m21-5h0m5 5h0m22-6h0m8 2h0m10-1h0m6 1h0m-417 7h0m119-1h0m26 0h0m45 3h0m38-2h0m21-2h0m0 2h0m9-1h0m14 0h0m8 5h0m14-2h0m5 2h0m3-2h0m11-4h0m11 5h0m6 0h0m7-3h0m4 2h0m2 3h0m8-7h0m11 4h0m2 0h0m8-3h0m11-1h0m36 4h0m34 1h0m-387 5h0m18-1h0m28 4h0m3-2h0m24 1h0m11 3h0m13-6h0m1 6h0m24-4h0m23 1h0m13 0h0m18-2h0m14-2h0m8 1h0m1 0h0m9 1h0m2-2h0m3 4h0m2-4h0m23 1h0m5 5h0m2-1h0m6-5h0m9 3h0m6 4h0m3 0h0m3-5h0m3 4h0m1 1h0m4-3h0m2 3h0m5-2h0m9 1h0m73-2h0m-332 4h0m2 7h0m1-5h0m38 2h0m7-1h0m25 0h0m9 1h0m0 1h0m1 1h0m8-6h0m66 5h0m1-5h0m2 5h0m10-3h0m1-1h0m3 6h0m1-3h0m10-4h0m16 5h0m7 0h0m0-2h0m5-1h0m8 1h0m1 2h0m15 1h0m3 1h0m2-1h0m23-6h0m21 2h0m10 0h0m2 3h0m-223 3h0m32 7h0m22-3h0m17 3h0m7-1h0m3-1h0m12-1h0m19-3h0m16 0h0m3 0h0m18 1h0m8-2h0m8 7h0m25-5h0m1 4h0m0-4h0m28 3h0m81-3h0m-470 9h0m22-3h0m110 5h0m24-5h0m5 3h0m42 4h0m24-5h0m5-2h0m2 2h0m2 3h0m20-5h0m7 3h0m30 4h0m13-6h0m25-1h0m19 0h0m1 6h0m8-5h0m16 6h0m14-3h0m-228 7h0m70 1h0m4-2h0m20-2h0m7 3h0m9-3h0m5 0h0m13 4h0m1-1h0m3 0h0m4 1h0m8-1h0m3 1h0m23 1h0m1-4h0m20 0h0m21 3h0m0-3h0m6 4h0m1-5h0m28 6h0m23-3h0m15 3h0m-300 8h0m39-2h0m51-2h0m32 2h0m4 2h0m22-3h0m2-2h0m6-1h0m0 2h0m19-2h0m2 3h0m4 3h0m13-6h0m12 3h0m11-2h0m25 4h0m8-5h0m28 3h0m-391 12h0m66-6h0m36 1h0m19 0h0m100-2h0m20 5h0m8 2h0m9-4h0m18-1h0m8-2h0m4 2h0m6 4h0m4-5h0m6 0h0m13 1h0m15 3h0m17-5h0m12 4h0m2-4h0m-289 9h0m39 2h0m87-3h0m67 1h0m0-1h0m31 5h0m25-3h0m60-1h0m-322 7h0m21 6h0m124-6h0m9 0h0m37 4h0m7-1h0m6-1h0m10-2h0m1 7h0m69 0h0m33-1h0m-103 7h0m5 0h0m9 0h0m3 1h0m6 1h0m1-3h0m13-1h0m13 2h0m8-4h0m4 2h0m27 4h0m-122 3h0m17 4h0m8 1h0m1-6h0m8 3h0m10 2h0m8-5h0m22 6h0m20-4h0m37 3h0m5-6h0m-127 10h0m24-1h0m29 6h0m30-1h0m2-1h0m7-1h0m-115 8h0m30 0h0m20-2h0m5 2h0m0 0h0m2-3h0m38 0h0m5 6h0m11 0h0m5-2h0m20 0h0m-164 6h0m59-2h0m6 1h0m4 5h0m8-6h0m6 2h0m19 3h0m22 0h0m18 0h0m-124 9h0m23-7h0m50 5h0m2-5h0m29 5h0m51 1h0m5-6h0m-166 9h0m57-1h0m0 5h0m38-1h0m9-3h0m15 4h0m12 1h0m28-6h0m-184 11h0m35-2h0m18 3h0m24-2h0m3-1h0m5 5h0m1-2h0m13-4h0m1 0h0m13 6h0m8-6h0m25 0h0m-123 8h0m43 7h0m12-2h0m13 2h0m20-6h0m21 5h0m-69 7h0m4-2h0m11 1h0m12 0h0m5-3h0m16 0h0m30 4h0m2-5h0m4 4h0m19 2h0m1 1h0m-103 5h0m16-2h0m7-2h0m7 1h0m17-1h0m16 3h0m8 3h0m4-5h0m4 2h0m0-2h0m23 5h0m15-1h0m-158 5h0m20 5h0m71-7h0m11 3h0m5 2h0m56-5h0m-113 8h0m26 7h0m18-3h0m3-3h0m3 1h0m5 1h0m17 1h0m2-3h0m22 2h0m-98 9h0m19 3h0m16-4h0m7-2h0m46 4h0m-134 8h0m180 0h0m-182 8h0m9 2h0m27-3h0m40-3h0m52 3h0m-89 8h0m50 3h0m18-4h0m71 3h0m-122 5h0m1 0h0m30 2h0m9 2h0m62-2h0m-125 6h0m25-2h0m27 11h0m38 3h0m-32 4h0m-14 7h0m6 1h0m86 0h0m-151 10h0m55-2h0m46 0h0m-24 18h0m13-2h0m3 2h0m1-5h0m-71 18h0m-30 7h0m37 9h0m44-1h0m-15 18h0"/>
<path stroke="#fbbd9c" stroke-opacity="0.55" stroke-width="5.2" d="M908 551h0m47-5h0m11 5h0m38-4h0m10 1h0m68 3h0m-142 6h0m75 2h0m16 0h0m68-3h0m124-1h0m-396 9h0m61 1h0m36-2h0m47 2h0m6-1h0m61-4h0m10 7h0m44-1h0m-142 9h0m34-1h0m8-1h0m17-1h0m27 3h0m193-7h0m-317 15h0m16-3h0m31-3h0m9 0h0m25 3h0m0-3h0m11 1h0m6 2h0m9-2h0m39 3h0m26-1h0m-249 5h0m36 1h0m18-1h0m7 4h0m30-1h0m6 1h0m5-5h0m33 5h0m15 2h0m4-6h0m2 4h0m4 2h0m13-2h0m6-5h0m3 7h0m4-3h0m22-3h0m4 0h0m6 0h0m2 1h0m17 5h0m22-5h0m1 3h0m23-1h0m-217 7h0m9-2h0m9 6h0m33-1h0m11-6h0m24 1h0m1 5h0m1-5h0m5 5h0m15 0h0m6 1h0m2-3h0m15-2h0m11 3h0m6-1h0m51-1h0m7 3h0m1-6h0m38 0h0m11 7h0m56 0h0m-268 2h0m1 0h0m5 2h0m18 2h0m11-3h0m2 3h0m7-2h0m3 4h0m1-7h0m8 2h0m2-2h0m1 5h0m3 1h0m4-2h0m3 1h0m8-2h0m7-3h0m20 6h0m25-1h0m3-2h0m16 3h0m47-4h0m48 1h0m37-1h0m-391 9h0m95 0h0m20 4h0m69-4h0m0 1h0m10-4h0m12 2h0m13 5h0m11-7h0m13 2h0m23 5h0m16-1h0m5-5h0m6 6h0m38-6h0m3-1h0m-234 12h0m22 3h0m14-1h0m2-5h0m12 6h0m5-4h0m4-2h0m10-1h0m1 1h0m6 1h0m5-1h0m4 4h0m8-5h0m3 2h0m6 4h0m3-5h0m16-1h0m3 7h0m14-7h0m0 7h0m7-4h0m25 4h0m33 0h0m39-5h0m1 4h0m-277 7h0m20 1h0m4-5h0m26 2h0m22-3h0m6 4h0m2 1h0m2 1h0m2-4h0m1 4h0m5 0h0m6-3h0m16 3h0m11-5h0m0 1h0m35-2h0m3 1h0m2 5h0m7-2h0m22 0h0m2-1h0m9-1h0m4 3h0m18-3h0m22 0h0m7 1h0m93-1h0m-365 13h0m15 0h0m35-3h0m1-3h0m6 2h0m45 1h0m0-4h0m2 0h0m3 1h0m41 3h0m3 3h0m26-5h0m5 0h0m2 0h0m1 0h0m34-1h0m8-1h0m37 7h0m13-2h0m54-1h0m12 0h0m15-1h0m28 0h0m-368 9h0m36-4h0m15 2h0m18-1h0m24 6h0m34-5h0m11-1h0m4 3h0m9 0h0m0 3h0m14-1h0m2-4h0m6 1h0m8-2h0m10 1h0m18 0h0m3 5h0m0-6h0m14 3h0m43 2h0m14-3h0m28 1h0m18-1h0m-350 8h0m36 3h0m47-3h0m28 2h0m5-1h0m10 2h0m12-2h0m5 0h0m5-1h0m4-3h0m16 4h0m3 2h0m7-3h0m9 0h0m5-1h0m12 2h0m5 3h0m17-5h0m12 2h0m4-1h0m27 0h0m29-2h0m4 6h0m14-6h0m28 2h0m23 4h0m9 0h0m-374 1h0m36 6h0m23 0h0m57-5h0m8 0h0m23 3h0m6 0h0m2-4h0m7 6h0m5 0h0m6 0h0m0-1h0m6-4h0m7-1h0m5 6h0m2-6h0m13 2h0m4 1h0m4-2h0m0 0h0m1 5h0m7-4h0m2 1h0m2-1h0m1-2h0m0 4h0m0-2h0m13 4h0m6 0h0m15 1h0m2-4h0m1-2h0m9 5h0m9-5h0m3 5h0m2-5h0m1 6h0m10-7h0m12 1h0m5 5h0m10-3h0m27 3h0m4 1h0m39-3h0m39-3h0m-409 9h0m23 4h0m18-5h0m7 3h0m36-4h0m43 1h0m8 5h0m4-3h0m12 0h0m13 2h0m3-4h0m0-1h0m6 0h0m11 5h0m1-4h0m1 2h0m10 4h0m1-1h0m9 0h0m1-1h0m7-3h0m17-1h0m8-1h0m1 5h0m1 1h0m7 1h0m2-2h0m4-3h0m1-1h0m1 2h0m2 4h0m41 0h0m4-3h0m12-3h0m13 6h0m15-7h0m-294 12h0m20-3h0m18 4h0m37-5h0m9 7h0m1-1h0m30-4h0m3 1h0m22 4h0m2-3h0m5-1h0m7-2h0m2 3h0m14-4h0m17 5h0m11 1h0m11-6h0m5 7h0m10-2h0m20-1h0m8-4h0m18 2h0m43 2h0m-371 5h0m45 6h0m24-6h0m13 3h0m2 0h0m26-3h0m6 4h0m21-5h0m5 0h0m8 1h0m3 3h0m9 2h0m7 1h0m3-1h0m7 1h0m18-4h0m5-3h0m19 5h0m4-3h0m5 5h0m6-7h0m3 6h0m2-2h0m9-1h0m4 1h0m0-2h0m7 0h0m22 3h0m3-5h0m1 7h0m0 0h0m6-6h0m9 3h0m22-1h0m6-3h0m21 0h0m8 2h0m6 1h0m1 3h0m9-6h0m-402 11h0m44 4h0m48-7h0m27 2h0m25-2h0m6 0h0m24 2h0m79 0h0m11 1h0m10-2h0m10 6h0m2-1h0m2-3h0m8 2h0m1-2h0m22-1h0m8-2h0m16 1h0m37 2h0m5-1h0m13 2h0m7-1h0m-298 9h0m1 0h0m54-2h0m45 0h0m6 0h0m33 4h0m9-5h0m2 5h0m3 0h0m3-1h0m18-4h0m54 4h0m6-4h0m35 1h0m13 2h0m8 1h0m-337 3h0m21 1h0m81-1h0m4 1h0m47 3h0m4-4h0m7 1h0m18-1h0m6 2h0m14 0h0m24 3h0m30-1h0m55 2h0m68-4h0m-385 8h0m16 2h0m45-2h0m49 2h0m34 3h0m60-6h0m21 6h0m21-4h0m58 2h0m15-2h0m8-2h0m19 6h0m10 0h0m1-6h0m7 1h0m-349 6h0m48 4h0m27 3h0m105-1h0m28-1h0m7-3h0m2 3h0m18-4h0m38 4h0m1 0h0m5-4h0m68 5h0m-164 6h0m10 3h0m5-4h0m13 3h0m4 1h0m5-6h0m8 5h0m17-4h0m14-1h0m1 5h0m1-4h0m8 3h0m9-5h0m42 7h0m2-6h0m-384 9h0m56 4h0m107 0h0m27-2h0m25 2h0m11 1h0m1-4h0m21 1h0m5 2h0m10-2h0m19-1h0m44-1h0m20 4h0m-230 2h0m172 6h0m32-6h0m3 7h0m6-2h0m5 2h0m12-7h0m22 6h0m-205 5h0m90 3h0m13-1h0m79-3h0m12-2h0m10 6h0m16-3h0m-288 7h0m191 2h0m8-2h0m6-2h0m20 0h0m14 2h0m6-2h0m4 5h0m5-5h0m2 1h0m5 4h0m-215 3h0m100 0h0m22 0h0m39 1h0m19 1h0m55-1h0m-131 9h0m7-1h0m28 0h0m5 3h0m3 2h0m4-3h0m22 0h0m5 2h0m11-3h0m4 1h0m20-2h0m14 5h0m33-3h0m27 4h0m-208 8h0m43-1h0m5-2h0m45 0h0m11 1h0m35-2h0m1-1h0m19-2h0m20 5h0m-109 10h0m14-7h0m51 1h0m80 5h0m-192 8h0m23-2h0m12 0h0m37 1h0m12-5h0m-114 9h0m56 4h0m16-5h0m13 3h0m17 2h0m5 2h0m23-2h0m8-4h0m6 6h0m8-1h0m23-2h0m29-1h0m-135 11h0m26-4h0m8 4h0m4 0h0m23-2h0m-87 6h0m26 5h0m15-7h0m37 4h0m54 1h0m-125 9h0m12 1h0m14-3h0m1-4h0m4 2h0m14 3h0m4-2h0m25-3h0m53 0h0m-189 15h0m91 0h0m0-1h0m11 0h0m0-4h0m8 5h0m5-1h0m27-5h0m6 1h0m49 5h0m30-2h0m-145 9h0m24 0h0m19-2h0m2-4h0m19 6h0m7-4h0m47 4h0m-128 5h0m17 1h0m18-1h0m1 1h0m5-4h0m46 4h0m1-2h0m7 2h0m48-1h0m-162 12h0m15-5h0m14 4h0m4-4h0m32 0h0m10 4h0m9-4h0m4 4h0m3 0h0m6 0h0m26-1h0m-116 4h0m20 4h0m24-4h0m8-1h0m1 3h0m10 2h0m2-3h0m-23 11h0m3 0h0m3 0h0m5-4h0m7 0h0m42 2h0m-138 9h0m8 0h0m100-3h0m19 5h0m19-1h0m3 2h0m10-7h0m20 3h0m-112 7h0m6 2h0m7-3h0m62 5h0m-118 5h0m41 1h0m53-4h0m14 1h0m1 0h0m-146 11h0m67 1h0m48 2h0m10-5h0m86 5h0m-177 1h0m56 2h0m13 1h0m-77 12h0m75-4h0m76 0h0m28-1h0m-154 16h0m4 0h0m27-2h0m45 4h0m72 2h0m-190 14h0m49-2h0m2-1h0m60 2h0m25 3h0m11-4h0m19-1h0m-38 13h0m2-3h0m-24 11h0m7 1h0m48-3h0m-144 9h0m50 1h0m-34 5h0m56 4h0m73-2h0m-104 3h0m21 7h0m4-5h0m31 3h0m-62 10h0m-90 8h0m153-2h0m-127 12h0m29 2h0m85 4h0m-78 6h0m55 1h0m39 6h0m-23 17h0m-54 8h0"/>
<path stroke="#fa8a68" stroke-opacity="0.5" stroke-width="5.4" d="M854 539h0m-17 7h0m40-1h0m76 2h0m-21 9h0m145 9h0m-167 4h0m26 5h0m15-6h0m1 5h0m21 0h0m36-3h0m53-2h0m8 4h0m-174 10h0m96-6h0m-60 10h0m16-1h0m88-1h0m9 1h0m-188 8h0m36-1h0m79 5h0m5 1h0m1-6h0m30 2h0m4 3h0m12-3h0m91 2h0m-210 5h0m14 1h0m81 4h0m13 1h0m5-5h0m27 0h0m32 2h0m7-2h0m-273 7h0m21 4h0m85 1h0m33-1h0m21 1h0m6-4h0m60 0h0m27-2h0m8 3h0m31-1h0m-227 12h0m69 0h0m36 0h0m52-2h0m9-1h0m7 4h0m4-7h0m20 5h0m77-5h0m-317 11h0m149 4h0m15-5h0m47 4h0m0-4h0m28 2h0m14-1h0m96-2h0m8 6h0m-204 1h0m41 5h0m26 1h0m39-5h0m46 5h0m-194 4h0m34 0h0m14 0h0m6 0h0m14-2h0m3 5h0m17-4h0m22-1h0m8 0h0m18 0h0m2 0h0m39 5h0m2 0h0m4 1h0m14-5h0m20 3h0m52 2h0m-310 3h0m18 4h0m22-2h0m57 1h0m3 2h0m4-4h0m12 3h0m1-1h0m1 3h0m15-3h0m18-3h0m7 0h0m4 3h0m24-3h0m43 1h0m7 4h0m10-5h0m32 5h0m24-2h0m10-2h0m-315 11h0m1-1h0m30-4h0m57 3h0m9-1h0m1 3h0m5-3h0m16 4h0m26 1h0m64-2h0m1 1h0m5-5h0m16 2h0m28-3h0m57 4h0m4-1h0m-381 5h0m68 7h0m59-5h0m54 0h0m111 4h0m25-6h0m17 7h0m33 0h0m40-4h0m-460 11h0m135-1h0m8 2h0m86 0h0m4-2h0m7-3h0m5 4h0m11-3h0m18 4h0m1-7h0m2 2h0m17 5h0m16-4h0m2-1h0m0-1h0m20 3h0m16-4h0m20 7h0m13-1h0m29-1h0m1 0h0m-336 8h0m90 0h0m48-3h0m28 2h0m17-1h0m1 2h0m13-1h0m9-2h0m6 1h0m15 0h0m36 3h0m6-5h0m2 5h0m3-5h0m17-1h0m8 4h0m-309 8h0m27-1h0m1 4h0m55-7h0m32 2h0m11 0h0m48 2h0m4-2h0m6 3h0m3 2h0m9-7h0m16 2h0m2 1h0m27-3h0m9 3h0m1 2h0m10-1h0m21 1h0m28-1h0m24 3h0m45-6h0m33 2h0m-399 12h0m90-6h0m3 5h0m22 1h0m15 0h0m7-3h0m3 0h0m20-1h0m7 2h0m15-1h0m9-1h0m1-2h0m11 1h0m9-1h0m6 1h0m14-1h0m26 5h0m3-2h0m5-2h0m9-1h0m3 5h0m14-5h0m4 1h0m10 0h0m17 3h0m31-3h0m26 2h0m2 3h0m23-6h0m-417 8h0m29 1h0m5 1h0m4 1h0m59 0h0m28 2h0m0-6h0m6 7h0m10-7h0m6 2h0m4-2h0m14 1h0m4-1h0m9 6h0m15-5h0m18 0h0m3 1h0m2 1h0m1-2h0m11 5h0m17 0h0m3 1h0m33-3h0m4 2h0m31-6h0m41 4h0m48 2h0m20-6h0m5 4h0m-401 10h0m11-6h0m19 1h0m47 6h0m53-6h0m2 1h0m3-2h0m7 3h0m10-1h0m2 2h0m52-4h0m5 1h0m18 4h0m5-4h0m0 6h0m2-2h0m3-1h0m23-3h0m52 0h0m68 3h0m-339 6h0m13 1h0m1 1h0m5-1h0m4 1h0m4 2h0m14-3h0m8-2h0m1 2h0m16 4h0m9-5h0m3 3h0m9 2h0m6 0h0m1-1h0m4 1h0m3-2h0m9 0h0m23 1h0m9-3h0m11-3h0m4 3h0m27-3h0m2 3h0m4 3h0m11 0h0m14 1h0m-227 6h0m61-4h0m18 3h0m4-1h0m40-2h0m5 4h0m3 1h0m10-1h0m7-3h0m46-2h0m16 0h0m34 4h0m23 3h0m56-3h0m1-2h0m4 5h0m-289 8h0m7-1h0m4-3h0m48 4h0m31-4h0m4 4h0m8-2h0m4 1h0m4-2h0m23-1h0m7-1h0m6 1h0m6-2h0m21 6h0m30-3h0m30 0h0m25 1h0m21 1h0m-286 2h0m75 0h0m7 5h0m6-1h0m12-4h0m29 3h0m24 2h0m7 0h0m2 2h0m5-4h0m14-2h0m20 4h0m12-5h0m22 7h0m19-3h0m-263 7h0m0 4h0m69-7h0m1 3h0m7 2h0m0-3h0m10 5h0m38-6h0m26 4h0m1-2h0m132-2h0m8 0h0m-303 7h0m64 3h0m1 2h0m15 0h0m7 2h0m7-2h0m18-1h0m15 1h0m26 0h0m23-5h0m5 2h0m20 1h0m7-2h0m8 0h0m-247 11h0m95-3h0m6 6h0m46-3h0m47 1h0m14-4h0m-207 13h0m9-5h0m54 3h0m11 2h0m6-4h0m2 4h0m10-5h0m9 1h0m8 0h0m6 0h0m18-2h0m39 7h0m37-2h0m12-1h0m8 3h0m24-1h0m44-5h0m-294 8h0m4 5h0m33 0h0m31-2h0m10 3h0m5-7h0m15 3h0m7 4h0m32-7h0m18 6h0m61-5h0m3 3h0m4-3h0m6 2h0m6-2h0m-233 12h0m16 2h0m43-4h0m48 4h0m1-6h0m23 3h0m6-3h0m13 5h0m7-2h0m10 1h0m14-3h0m49 5h0m11-2h0m51-3h0m1-1h0m6 4h0m16-2h0m-302 12h0m43-7h0m14 0h0m18 0h0m0 5h0m13-1h0m5 2h0m2-6h0m4 5h0m4-3h0m10 2h0m22 1h0m9-2h0m0-3h0m8 2h0m19 5h0m38-1h0m15-3h0m19 1h0m6-1h0m0-2h0m39 3h0m-316 5h0m23 3h0m16-3h0m85 4h0m14 2h0m1-1h0m2 0h0m28-1h0m43-4h0m2 5h0m5-2h0m42 2h0m0-2h0m13-1h0m22 3h0m-340 8h0m67-1h0m5 1h0m35-2h0m13 1h0m1 2h0m16-3h0m27 2h0m14 0h0m23-4h0m6-1h0m7 2h0m24-2h0m2 6h0m10-6h0m5 3h0m18 1h0m69 2h0m0-7h0m66 1h0m36 2h0m-350 6h0m18 2h0m6-2h0m26 5h0m33 1h0m8-7h0m5 1h0m20 1h0m8 3h0m9-1h0m10 2h0m2-5h0m3 3h0m90-1h0m2 3h0m23-1h0m-260 7h0m11-3h0m29 1h0m6 3h0m12 0h0m5 2h0m9 0h0m6-3h0m1 2h0m5-4h0m2 5h0m11-7h0m13 2h0m13 4h0m4-1h0m5 2h0m3-1h0m10-4h0m13-1h0m14 4h0m4 2h0m28-4h0m-260 5h0m29 2h0m13-2h0m7 7h0m55-4h0m5-3h0m32 5h0m14-5h0m23 4h0m1-2h0m22 1h0m6-1h0m18-2h0m10 4h0m13 1h0m1-3h0m56 5h0m17-4h0m82-2h0m-418 7h0m22 5h0m49 0h0m96-2h0m38 1h0m52 0h0m2-3h0m0 5h0m37-6h0m26 4h0m7-4h0m5 5h0m32-3h0m-366 10h0m46-1h0m10 0h0m34-2h0m20 2h0m15 0h0m20 1h0m8 1h0m15 1h0m25 1h0m9-4h0m19 1h0m10 2h0m34-5h0m1 4h0m3-2h0m1 3h0m38-3h0m40 3h0m3-2h0m18-1h0m-366 5h0m95 2h0m17 2h0m5 0h0m6-4h0m2 1h0m10 2h0m4 4h0m21-5h0m32 4h0m7-2h0m36 0h0m0 3h0m46-7h0m32 4h0m-277 4h0m20 0h0m86 6h0m13-3h0m2 3h0m8-6h0m3 3h0m18 0h0m2-1h0m6 2h0m60-3h0m2-1h0m2 4h0m25-4h0m34 3h0m-304 9h0m5 1h0m62 2h0m1-5h0m1 5h0m0-7h0m9 6h0m10-2h0m2-4h0m4 4h0m31-1h0m0-2h0m1 4h0m5 2h0m0 0h0m6-4h0m5-1h0m17 4h0m6-2h0m19 0h0m16 3h0m5-5h0m2 3h0m15 1h0m24-5h0m72 6h0m42-2h0m-308 9h0m9 0h0m19-6h0m6 5h0m7 0h0m27-4h0m1 1h0m5-1h0m29 3h0m30-3h0m27 4h0m11-4h0m25-1h0m2 6h0m7-5h0m-248 7h0m10 4h0m51 2h0m40-2h0m2 2h0m7-5h0m0 5h0m27-5h0m39 4h0m11 0h0m14-5h0m4 0h0m22 4h0m16-2h0m3-1h0m9 1h0m11 3h0m57-4h0m14-1h0m-275 8h0m1 3h0m26 2h0m13 0h0m1-1h0m1 0h0m61-1h0m1-3h0m3 4h0m13-2h0m2 4h0m16 1h0m12-4h0m8 4h0m0-1h0m66-1h0m51-3h0m-251 8h0m14 4h0m11-4h0m10 3h0m5-1h0m50 0h0m6 1h0m14-4h0m21-1h0m5 5h0m8 2h0m115-6h0m-335 10h0m96-1h0m2 5h0m20-7h0m11 2h0m22 2h0m34 2h0m26 1h0m26-1h0m48 0h0m49-2h0m8-3h0m-214 12h0m126-2h0m6 1h0m1-4h0m3 3h0m-180 10h0m1-2h0m0 4h0m34-4h0m17 0h0m22 2h0m52 1h0m45 0h0m68-6h0m-204 14h0m12-6h0m11 2h0m-117 12h0m8-6h0m108 6h0m15-2h0m31 0h0m26 3h0m-166 4h0m45 0h0m7 10h0m17 0h0m85-4h0m19 1h0m37 3h0m35-2h0m-157 6h0m28 5h0m61-4h0m-198 8h0m18 2h0m30 3h0m11-3h0m21 2h0m56 0h0m175-5h0m-182 13h0m-2 7h0m-44 4h0m111 5h0m48-3h0m-155 12h0m26 0h0m-90 6h0m172 6h0m-146 6h0m90 0h0m35 6h0m-29 2h0m-4 10h0m-85 13h0m242 5h0m-173 4h0m17 6h0m28 3h0m0 25h0m-29 5h0"/>
<path stroke="#f54b27" stroke-opacity="0.45" stroke-width="5.4" d="M1047 615h0m-59 7h0m51-3h0m12 4h0m31-7h0m6 6h0m-13 2h0m3 7h0m24 0h0m-139 1h0m22 4h0m9-3h0m14-1h0m33 7h0m5-5h0m29 4h0m0-4h0m13 3h0m7-3h0m22 3h0m9-3h0m5 2h0m-174 8h0m22-1h0m25-1h0m5 0h0m40-1h0m12 6h0m13-1h0m28 1h0m3-4h0m1 3h0m13 1h0m-178 4h0m2 2h0m20-3h0m5 1h0m6 3h0m34 1h0m31-2h0m5 0h0m28-3h0m15 5h0m4-5h0m8 3h0m23-3h0m-237 12h0m49-3h0m54 3h0m4-3h0m8-2h0m19-1h0m9 4h0m1 0h0m50-2h0m7 1h0m8 1h0m1 1h0m9-1h0m4-4h0m7 2h0m2 2h0m0 0h0m9-2h0m3 1h0m19 3h0m2-1h0m9 2h0m-220 1h0m59 4h0m1-1h0m8 1h0m2 1h0m4 1h0m1-2h0m5 2h0m3-5h0m14-1h0m3 2h0m3 2h0m4 1h0m7-3h0m52 5h0m1-5h0m5-1h0m11 1h0m1 4h0m3-3h0m4 3h0m9-6h0m16 4h0m-260 9h0m16-5h0m1 4h0m8-2h0m10 5h0m25-6h0m4 1h0m1 0h0m1 3h0m8-5h0m3 5h0m9 1h0m14-2h0m13 0h0m2-4h0m6 2h0m6 3h0m1 1h0m5-2h0m5 2h0m21-4h0m8 2h0m5 1h0m12-4h0m9 4h0m2-1h0m1-1h0m2 3h0m9-5h0m2-1h0m26 0h0m1 5h0m-263 8h0m28 0h0m6 0h0m45-3h0m11-2h0m15 1h0m3 1h0m2 5h0m9-5h0m6 3h0m1-4h0m2-1h0m10 7h0m5-3h0m8 1h0m4 0h0m3-4h0m3 0h0m15 4h0m4-2h0m2 4h0m4-1h0m3 1h0m5-2h0m4-1h0m13-1h0m4 1h0m1-4h0m7 6h0m4 0h0m7-4h0m0 5h0m14-1h0m17-1h0m11 2h0m37-2h0m10 0h0m-307 7h0m2 0h0m9-2h0m4 5h0m43-5h0m1 3h0m1 0h0m2-4h0m12 2h0m11 2h0m4-2h0m4-2h0m14 5h0m3-4h0m12 3h0m10 0h0m5 1h0m16 1h0m0-5h0m13 3h0m1-2h0m0 3h0m2 1h0m13-5h0m0 1h0m1-3h0m4 7h0m18-7h0m21 3h0m2-3h0m15 6h0m3-4h0m12 4h0m13-1h0m10-2h0m20-2h0m30-1h0m-334 14h0m4-5h0m10 2h0m17-1h0m4-1h0m4-1h0m23 3h0m2 4h0m6-4h0m23-2h0m5 5h0m7-5h0m0 3h0m2 1h0m7 1h0m3 0h0m29 1h0m3-4h0m4 4h0m0-1h0m0-3h0m5-1h0m6 2h0m3 1h0m4-3h0m3 3h0m1 0h0m7 2h0m2-1h0m6-2h0m5 0h0m3-1h0m11 3h0m7-2h0m12-4h0m34 7h0m13-1h0m5-1h0m19 1h0m67-2h0m-392 5h0m44 0h0m23-1h0m38 5h0m3 2h0m9-7h0m5 2h0m7 1h0m1-3h0m5 1h0m4-1h0m0 7h0m1-2h0m4 1h0m5-4h0m4 1h0m7 0h0m2 0h0m2-2h0m3 0h0m1 2h0m1-1h0m0-1h0m2 1h0m3 3h0m0-4h0m1 3h0m1 1h0m1 0h0m0-3h0m1 2h0m0 1h0m1 1h0m5-6h0m9 6h0m0-3h0m1-3h0m2 0h0m2 0h0m7 5h0m0-4h0m9 1h0m8 5h0m13-6h0m0 0h0m3 2h0m0 1h0m1 1h0m3-3h0m0 3h0m3-2h0m3-1h0m13 4h0m1-4h0m1-2h0m12 3h0m5-3h0m23 6h0m5-5h0m6 2h0m12 1h0m3 0h0m-298 5h0m15 6h0m1-6h0m5 3h0m21 1h0m13 2h0m15-7h0m13 0h0m3 2h0m5 4h0m3-1h0m13 1h0m19 0h0m0 1h0m0-5h0m7-2h0m4 6h0m5 1h0m6-6h0m0 3h0m2-2h0m5-1h0m6 3h0m1 2h0m1-5h0m1-1h0m1 1h0m4 4h0m6-2h0m0-3h0m0 5h0m3-1h0m8 0h0m3-2h0m8-2h0m3 6h0m3-5h0m5-1h0m1 4h0m16 2h0m2-5h0m4 3h0m4 1h0m1-1h0m2 2h0m1-2h0m5-2h0m5-1h0m1 3h0m12-4h0m15 4h0m4 2h0m8-2h0m3 2h0m1-2h0m7 0h0m-238 7h0m1 4h0m3 0h0m2-1h0m13-5h0m0 1h0m4-1h0m2 1h0m3-2h0m5 1h0m18 4h0m1-1h0m5 0h0m1-4h0m4 2h0m3 4h0m5 1h0m0 0h0m1-5h0m1 2h0m2 0h0m3 1h0m0-5h0m1 7h0m5-2h0m0 1h0m8-1h0m1 2h0m2-6h0m2 2h0m6 4h0m6 0h0m2-6h0m2 3h0m11-1h0m1-3h0m2 7h0m0-2h0m7 2h0m11-6h0m4 3h0m5-1h0m2 1h0m9-1h0m1 4h0m1 0h0m6-1h0m3-4h0m2 3h0m6-3h0m2-1h0m16-1h0m1 4h0m41-3h0m3-1h0m5 6h0m9-2h0m5-2h0m-350 11h0m25-2h0m15 1h0m4 2h0m3-4h0m4 2h0m12 2h0m15-3h0m6 2h0m1-5h0m8 4h0m6 3h0m8-4h0m2-3h0m3 7h0m9-1h0m1 1h0m1-7h0m2 4h0m5 1h0m1-4h0m0 5h0m5 0h0m2-5h0m2 4h0m1 0h0m4-3h0m7 5h0m1-2h0m7-4h0m5-1h0m1 4h0m5 0h0m0-3h0m0 5h0m2-2h0m2 2h0m3-6h0m5 3h0m9 1h0m1 0h0m0-1h0m2-3h0m3 3h0m1 2h0m2-4h0m5 6h0m0-5h0m10 4h0m3-2h0m5-3h0m1 4h0m1-2h0m0 3h0m4 1h0m7-2h0m4 1h0m6-5h0m9 0h0m0 3h0m5 3h0m27 0h0m4-2h0m8-3h0m2 2h0m4 1h0m8 2h0m3-3h0m21 2h0m6-1h0m19 0h0m-366 6h0m29 3h0m7-6h0m2 1h0m14 4h0m6-1h0m2-2h0m7 0h0m5 2h0m4-3h0m3 4h0m9 1h0m9 0h0m5 1h0m1-5h0m5 2h0m19 2h0m6-2h0m2 1h0m3 1h0m3-4h0m4 2h0m3-4h0m2 4h0m3-4h0m0 4h0m1-4h0m2 2h0m1 1h0m3 3h0m2-1h0m0-5h0m4 2h0m7-2h0m3 3h0m4 3h0m5-1h0m9-3h0m8-1h0m4 3h0m1-4h0m0 3h0m1 2h0m1-2h0m3 2h0m4 2h0m2 0h0m1-5h0m4 2h0m0-3h0m1-1h0m1 3h0m8 3h0m2 1h0m11-5h0m9 1h0m2 0h0m2 3h0m3 1h0m4-5h0m3 0h0m1 5h0m10-6h0m4 4h0m4-3h0m4 1h0m8 4h0m3-1h0m7-2h0m3 3h0m5 0h0m21-5h0m-324 12h0m7-2h0m9 0h0m23 1h0m1-3h0m8 4h0m6-5h0m5 4h0m9-3h0m26 3h0m9-2h0m4 4h0m2-1h0m3 1h0m3-4h0m1 2h0m2-2h0m5-2h0m1 2h0m5 4h0m2-1h0m1 1h0m2-6h0m7 3h0m0-4h0m3 3h0m0 3h0m1 1h0m4-5h0m2-2h0m3 7h0m3 0h0m7 0h0m2 0h0m4-3h0m6-4h0m1 4h0m0-4h0m2 4h0m2-4h0m2 2h0m2-2h0m2 7h0m1-1h0m1 1h0m1-3h0m12-2h0m1 5h0m2-3h0m2 0h0m6 2h0m6-6h0m1 1h0m0 2h0m2 1h0m0-4h0m11 3h0m1-1h0m2-1h0m2 5h0m4-6h0m0 4h0m4-3h0m10-1h0m3 5h0m1-1h0m2 0h0m3-4h0m6 6h0m1 1h0m3-2h0m7-3h0m3-2h0m0 2h0m19 1h0m3 2h0m14-5h0m6 1h0m-333 14h0m17-4h0m3 4h0m14-3h0m2 0h0m1-3h0m2 1h0m1 3h0m5-2h0m2 0h0m8-1h0m6 5h0m0-4h0m7 4h0m5-2h0m1 2h0m7-3h0m12 2h0m0-1h0m1 2h0m4 0h0m2-4h0m2 3h0m3-4h0m1 4h0m0-5h0m6 6h0m1-6h0m3 3h0m6-4h0m1 3h0m1-1h0m3 0h0m6 1h0m2 1h0m1 3h0m6-5h0m4-1h0m3 2h0m4 3h0m2-3h0m1-1h0m1 3h0m7 0h0m1-3h0m7 4h0m1 0h0m0-4h0m2 0h0m0-2h0m1 5h0m0-4h0m2 2h0m0-2h0m2 1h0m4 3h0m1-5h0m3 0h0m2 2h0m2 1h0m7-3h0m0 2h0m3 0h0m1 4h0m4 0h0m0-2h0m2-2h0m0-1h0m1 6h0m0 0h0m1-6h0m0 0h0m3 3h0m21-1h0m1 4h0m0 0h0m4-6h0m5 5h0m3-1h0m22 2h0m14 0h0m9-7h0m5 4h0m1 2h0m4-5h0m0 1h0m26 1h0m23 1h0m-332 6h0m12 3h0m1 0h0m1 1h0m3-5h0m1 1h0m7-2h0m10 5h0m3-2h0m0 0h0m7 4h0m1-6h0m5-1h0m6 3h0m1-1h0m3 5h0m2-7h0m3 4h0m2-4h0m3 0h0m1 0h0m5 7h0m4 0h0m1-7h0m1 7h0m0 0h0m3-6h0m1 6h0m0-2h0m1-3h0m1 4h0m0-1h0m5-1h0m0 3h0m4 0h0m4 0h0m2-4h0m10-1h0m2 5h0m0-5h0m1 1h0m6 1h0m2-2h0m6-2h0m8 3h0m1-2h0m1 2h0m1 1h0m0-4h0m2 5h0m0-3h0m2 1h0m2 3h0m1-2h0m8 2h0m1-2h0m13 1h0m3 0h0m1-1h0m1-3h0m1-1h0m0 1h0m2 5h0m0-2h0m1-2h0m7 4h0m2-1h0m0-3h0m1 2h0m6-3h0m1 0h0m4 4h0m4 2h0m0-1h0m1-6h0m0 7h0m2-3h0m1 2h0m4-2h0m3 1h0m2-1h0m2 0h0m8-2h0m2 3h0m3-4h0m5 4h0m1-1h0m9-3h0m6 0h0m9 6h0m3-4h0m14-3h0m24 7h0m3-1h0m-348 6h0m71-4h0m19 1h0m7-1h0m6 1h0m3 0h0m1 5h0m8 1h0m0-5h0m0 4h0m4-5h0m2 6h0m5-7h0m0 5h0m6-3h0m4 0h0m5-1h0m3 4h0m1 2h0m2-3h0m1-4h0m2 6h0m2-6h0m3 3h0m1-2h0m1-1h0m0 4h0m1-4h0m0 5h0m3-1h0m1-1h0m1 1h0m2-4h0m3 7h0m6-2h0m1-1h0m1 0h0m1 2h0m0 0h0m3-5h0m2 4h0m2-5h0m1 2h0m2-1h0m2-1h0m1 4h0m1-3h0m3-1h0m1 5h0m4 1h0m4-3h0m3 0h0m4-2h0m1 2h0m0 0h0m2 3h0m0 0h0m3-1h0m0-1h0m3 0h0m1 2h0m0 0h0m1-3h0m2 3h0m3-3h0m2 1h0m0-2h0m4 5h0m1-6h0m5 5h0m0-4h0m6 2h0m1-2h0m5 3h0m0-5h0m1 2h0m4 5h0m7 0h0m4 0h0m0-6h0m2 5h0m1-4h0m0 4h0m6-1h0m0-2h0m3-1h0m2 5h0m0 0h0m0-4h0m9 2h0m1-1h0m4-2h0m13-2h0m0 3h0m10 1h0m8-1h0m13 3h0m6-2h0m46 3h0m-344 3h0m3 0h0m15 4h0m5-1h0m4-3h0m2 0h0m14-1h0m3 2h0m5-1h0m6 3h0m2 0h0m4-2h0m1-3h0m3 5h0m6-3h0m2-2h0m1 3h0m0-1h0m1-2h0m2 2h0m5 2h0m3 2h0m1-4h0m3 1h0m3 1h0m1-1h0m0-3h0m2 6h0m1 1h0m3-6h0m4 6h0m2-2h0m1-1h0m2-1h0m4 3h0m0-3h0m0-2h0m1 5h0m1 0h0m0-5h0m1 2h0m1 4h0m2-4h0m1 1h0m0-3h0m2 3h0m2-3h0m1 5h0m1-3h0m2-1h0m1 3h0m1 2h0m1-7h0m3 2h0m2 1h0m1-3h0m0 4h0m4-3h0m2 2h0m0 1h0m0-1h0m3-1h0m0 1h0m2 3h0m0-5h0m1 1h0m1 5h0m3-1h0m0-5h0m1 3h0m2-2h0m0 3h0m4-2h0m8-3h0m1 0h0m4 0h0m2 4h0m7-4h0m1 5h0m2 0h0m2 1h0m5-1h0m1-1h0m0 1h0m0-2h0m1-1h0m5 5h0m0-2h0m14 2h0m1 0h0m0-5h0m1 5h0m6-6h0m3 6h0m1-7h0m4 7h0m1-7h0m3 6h0m2-3h0m7 1h0m3-3h0m0 2h0m33-3h0m6 0h0m1 4h0m0 2h0m9-4h0m14-2h0m-362 14h0m25-4h0m13 4h0m5-2h0m23-2h0m8 2h0m3-2h0m4-2h0m4 7h0m1-7h0m8 3h0m1-1h0m1 2h0m3-4h0m0 3h0m4 1h0m1 0h0m2-4h0m1 7h0m3-2h0m1-5h0m5 3h0m2 0h0m1 4h0m1-1h0m1-6h0m1 2h0m4-1h0m1 1h0m3-1h0m0 4h0m1 2h0m3-6h0m6 4h0m1 2h0m7-4h0m2-1h0m2 4h0m1-2h0m2 0h0m0 2h0m3-1h0m0 0h0m0-4h0m2 3h0m5-1h0m3-3h0m2 4h0m0-2h0m2-2h0m0 3h0m1 0h0m2 3h0m2 0h0m0-4h0m0 5h0m1-5h0m2 2h0m4 2h0m3-6h0m3 7h0m4 0h0m1-6h0m4 5h0m3-1h0m4-3h0m0 5h0m0-1h0m3 0h0m1-4h0m3 3h0m1-3h0m2 4h0m1-6h0m2 0h0m2 6h0m2-3h0m1 3h0m1 1h0m0-6h0m1 3h0m1-3h0m1 2h0m2 2h0m1-5h0m2 3h0m4-1h0m1 4h0m2-3h0m0-1h0m5 4h0m0 1h0m1-4h0m4-3h0m0 0h0m3 4h0m1 1h0m6-3h0m4 2h0m2-4h0m1 1h0m4 6h0m2-6h0m13 2h0m2 3h0m3 1h0m2-4h0m3-1h0m3 1h0m0-2h0m2 0h0m17 5h0m4 1h0m8-4h0m46 1h0m6 3h0m-333 8h0m1-6h0m21 3h0m1 1h0m6 2h0m1-7h0m6 4h0m12-2h0m5 2h0m2 0h0m3-4h0m1 5h0m0-3h0m2 2h0m7 3h0m2-4h0m3 1h0m1 1h0m1-1h0m0-2h0m1 1h0m1-1h0m0-2h0m1 2h0m8 2h0m0 2h0m0 1h0m1-1h0m2-4h0m2 4h0m3-4h0m2 4h0m1-5h0m0 5h0m4-2h0m1 3h0m2-4h0m1 4h0m3-4h0m4-3h0m2 1h0m1 3h0m2-3h0m2-1h0m1 6h0m1 0h0m1 1h0m0-6h0m2 3h0m4 2h0m3-5h0m1 2h0m1-1h0m1 5h0m2-2h0m2 2h0m3-5h0m0-1h0m1 4h0m2 0h0m3 0h0m2 2h0m1-1h0m2 1h0m0-6h0m0 1h0m1 5h0m1-3h0m5-2h0m1 1h0m3-1h0m2-2h0m2 1h0m5 5h0m2-6h0m0 4h0m4-1h0m3-3h0m3 5h0m0-1h0m1-2h0m5 1h0m1 2h0m2 1h0m2-4h0m2-2h0m2 1h0m3 2h0m1 4h0m4-4h0m1 4h0m2-2h0m2-4h0m4-1h0m0 5h0m1-5h0m1 4h0m12 0h0m0 3h0m1 0h0m3-3h0m2-4h0m7 2h0m5 2h0m1 1h0m3-5h0m3 2h0m11-2h0m1 5h0m0 0h0m3-2h0m7 2h0m7-2h0m11 0h0m1 0h0m1 0h0m10 0h0m26 1h0m12 3h0m8 0h0m-383 5h0m4 0h0m6-2h0m1 2h0m14-4h0m2 4h0m12 2h0m4-4h0m1 1h0m10-3h0m2 0h0m6 4h0m4 2h0m5 1h0m5-6h0m3 5h0m0-1h0m11 2h0m0-7h0m1 1h0m0-1h0m1 3h0m2 1h0m3-4h0m3 4h0m1-4h0m4 6h0m6-1h0m2 2h0m8-6h0m3 4h0m4 0h0m0 0h0m1 0h0m1-4h0m5 6h0m2-3h0m0-2h0m0 3h0m1 2h0m2-4h0m1 4h0m2-6h0m0 5h0m2-4h0m0 2h0m2 0h0m0 3h0m5-7h0m1 4h0m1-4h0m1 7h0m1-2h0m3 2h0m1-2h0m0 2h0m3-4h0m1 3h0m5-3h0m0-2h0m0 4h0m7 0h0m1 1h0m2-3h0m1 0h0m1 0h0m0 4h0m1-2h0m3-1h0m2 0h0m0 2h0m2-2h0m0-4h0m0 1h0m0-1h0m1 4h0m0-3h0m2-1h0m0 3h0m1-1h0m3 1h0m1-3h0m0 6h0m6-5h0m0 0h0m2 3h0m1 3h0m0 0h0m1-3h0m1-1h0m1 1h0m0 2h0m1-2h0m1 1h0m0-5h0m3 7h0m0-2h0m2-2h0m0-3h0m3 5h0m0-3h0m1 5h0m1-7h0m1 3h0m1-3h0m2 4h0m1-4h0m1 2h0m2 4h0m0-1h0m2-1h0m1-4h0m4 4h0m4-3h0m5 6h0m5-3h0m0 0h0m3-4h0m5 4h0m2-1h0m2-3h0m4 3h0m5-1h0m2 5h0m1-6h0m3 6h0m4 0h0m6-4h0m3 3h0m2-2h0m1-4h0m1 4h0m1 3h0m2 0h0m14-3h0m17 1h0m4-1h0m20-4h0m22 6h0m10-6h0m-367 13h0m14-1h0m9 0h0m10-1h0m4-3h0m5 5h0m3-1h0m1-3h0m0 5h0m1-6h0m4 5h0m9-2h0m4 2h0m1 2h0m2-2h0m4-1h0m0 3h0m13-6h0m2 5h0m2-3h0m0-2h0m3-1h0m4 7h0m1-5h0m2-2h0m1 4h0m2-3h0m3 1h0m1 1h0m0 4h0m1-7h0m2 1h0m1-1h0m2 6h0m2-4h0m0 5h0m3-5h0m1 0h0m0 1h0m1 2h0m0 1h0m2-2h0m1 3h0m1-2h0m0-4h0m1 1h0m2-1h0m3 5h0m4-2h0m0-1h0m3 2h0m3 1h0m1-6h0m1 4h0m0 0h0m2-4h0m2 5h0m3-1h0m4 2h0m1 1h0m0-4h0m0 4h0m2-6h0m1 5h0m0-6h0m5 0h0m1 2h0m2 5h0m0-3h0m2-4h0m2 6h0m0 0h0m0-5h0m8-1h0m2 6h0m0 0h0m1 0h0m1 0h0m1-3h0m1 4h0m1-3h0m1 0h0m1 3h0m1-2h0m2 2h0m8-6h0m1 0h0m1-1h0m4 7h0m6-5h0m5-1h0m2 5h0m1 1h0m1-6h0m1 2h0m0 4h0m8-2h0m5 0h0m0-2h0m2-2h0m1 4h0m3-5h0m2 5h0m2 1h0m0-2h0m0-1h0m1-2h0m1 2h0m3-2h0m4 5h0m8-4h0m0-2h0m4 1h0m4 5h0m4-3h0m1 3h0m9-6h0m8 2h0m4-2h0m0 6h0m2 0h0m3-1h0m18-1h0m3 1h0m6-5h0m13 6h0m6-3h0m16 1h0m-374 8h0m15-1h0m19 0h0m11 3h0m10-4h0m0 1h0m4 4h0m1-6h0m7 2h0m7-2h0m7 0h0m4-1h0m8 4h0m1 3h0m7-2h0m2 0h0m1-4h0m0 2h0m2 2h0m1 0h0m6-2h0m2 0h0m0-3h0m3 7h0m4-2h0m2-3h0m9 5h0m1-7h0m1 3h0m2-1h0m2 5h0m2-3h0m5 3h0m7-1h0m0-1h0m2 0h0m0-3h0m0 5h0m1-7h0m2 0h0m0 1h0m1-1h0m4 3h0m0 0h0m1 1h0m2-4h0m4 5h0m3-5h0m1 6h0m0-4h0m1 4h0m0-6h0m0 3h0m4 0h0m0-2h0m1 4h0m2-1h0m1 3h0m1-2h0m3 2h0m3-2h0m3-3h0m1 2h0m1 0h0m1-2h0m5 1h0m1 3h0m1-6h0m0 4h0m1 3h0m0-3h0m1-4h0m0 1h0m5 0h0m0 6h0m7 0h0m1-4h0m3-3h0m1 1h0m2 1h0m1-1h0m0 2h0m2 2h0m1 0h0m1 2h0m3-6h0m3 3h0m1-1h0m3 3h0m3-4h0m2-1h0m3 2h0m1-3h0m1 6h0m3-2h0m2 3h0m0-2h0m3-4h0m1 0h0m2-1h0m0 6h0m1-4h0m2-2h0m9 5h0m5-5h0m1 7h0m5 0h0m4-6h0m8 5h0m3-5h0m3 3h0m0-4h0m4 5h0m6 1h0m6-1h0m14-1h0m24 0h0m24 0h0m7 2h0m-381 7h0m22 2h0m16-1h0m10-3h0m5 0h0m5-3h0m2 2h0m1 3h0m7-5h0m2 3h0m3 3h0m12 0h0m1 1h0m0-1h0m0 1h0m3-4h0m1-2h0m4 6h0m2-2h0m2-2h0m1-2h0m2 1h0m0 0h0m2 4h0m11 1h0m2-3h0m1-3h0m2 2h0m0 0h0m6 1h0m3 3h0m1 0h0m2-1h0m1-2h0m2 3h0m1-5h0m1 5h0m3-4h0m2-1h0m2 3h0m1 0h0m0 2h0m4-7h0m5 7h0m2 0h0m0-6h0m0 3h0m3 3h0m1-6h0m0 0h0m2 6h0m1-5h0m0 1h0m1-2h0m3-1h0m1 6h0m5-2h0m1 0h0m2 1h0m1-5h0m1 0h0m1 7h0m2-5h0m0 1h0m0 0h0m1 3h0m2-5h0m0 5h0m1-5h0m1 6h0m1-4h0m1 1h0m1-4h0m2 1h0m0-1h0m1 4h0m2-2h0m1 5h0m1-5h0m0 1h0m0 3h0m2 0h0m0-6h0m1 2h0m2 0h0m3-2h0m2 2h0m5 1h0m4 4h0m2-3h0m1-4h0m3 0h0m0 7h0m1-3h0m0 2h0m2 0h0m1-1h0m0 0h0m2-5h0m0 7h0m1-4h0m1 2h0m1 0h0m3 0h0m8-2h0m0 4h0m1-6h0m4 0h0m2-1h0m1 4h0m5 0h0m2 1h0m0-2h0m1 2h0m3 2h0m3-3h0m4-3h0m6 5h0m2 0h0m3-6h0m2 6h0m5 0h0m2 0h0m2-6h0m19 3h0m12-2h0m57 0h0m-400 8h0m30-1h0m12 4h0m1 0h0m14 0h0m2 1h0m6-1h0m2 3h0m2-2h0m23 0h0m0-1h0m2 1h0m3-1h0m5-1h0m5 3h0m0-3h0m0-3h0m7 6h0m0-1h0m1-1h0m0-2h0m4 1h0m1 3h0m3-5h0m0 4h0m5-4h0m5 3h0m3 1h0m2 1h0m1-1h0m2 1h0m0-6h0m0 7h0m0-1h0m3 0h0m3-5h0m1 4h0m2-2h0m1 1h0m0 0h0m4-3h0m1 2h0m1-2h0m1 3h0m1 2h0m2-6h0m1 1h0m2 2h0m5-3h0m1 1h0m1 1h0m1 2h0m0-4h0m1 7h0m1-3h0m2-3h0m1 2h0m1 1h0m0-4h0m2 7h0m1 0h0m0-4h0m1 3h0m1-2h0m0 2h0m5 0h0m1-5h0m2 3h0m1 3h0m0-5h0m1 3h0m0-1h0m0-2h0m2 0h0m7 5h0m2 0h0m1-4h0m4 3h0m0 1h0m9-2h0m1 2h0m0-2h0m1 2h0m0-1h0m3 1h0m1-5h0m1 2h0m2-1h0m4-2h0m0 5h0m0-5h0m4-1h0m0 1h0m0 4h0m4-1h0m1-3h0m2 3h0m0 1h0m0-4h0m2 0h0m0 5h0m0-6h0m7 7h0m1 0h0m1-7h0m3 2h0m6 5h0m1 0h0m0-2h0m11 0h0m1-3h0m1 5h0m11-2h0m2 0h0m4-2h0m0 1h0m1-3h0m2 2h0m0-3h0m10 2h0m9 5h0m22-3h0m6-2h0m3 2h0m0 3h0m8-2h0m2 2h0m1-5h0m16-1h0m2 5h0m3-1h0m7-5h0m9 0h0m-398 10h0m24-1h0m12 6h0m4-6h0m7 5h0m5-2h0m1-2h0m13-1h0m26 2h0m1 2h0m1-2h0m9 3h0m5-4h0m2 0h0m1 0h0m2 4h0m6-5h0m2 2h0m0-1h0m2 4h0m1-5h0m0 6h0m1-1h0m4 0h0m2-2h0m1 3h0m3-3h0m4 2h0m3-6h0m0 1h0m3 6h0m1-7h0m2 5h0m1-4h0m2 6h0m0-4h0m3 4h0m5 0h0m11-2h0m2-5h0m2 6h0m0-4h0m3 3h0m0 2h0m1-4h0m0-3h0m1 4h0m4-1h0m2 4h0m1-4h0m3 1h0m1 2h0m1-6h0m2 0h0m1 7h0m0-6h0m1-1h0m1 5h0m2 2h0m2-4h0m5 0h0m3 1h0m1 0h0m1-4h0m0 7h0m0-3h0m0 2h0m3 0h0m0-3h0m2-2h0m1 5h0m1 1h0m1-1h0m1-1h0m1 2h0m4-3h0m1 1h0m1-3h0m1 0h0m2-1h0m0-1h0m0 7h0m1-2h0m2-1h0m0 2h0m1-4h0m2 5h0m1-1h0m2-4h0m1 2h0m5-4h0m1 6h0m5-3h0m4 0h0m0-3h0m0 7h0m2-1h0m1-2h0m4 2h0m1-5h0m1 3h0m1-1h0m3 2h0m0-5h0m8 7h0m0-1h0m4-2h0m1 1h0m2-5h0m1 7h0m4-4h0m4 3h0m3-3h0m1 4h0m3 0h0m1-3h0m1-3h0m12 2h0m0-1h0m11 0h0m5 2h0m4-4h0m12 6h0m1-3h0m4-3h0m7 5h0m4-4h0m4 0h0m24 5h0m1-3h0m-360 9h0m6 0h0m16 0h0m9-1h0m15 3h0m6-2h0m5-1h0m13-3h0m0 6h0m3-4h0m1 4h0m1-5h0m4 3h0m1 3h0m0 0h0m1-5h0m7 4h0m0-1h0m1-4h0m1 4h0m0 2h0m2-1h0m4-5h0m7 3h0m1 1h0m1-5h0m1 3h0m1 2h0m3-1h0m4 2h0m2-1h0m5 0h0m1 1h0m2-2h0m1-2h0m1 5h0m0-7h0m3 4h0m3 1h0m1-2h0m8-2h0m2 0h0m1 4h0m1 1h0m0 0h0m1-1h0m0 0h0m1-3h0m2 0h0m1 4h0m1-3h0m1 3h0m4-2h0m5-1h0m1 1h0m1 0h0m1-2h0m2 4h0m0 0h0m0-3h0m2-1h0m0 2h0m4-1h0m0 4h0m2-2h0m1-4h0m2 0h0m0 6h0m1-5h0m3-2h0m1 7h0m4-7h0m0 2h0m1 3h0m0 2h0m0 0h0m1-7h0m1 7h0m0-2h0m0-3h0m2 4h0m1 1h0m1 0h0m1-6h0m0-1h0m2 6h0m0-6h0m2 6h0m0-1h0m2-3h0m2 3h0m3 0h0m1-1h0m0-2h0m0 4h0m7-4h0m4-1h0m4 1h0m0 5h0m1-5h0m0-1h0m1 3h0m0 1h0m0 1h0m1-1h0m0 0h0m0-4h0m5 3h0m3 0h0m4-2h0m1 5h0m7-3h0m3 3h0m1-4h0m0-3h0m3 2h0m1 4h0m2-1h0m5-5h0m2 2h0m2 2h0m4 1h0m6-2h0m2-3h0m2 5h0m3-5h0m10 4h0m0 0h0m1 3h0m0-1h0m5 0h0m4-6h0m2 7h0m5-5h0m29 0h0m21-1h0m5-1h0m-368 12h0m22-4h0m14 1h0m12 3h0m9-2h0m10-1h0m1 3h0m5 3h0m1-4h0m2 2h0m2 1h0m4-2h0m5-3h0m1 2h0m6 1h0m0-2h0m2-2h0m2 0h0m9 7h0m4-6h0m0 0h0m6 3h0m3-4h0m10 3h0m3 3h0m5-6h0m0 6h0m0 1h0m1-1h0m0-4h0m0-2h0m3 5h0m1 2h0m1-5h0m1-1h0m1 4h0m0-2h0m1-1h0m2 0h0m3 5h0m5-7h0m0 4h0m4 2h0m1-6h0m3 1h0m0 3h0m1 1h0m0-1h0m2-4h0m4 6h0m2-3h0m0-2h0m1 0h0m2 5h0m0-2h0m2 1h0m1-3h0m2 0h0m0 4h0m0-6h0m3 2h0m5 5h0m1-3h0m2-4h0m2 3h0m3 0h0m2-1h0m0 0h0m1 3h0m1-4h0m0 1h0m0 5h0m0-4h0m2 0h0m0 1h0m2-4h0m1 3h0m1 4h0m3-4h0m2-1h0m0 5h0m2-1h0m1-1h0m2 1h0m2-5h0m2 1h0m1-1h0m3 4h0m1-5h0m5 0h0m1 1h0m1 1h0m0-1h0m3 0h0m2 6h0m2-2h0m1 0h0m2 2h0m9-1h0m9-4h0m1 1h0m3-2h0m2-1h0m8 7h0m12-5h0m14 4h0m1-4h0m3 4h0m6 1h0m13-7h0m9 7h0m8-2h0m1-3h0m34 0h0m12 0h0m-384 9h0m12 0h0m17 4h0m5-7h0m0 5h0m4 2h0m4 0h0m21 0h0m6-6h0m1 6h0m1-4h0m0-3h0m6 1h0m7 4h0m2-3h0m1 1h0m5 4h0m1-6h0m0 0h0m0 4h0m6-5h0m10 7h0m2-3h0m1 3h0m3-6h0m5 6h0m0-4h0m1-2h0m7 5h0m2 0h0m0-1h0m2-5h0m3 0h0m7 0h0m2 1h0m1 5h0m0-6h0m0 7h0m1 0h0m0-4h0m0 2h0m3-5h0m2 2h0m1 4h0m0-1h0m0-4h0m3 0h0m0 0h0m1 3h0m2-2h0m1-1h0m2-1h0m8 7h0m0-7h0m3 7h0m1-2h0m0-2h0m2-2h0m1 4h0m2-3h0m3-1h0m2 4h0m0 2h0m0-6h0m1 4h0m1-1h0m1-4h0m2 7h0m2-1h0m1-3h0m1 1h0m0 3h0m1-2h0m4-5h0m0 0h0m4 6h0m6-6h0m0 2h0m9 4h0m1-1h0m2-4h0m4 0h0m5 5h0m0-5h0m1 3h0m1 3h0m1-2h0m2-3h0m4-1h0m3 4h0m12 0h0m4-2h0m1 2h0m2-4h0m0 5h0m1-3h0m0-1h0m6-2h0m1 1h0m2 2h0m3 4h0m4-5h0m7 1h0m6 1h0m2-2h0m8 2h0m17 1h0m42 2h0m15 0h0m-394 2h0m43-1h0m4 0h0m2 0h0m11 1h0m8 1h0m2-1h0m9-1h0m2 5h0m1-3h0m7 5h0m3-7h0m2 3h0m0 4h0m0 0h0m1 0h0m1-6h0m1-1h0m4 2h0m3 5h0m7-5h0m13 0h0m4 3h0m1-5h0m1 1h0m5 6h0m2 0h0m2 0h0m1-2h0m1-4h0m4 3h0m1-4h0m3 3h0m1 3h0m1-2h0m0 3h0m1-2h0m1-3h0m4 3h0m1-2h0m8 3h0m0-5h0m7 0h0m1 2h0m5 1h0m1 0h0m2 1h0m2-4h0m4 3h0m0-2h0m5-2h0m4 4h0m1-1h0m2 4h0m0-2h0m1 1h0m0 1h0m2-4h0m10 2h0m3 2h0m1-4h0m1-3h0m1 6h0m1-1h0m2 2h0m6-4h0m1-3h0m11 1h0m3 5h0m1-1h0m2-4h0m3 5h0m1-1h0m1 0h0m1-2h0m1 3h0m3-3h0m2-3h0m4 1h0m0-1h0m8 3h0m1 2h0m3-5h0m9 3h0m1-3h0m7 6h0m8 0h0m12-6h0m1 3h0m6 3h0m10-6h0m3 0h0m7 6h0m10 1h0m5-7h0m20 4h0m12 0h0m-382 10h0m70-3h0m2 2h0m0 0h0m18-3h0m7 3h0m1-4h0m2-1h0m4 3h0m8-2h0m2 4h0m1-1h0m0-3h0m3-1h0m5 0h0m2 1h0m9 3h0m6 1h0m4-2h0m0 1h0m5-3h0m2-1h0m2 7h0m3-4h0m7-1h0m3-2h0m6 2h0m1 2h0m1-4h0m2 1h0m3 3h0m1 0h0m5-4h0m3 4h0m5 1h0m0 0h0m1-3h0m4 3h0m4-4h0m0 2h0m1 4h0m3-7h0m2 4h0m0-3h0m2 2h0m0 3h0m2 0h0m0 1h0m1-1h0m2-2h0m3-3h0m0 3h0m2-3h0m2 6h0m0-5h0m1 1h0m3 1h0m4 1h0m4-1h0m0-1h0m2 1h0m2 2h0m1-2h0m10-4h0m5 1h0m0-1h0m7 6h0m11-1h0m5 2h0m1-4h0m1-2h0m12 1h0m5 3h0m4-3h0m0 5h0m4-7h0m0 2h0m0-2h0m18 7h0m30-2h0m7 1h0m27-5h0m-355 10h0m2-3h0m4 3h0m6 2h0m8 1h0m2-6h0m14 6h0m0 1h0m1 0h0m16-4h0m3 2h0m12 2h0m1-4h0m1-1h0m4 5h0m3-6h0m1-1h0m4 3h0m0 1h0m7 2h0m7-5h0m1 4h0m4-4h0m2 1h0m1 5h0m4-6h0m0 4h0m5 0h0m3 0h0m1-1h0m1-2h0m0 4h0m2 0h0m1-1h0m1 0h0m6-2h0m3 1h0m9 0h0m8 2h0m1 1h0m1-1h0m1 0h0m0 0h0m5-6h0m0 2h0m2-2h0m0 7h0m2-6h0m1 2h0m2-2h0m1 4h0m3 2h0m1-5h0m1-2h0m1 1h0m3 0h0m1 1h0m0 2h0m1-2h0m1 0h0m6-2h0m1 2h0m1 2h0m3 0h0m2-4h0m9 4h0m2-2h0m0 1h0m0 2h0m3 1h0m1-6h0m0 5h0m1-1h0m0-1h0m2-3h0m6 4h0m3 0h0m0-1h0m1-3h0m0 3h0m0-3h0m5 0h0m2 2h0m1 1h0m5 3h0m1 1h0m0-5h0m7 4h0m4-2h0m1 1h0m3 0h0m0-2h0m1 0h0m5 2h0m5 0h0m4-4h0m11-1h0m3 3h0m9-2h0m1-1h0m3 5h0m27 1h0m-306 3h0m6 6h0m28-6h0m4 6h0m1-6h0m10 0h0m2 3h0m1 0h0m23 2h0m2 0h0m2-4h0m0-1h0m11 4h0m1-2h0m1-3h0m1 7h0m4-2h0m4-5h0m1 7h0m1-6h0m6 5h0m2 1h0m10-5h0m0 1h0m0 4h0m9-4h0m1 1h0m4-2h0m2-1h0m0 4h0m1-5h0m2 7h0m4-6h0m0 4h0m8 1h0m0-5h0m0 3h0m1-4h0m1 1h0m4 4h0m3-5h0m1 3h0m3 1h0m1 2h0m0-2h0m5-2h0m4-1h0m0 2h0m1 2h0m2-1h0m4 3h0m2-7h0m2 0h0m0 0h0m0 4h0m2 0h0m1 2h0m0-3h0m0-3h0m0 3h0m0 3h0m1-4h0m2-1h0m2 6h0m4-7h0m5 0h0m5 2h0m6 2h0m8-3h0m1 4h0m0-2h0m1-3h0m16 5h0m2 2h0m13-7h0m3 2h0m7 4h0m3-4h0m9-2h0m1 6h0m5-6h0m8 0h0m7 5h0m10-1h0m44 3h0m-388 6h0m10-4h0m18 6h0m18 0h0m34-7h0m2 5h0m3 2h0m28 0h0m0-3h0m0 2h0m8-1h0m1 1h0m3-4h0m1 1h0m3 4h0m1-6h0m4 6h0m0-7h0m6 0h0m3 5h0m1-1h0m7 1h0m3-3h0m1 5h0m2-1h0m0-6h0m3 1h0m3 6h0m1-3h0m0-4h0m7 4h0m3-2h0m1 0h0m3 2h0m2 2h0m3-5h0m1 0h0m0 0h0m1 3h0m6 3h0m0-5h0m0-1h0m3 4h0m7-4h0m5 5h0m0 1h0m10-5h0m5-2h0m6 1h0m4 3h0m0 2h0m1-1h0m3-2h0m0 4h0m7-1h0m4-5h0m6 2h0m0-1h0m6 1h0m5-2h0m3 4h0m2 1h0m3 0h0m2-1h0m0 0h0m13 0h0m4-4h0m5 1h0m2 3h0m2 2h0m9 0h0m14-5h0m4-2h0m13 1h0m4 3h0m3-2h0m2 5h0m14-6h0m-338 11h0m4 0h0m6 0h0m21-3h0m20 0h0m8 0h0m1 5h0m5 1h0m14-6h0m3 3h0m3-1h0m1 2h0m3 0h0m4 1h0m7-2h0m2 0h0m0-3h0m2 0h0m6 0h0m2 4h0m2-2h0m1 1h0m1-4h0m2 4h0m3-1h0m1-3h0m1 0h0m2 1h0m4 0h0m2 1h0m1 4h0m2 0h0m0 1h0m4-1h0m2-6h0m4 2h0m6 4h0m0-3h0m1-3h0m1 0h0m1 2h0m3 0h0m6 4h0m3-2h0m1-4h0m2 6h0m4-3h0m1-2h0m2 2h0m2-2h0m1 6h0m2-5h0m1 1h0m2 1h0m1 3h0m1-4h0m0 3h0m1-3h0m4-1h0m1-2h0m12 6h0m1-2h0m2 2h0m2-2h0m5 3h0m4-4h0m1-2h0m6-1h0m3 6h0m1-4h0m2 4h0m4-1h0m3-1h0m8 3h0m1 0h0m2-6h0m3 3h0m10 2h0m14-3h0m6 1h0m8-2h0m4 1h0m7 1h0m0-2h0m4-2h0m4 3h0m7-3h0m6 7h0m11 0h0m9-6h0m7 6h0m3-5h0m7 0h0m-352 9h0m2-1h0m9-1h0m18 4h0m3-1h0m2 3h0m4-6h0m8 3h0m13 1h0m7 1h0m0-4h0m9 5h0m2-4h0m2 3h0m0 0h0m7-5h0m2-1h0m6 2h0m9 2h0m3-1h0m4-3h0m0 1h0m2 6h0m2-6h0m3-1h0m1 1h0m3-1h0m1 1h0m1 3h0m0-2h0m5 3h0m3 2h0m1-5h0m10-1h0m4 2h0m0 0h0m7 1h0m1 1h0m3-5h0m2 2h0m4 5h0m6-2h0m2 2h0m1-4h0m2 0h0m1 0h0m1 3h0m0-2h0m4 1h0m1-2h0m5-1h0m0-1h0m3-1h0m4 7h0m3-2h0m5-2h0m1 1h0m0 1h0m1-4h0m3 0h0m2 4h0m10-4h0m13 4h0m3-5h0m4 4h0m4 3h0m2-6h0m19 2h0m12 2h0m7-1h0m8 2h0m2-6h0m4 3h0m1 0h0m16-3h0m9 7h0m-307 6h0m12-4h0m2 5h0m0 1h0m11-5h0m11-2h0m16 7h0m20-3h0m5-1h0m2 0h0m1-1h0m1 3h0m12 1h0m1-6h0m3 0h0m0 1h0m1 1h0m11 4h0m1-4h0m2 0h0m2 5h0m1 0h0m2 0h0m9-4h0m0-2h0m8 2h0m2 2h0m3-5h0m1 0h0m5 3h0m1-1h0m1 2h0m0 2h0m3-4h0m4 3h0m4-5h0m1 2h0m1 5h0m3 0h0m10-3h0m5-2h0m1-1h0m2 0h0m2 2h0m3 3h0m2-5h0m3 3h0m7 0h0m6-3h0m1 2h0m6-3h0m4 1h0m8 4h0m2-4h0m2 5h0m13-1h0m5-5h0m12 1h0m18 4h0m13 1h0m12-5h0m31-1h0m-326 12h0m6-2h0m5 1h0m25-2h0m8 5h0m4-1h0m1-4h0m2 4h0m9 1h0m2-5h0m18 4h0m13-2h0m4-2h0m7 1h0m8 0h0m2 1h0m5-2h0m1 0h0m4 5h0m8 0h0m3-2h0m5-4h0m1 4h0m2-2h0m1-2h0m7 0h0m5 3h0m1 3h0m1-6h0m1 4h0m0-2h0m3 0h0m0 5h0m2-1h0m3-6h0m6 6h0m5 1h0m6-3h0m7-3h0m2 6h0m12-7h0m0 6h0m5-3h0m5 1h0m6-2h0m1 1h0m6-1h0m22 4h0m3-5h0m8 3h0m1-1h0m18 1h0m12-1h0m6 4h0m-311 1h0m5 3h0m27 3h0m9-4h0m2 2h0m2 0h0m1 3h0m10-5h0m8-2h0m1 0h0m3 3h0m6 0h0m8-2h0m6 4h0m9 0h0m2-3h0m1-2h0m0 6h0m0-4h0m17 3h0m2-3h0m6 3h0m0-1h0m3 3h0m3-5h0m2 1h0m1 2h0m2-2h0m1 3h0m3-3h0m5-2h0m0 3h0m1-2h0m3 4h0m4-5h0m0 4h0m2-1h0m1 3h0m7-3h0m0-2h0m6 4h0m2-1h0m1-1h0m0-2h0m14 1h0m1-1h0m3 3h0m10-3h0m9 3h0m0 1h0m1 1h0m5-1h0m1-1h0m1-1h0m1 3h0m10-2h0m2-5h0m1 5h0m10 2h0m2-4h0m2 4h0m1-4h0m8 2h0m1-3h0m1-2h0m15 3h0m4 1h0m31 2h0m10-4h0m-312 7h0m0 0h0m19 4h0m13-5h0m13 7h0m6-6h0m4 5h0m6 0h0m3 1h0m1-3h0m5 2h0m4 0h0m12-3h0m6 0h0m17-3h0m3 5h0m0-5h0m6 6h0m0-3h0m1 1h0m1-4h0m8 2h0m1-1h0m22-1h0m2 3h0m5 4h0m1-4h0m15 3h0m10-6h0m19 1h0m14 4h0m4-4h0m1 3h0m5-3h0m5 0h0m5 1h0m7 5h0m3-5h0m4 0h0m15 4h0m7-4h0m2 1h0m23 0h0m-283 8h0m19 4h0m5-1h0m18 0h0m24-2h0m7 1h0m2-2h0m6-3h0m5 6h0m1 1h0m1-6h0m6 2h0m2 0h0m3 3h0m5-3h0m5 3h0m6-1h0m9-3h0m9 5h0m3-5h0m1 5h0m5-5h0m0 1h0m1-3h0m4 2h0m16 4h0m5-1h0m25-1h0m8-3h0m4 6h0m3-4h0m4 4h0m0-3h0m6 0h0m14 2h0m18-1h0m-239 3h0m18 6h0m1-2h0m10 3h0m13-7h0m5 3h0m20-1h0m13 1h0m9 0h0m14-1h0m4 4h0m1-6h0m3 2h0m4 3h0m4-3h0m5 0h0m12-1h0m7 4h0m26-4h0m1 4h0m0 2h0m1-3h0m6-3h0m1-1h0m7 7h0m14-5h0m6 4h0m3-6h0m29 6h0m0-5h0m5-1h0m3 4h0m-210 4h0m8 5h0m2-2h0m9-2h0m3 0h0m13 1h0m2-2h0m0 4h0m15 3h0m3-3h0m6-2h0m3-1h0m15 1h0m1 5h0m14-1h0m2 0h0m1-2h0m15-4h0m1 7h0m26-4h0m5 3h0m10-2h0m8-4h0m13 2h0m4 3h0m0-5h0m6 0h0m4 6h0m21-5h0m0 1h0m3 3h0m15 2h0m-260 2h0m18 4h0m2-2h0m3-2h0m25 3h0m16 0h0m2 2h0m5-5h0m7 1h0m20-2h0m3 3h0m4 2h0m4-1h0m3 2h0m1-5h0m23 1h0m7 0h0m15 1h0m10-3h0m5 3h0m15 1h0m2 0h0m15 2h0m50-6h0m41 5h0m-298 5h0m84 4h0m0-5h0m2 0h0m13 6h0m23-7h0m14 3h0m12 1h0m6-2h0m15-1h0m12 6h0m6-2h0m8-1h0m25-1h0m0 2h0m19 1h0m4-3h0m3-2h0m-254 8h0m79 5h0m5-2h0m11-1h0m9 3h0m17-6h0m6 4h0m2-4h0m5 5h0m4-4h0m18 6h0m30-6h0m11 2h0m0 1h0m21 3h0m36 0h0m15-2h0m33-3h0m-195 8h0m21 3h0m6-1h0m9-1h0m1-1h0m4 1h0m49 1h0m37-2h0m-216 7h0m29 6h0m15-1h0m22-3h0m17 4h0m1-1h0m0-3h0m24 3h0m4-1h0m16-3h0m1-2h0m8 0h0m28 4h0m2 2h0m3-4h0m54-1h0m3 6h0m4-7h0m0 7h0m81-7h0m-250 8h0m4 6h0m40-1h0m7-1h0m13 3h0m13 0h0m6 0h0m1-5h0m2 3h0m7-1h0m42 1h0m17-4h0m3 0h0m7 2h0m-93 10h0m19-2h0m1 1h0m22-2h0m-111 8h0m34-1h0m1 6h0m9-5h0m6 1h0m68 2h0m42-3h0m-133 12h0m62 1h0m1 8h0m67-3h0m-29 7h0m148 1h0m-202 5h0m4 2h0m73 1h0m-40 8h0m-11 26h0m21 1h0"/>
<path stroke="#4893ae" stroke-opacity="0.38" stroke-width="5.0" d="M874 330h0m6 9h0m14 21h0m42 6h0m34-6h0m-82 30h0m107-2h0m38 5h0m-110 14h0m131-1h0m-279 2h0m155 5h0m7-5h0m14 0h0m15 5h0m9-2h0m0-3h0m5 6h0m88 1h0m-212 8h0m28-6h0m30 6h0m17-3h0m1 3h0m4-3h0m2-2h0m37 2h0m8 3h0m37-2h0m13 0h0m2-4h0m-147 13h0m67-4h0m50 3h0m16 2h0m30-4h0m4-3h0m-212 15h0m44-6h0m16 0h0m29 1h0m15 3h0m15 1h0m9-6h0m7 6h0m19-3h0m12 2h0m7-5h0m18 0h0m11 2h0m16 2h0m24 1h0m3-1h0m25-2h0m2 0h0m-208 12h0m2-5h0m15 1h0m3 1h0m16 0h0m1 2h0m2 0h0m3 1h0m26-1h0m14 1h0m3-6h0m3 7h0m3 0h0m22-2h0m12-4h0m1 2h0m37 0h0m-182 6h0m22 3h0m21-3h0m9 6h0m11-5h0m6 3h0m17-2h0m2 4h0m10-4h0m21 3h0m7-6h0m17 2h0m28 3h0m17 2h0m18-5h0m11 1h0m26 1h0m-367 6h0m123 2h0m18 1h0m9 2h0m2 0h0m3-1h0m16-1h0m25 0h0m9 2h0m3 0h0m1 0h0m3-7h0m11 6h0m4-2h0m4-4h0m7 5h0m5-5h0m8 0h0m20 3h0m11-1h0m16 1h0m3 1h0m2 3h0m7-1h0m14 0h0m11 1h0m2-2h0m11-5h0m-230 11h0m2 3h0m31-6h0m21 1h0m13 3h0m0-1h0m2-1h0m11 5h0m4-2h0m6 1h0m4 0h0m10 0h0m6 1h0m7-2h0m2 2h0m5-3h0m17 1h0m3 1h0m4-6h0m2 1h0m2 4h0m3-1h0m1-4h0m2 1h0m18 0h0m9 0h0m19 0h0m31 6h0m18-5h0m2-2h0m4 0h0m-308 14h0m17 0h0m23-6h0m4 5h0m16 0h0m5-1h0m7-1h0m3 1h0m1-3h0m5 5h0m1 0h0m3-4h0m4 4h0m3 0h0m14-5h0m5-1h0m1 7h0m3 0h0m1-5h0m2 5h0m0-1h0m8-6h0m1 2h0m3 1h0m1-3h0m14 7h0m7 0h0m12-2h0m5-4h0m4-1h0m18 4h0m6 2h0m1-6h0m1 6h0m2-1h0m20-3h0m4 2h0m18-2h0m5-1h0m4-1h0m30 4h0m-256 8h0m17 0h0m12-2h0m8-1h0m20 6h0m2 0h0m26 0h0m7-7h0m5 7h0m0-4h0m1 3h0m2-5h0m0 5h0m25-3h0m0 0h0m1 1h0m0-1h0m2 1h0m1 1h0m0-4h0m1 3h0m10-1h0m4 2h0m11-2h0m14 4h0m4-2h0m2-1h0m14 2h0m5-6h0m0 2h0m7 3h0m3 1h0m14-3h0m1-2h0m2 3h0m25 3h0m8-1h0m7 0h0m-281 9h0m50-4h0m26-2h0m8 5h0m5 0h0m9 1h0m11-1h0m1-4h0m3 5h0m2-1h0m3-4h0m1 1h0m15 0h0m1 3h0m1-5h0m3 4h0m1-3h0m2 4h0m3 0h0m17-1h0m6 1h0m0-5h0m2 5h0m4-1h0m1 2h0m0-6h0m1 5h0m10 0h0m1-6h0m3 4h0m1-2h0m3 5h0m0-7h0m3 5h0m0 0h0m6-4h0m5 4h0m5-1h0m4-3h0m10 2h0m6 4h0m3-2h0m0-2h0m11 3h0m7-4h0m7 0h0m0 4h0m9-4h0m12 5h0m7 0h0m1 0h0m46 0h0m17-4h0m-385 11h0m46-2h0m20-1h0m7 3h0m4 0h0m9-2h0m0-3h0m2 1h0m4 3h0m0 1h0m17 0h0m3-1h0m12 0h0m1-2h0m3-3h0m13 6h0m3-4h0m2 5h0m0-5h0m2-2h0m7 0h0m14 3h0m6-2h0m2 2h0m3 2h0m10-1h0m9 0h0m3 0h0m4-4h0m2 4h0m3-2h0m0 2h0m0-3h0m6 3h0m2-1h0m3 2h0m2 0h0m1-2h0m0 2h0m3-4h0m2 5h0m2 1h0m2-2h0m2 2h0m3-2h0m1-5h0m7 4h0m15-4h0m1 6h0m2-3h0m3 2h0m0 2h0m2 0h0m5-2h0m0 1h0m1-3h0m8 4h0m3-4h0m19 0h0m3 2h0m21 0h0m3 2h0m49-4h0m-389 5h0m34 5h0m28-1h0m1-3h0m2 0h0m29-1h0m5 6h0m23-5h0m0-1h0m6 6h0m4 0h0m1-5h0m3 0h0m4 3h0m9-3h0m0 5h0m6 1h0m1-7h0m1 2h0m0 2h0m2 1h0m7 0h0m2-5h0m6 7h0m9-4h0m6 3h0m5 1h0m1-3h0m0 0h0m4-4h0m2 4h0m1-3h0m0 6h0m3-3h0m13 0h0m1 3h0m1-1h0m8-3h0m0 2h0m5-4h0m2 1h0m16 1h0m4-1h0m4 1h0m5 0h0m8-1h0m1 5h0m4-7h0m3 4h0m5-2h0m36-2h0m26 6h0m-315 6h0m13-3h0m3 3h0m5 1h0m11-3h0m9 1h0m7 1h0m17-4h0m7 2h0m12 4h0m1-6h0m2 5h0m3-3h0m5-1h0m0 3h0m3 0h0m2-1h0m4 2h0m0-5h0m2 4h0m4 2h0m0-4h0m2 1h0m14 1h0m0 1h0m2-3h0m0 5h0m0-4h0m3-3h0m1 1h0m2 6h0m10-5h0m1 5h0m0-5h0m3 1h0m1-1h0m1-2h0m3 0h0m4 2h0m9 4h0m4 0h0m5 0h0m23 1h0m1-7h0m1 5h0m11-1h0m1 2h0m2 1h0m4-2h0m1-4h0m3-1h0m0 1h0m11 5h0m2-4h0m4 1h0m3 2h0m2 2h0m5-7h0m3 2h0m0-2h0m3 3h0m6-1h0m7 4h0m0-4h0m6-2h0m1 2h0m19 2h0m1 1h0m3-5h0m4 6h0m13-1h0m9-3h0m47 2h0m-396 5h0m46 2h0m18-2h0m8 6h0m16-7h0m4 6h0m4 1h0m2-4h0m11-1h0m19 5h0m3-3h0m1 3h0m2-6h0m4 0h0m2 0h0m3 6h0m1 0h0m0-6h0m1 2h0m6-3h0m2 2h0m2-1h0m8 1h0m4-2h0m5 2h0m10 4h0m2 0h0m8 0h0m0-5h0m7 0h0m1 1h0m4 5h0m0-7h0m7 1h0m0-1h0m3 6h0m3-5h0m1 4h0m0 0h0m11-3h0m15-1h0m2 5h0m4-2h0m10 3h0m1-1h0m4-1h0m9 0h0m9-4h0m10 4h0m3-2h0m1 1h0m3 3h0m4-6h0m6 3h0m6-2h0m2-2h0m17 0h0m12 2h0m28-1h0m-346 8h0m6 4h0m9-1h0m5 3h0m10-4h0m20 4h0m5 0h0m5-6h0m13 0h0m8-1h0m8 2h0m7 2h0m1 1h0m6 1h0m2 0h0m2 1h0m1-2h0m12 1h0m2-3h0m0-2h0m4 0h0m2 4h0m1 2h0m5-3h0m2 1h0m13-4h0m7 3h0m6-3h0m7 4h0m3-2h0m9 0h0m4-1h0m3 5h0m0 0h0m1-2h0m1 0h0m2-4h0m1 6h0m1-4h0m6 0h0m0-3h0m1 2h0m1 3h0m1 2h0m5-3h0m0-1h0m3 4h0m0-4h0m7 2h0m1-1h0m1-1h0m9-3h0m3 7h0m6 0h0m0-4h0m2-1h0m1-1h0m4 4h0m3 0h0m6 0h0m1-4h0m0 5h0m2-1h0m0 1h0m13-4h0m7 1h0m1 3h0m20-3h0m7-1h0m8 3h0m27 1h0m5 0h0m33-3h0m-412 11h0m16-1h0m12-3h0m13 5h0m10 0h0m29-1h0m1-5h0m2 0h0m2 3h0m9-4h0m4 5h0m7-2h0m8 4h0m6-5h0m7 4h0m9-1h0m0-4h0m10-1h0m11 0h0m16 0h0m1 5h0m2-2h0m1-1h0m7-1h0m0 4h0m5-5h0m12 0h0m3 3h0m2 1h0m2 3h0m3-6h0m3 5h0m3-2h0m2 1h0m4-2h0m4 0h0m0-1h0m0 2h0m1-3h0m4 3h0m3 0h0m1-3h0m4 6h0m1-3h0m0-1h0m3 2h0m2 1h0m5-3h0m1-3h0m1 7h0m4-5h0m0 5h0m1-4h0m5 4h0m8-6h0m9 4h0m5-1h0m2-1h0m1 0h0m9 0h0m1-2h0m10 2h0m10 0h0m0-2h0m10 2h0m32-3h0m4 1h0m48 3h0m36-3h0m-450 8h0m3 3h0m52-1h0m19 4h0m9-4h0m1 3h0m6-6h0m9 7h0m3 0h0m1-1h0m4-3h0m8-1h0m12 1h0m1 1h0m1 1h0m4-4h0m1 6h0m7-4h0m2-3h0m6 7h0m8-5h0m1 1h0m5-3h0m0 3h0m2-2h0m7 3h0m3-1h0m3 2h0m4-4h0m7-1h0m7 7h0m2-5h0m4 5h0m2-1h0m0-5h0m2 2h0m6-1h0m3 5h0m0-4h0m1 4h0m1-5h0m5 4h0m3-3h0m1 2h0m2 1h0m5-3h0m2 2h0m14-3h0m2-1h0m4 0h0m12 2h0m1-3h0m3 7h0m1-1h0m2-1h0m2-3h0m3 4h0m10-6h0m3 2h0m4 0h0m13 5h0m15-1h0m8-1h0m4-5h0m19 3h0m4-1h0m3-1h0m1 3h0m62 0h0m-413 9h0m4-2h0m14-3h0m9 2h0m3 5h0m20-3h0m16-3h0m2 6h0m30-3h0m2 0h0m3 1h0m1-2h0m5 4h0m7-3h0m2 3h0m7-2h0m3-2h0m3-3h0m14 4h0m5-1h0m10-1h0m4-1h0m2 1h0m8 2h0m2-4h0m1 6h0m1-2h0m1 0h0m4-2h0m1 1h0m0 2h0m5 2h0m1-3h0m2 2h0m1 1h0m6-5h0m0 5h0m3-2h0m7-4h0m0 2h0m3 2h0m0-2h0m3-1h0m3 3h0m2-1h0m3 1h0m4-3h0m1 1h0m2 4h0m1-6h0m5 3h0m6 1h0m5 2h0m1-5h0m3 2h0m0 3h0m22-7h0m3 1h0m1 4h0m1-5h0m1 1h0m3 6h0m3-3h0m8 1h0m2 2h0m9-4h0m3 4h0m6-3h0m2 2h0m1-2h0m0 0h0m4 3h0m5-5h0m5 2h0m7 1h0m2 1h0m9-4h0m28 5h0m46-4h0m-424 12h0m17-5h0m11-2h0m12 7h0m2-3h0m13-4h0m3 6h0m9-2h0m12 2h0m2-4h0m2 3h0m6-4h0m4 0h0m3 3h0m0 1h0m13-1h0m1 0h0m1-2h0m3 5h0m4-3h0m9 1h0m3-3h0m5 0h0m2 1h0m3 2h0m3-3h0m6-2h0m3 6h0m1 1h0m2-1h0m3-6h0m5 1h0m4-1h0m5 6h0m20 1h0m1-2h0m1 2h0m0-2h0m0-3h0m0-2h0m2 0h0m1 1h0m2 1h0m1 4h0m3-6h0m7 2h0m0 0h0m3 5h0m5-3h0m5-3h0m4 5h0m1-6h0m0 4h0m1 3h0m2-3h0m1 0h0m1-2h0m2 3h0m2 2h0m10-5h0m0 1h0m10 3h0m2-3h0m1 1h0m5-4h0m4 2h0m1 2h0m9 2h0m6 0h0m11-5h0m9 4h0m1 0h0m7-2h0m3 4h0m0-7h0m4 7h0m14-4h0m31-1h0m17 2h0m57-3h0m-475 10h0m29-3h0m4 1h0m3 2h0m9-1h0m0-2h0m42 0h0m2 1h0m6 5h0m2-5h0m3 6h0m5-7h0m9 2h0m8 1h0m4 4h0m4-5h0m0-2h0m0 0h0m8 5h0m0 0h0m13-5h0m6 7h0m7-7h0m16 1h0m5 2h0m4 0h0m7 1h0m5 0h0m3 3h0m3-2h0m4 2h0m6 0h0m14-7h0m2 6h0m1-2h0m3-2h0m6 4h0m1-5h0m8 4h0m9-4h0m8 5h0m3-2h0m0-1h0m1 2h0m1 1h0m7-5h0m8-1h0m1 6h0m3-1h0m1-4h0m5-1h0m20 1h0m4 4h0m2 0h0m5 1h0m7-5h0m3 5h0m3-1h0m6-3h0m5-1h0m2 5h0m5 0h0m9-6h0m22 4h0m9-3h0m107 5h0m-486 6h0m10 3h0m30-5h0m3 3h0m2-5h0m14 0h0m5 6h0m4 0h0m8-5h0m4 1h0m6 4h0m3-3h0m4 2h0m13-1h0m1-1h0m11 1h0m3-1h0m6-2h0m7 1h0m3 1h0m1-3h0m0 0h0m21 7h0m9-6h0m4 6h0m3-2h0m1-2h0m10 1h0m5 2h0m1-4h0m0 5h0m5-4h0m4 4h0m7-7h0m2 0h0m2 2h0m1-2h0m1 6h0m1-2h0m2-1h0m3 2h0m1 1h0m3-3h0m2 1h0m9 0h0m0-2h0m0 2h0m5-1h0m11-2h0m0 4h0m6-1h0m2-4h0m7 3h0m12-3h0m0 2h0m1 5h0m3-3h0m1 2h0m7 0h0m3 1h0m3-1h0m0-4h0m13 5h0m13-6h0m9-1h0m14 2h0m1 2h0m2-3h0m4 4h0m12-1h0m3-1h0m21 3h0m4-3h0m42-2h0m-372 9h0m4 2h0m5 2h0m4-3h0m10-2h0m0 2h0m6 2h0m1 0h0m2-3h0m5-1h0m3 5h0m12 0h0m9-4h0m9 3h0m2 2h0m3 0h0m8-2h0m6-2h0m1-2h0m6 1h0m1-1h0m1 1h0m8 3h0m14-5h0m6 0h0m6 6h0m11 0h0m1-3h0m2 1h0m0-1h0m1 1h0m12 0h0m1-3h0m11 3h0m0-2h0m6 3h0m2-1h0m1-1h0m2-1h0m0 2h0m10 1h0m0-4h0m1 5h0m8-4h0m3-2h0m3 1h0m7 0h0m21 6h0m0-6h0m4 1h0m19 4h0m3-6h0m0 0h0m1 3h0m2 3h0m12-6h0m0 2h0m1 3h0m9 1h0m7-1h0m1-5h0m36 0h0m9 6h0m34-4h0m-414 12h0m30-4h0m7 4h0m2-1h0m12-3h0m8-1h0m11 5h0m4-1h0m10-4h0m22 6h0m5-7h0m13 1h0m0 5h0m6-4h0m4-2h0m5 5h0m7-2h0m9 3h0m0-6h0m1 1h0m5 3h0m0 0h0m2 3h0m4-4h0m5-1h0m6 5h0m1-6h0m2-1h0m5 0h0m5 0h0m1 0h0m17 2h0m0-1h0m6 6h0m1-1h0m2-5h0m2-1h0m12 6h0m6-3h0m8-3h0m1 5h0m8 0h0m2 2h0m5-3h0m6 1h0m7-5h0m2 5h0m16 2h0m12-4h0m7 0h0m7-2h0m2 0h0m12 6h0m3-2h0m4-2h0m22-3h0m5 6h0m13 0h0m12-6h0m6 6h0m55-1h0m-448 7h0m22-1h0m18-3h0m14 7h0m0-6h0m5-1h0m8 2h0m9 4h0m0-6h0m2 5h0m11-3h0m0 1h0m15 2h0m4 1h0m7-2h0m13 0h0m20 0h0m11 1h0m2 2h0m7-3h0m4 0h0m8-1h0m2 4h0m2-1h0m1-1h0m7-5h0m10 0h0m3 7h0m7-2h0m1-4h0m10 1h0m1 3h0m0-4h0m7 5h0m9-6h0m1 1h0m6 0h0m0 3h0m1-1h0m8 2h0m2 0h0m6-2h0m8-2h0m1 2h0m13 0h0m2 4h0m5-3h0m0-2h0m1-1h0m7 2h0m1 1h0m4-4h0m0 6h0m0-5h0m7 3h0m6-2h0m5 0h0m3 5h0m7-2h0m5-5h0m9 0h0m0 0h0m13 2h0m4 0h0m1 3h0m6 2h0m11 0h0m13-7h0m23 7h0m-425 4h0m40-2h0m3 5h0m16-1h0m2 1h0m3-2h0m4-2h0m5-1h0m0 3h0m5 2h0m10-1h0m13-1h0m9 3h0m1-3h0m4-1h0m1 0h0m3 2h0m3 2h0m2-1h0m9-4h0m1 0h0m8 4h0m8 0h0m12-1h0m10-5h0m3 2h0m0-1h0m7-1h0m1 6h0m4-5h0m3 3h0m2-2h0m10 5h0m10-4h0m7-2h0m4 3h0m23 3h0m2 0h0m2-4h0m3 0h0m2 4h0m5-4h0m1 0h0m5-2h0m3 1h0m7-2h0m7 3h0m12 2h0m3-5h0m4 1h0m4-1h0m9 1h0m1 0h0m3 3h0m3 1h0m16 1h0m2-6h0m0 7h0m15-5h0m16 2h0m26-1h0m8 0h0m5-1h0m31 5h0m-451 5h0m1-4h0m2 2h0m4 1h0m8-2h0m3 2h0m6 2h0m6 2h0m10-2h0m6-2h0m2 0h0m18 2h0m4-4h0m10 2h0m3 1h0m30 2h0m2-3h0m7 4h0m10-2h0m3 1h0m1-5h0m13 6h0m17-1h0m7-5h0m3 5h0m10 1h0m0-2h0m2-4h0m2 5h0m1-6h0m0 0h0m18 2h0m1 2h0m4 0h0m1-2h0m8 4h0m10-6h0m26 6h0m10-6h0m12 3h0m5-3h0m0 1h0m11 5h0m3-5h0m11 4h0m9 2h0m10 0h0m8-7h0m5 3h0m0-2h0m3 2h0m9 3h0m20-6h0m26 7h0m2-3h0m19 1h0m21 0h0m-441 6h0m16 3h0m3-3h0m3-3h0m33 1h0m0 2h0m9 1h0m0-4h0m8 0h0m10 3h0m4 3h0m2-1h0m5 1h0m0 1h0m2-6h0m16 2h0m5 1h0m25-4h0m9 2h0m8 4h0m29-5h0m3 3h0m11-2h0m18-2h0m13 5h0m9 2h0m3 0h0m4-2h0m2-5h0m3 3h0m3 1h0m13 3h0m33-2h0m1-2h0m2 3h0m3 0h0m0-3h0m6 2h0m6 0h0m5-4h0m9 2h0m2-3h0m17 4h0m7-1h0m5-1h0m7 4h0m14-4h0m15 4h0m12 0h0m3 1h0m0 0h0m15-1h0m-418 2h0m33 6h0m5-3h0m8 3h0m4-4h0m14 4h0m5-1h0m3-5h0m7 6h0m2-2h0m11 3h0m19-2h0m7-5h0m5 6h0m12-2h0m43 0h0m1-2h0m20 0h0m12-2h0m10 6h0m3-6h0m9 4h0m4-1h0m1-3h0m3 0h0m1 0h0m5 2h0m3-2h0m7 5h0m9-5h0m10 6h0m8 0h0m17-4h0m9-1h0m6 0h0m1 4h0m6-5h0m16 3h0m14 2h0m4-2h0m14 3h0m20 1h0m41-4h0m19 3h0m3-2h0m-494 7h0m57 3h0m7 1h0m9-1h0m5 0h0m2-4h0m6 5h0m17-5h0m10 3h0m16-3h0m10 4h0m42-2h0m12 3h0m33-7h0m47 0h0m17 7h0m13-3h0m4-1h0m3-1h0m1 0h0m5 1h0m4-3h0m42 7h0m26-5h0m6-2h0m4 5h0m28 2h0m24-1h0m51-4h0m-482 9h0m36-2h0m9 5h0m43-3h0m22-2h0m6 3h0m4 1h0m14-1h0m33 3h0m25-6h0m1 5h0m6-3h0m48-1h0m21 2h0m36 1h0m9-1h0m4-2h0m1 0h0m58 3h0m27 1h0m1-6h0m10 6h0m-403 2h0m18 4h0m23-3h0m25 5h0m14 1h0m100-3h0m42-3h0m26-1h0m8 6h0m20 0h0m0-2h0m3 3h0m12-2h0m1 1h0m1-6h0m30 1h0m16 0h0m22 2h0m10-1h0m3-2h0m24 1h0m2 1h0m61-2h0m20 1h0m-518 10h0m46-1h0m11 2h0m25 2h0m7-6h0m3 1h0m1 2h0m5 1h0m9-2h0m1 3h0m6-3h0m37 0h0m8 3h0m83-3h0m62 3h0m18-1h0m2 1h0m6-5h0m1 7h0m7-3h0m3 1h0m106 2h0m-437 8h0m64-6h0m14 4h0m17-4h0m12-1h0m21 2h0m76 0h0m28 0h0m38 1h0m27 4h0m34 0h0m7 0h0m21-6h0m1 1h0m16-1h0m3 3h0m14 3h0m32-4h0m22 2h0m10 0h0m-392 10h0m7-1h0m19-2h0m42 0h0m16-4h0m129 0h0m20 3h0m60 0h0m23 1h0m43 2h0m17-4h0m10-2h0m104 5h0m-539 3h0m31 1h0m7 1h0m18 2h0m7-2h0m21 0h0m26-2h0m110 5h0m36 1h0m23 1h0m48-5h0m9 3h0m12 1h0m3 1h0m17-7h0m2 1h0m43 6h0m-389 6h0m7 2h0m7-4h0m33 4h0m25-4h0m209 1h0m0 3h0m25-7h0m35 1h0m22 5h0m16-2h0m10 1h0m7 0h0m11 2h0m0 0h0m-394 5h0m44 3h0m206-7h0m13 3h0m7-1h0m2 1h0m7-2h0m89 5h0m-375 6h0m28 2h0m7-2h0m342-1h0m9 0h0m-146 6h0m41 3h0m97-4h0m-106 13h0m56-1h0m-35 8h0m20-4h0m-94 14h0m124 7h0m-238 36h0"/>
<path stroke="#8dbcc6" stroke-opacity="0.5" stroke-width="5.0" d="M904 429h0m178 3h0m7 1h0m-139 13h0m125 0h0m-117 9h0m42-5h0m19 2h0m76-4h0m29 6h0m-46 3h0m-161 10h0m40 3h0m30-2h0m-78 6h0m40 5h0m144-1h0m6 0h0m-174 4h0m30-2h0m8 2h0m109 1h0m-85 6h0m2-1h0m42 1h0m37 6h0m17-6h0m6 6h0m43-6h0m-262 12h0m78 0h0m68 0h0m10-3h0m26 0h0m27 2h0m22 0h0m-187 8h0m24 3h0m24-3h0m19-1h0m50 2h0m1 2h0m9-2h0m5 1h0m23 0h0m-123 4h0m3 4h0m1 0h0m30 1h0m24-2h0m40 1h0m102-4h0m-253 9h0m20 0h0m5 2h0m11 2h0m44-5h0m3-2h0m19 1h0m3 3h0m5-1h0m7 0h0m9 3h0m21-5h0m13 3h0m16 0h0m49 3h0m-117 8h0m59-5h0m13 1h0m37 1h0m-192 11h0m39-2h0m38 0h0m3-4h0m32 4h0m11 2h0m28-1h0m14-1h0m30-3h0m-252 13h0m137-6h0m32 5h0m2-4h0m8-1h0m54 2h0m12 2h0m35-5h0m22 6h0m-351 7h0m38 0h0m9 1h0m45-3h0m28 3h0m22-2h0m23 3h0m50-7h0m69 0h0m28 5h0m-290 4h0m28 0h0m31 4h0m93-3h0m57 4h0m21-2h0m1-1h0m1 3h0m16-3h0m2 1h0m11-4h0m5 3h0m31-3h0m-294 8h0m111 1h0m32 5h0m20-4h0m25 1h0m10-2h0m85 3h0m94 3h0m-378 5h0m4-3h0m20 2h0m13-2h0m19 2h0m9 4h0m8-7h0m15 4h0m6-2h0m53 0h0m63 5h0m5-5h0m12 2h0m15 2h0m13-3h0m18-3h0m19 1h0m40 2h0m2 0h0m7-3h0m12 4h0m-338 10h0m29-4h0m17 1h0m4 3h0m10 0h0m3-2h0m34 1h0m2-3h0m24 0h0m7 4h0m9-3h0m6 1h0m3 3h0m61 0h0m20-2h0m58-2h0m17 1h0m56-3h0m41 4h0m-436 7h0m44 0h0m7-1h0m47 0h0m16-3h0m15 5h0m6 2h0m10-5h0m5 4h0m8-6h0m0 6h0m49-2h0m16 1h0m3 0h0m17-1h0m1 3h0m17-4h0m12-2h0m11 4h0m4 1h0m20 1h0m5-2h0m21 2h0m69-5h0m-346 11h0m18-2h0m47 4h0m7-6h0m17 6h0m78-3h0m0 3h0m13 0h0m25-3h0m5-2h0m20 4h0m1 0h0m65-2h0m2 0h0m-303 4h0m96 2h0m25 1h0m24-3h0m13 1h0m9 6h0m39-1h0m14-4h0m23 2h0m7 2h0m15 1h0m28-2h0m46-4h0m2 6h0m1-1h0m2-4h0m33 0h0m-426 13h0m61 0h0m3 0h0m62-6h0m2 3h0m3-3h0m72-1h0m81 4h0m14 1h0m2-5h0m16 4h0m33-3h0m68 5h0m-359 4h0m30-2h0m7 1h0m4 3h0m25 3h0m21-1h0m4-3h0m4 0h0m43-1h0m71 2h0m5-1h0m1-2h0m33 2h0m32-2h0m34 5h0m23-6h0m6 3h0m29 0h0m-458 9h0m9-1h0m30 2h0m50-3h0m42-2h0m38 4h0m25-3h0m50-1h0m7 3h0m18 4h0m7-4h0m21 4h0m3-7h0m2 4h0m11 1h0m70 0h0m2-1h0m2-2h0m47-1h0m-227 11h0m17-2h0m1-2h0m83 4h0m7 1h0m5 2h0m9-1h0m48-4h0m6 5h0m1-7h0m3 1h0m9 0h0m40 4h0m29 2h0m4 0h0m-478 5h0m119-1h0m30 2h0m7-1h0m7-1h0m26-1h0m10 5h0m47 0h0m27-5h0m8 1h0m11-2h0m2-1h0m17 1h0m10 3h0m12-2h0m13-2h0m11 0h0m10 3h0m12 1h0m10-2h0m26 4h0m3-1h0m16-5h0m-348 8h0m3 0h0m45 4h0m59 2h0m80-2h0m41 1h0m4-2h0m22-1h0m15 4h0m1-2h0m44 1h0m7-3h0m33 1h0m34 0h0m14 3h0m-391 9h0m167 0h0m28 0h0m20-5h0m25-1h0m9 1h0m45 0h0m15 1h0m3 4h0m20-6h0m25 2h0m81-1h0m-472 6h0m40 2h0m99 4h0m99 0h0m36-6h0m25 7h0m11-3h0m34-3h0m27 4h0m91-1h0m-430 5h0m28 0h0m3 1h0m121 5h0m34-3h0m16-4h0m7 2h0m9 5h0m101-1h0m51 1h0m-436 4h0m336 4h0m20-2h0m64 2h0m6-7h0m7 5h0m22-1h0m-409 5h0m62 5h0m112 0h0m16-6h0m76 0h0m13 5h0m55 1h0m5 0h0m2-1h0m0 1h0m15-4h0m52-2h0m-239 13h0m83-1h0m26-3h0m16 1h0m6 5h0m22-5h0m52 3h0m37 1h0m1-3h0m0 3h0m-147 8h0m1-2h0m14-4h0m35 1h0m3 5h0m5-6h0m13 3h0m1-3h0m13 5h0m33-2h0m28 4h0m1-2h0m-205 3h0m20 4h0m49 2h0m27-6h0m17 7h0m28-3h0m4 1h0m-340 5h0m254 0h0m23 5h0m2-4h0m28-1h0m36 4h0m15 0h0m19-2h0m10 3h0m-112 4h0m82-3h0m-63 9h0m12-1h0m15 0h0m21 0h0m15 1h0m69 4h0m-93 10h0m17-4h0m10-3h0m48 3h0m5 3h0m-125 3h0m8 6h0m15-2h0m41 0h0m-73 8h0m20 2h0m4-3h0m50-2h0m64 0h0m-183 9h0m49 2h0m2-4h0m17 6h0m25-5h0m36 3h0m6 2h0m9-7h0m30 6h0m-200 4h0m109 3h0m8-1h0m31 2h0m74 0h0m-88 4h0m23-1h0m-150 14h0m80-1h0m6-4h0m81 1h0m-72 6h0m86 3h0m-130 6h0m29 0h0m16 4h0m13-2h0m79 1h0m-109 8h0m46-4h0m1 4h0m38 2h0m-66 1h0m27 1h0m-46 10h0m21 4h0m1-4h0m29 0h0m19 3h0m-63 5h0m21-3h0m91 7h0m-203 5h0m10-2h0m92 4h0m35-1h0m12-2h0m-26 11h0m2-6h0m2 17h0m15 6h0m-29 6h0m-52 6h0m31 1h0m-66 10h0m138-4h0m2 5h0m-104 1h0m63 6h0m-25 2h0m3 1h0m1-1h0m32 5h0m-68 24h0m70-2h0m-29 10h0m2-4h0m-20 7h0m47 8h0m43 1h0m-97 7h0m10 20h0m77 28h0"/>
<path stroke="#e6e2cf" stroke-opacity="0.6" stroke-width="5.0" d="M979 386h0m122 31h0m-213 9h0m77 4h0m155 11h0m-114 7h0m-9 14h0m-111 17h0m38-2h0m85-1h0m-159 11h0m60-6h0m17 1h0m67 2h0m48 0h0m-129 4h0m60 4h0m13-1h0m68 3h0m75-1h0m-188 8h0m6-3h0m3 2h0m97 0h0m8 0h0m38 1h0m-105 5h0m76 1h0m-200 7h0m7 3h0m104 2h0m74 0h0m-115 2h0m30 2h0m18 1h0m108-4h0m-156 13h0m106-2h0m43-2h0m110 4h0m-308 7h0m33 0h0m20 2h0m35-6h0m1 6h0m80-5h0m19 2h0m7-1h0m57 1h0m4 1h0m16 3h0m5-7h0m-305 11h0m35 1h0m91 1h0m4-5h0m18 3h0m3 3h0m36-3h0m8-1h0m9 4h0m54-2h0m105 0h0m36-2h0m-414 7h0m22 6h0m4-4h0m39 0h0m32 3h0m8 1h0m37-5h0m15 5h0m2-1h0m35-4h0m12 5h0m27 0h0m11-7h0m37 5h0m38-4h0m-297 10h0m11 0h0m47-1h0m2-2h0m20 6h0m20-5h0m27 4h0m3-4h0m9-1h0m7 6h0m10-3h0m15-1h0m22 2h0m5-3h0m13 6h0m1-1h0m89-1h0m5 2h0m-283 3h0m20 5h0m28-3h0m17-2h0m9 3h0m60 0h0m27-4h0m38 2h0m128-2h0m-385 11h0m45-2h0m39 1h0m13 0h0m17-3h0m27 7h0m6-5h0m11 1h0m8-3h0m1 7h0m25-4h0m14-1h0m3 1h0m1 2h0m8 1h0m19-5h0m6 5h0m1-5h0m43 6h0m1-4h0m1-2h0m2 3h0m41-3h0m-334 14h0m22-7h0m29 3h0m6-3h0m11 1h0m17-1h0m7 7h0m7-7h0m14 2h0m6 2h0m5 3h0m3-5h0m11 5h0m28-3h0m6-3h0m3 4h0m6 1h0m1-2h0m3-2h0m6 2h0m0-2h0m4 4h0m21 1h0m4-5h0m1 1h0m1 0h0m4 3h0m13-1h0m25-3h0m11 3h0m47 1h0m2-6h0m-272 9h0m4-1h0m6 3h0m3-3h0m3 6h0m12 1h0m8 0h0m13-5h0m1-2h0m20 5h0m4-3h0m1 4h0m1 1h0m3-7h0m4 6h0m0-3h0m8 0h0m15-2h0m29 2h0m15 2h0m8-3h0m27 3h0m20-2h0m13-2h0m28 1h0m49 0h0m-363 9h0m8 2h0m17 0h0m39 1h0m30 1h0m23-7h0m3 2h0m2 4h0m1 1h0m0-4h0m3 2h0m9-5h0m1 1h0m1 3h0m1 1h0m4 0h0m8 0h0m12-2h0m3 1h0m2-3h0m2-1h0m9 2h0m2 1h0m24-3h0m12 6h0m14-6h0m19 1h0m3 4h0m25-5h0m14 5h0m0 0h0m13 1h0m24 1h0m0-7h0m2 4h0m25 3h0m15 0h0m0-6h0m-329 10h0m36-1h0m15-1h0m16 6h0m3-5h0m1-2h0m4 1h0m6 6h0m10-4h0m15-2h0m7-1h0m2 6h0m1-1h0m9 0h0m1-1h0m13-4h0m0 6h0m28-5h0m2 1h0m1 1h0m7-2h0m1 5h0m2 0h0m6 1h0m8-5h0m7 4h0m12 1h0m3-1h0m3-6h0m1 5h0m1-3h0m2 3h0m3 2h0m11-2h0m7 2h0m1-5h0m18 3h0m13-3h0m5-1h0m19 4h0m18 1h0m17 1h0m15-6h0m13-1h0m6 6h0m48-4h0m-410 12h0m2 0h0m23 1h0m13-6h0m13 4h0m15-2h0m55 3h0m3 1h0m3-2h0m28-1h0m4-4h0m1 7h0m2-7h0m3 4h0m13-4h0m1 7h0m1 0h0m8-4h0m3-2h0m9 3h0m8-1h0m6 2h0m11-3h0m2 2h0m7-1h0m0 3h0m2-6h0m6 7h0m16-6h0m7 0h0m2 4h0m16 2h0m5-6h0m5 1h0m2-2h0m3 0h0m6 7h0m35-5h0m35-2h0m63 6h0m-463 8h0m78-2h0m38 3h0m16-4h0m10-1h0m15 4h0m4 1h0m7-7h0m8 1h0m1 0h0m3 1h0m3-2h0m13 2h0m4 1h0m4 2h0m3-3h0m7 4h0m14 0h0m4-6h0m60 5h0m32 1h0m19-1h0m7-2h0m18 4h0m13 0h0m-331 6h0m14-4h0m14 6h0m15-3h0m12-3h0m1 3h0m2 2h0m0-5h0m6 3h0m3-4h0m2 5h0m26-4h0m8 1h0m2-2h0m14 0h0m5 5h0m3-1h0m9-2h0m14 5h0m3-1h0m1-1h0m6-2h0m7-1h0m1 3h0m1-5h0m9 4h0m5 1h0m13 1h0m3 0h0m4-4h0m9 3h0m19 2h0m0-3h0m6-1h0m8-2h0m1 0h0m2 3h0m9 3h0m2-3h0m0 2h0m12-5h0m27 1h0m12 5h0m45-3h0m7 0h0m3-2h0m34 3h0m-396 9h0m16-5h0m50 0h0m2 1h0m0-1h0m21 2h0m10 2h0m2-5h0m17 6h0m6-5h0m3-1h0m18 3h0m7 0h0m0-3h0m2 5h0m5 1h0m15-3h0m1 3h0m8-3h0m3-2h0m20 1h0m15 2h0m4 3h0m10-5h0m8-2h0m4 7h0m2-7h0m7 4h0m10-3h0m39 2h0m20 1h0m9 2h0m4-6h0m5 4h0m20-2h0m17-1h0m7-1h0m-304 13h0m12 2h0m0-7h0m3 5h0m7-1h0m12 1h0m16-2h0m2-2h0m4-1h0m2 2h0m4 0h0m9-1h0m9 1h0m8 5h0m9-3h0m6 0h0m3 2h0m0 1h0m6 0h0m9-4h0m8-2h0m6 0h0m1 6h0m1-7h0m4 2h0m11 5h0m1-2h0m10-4h0m14-1h0m15 3h0m11-1h0m1 4h0m4-3h0m5 3h0m13 1h0m5-6h0m3 5h0m28 1h0m1-3h0m39-1h0m12 3h0m9-3h0m-449 9h0m56-3h0m4 4h0m55 2h0m16-1h0m11-3h0m15 4h0m8 0h0m13-5h0m1 1h0m4 4h0m2 0h0m2-2h0m4-2h0m7-3h0m15 7h0m18-7h0m12 1h0m14 3h0m8 0h0m8-2h0m1 4h0m20-6h0m6 3h0m13-2h0m5 2h0m4-3h0m0 4h0m4 2h0m3-3h0m11 0h0m1 4h0m18-3h0m4 0h0m2 3h0m0 0h0m5-1h0m1 1h0m20-1h0m16-6h0m11 4h0m18-4h0m5 5h0m21-3h0m10 2h0m-391 7h0m0 4h0m27-6h0m29 3h0m32-2h0m4 4h0m2-6h0m1 5h0m0 1h0m5-5h0m11 4h0m7-1h0m1-1h0m7-3h0m4 3h0m0 3h0m10-6h0m37 3h0m25-1h0m5 0h0m2-2h0m5 1h0m15 4h0m21-1h0m0-3h0m18 1h0m3 0h0m33 3h0m5-1h0m2 0h0m46 2h0m-468 9h0m7-6h0m88 0h0m26 6h0m30-5h0m2 0h0m18-2h0m9 4h0m12 2h0m4 0h0m10-5h0m12 6h0m6-5h0m4 1h0m8-1h0m21 3h0m3-4h0m34-1h0m19 0h0m3 3h0m5-1h0m17-1h0m3 1h0m1-2h0m6 1h0m1 1h0m1-2h0m1 4h0m5 1h0m3-1h0m2-3h0m10 1h0m3-2h0m2 5h0m8-1h0m21-3h0m6 6h0m7-7h0m4 4h0m4-4h0m3 2h0m17 4h0m-279 3h0m13 2h0m0 1h0m9 1h0m1-4h0m20 5h0m2 1h0m8 0h0m4-7h0m42 2h0m3 2h0m2 1h0m1-2h0m11-3h0m2 1h0m20 5h0m6-1h0m38-3h0m20-2h0m11 6h0m7-3h0m2 3h0m4 0h0m3-3h0m3 1h0m14 2h0m7-1h0m15-2h0m1 1h0m55 1h0m-354 3h0m5 6h0m37 0h0m2 1h0m28-3h0m12 1h0m6 2h0m0-7h0m6 1h0m18-1h0m5 3h0m17 3h0m2-3h0m5 1h0m4 2h0m3-6h0m1 7h0m14-6h0m2 4h0m11-5h0m3 2h0m3 2h0m5 0h0m6-1h0m1 4h0m10-1h0m11 1h0m3-3h0m0-1h0m6-2h0m2 3h0m3-3h0m3 6h0m13-1h0m6 1h0m0-7h0m3 5h0m2 2h0m10-6h0m4-1h0m14 1h0m4 5h0m1-1h0m9-4h0m4 4h0m26-3h0m31 5h0m-492 5h0m32-4h0m88 7h0m31-1h0m16-1h0m2 1h0m30 1h0m10-1h0m18-3h0m23 3h0m2-2h0m41 1h0m0-1h0m18 3h0m15-4h0m3 3h0m2-2h0m32-2h0m2 3h0m0-1h0m1-1h0m1 2h0m1-1h0m3-3h0m5 1h0m3 4h0m4-6h0m2 5h0m0 0h0m7 2h0m37-7h0m6 3h0m4-1h0m12 4h0m-312 8h0m16 0h0m3-1h0m23 2h0m12-7h0m10 5h0m13-1h0m10 0h0m2-4h0m33 1h0m16 0h0m1 1h0m11 1h0m0 1h0m1-4h0m6 3h0m27-2h0m10-1h0m14 2h0m33-1h0m12 4h0m0-2h0m19 3h0m48-5h0m-390 7h0m46 6h0m13-4h0m75 2h0m6 0h0m77 1h0m3-4h0m12 1h0m16 2h0m15 3h0m4-7h0m0 6h0m24-4h0m6-2h0m15 5h0m16-3h0m46-2h0m3 5h0m5-4h0m-374 9h0m35 0h0m22-1h0m60 0h0m37 1h0m7 2h0m20 0h0m63-4h0m14 2h0m24 0h0m3 2h0m5 2h0m2 0h0m12-5h0m2 3h0m7-1h0m5 4h0m0-1h0m4-1h0m8-1h0m1-2h0m12 4h0m1 0h0m5-2h0m20 1h0m3-1h0m22 2h0m-401 8h0m61-3h0m37 0h0m8 2h0m29-1h0m41 2h0m41-3h0m6-1h0m11 1h0m19 1h0m4 3h0m2-3h0m9 1h0m8-2h0m25-1h0m6 5h0m7-7h0m1 0h0m14 4h0m15-3h0m31-1h0m5 1h0m23 4h0m-304 10h0m19-5h0m124 4h0m18-6h0m35 4h0m2-3h0m14 5h0m4-3h0m6 2h0m17 1h0m1-2h0m8-2h0m37 2h0m45 0h0m-398 4h0m64 2h0m125 3h0m42-3h0m7 1h0m5-1h0m2 1h0m1 2h0m1-5h0m3 1h0m1 3h0m2 1h0m31-2h0m12-1h0m23-2h0m-115 12h0m12-4h0m50 4h0m62-1h0m13 0h0m-165 5h0m18 7h0m26-1h0m12-4h0m2 0h0m3 4h0m1-1h0m38 1h0m15-1h0m2-3h0m37 3h0m23-1h0m-322 5h0m147 0h0m44 6h0m5-5h0m27 3h0m5-3h0m20 3h0m1 1h0m7-1h0m1-5h0m67 0h0m15 4h0m-281 7h0m72-3h0m19 3h0m0 3h0m22-6h0m0 7h0m54-7h0m15 5h0m6-4h0m32 1h0m-122 8h0m4-1h0m36 2h0m12-3h0m26 1h0m4 1h0m4 1h0m17 3h0m28-2h0m4-2h0m-133 12h0m22 0h0m0-6h0m3 5h0m6 1h0m16 1h0m26-3h0m1-4h0m3 6h0m22-3h0m1-2h0m19 5h0m9-5h0m-82 10h0m43 3h0m18-1h0m30-4h0m14 0h0m4 6h0m-144 3h0m21 3h0m4-1h0m22 1h0m1 2h0m4-7h0m7 0h0m46 0h0m22 5h0m12 0h0m-123 4h0m26 5h0m5-2h0m4-1h0m9 1h0m19-2h0m25 4h0m4 1h0m14-6h0m8 5h0m3-6h0m-145 8h0m15 6h0m8-2h0m14 1h0m4-3h0m10-2h0m0 0h0m21 3h0m21 4h0m19-1h0m16-5h0m26 5h0m16-2h0m-188 8h0m67-2h0m3 1h0m11 4h0m34-1h0m3-3h0m13 0h0m53-2h0m-168 13h0m52-3h0m7 2h0m39 0h0m16-3h0m27 5h0m7-5h0m-140 6h0m59 5h0m106-3h0m-107 9h0m20-3h0m1 3h0m1 2h0m13-5h0m8 0h0m1 0h0m-73 11h0m29 1h0m34 0h0m13 1h0m47-3h0m-159 8h0m18 3h0m5 1h0m27 1h0m19-7h0m50 4h0m-124 8h0m78 1h0m22 1h0m12-6h0m0 1h0m-72 13h0m11-2h0m30 2h0m6-6h0m21 3h0m31 1h0m6-4h0m-54 10h0m-70 6h0m8 1h0m50 0h0m1 2h0m10 1h0m3-3h0m13 4h0m7 5h0m-84 17h0m78 3h0m13 8h0m5-6h0m18 5h0m17 1h0m-110 7h0m8-3h0m-33 6h0m48 7h0m-48 2h0m75 10h0m7 4h0m30 3h0m-68 6h0m2 11h0m64 3h0m-56 42h0m35 14h0"/>
<path stroke="#fbbd9c" stroke-opacity="0.55" stroke-width="5.2" d="M1009 541h0m-15 5h0m-119 13h0m53-4h0m29 4h0m132-3h0m-253 10h0m64-5h0m43 0h0m27 3h0m72-4h0m47 5h0m1 2h0m-123 1h0m11 6h0m9 1h0m71-2h0m0-4h0m-170 9h0m25-2h0m22 6h0m16 1h0m2-2h0m23 2h0m16-4h0m7 3h0m9 0h0m21 1h0m5-3h0m9-3h0m23 0h0m15 3h0m4 3h0m3-1h0m-246 2h0m39 2h0m27 0h0m10-1h0m7 1h0m23-1h0m3 4h0m5-5h0m20 7h0m6-3h0m6 3h0m8-1h0m7-6h0m2 1h0m10 4h0m16-1h0m8-1h0m6 0h0m7 4h0m40-5h0m9 5h0m7-4h0m15-2h0m-224 9h0m50 4h0m27-1h0m4-5h0m3 6h0m8-1h0m7-4h0m1 3h0m1 2h0m4 1h0m24-4h0m12 0h0m12 3h0m2-5h0m70 3h0m13 2h0m2-6h0m70 6h0m-342 5h0m45-1h0m28 0h0m27 3h0m1 2h0m8-2h0m2 0h0m9-1h0m1 2h0m11-4h0m5-1h0m4 0h0m2 5h0m13-4h0m7 5h0m8-3h0m7 2h0m8-2h0m1 2h0m23 0h0m13-3h0m2 3h0m5 0h0m115-6h0m-302 12h0m2 2h0m15 0h0m13-4h0m2 1h0m5 3h0m18-1h0m25 0h0m8-1h0m1 0h0m2 1h0m18 0h0m40-1h0m3 2h0m3-1h0m22-2h0m9 0h0m21-3h0m11 2h0m0-2h0m3 6h0m21-4h0m24 3h0m32 0h0m-374 6h0m28 0h0m9-1h0m24-1h0m12 1h0m41 5h0m2-5h0m13-2h0m6 3h0m0 4h0m8-6h0m3 6h0m3-1h0m2-5h0m3 6h0m6-6h0m12 3h0m10 1h0m15-2h0m9-2h0m4 3h0m4 1h0m14-4h0m12 5h0m9-1h0m2-5h0m36 2h0m7-2h0m17 7h0m47-7h0m63 1h0m-359 7h0m51 4h0m19 1h0m34-4h0m1 0h0m1 1h0m2-1h0m14 6h0m1-5h0m10 3h0m8-4h0m9 2h0m4 0h0m1-2h0m2 6h0m3-2h0m1-4h0m19 4h0m2-5h0m7 7h0m16-5h0m10 0h0m9 3h0m59 2h0m53-4h0m53 1h0m-379 4h0m16 6h0m23-6h0m2 0h0m19 6h0m14 0h0m28 0h0m9-6h0m0 2h0m7 5h0m0 0h0m6-4h0m5 1h0m4 3h0m3-1h0m5 1h0m0-4h0m1-2h0m1 5h0m3-5h0m3 2h0m12-3h0m1 4h0m7-2h0m7 1h0m3 2h0m28-1h0m4 1h0m3 1h0m1-6h0m3 1h0m15 1h0m12 4h0m37-4h0m14 0h0m-281 12h0m13-6h0m15 2h0m7 4h0m3-1h0m22 0h0m17-1h0m9 0h0m2-3h0m17 2h0m1 0h0m9-1h0m8 0h0m9 1h0m1-1h0m5 5h0m23-1h0m2 1h0m5-7h0m7 6h0m40-6h0m0 2h0m33 0h0m2 1h0m21-3h0m39 1h0m22 6h0m10-7h0m-325 13h0m62-5h0m7 2h0m7 3h0m2 1h0m26-2h0m8 0h0m9-4h0m25 7h0m24-4h0m7 3h0m12 0h0m2 0h0m4-3h0m10-3h0m4 0h0m1 3h0m8 1h0m13 3h0m17 0h0m30-7h0m18 4h0m39 3h0m20-7h0m-369 8h0m73 7h0m7-5h0m3 1h0m4-2h0m0 2h0m1 2h0m4 2h0m4-6h0m16-1h0m5 3h0m4-1h0m11 3h0m6 1h0m4-3h0m3-1h0m3 2h0m12 0h0m14-3h0m12 3h0m6-3h0m0 2h0m24 2h0m11 0h0m6-3h0m1-1h0m1 5h0m10 0h0m62-3h0m1 1h0m19-4h0m11 5h0m-281 10h0m19-7h0m6 0h0m15 3h0m1 1h0m13-4h0m25 4h0m1-3h0m6 2h0m5 3h0m0-2h0m2 3h0m1-3h0m20-2h0m10 3h0m39 1h0m8-1h0m27-1h0m10-2h0m38 4h0m14-1h0m35-1h0m39 3h0m-417 5h0m50-1h0m14 4h0m48 0h0m21-6h0m8 2h0m30 0h0m14 3h0m18-5h0m2-1h0m3 4h0m9 2h0m33-2h0m1-3h0m11 0h0m20 5h0m37-4h0m1-1h0m11 6h0m12-1h0m21-5h0m10 6h0m-371 6h0m26-3h0m87 1h0m6-3h0m27 4h0m11 2h0m2-5h0m10 4h0m6-5h0m7 4h0m5-2h0m13 0h0m3 0h0m1 3h0m36 2h0m5-5h0m8-2h0m14 3h0m0 4h0m25-6h0m5 5h0m2 0h0m25 1h0m4-1h0m6-2h0m-302 11h0m30-7h0m4 4h0m26 2h0m40-6h0m4 2h0m40 1h0m14 4h0m30-4h0m7-2h0m9 3h0m4-3h0m4 0h0m4 6h0m2-3h0m6-2h0m27 3h0m0 1h0m7-6h0m8 6h0m5-6h0m12 0h0m39 2h0m-383 6h0m134 5h0m21-1h0m9-4h0m22 4h0m32-4h0m8 2h0m12 3h0m23-2h0m2 4h0m9-3h0m16-3h0m8 1h0m32 0h0m18 2h0m3-3h0m9-1h0m1 2h0m0 2h0m38-4h0m-352 13h0m102 1h0m12-2h0m7-2h0m49-2h0m2 0h0m50 0h0m2 1h0m4 1h0m2 3h0m4-4h0m11 1h0m17-2h0m6 4h0m6-2h0m5 5h0m10-2h0m4-1h0m68-3h0m42 5h0m-402 3h0m92 6h0m47-6h0m11 6h0m5 0h0m17-5h0m24 3h0m5-2h0m11-1h0m8-2h0m3 2h0m26 5h0m8-1h0m63-2h0m21-2h0m8 2h0m6-4h0m5 2h0m-251 13h0m90-6h0m1 3h0m5-1h0m1 2h0m16-2h0m17 0h0m11-2h0m9 0h0m2 4h0m1 2h0m6-4h0m50 1h0m41-4h0m-248 10h0m25-2h0m23 7h0m78-5h0m12 1h0m3 0h0m5 1h0m11 0h0m3 3h0m44-4h0m18 3h0m-243 2h0m13 3h0m36 3h0m53-6h0m18 2h0m12 1h0m9 4h0m4-2h0m35-2h0m15 4h0m36-7h0m-127 13h0m73-2h0m3-1h0m1 2h0m20-2h0m-138 8h0m80 2h0m23-2h0m15 0h0m16 2h0m37 2h0m39 1h0m-327 8h0m142-5h0m20 0h0m41 0h0m9 4h0m6-2h0m16 0h0m0-2h0m1-2h0m4 7h0m2-5h0m13 4h0m10 0h0m27-5h0m7 3h0m6 0h0m9-4h0m4 1h0m-144 12h0m5 0h0m12-1h0m19 1h0m23-2h0m16 0h0m41-1h0m5 3h0m10-3h0m1 3h0m-177 3h0m26 3h0m15 2h0m10 2h0m18-2h0m4-5h0m10 5h0m34 2h0m9-2h0m2-2h0m-92 8h0m1 4h0m16-7h0m10 3h0m10 2h0m8 0h0m33-3h0m3-2h0m27 2h0m-87 9h0m73-1h0m4 3h0m14 1h0m11 1h0m4-3h0m-133 9h0m31-3h0m3 5h0m50-6h0m22 1h0m6-2h0m6 3h0m2 1h0m3 0h0m14-1h0m16 1h0m-113 10h0m7-5h0m8 5h0m0-4h0m46 2h0m8 3h0m28 0h0m16-3h0m-86 11h0m44-5h0m3 4h0m3-2h0m6-3h0m1 2h0m18 1h0m-141 10h0m25 0h0m10-6h0m9 2h0m23-1h0m16 6h0m-50 7h0m24-1h0m5 0h0m28 2h0m5-5h0m13 0h0m26 0h0m-143 13h0m68-3h0m13 0h0m1 1h0m36 2h0m1-6h0m-100 12h0m13-4h0m20 1h0m16 2h0m66-4h0m11 1h0m7 6h0m25-2h0m25-4h0m-160 13h0m2 1h0m31-5h0m7 3h0m23-2h0m2 1h0m42 0h0m17 2h0m-96 3h0m20 3h0m2-2h0m-35 10h0m8 1h0m105-2h0m-140 11h0m42-6h0m10 7h0m7-7h0m20 2h0m13 4h0m-90 7h0m0 0h0m41 2h0m23 0h0m3-7h0m29 2h0m15-2h0m29 3h0m-136 8h0m3 2h0m4-2h0m53 3h0m3-6h0m28 2h0m-67 10h0m20-3h0m20 1h0m35 0h0m3 4h0m18-6h0m11 6h0m6 0h0m-132 3h0m20 5h0m8-1h0m20 2h0m18-6h0m23 10h0m-102 6h0m35-1h0m25 1h0m2 2h0m7 4h0m5-1h0m27-6h0m-59 11h0m23 3h0m3-4h0m8 5h0m21-3h0m2-2h0m59-1h0m-98 13h0m8-1h0m0-5h0m21 7h0m-104 3h0m89 0h0m16 4h0m8-4h0m19 4h0m-104 4h0m105 5h0m-71 8h0m26-5h0m3 3h0m14 3h0m11 4h0m35 1h0m-127 4h0m59 4h0m37-5h0m19 0h0m2 7h0m-118 7h0m74 9h0m0-2h0m-191 6h0m93 1h0m48 3h0m23-4h0m12 1h0m-220 14h0m199 4h0m44-3h0m-95 8h0m-42 18h0m46-5h0m65 6h0m-113 7h0m82 1h0m-34 10h0m48 21h0m-1 7h0"/>
<path stroke="#fa8a68" stroke-opacity="0.5" stroke-width="5.4" d="M924 553h0m60 3h0m6-2h0m-31 12h0m-48 2h0m29 0h0m76 4h0m30-1h0m-179 10h0m23-4h0m62 3h0m15 0h0m-86 5h0m6 3h0m24-3h0m16-1h0m61 0h0m40 6h0m0-3h0m-235 12h0m64-3h0m50-4h0m4 5h0m41 0h0m44 2h0m38 0h0m9-3h0m8 0h0m9 1h0m11-2h0m39 0h0m-243 12h0m73-6h0m63 0h0m7-1h0m11 7h0m11-3h0m13-4h0m15 5h0m5-5h0m22 0h0m21 7h0m10-3h0m-176 11h0m48-2h0m9-3h0m7 2h0m1 3h0m72-1h0m53-1h0m22 1h0m-186 4h0m6 0h0m67 2h0m17 2h0m8-4h0m65 3h0m32-1h0m-262 8h0m35 1h0m5-4h0m51 2h0m11 0h0m3 1h0m1-4h0m21 6h0m9-5h0m46 1h0m1 1h0m-238 11h0m10-3h0m22-2h0m10 5h0m3 1h0m33-7h0m135 6h0m53 0h0m17-4h0m0 0h0m16 2h0m17 3h0m-265 4h0m114 1h0m12 1h0m36-4h0m12 1h0m2 4h0m1-1h0m1 1h0m28-4h0m12 1h0m5 0h0m3-1h0m-232 11h0m4-5h0m1 2h0m63 3h0m29-1h0m6 3h0m23-3h0m2-2h0m11 4h0m0 0h0m22-1h0m19 1h0m33-6h0m42 7h0m2-6h0m18-1h0m65 3h0m3-3h0m-298 10h0m53 1h0m4-3h0m20 4h0m26-4h0m15 6h0m9-5h0m28 4h0m3 1h0m0-3h0m26 3h0m11-3h0m0 4h0m2-6h0m15 2h0m25 1h0m-347 6h0m69-2h0m22 5h0m41-2h0m21 4h0m6-3h0m29-4h0m3 0h0m4 6h0m3 1h0m13 0h0m3-3h0m15-3h0m1 5h0m8-1h0m18-3h0m42 0h0m7 1h0m15 2h0m3-2h0m61-1h0m-288 6h0m61 3h0m6-2h0m22 3h0m20 0h0m4-2h0m8 5h0m6-6h0m15 6h0m1-3h0m3 0h0m3-2h0m14-2h0m27 5h0m2-4h0m14 4h0m26 1h0m41-6h0m6 0h0m-329 14h0m5-3h0m81-1h0m8 2h0m7 2h0m3-3h0m10 3h0m6-6h0m1 5h0m14 2h0m31-6h0m1-1h0m6 6h0m37-3h0m6-2h0m9 5h0m6 1h0m11-4h0m4-3h0m4 5h0m1-2h0m12-1h0m34 0h0m16 1h0m23 0h0m-301 12h0m49-2h0m67-5h0m1 5h0m2-2h0m4 1h0m0-4h0m8 5h0m6-4h0m21 5h0m15-1h0m7-4h0m43 1h0m23 4h0m2-5h0m75 6h0m-402 6h0m120 0h0m3-1h0m32 2h0m16-4h0m8-1h0m11 6h0m10-2h0m4-2h0m16-1h0m1-2h0m22 1h0m10 1h0m1 5h0m3 0h0m10-6h0m13 0h0m4 4h0m2 2h0m9-5h0m51-2h0m69 0h0m51 5h0m-396 3h0m9 6h0m4-2h0m14-1h0m1-2h0m19 1h0m13 2h0m23-1h0m24 2h0m4-4h0m12 0h0m4 5h0m12 1h0m10-4h0m24 4h0m8-3h0m1 3h0m11-2h0m10-5h0m8 2h0m17 3h0m19-4h0m43 4h0m8-2h0m28 3h0m40-1h0m-307 6h0m12-2h0m14 4h0m8-2h0m23 1h0m27 2h0m4 1h0m0-6h0m6 2h0m10 2h0m4-1h0m0 1h0m14-4h0m19 4h0m9-4h0m29 2h0m9 2h0m13-5h0m7 0h0m6 6h0m-301 8h0m75 0h0m45-5h0m4-1h0m2 0h0m4 0h0m0 2h0m3 4h0m24 0h0m2 1h0m1-4h0m18 0h0m2 0h0m19 4h0m13-3h0m1 2h0m4-2h0m2 0h0m1-2h0m13 0h0m21 5h0m25-1h0m-208 8h0m14-2h0m23 2h0m22-4h0m21-1h0m1-1h0m49 0h0m12 1h0m1-1h0m17 2h0m42 2h0m0 3h0m1-2h0m19-4h0m11 2h0m9 2h0m13-5h0m20 4h0m16-2h0m3 0h0m-369 7h0m75 6h0m36-7h0m16 4h0m0 2h0m4-6h0m12 5h0m1-4h0m31 0h0m24 0h0m3 6h0m6 0h0m11-6h0m24 6h0m38-2h0m31 0h0m30-2h0m-280 5h0m27 4h0m54-3h0m11 2h0m9 3h0m8 0h0m5 1h0m11-2h0m13-1h0m5-2h0m32 3h0m13 0h0m10-1h0m25-1h0m24-1h0m1 3h0m-274 7h0m61 1h0m22 1h0m2 0h0m7-1h0m4-5h0m3 1h0m7 2h0m4 4h0m42-3h0m20-1h0m8-1h0m5-2h0m0 7h0m22 0h0m17-2h0m80 1h0m50 1h0m-327 3h0m39 5h0m10-5h0m1-2h0m3 7h0m15-1h0m21-3h0m6 1h0m4-4h0m3 6h0m15 1h0m3 0h0m11-6h0m13 4h0m8-1h0m2 1h0m46-4h0m-205 12h0m1 1h0m37 1h0m18-2h0m7-1h0m24 3h0m55-4h0m4-2h0m15 3h0m7-3h0m169 2h0m-354 12h0m24-1h0m25-4h0m12-2h0m44 7h0m30-6h0m2-1h0m21 1h0m7 2h0m13-1h0m26 1h0m3-3h0m134 0h0m-299 15h0m10-5h0m4 0h0m10 3h0m21-3h0m20-1h0m17 0h0m39 5h0m1 0h0m15-1h0m5 0h0m7 1h0m2-6h0m17 4h0m5 3h0m7-5h0m14 2h0m10 3h0m-232 6h0m6 0h0m15 2h0m0-5h0m7-1h0m70-1h0m1 4h0m25-1h0m7 3h0m11 0h0m0 0h0m40-1h0m2 2h0m14-6h0m26 4h0m3-5h0m7 3h0m18 4h0m17-3h0m-294 6h0m46 1h0m9-1h0m3-1h0m10 4h0m1 1h0m22-2h0m14-1h0m1-1h0m9 1h0m34-3h0m2 4h0m13 2h0m41 0h0m6 0h0m11-2h0m3-2h0m30 4h0m45 1h0m14-4h0m25 4h0m-304 7h0m40-1h0m20-1h0m50-1h0m6-2h0m4-1h0m6 5h0m19 1h0m3-4h0m14-1h0m14 2h0m17 4h0m29 0h0m2 0h0m155-5h0m-414 9h0m100-1h0m0-2h0m6 4h0m4-4h0m5 6h0m25-5h0m10 4h0m24-3h0m1 0h0m41 4h0m19 0h0m38-1h0m49 1h0m8 1h0m-291 6h0m18-1h0m24-3h0m28 6h0m1-5h0m5-1h0m3 3h0m31-1h0m3 0h0m7-3h0m42 1h0m14 3h0m24-2h0m12 2h0m10 1h0m25-3h0m25 0h0m-308 9h0m27 2h0m35-5h0m24 2h0m62 5h0m36-3h0m32 1h0m9-2h0m18-1h0m68 2h0m11 1h0m-239 6h0m7 0h0m5 2h0m23-4h0m2-1h0m83 5h0m11 2h0m18-2h0m69-1h0m-302 10h0m33-1h0m7-3h0m41 3h0m13 2h0m2-3h0m19 0h0m3 2h0m7-6h0m10 1h0m8 3h0m20-3h0m16 1h0m2 3h0m136-3h0m28 1h0m-322 9h0m65-1h0m2 3h0m0-3h0m5 1h0m22 1h0m12-3h0m34-1h0m0 0h0m11 5h0m14-2h0m12-4h0m23 0h0m2 0h0m30 3h0m20-3h0m56 4h0m-313 4h0m56 5h0m2 2h0m4-7h0m0 5h0m19 2h0m17-1h0m15-2h0m31-4h0m11 5h0m8-5h0m1 5h0m4-1h0m9-4h0m41 6h0m67-5h0m49 4h0m27-4h0m-352 14h0m53-4h0m18 0h0m30 4h0m19-3h0m4-2h0m14 5h0m3-6h0m10 2h0m7-3h0m20 4h0m5 3h0m10-7h0m68 6h0m30-6h0m29 2h0m-302 6h0m27 2h0m16 4h0m34-2h0m2 2h0m21 1h0m18-5h0m20 0h0m16 3h0m26 2h0m1-7h0m96 3h0m81-3h0m-349 12h0m39-4h0m1 2h0m3 3h0m17-3h0m19 2h0m38 0h0m30-3h0m3 3h0m92-2h0m7 0h0m4-1h0m-321 13h0m71-6h0m3 1h0m14 6h0m30-6h0m3 4h0m0-2h0m2 1h0m0 2h0m29-3h0m0-2h0m12-1h0m3 4h0m3-4h0m48 1h0m16 1h0m18 3h0m2-5h0m-162 9h0m3 3h0m5 3h0m5-7h0m3 7h0m22-4h0m12 3h0m4-6h0m12 7h0m0-2h0m11-2h0m35 3h0m13-1h0m57-1h0m-261 7h0m18-3h0m13 4h0m20-4h0m19 2h0m8 1h0m12 4h0m24-1h0m10 1h0m15-2h0m53 0h0m2 0h0m41 1h0m40 0h0m44 1h0m-254 3h0m22-2h0m5 1h0m0 4h0m16 2h0m35-6h0m38 0h0m43 4h0m98 2h0m-218 4h0m18-2h0m20 2h0m1-3h0m42 5h0m15 1h0m3-2h0m20 1h0m73-3h0m-292 8h0m72 3h0m18 2h0m7-3h0m2-1h0m28 3h0m36 0h0m30-2h0m1-3h0m44 0h0m17 0h0m29 0h0m30 6h0m-241 7h0m1 1h0m33-1h0m58-1h0m9-4h0m25 5h0m88 1h0m67-2h0m-371 9h0m81-5h0m9 5h0m14 1h0m3-3h0m12-2h0m4 0h0m10 1h0m97-1h0m-152 13h0m32-4h0m20-3h0m21 0h0m14 6h0m40-5h0m61 0h0m22 1h0m-125 8h0m10-2h0m33 3h0m59 3h0m-157 5h0m46-1h0m6 2h0m58-1h0m3-2h0m-89 11h0m99 0h0m13 0h0m55 0h0m-273 5h0m2 4h0m117-1h0m150-4h0m69 7h0m-214 2h0m4 4h0m57 2h0m13-6h0m30 0h0m-179 11h0m114-4h0m70 4h0m74-3h0m-62 8h0m-12 14h0m4-4h0m-146 5h0m124 3h0m26 2h0m-88 7h0m-40 10h0m114-1h0m7 0h0m22 20h0"/>
<path stroke="#f54b27" stroke-opacity="0.45" stroke-width="5.4" d="M987 619h0m-11 10h0m53 1h0m87-2h0m-139 11h0m19-1h0m14 1h0m40-6h0m3 0h0m3-1h0m14 2h0m1 0h0m9 3h0m3-3h0m-145 6h0m8 4h0m6 3h0m3-6h0m34 5h0m11-2h0m5-4h0m6 7h0m8-6h0m41 4h0m15 1h0m30-2h0m14-2h0m7 2h0m-183 9h0m40 1h0m4-5h0m10 6h0m8-5h0m3 0h0m5 3h0m1 1h0m2-4h0m28 2h0m4-3h0m2 1h0m10-2h0m8 6h0m13 0h0m11 0h0m9-2h0m13 2h0m4 0h0m0-1h0m5-5h0m7 7h0m21-6h0m-291 12h0m79-3h0m27 5h0m12-5h0m8 3h0m6-4h0m19 3h0m7 1h0m3-3h0m0 1h0m13 1h0m9-4h0m5 0h0m12 0h0m0 7h0m6-5h0m6 1h0m7 0h0m24 3h0m17 0h0m9 1h0m25-4h0m95 2h0m-344 7h0m17 1h0m39-3h0m0 4h0m7 1h0m0-7h0m6 1h0m20 4h0m10 2h0m0-1h0m8-4h0m8 4h0m10-5h0m9 3h0m18 3h0m0-5h0m1 0h0m3 0h0m4 5h0m0 0h0m11-6h0m12 2h0m18-1h0m14 1h0m8 0h0m19 3h0m8-5h0m30 3h0m-251 11h0m11-4h0m1 3h0m29 1h0m8-5h0m8-2h0m12 7h0m18-2h0m6 0h0m6-4h0m3 2h0m0 0h0m6 1h0m5 0h0m15 0h0m9-1h0m38 3h0m5-1h0m1 0h0m2-4h0m0 5h0m3-1h0m6-3h0m1 4h0m3 1h0m1 0h0m16-5h0m3 3h0m12-4h0m6 0h0m15 1h0m48 0h0m-359 12h0m23-4h0m18 2h0m36-1h0m2-3h0m36 3h0m8 0h0m5-2h0m2 6h0m5-4h0m4 4h0m14-7h0m4 4h0m3-1h0m8 1h0m1-4h0m9 5h0m0 1h0m1 1h0m6-7h0m10 5h0m2-4h0m11-1h0m5 7h0m1-6h0m1 5h0m22-1h0m6-4h0m1 2h0m8-1h0m16 0h0m56 0h0m0-1h0m-349 13h0m79-4h0m9 3h0m4-5h0m15 6h0m7 1h0m5-6h0m1 1h0m11 0h0m9 3h0m0-1h0m7 0h0m0-2h0m3 5h0m1-4h0m4 1h0m7 2h0m11-3h0m2-2h0m1 2h0m3 3h0m8-1h0m0-5h0m2 6h0m4-3h0m7-3h0m7 7h0m2-5h0m4 0h0m3 2h0m11 2h0m10-1h0m2 2h0m2-6h0m0 5h0m13-2h0m3 2h0m4-6h0m1 1h0m2 2h0m0-1h0m1 3h0m7-3h0m0 4h0m6-3h0m1 0h0m23 4h0m6 0h0m-298 5h0m35 0h0m17 0h0m20-1h0m3-1h0m8 1h0m15-2h0m5 6h0m12-6h0m9 4h0m1 1h0m9-3h0m1 0h0m7-2h0m4 4h0m10-3h0m5 3h0m1 0h0m6 2h0m4-5h0m3 1h0m2-2h0m17 5h0m0 0h0m1-6h0m4 7h0m5-7h0m9 0h0m4 3h0m5 1h0m9 0h0m0-2h0m2-2h0m5 0h0m1 5h0m5 2h0m2-6h0m9 1h0m6 5h0m1-2h0m1-2h0m2 4h0m2-6h0m2-1h0m1 7h0m8 0h0m4-4h0m10 1h0m1 2h0m5 0h0m11-3h0m45 2h0m-328 3h0m2 4h0m2-2h0m9-1h0m3 1h0m3 3h0m17 1h0m16-6h0m7 0h0m7 2h0m1 4h0m7-2h0m0-1h0m3 1h0m1 0h0m5-3h0m3 4h0m1 1h0m2-3h0m1 2h0m20 2h0m1-1h0m1-4h0m5 5h0m5-1h0m3-2h0m9-4h0m8 2h0m4 2h0m5 3h0m0-1h0m3 0h0m7-5h0m1 4h0m0 1h0m3-4h0m3-1h0m2-1h0m4 1h0m18 0h0m1 5h0m2 1h0m2-7h0m1 0h0m1 0h0m5 4h0m3-2h0m1-2h0m2 6h0m3-6h0m1 6h0m1-1h0m3 1h0m1-3h0m2-3h0m25 7h0m0-3h0m4-4h0m7 1h0m12 2h0m21-2h0m5 5h0m30-4h0m8 5h0m27 0h0m-359 5h0m0 1h0m46-5h0m15 5h0m4 2h0m0-3h0m3 2h0m0-1h0m2-4h0m9 1h0m9 5h0m2-5h0m1 4h0m4-3h0m4 0h0m3 4h0m4-3h0m7 3h0m4-2h0m3-1h0m3-2h0m2 0h0m5-1h0m1 0h0m1 2h0m1-1h0m2-1h0m5 1h0m1 2h0m3-3h0m2 0h0m7 1h0m1 3h0m1-5h0m9 4h0m1 2h0m5 0h0m6 0h0m1-5h0m0 1h0m3 3h0m0 0h0m3-4h0m1 1h0m7 5h0m1-3h0m3-1h0m20 0h0m5 0h0m9 4h0m0-4h0m0-2h0m10 4h0m1-3h0m4 2h0m2-3h0m14 0h0m7-1h0m9 2h0m3 1h0m6 2h0m0 1h0m3-5h0m6 6h0m18-7h0m12 3h0m-290 9h0m3-1h0m10-2h0m18 4h0m4-2h0m2 4h0m2-5h0m3 1h0m5 2h0m2-3h0m2 1h0m3-1h0m3 0h0m2 3h0m1 1h0m5-4h0m4-1h0m2 6h0m2-7h0m0 7h0m4 0h0m3-5h0m12 5h0m2-4h0m5 1h0m11-1h0m4 2h0m7 0h0m2 1h0m1-1h0m3 0h0m1-2h0m4-3h0m3 4h0m2-3h0m0-1h0m4 4h0m4 0h0m24 0h0m5-3h0m1 4h0m3-2h0m1 2h0m12 2h0m6 0h0m2-7h0m6 2h0m0 1h0m9-1h0m6 4h0m3-1h0m3-3h0m1 4h0m8-2h0m5 2h0m9 1h0m2-2h0m6-5h0m4 5h0m13 0h0m-313 9h0m21-6h0m5 6h0m4 0h0m2-1h0m1-5h0m4 3h0m0-2h0m21 6h0m11-6h0m2 4h0m4 0h0m6-5h0m1 5h0m5-5h0m1 5h0m3-5h0m5 6h0m4-4h0m2 0h0m5 4h0m6-3h0m0 3h0m5-6h0m4 3h0m12-3h0m2 1h0m0 3h0m1 3h0m5-3h0m14-4h0m8 5h0m1 1h0m1-3h0m3 1h0m8 3h0m1-5h0m2 5h0m4-2h0m7-5h0m0 7h0m4-5h0m1 4h0m2 0h0m1-3h0m4 1h0m2-4h0m0 2h0m2 1h0m1 3h0m4 1h0m1-4h0m1 0h0m1 2h0m16 0h0m6 2h0m1-5h0m0 1h0m1 2h0m7-3h0m0 1h0m8-3h0m1 5h0m0-5h0m15 2h0m16 0h0m10 3h0m7-3h0m37 0h0m-360 11h0m29-3h0m18-2h0m16 1h0m1 3h0m7-2h0m9-2h0m2 4h0m9 0h0m5 1h0m1-3h0m3 5h0m0 0h0m4-5h0m20 0h0m4 3h0m8-5h0m8 5h0m3-3h0m1 0h0m6 0h0m2 4h0m8 0h0m4-3h0m2 0h0m2-3h0m1 5h0m12 2h0m5-2h0m8-5h0m8 2h0m1 5h0m0 0h0m1-2h0m3 0h0m7-3h0m1 0h0m2 0h0m4 0h0m0 3h0m4-5h0m3 0h0m4 7h0m2-6h0m0 0h0m7 5h0m2-3h0m3-2h0m4 5h0m1-5h0m1 1h0m15 4h0m3-1h0m1-5h0m1 5h0m7-3h0m5 4h0m7-1h0m12-5h0m10 0h0m1 7h0m8-2h0m6 1h0m33-4h0m-313 10h0m4-3h0m10 6h0m2-2h0m1 1h0m3-5h0m1 1h0m7 5h0m2 0h0m2-7h0m1 5h0m4-1h0m8-1h0m0 2h0m1 0h0m9 0h0m0-5h0m3 3h0m3 2h0m6-2h0m3 4h0m4-4h0m3 0h0m12-2h0m2 0h0m3 6h0m0-3h0m2-1h0m1 2h0m1 0h0m2-5h0m1 2h0m2 0h0m3 4h0m1 0h0m1-2h0m0 1h0m11-3h0m0 2h0m5-1h0m5-2h0m1 4h0m1 0h0m1 0h0m1-5h0m0 7h0m2-2h0m1-2h0m0 2h0m5-4h0m1 0h0m1 6h0m9-3h0m3-1h0m10 4h0m5 0h0m3-7h0m2 1h0m4 6h0m0-1h0m13-5h0m3 3h0m3 3h0m1 0h0m18-2h0m4 0h0m5-3h0m4 1h0m3 1h0m8-4h0m1 6h0m11-5h0m2 5h0m2-3h0m13-2h0m11 4h0m22-5h0m14 3h0m3-1h0m-367 10h0m0 3h0m20 0h0m9-4h0m21-3h0m8 6h0m21-4h0m6 4h0m2 0h0m0-4h0m1 5h0m8-6h0m0 1h0m5-2h0m4 7h0m1-5h0m4-2h0m11 1h0m5 6h0m4-4h0m1 1h0m1 0h0m1-3h0m4 5h0m1-5h0m4 0h0m1 2h0m1 3h0m3 0h0m1-4h0m0-1h0m3-1h0m2 6h0m0-3h0m1-3h0m1 2h0m0 2h0m1-3h0m0 6h0m1-4h0m1 1h0m1-2h0m4 4h0m2-4h0m1 2h0m2-1h0m2 1h0m1-4h0m2 1h0m2 2h0m1-2h0m5 1h0m1-1h0m2 4h0m1 0h0m0-4h0m2 6h0m2-1h0m1-3h0m0 2h0m2-2h0m8-1h0m2 5h0m0-4h0m1 3h0m0-3h0m0 4h0m3-1h0m1 0h0m0-3h0m1-3h0m0 5h0m1 2h0m5-5h0m11 4h0m2-4h0m8-1h0m6 3h0m2-2h0m3-1h0m3 4h0m2-1h0m1 2h0m4-2h0m2 1h0m8-4h0m3 1h0m3 5h0m4-2h0m1-4h0m5 2h0m3-1h0m3-1h0m1 2h0m0-2h0m16 5h0m4-4h0m6 5h0m12-5h0m34 0h0m-377 6h0m49 6h0m2-3h0m3 0h0m12-2h0m2 1h0m6-2h0m3 7h0m8-7h0m0 0h0m1 6h0m1 1h0m18 0h0m2 0h0m9-1h0m1-5h0m0 2h0m3-1h0m2 1h0m2-2h0m4 3h0m1 1h0m3-1h0m1-2h0m0 2h0m1-4h0m1 2h0m3-2h0m2 6h0m0-5h0m8 1h0m2 2h0m2-1h0m2-1h0m2 5h0m0-1h0m2-2h0m1 0h0m1-1h0m0-1h0m6 4h0m1 1h0m1-2h0m2-4h0m3 4h0m5-1h0m2 1h0m0 1h0m4-6h0m1 1h0m2 6h0m1-3h0m1-2h0m4 2h0m1-3h0m0 4h0m2 0h0m1 2h0m0-4h0m0-3h0m4 3h0m2 1h0m1 3h0m1-5h0m2 2h0m1 3h0m1-2h0m3 1h0m2-4h0m0 1h0m6 4h0m1-6h0m0 4h0m3 2h0m7-3h0m2-2h0m2 4h0m2-4h0m1 1h0m10 1h0m5-4h0m4 7h0m9-6h0m5 4h0m3-5h0m4 2h0m1 2h0m1 1h0m2-3h0m2 5h0m1 0h0m2-4h0m2-3h0m20 0h0m1 2h0m5 4h0m5-5h0m2 1h0m11 2h0m1 2h0m20-3h0m3 3h0m-344 2h0m24 6h0m1-5h0m12-1h0m2 7h0m3 0h0m10-3h0m8-2h0m1 5h0m6-7h0m2 4h0m8-2h0m0 5h0m13-5h0m2 3h0m2 0h0m3-1h0m1 0h0m1-2h0m1 2h0m1 0h0m1-1h0m10 1h0m6 1h0m0-4h0m5 6h0m2-5h0m4 3h0m5-3h0m0 1h0m7-3h0m1 4h0m1 2h0m0-2h0m1-1h0m1-1h0m2-1h0m4 1h0m3 2h0m2 3h0m6-2h0m3-1h0m4 0h0m1-3h0m0-1h0m3 2h0m2 2h0m5-2h0m6 3h0m1 1h0m2-3h0m3 3h0m1 0h0m0 0h0m1-4h0m0-2h0m2 7h0m0-6h0m0 4h0m1-5h0m1 7h0m1-6h0m1 5h0m0-5h0m1 4h0m0 2h0m6-6h0m2 0h0m1 1h0m2 1h0m0 3h0m1 1h0m3 0h0m2-1h0m10 1h0m0-1h0m1-2h0m1-4h0m2 4h0m2 2h0m1 1h0m0-7h0m0 7h0m7 0h0m7-4h0m3 4h0m5-1h0m6-2h0m1-1h0m5 1h0m8-2h0m0 5h0m4 0h0m3-4h0m7 3h0m17-3h0m11 3h0m0-2h0m4-4h0m2 2h0m13 2h0m6 0h0m15 2h0m15-2h0m-373 8h0m17 3h0m1-3h0m22-2h0m2-2h0m2 4h0m2-3h0m7 0h0m8 3h0m6 0h0m12-1h0m2-2h0m1 6h0m2-2h0m11-1h0m2-1h0m3 4h0m1-1h0m5-6h0m7 6h0m0 1h0m7-6h0m5-1h0m4 1h0m5 2h0m2 1h0m2-3h0m4 4h0m2 1h0m1 0h0m5-6h0m2 3h0m1 3h0m6-6h0m2 1h0m2-1h0m3 2h0m0 0h0m3 5h0m4-1h0m1-3h0m4 0h0m0 4h0m0 0h0m1-3h0m2 1h0m0-3h0m2-1h0m0 3h0m1 2h0m0 1h0m3-7h0m0 4h0m5-2h0m0 5h0m1-6h0m2 6h0m9-3h0m1 0h0m2 3h0m1-3h0m0-2h0m1 1h0m1-1h0m1 1h0m5-1h0m2 3h0m2 2h0m8-1h0m1-1h0m9 2h0m2-2h0m0-4h0m4-1h0m5 7h0m3-3h0m3 0h0m4 2h0m2 0h0m1-6h0m2 1h0m0 4h0m0-2h0m10 1h0m4-4h0m4 5h0m2-4h0m1 3h0m10 2h0m3 0h0m2 0h0m2-2h0m65-3h0m-385 8h0m8 0h0m9 5h0m6-6h0m8 7h0m21-2h0m23 1h0m3-3h0m6-1h0m9-2h0m0 7h0m7-5h0m1-2h0m0 4h0m4-4h0m1 0h0m1 5h0m3 2h0m5-5h0m8 3h0m3-5h0m1 7h0m4-2h0m0-3h0m1-2h0m1 6h0m5-3h0m0-1h0m1 2h0m0 2h0m1 1h0m3-5h0m1-2h0m2 7h0m4 0h0m2-5h0m2-1h0m1-1h0m2 3h0m0 0h0m6 4h0m2 0h0m5-4h0m1 2h0m3 1h0m0 1h0m2-4h0m5-1h0m2-1h0m2 3h0m2 0h0m1 2h0m1-5h0m1 3h0m1 0h0m1-2h0m1 2h0m2-2h0m1 0h0m3 5h0m11-6h0m2 4h0m10-4h0m0 6h0m0-6h0m1 3h0m0 2h0m1-5h0m0 2h0m0 1h0m1-2h0m0-1h0m0 3h0m0 1h0m3-1h0m5 0h0m2 1h0m10-3h0m4-1h0m1 2h0m1-3h0m7 1h0m0 6h0m7 0h0m2 0h0m0-3h0m3-2h0m1 3h0m1-1h0m2-4h0m14 5h0m2-5h0m1 3h0m3 2h0m19-1h0m6 1h0m1-2h0m10-1h0m7 3h0m18-4h0m22 1h0m20 0h0m-367 11h0m34 2h0m2 0h0m7-1h0m4-2h0m6-2h0m13 3h0m3-1h0m2-2h0m7-2h0m6 3h0m4 1h0m1 1h0m6-2h0m10-1h0m4-1h0m0 1h0m1 5h0m2-2h0m5-1h0m5-3h0m2 5h0m4 0h0m1 1h0m3-4h0m2 0h0m0-3h0m1 5h0m2 1h0m2 1h0m3-7h0m0 4h0m1-1h0m5 4h0m0-5h0m7-2h0m2 3h0m2 3h0m0-6h0m3 3h0m3 2h0m1-4h0m3 4h0m2-2h0m0 4h0m0-1h0m1 1h0m4-4h0m5-2h0m2 1h0m0 0h0m1-2h0m2 4h0m1-4h0m1 5h0m6-1h0m1-3h0m2 2h0m1-2h0m4-1h0m0 4h0m6 0h0m2-1h0m0-1h0m0-1h0m2 0h0m2 5h0m1-4h0m2 0h0m1 2h0m0-4h0m1 1h0m9 2h0m5 3h0m0-6h0m0 0h0m4 7h0m9-5h0m0-2h0m1 6h0m0 1h0m4-3h0m3-1h0m2 4h0m1-4h0m3 2h0m2 2h0m1-1h0m1-1h0m3 0h0m13 0h0m3-3h0m0-2h0m4 1h0m1 4h0m8-4h0m3 0h0m0 0h0m5 1h0m9 3h0m9-5h0m5 3h0m34 4h0m-332 8h0m0 0h0m20-5h0m19 0h0m0 2h0m2 0h0m3-1h0m1 0h0m1 3h0m2-3h0m4 3h0m4 1h0m1-1h0m1-1h0m6-2h0m1-2h0m1 0h0m3-1h0m1 3h0m0-3h0m0 4h0m2 1h0m2-1h0m1 0h0m1 1h0m16-4h0m1 2h0m5-3h0m4 4h0m0-1h0m1-3h0m4 0h0m6 3h0m1-2h0m2 2h0m1 1h0m1 1h0m1 2h0m1-1h0m1-3h0m2-3h0m2 2h0m3 3h0m4 0h0m1-2h0m3-3h0m2 5h0m1-5h0m1 1h0m7 0h0m7 0h0m0 0h0m1 3h0m2-2h0m0 4h0m2-6h0m0 2h0m2 1h0m1-1h0m5-1h0m1 6h0m2-4h0m3 2h0m3 1h0m4 1h0m1-3h0m0-4h0m1 6h0m0-1h0m2-3h0m1 2h0m6 3h0m10-3h0m1 0h0m4-2h0m4-2h0m4 7h0m0-2h0m5-2h0m1 1h0m7-4h0m1 5h0m1-1h0m2-2h0m2 0h0m4 1h0m2 2h0m3-3h0m4 4h0m0-5h0m1-1h0m3 7h0m2-3h0m3 1h0m1-3h0m1 4h0m11-2h0m10 1h0m1 1h0m38-5h0m5-1h0m16 5h0m3-5h0m-363 12h0m3-1h0m11 0h0m14-3h0m6 0h0m0 7h0m0-5h0m10-2h0m1 5h0m7 0h0m3-3h0m2 2h0m9-3h0m1 1h0m22-1h0m0 1h0m0-2h0m2 6h0m2-6h0m1 2h0m2 0h0m2-1h0m1 2h0m8-2h0m1 6h0m0-4h0m6-3h0m4 3h0m1 2h0m4 2h0m1-2h0m5-5h0m2 3h0m2 1h0m3 3h0m0-7h0m1 1h0m2 4h0m1-4h0m2 5h0m0 0h0m1 1h0m3-2h0m1-2h0m2-1h0m1-2h0m1 1h0m5 6h0m0-3h0m0-3h0m0-1h0m2 0h0m1 7h0m1-2h0m4 0h0m0-4h0m1 2h0m4 3h0m3-1h0m1 0h0m2 1h0m0 1h0m1-4h0m1 1h0m0 0h0m1-4h0m1 7h0m0-5h0m0 1h0m3 0h0m0-1h0m2-2h0m0 2h0m0 1h0m1 2h0m5 1h0m0-2h0m1-4h0m1 7h0m5-7h0m3 3h0m0-1h0m0 5h0m3-2h0m1-1h0m1-3h0m1 3h0m0 3h0m2-4h0m1 2h0m10-4h0m2 5h0m0-6h0m2 0h0m2 2h0m1 1h0m7 1h0m1-2h0m5-1h0m18 2h0m1 0h0m0-1h0m15 0h0m18 2h0m2 1h0m16-5h0m7 4h0m14 1h0m20 2h0m-347 8h0m11-7h0m3 5h0m0-3h0m4 1h0m13-1h0m2-1h0m0 3h0m12 1h0m8-2h0m3-1h0m2 1h0m3 2h0m2-3h0m0-2h0m1 7h0m4-2h0m9-2h0m12 2h0m5-5h0m1 3h0m0-2h0m5 6h0m3-5h0m1-1h0m4 4h0m3-5h0m1 2h0m0 5h0m1-5h0m2 4h0m2 1h0m0 0h0m3-4h0m1-3h0m2 0h0m0 6h0m1 1h0m1-4h0m3-2h0m1 6h0m2-3h0m2-4h0m5 4h0m1-4h0m2 4h0m9 3h0m1-3h0m1 3h0m1-1h0m5-5h0m3-1h0m0 7h0m1-1h0m1-4h0m0 5h0m1-6h0m1 6h0m3-1h0m1 0h0m3-5h0m0-1h0m1 4h0m1 1h0m2-4h0m1-1h0m0 4h0m1 2h0m0 0h0m0 1h0m4-1h0m1-2h0m0 0h0m1 3h0m1 0h0m0-3h0m1-2h0m6 1h0m0-1h0m0 0h0m6-1h0m3-1h0m1 6h0m1-4h0m1 4h0m0 1h0m1-7h0m0 2h0m2 1h0m4-3h0m3 5h0m1-3h0m0 1h0m4 1h0m5 3h0m1-6h0m1 3h0m4 1h0m2-5h0m0 2h0m2-2h0m1 2h0m1-1h0m0 5h0m1-6h0m5 2h0m3 0h0m1 5h0m1-4h0m1 1h0m6 1h0m5-1h0m9 0h0m7 3h0m3-4h0m8 3h0m5 0h0m8-3h0m2 4h0m4-6h0m49 3h0m-372 10h0m9 0h0m23-1h0m7 2h0m0-3h0m12 1h0m1 2h0m4-1h0m8-5h0m2 6h0m1 0h0m2-5h0m5 5h0m0-4h0m3 4h0m20-4h0m0 2h0m3 2h0m1-1h0m2 0h0m0 1h0m1-1h0m0-1h0m2-1h0m1-3h0m3 2h0m11 1h0m14 0h0m0 2h0m0-1h0m1 1h0m2-1h0m1-5h0m9 0h0m1 2h0m0 3h0m0-3h0m4 2h0m6-1h0m1 2h0m2-3h0m1 3h0m2 1h0m1-6h0m0 4h0m4 0h0m1 1h0m0 0h0m1-5h0m0 6h0m2-4h0m1-1h0m0 1h0m0 2h0m0-4h0m2 2h0m4-1h0m1 5h0m0-1h0m1 1h0m1-5h0m0 5h0m1-1h0m2 0h0m0 2h0m4 0h0m0-2h0m2 2h0m4-3h0m2-2h0m0-2h0m3 6h0m2 1h0m1-6h0m3 4h0m1-3h0m1 1h0m1 1h0m0-4h0m3 4h0m3-3h0m5 2h0m4-1h0m5 3h0m0-5h0m6 3h0m1 1h0m3 0h0m1 3h0m4 0h0m0-3h0m2-1h0m0 3h0m1-2h0m0-2h0m1 0h0m1 5h0m2-3h0m0-2h0m5-2h0m0 7h0m1-7h0m4 7h0m2-7h0m12 5h0m3-3h0m1 2h0m0-3h0m4 6h0m1-2h0m6-4h0m2 2h0m3-1h0m2 1h0m1-1h0m2 3h0m6-2h0m6-2h0m1 6h0m0-2h0m3-4h0m2-1h0m11 6h0m23-4h0m-329 11h0m7-3h0m22 0h0m13-2h0m2 3h0m6 4h0m3-5h0m6 1h0m1 1h0m5-1h0m2 1h0m8 0h0m1-3h0m1 0h0m11 1h0m0 2h0m1-3h0m0 1h0m1 5h0m0-2h0m0 0h0m4-3h0m2 1h0m1 3h0m0-3h0m7 4h0m0-5h0m1 5h0m1 0h0m3-1h0m2-3h0m2-1h0m4 0h0m1-2h0m1 4h0m5-2h0m2 5h0m1-7h0m1 7h0m0-2h0m1-3h0m2 5h0m1-4h0m1 3h0m2-1h0m0 1h0m0 0h0m1-2h0m1-4h0m1 6h0m0-6h0m1 1h0m1 2h0m7-3h0m2 6h0m1-4h0m0 5h0m0-6h0m1 0h0m0-1h0m2 6h0m0 1h0m2-7h0m1 4h0m0 3h0m0-3h0m2 3h0m4-5h0m0 0h0m0 3h0m1-2h0m0 1h0m1-4h0m1 3h0m1 0h0m1 3h0m0-1h0m3-5h0m2 3h0m3-1h0m0 2h0m1-4h0m3 6h0m2-5h0m1 4h0m1 2h0m0-7h0m0 0h0m0 1h0m1-1h0m3 3h0m3 3h0m0 1h0m2-5h0m0-1h0m2-1h0m12 2h0m3 5h0m1-3h0m1 2h0m3-3h0m9 1h0m3 3h0m1-7h0m11 0h0m1 7h0m4-2h0m6-3h0m0-2h0m3 2h0m3-1h0m2 3h0m9 3h0m2-2h0m0-3h0m5 2h0m9 0h0m8-2h0m17 5h0m4-1h0m3-3h0m1-2h0m15-1h0m1 5h0m-381 7h0m30 2h0m20 0h0m4-2h0m2-2h0m4 4h0m2-6h0m3 2h0m11 0h0m7 5h0m1-4h0m12 3h0m5-6h0m3 7h0m3-4h0m1 4h0m2-2h0m1 0h0m6-1h0m2-4h0m3 6h0m4 0h0m6 0h0m1-5h0m5 4h0m2-5h0m3 5h0m0 2h0m4 0h0m0-6h0m0 3h0m0 1h0m1-1h0m4-2h0m1 3h0m1 0h0m1-1h0m0-1h0m8-1h0m3-1h0m2 5h0m1-2h0m0 0h0m0 3h0m1 0h0m0-4h0m1 3h0m0-3h0m5-1h0m1 2h0m1-2h0m1 1h0m2 4h0m0-1h0m1 1h0m0-6h0m1 5h0m2 1h0m1-4h0m0 2h0m1-4h0m0 6h0m4-5h0m0 3h0m2 0h0m3 0h0m1-1h0m1 3h0m2-5h0m1 1h0m0 3h0m3-5h0m2 1h0m0 1h0m4 1h0m0 3h0m3-2h0m4-2h0m1-2h0m1 3h0m1 3h0m2-1h0m0 1h0m2-2h0m2-5h0m1 7h0m0-3h0m2-2h0m2 1h0m2 4h0m4-7h0m0 7h0m1 0h0m1-5h0m4 5h0m0-6h0m1 3h0m1-2h0m1 2h0m2-3h0m1 1h0m1 0h0m5 4h0m6-5h0m1 1h0m7 3h0m0 2h0m5-3h0m5 3h0m2-5h0m1 4h0m3-5h0m4 2h0m6 0h0m3 3h0m0-4h0m0-1h0m4 6h0m1-6h0m1 2h0m7 1h0m10 3h0m1-1h0m3-3h0m19-2h0m11 1h0m29-2h0m12 6h0m5-4h0m-400 6h0m12 5h0m29-1h0m9 1h0m19-5h0m6 6h0m1-3h0m1 0h0m17 3h0m3-4h0m5 0h0m4-1h0m0 0h0m1 5h0m9-1h0m0-4h0m3 0h0m0 2h0m0 1h0m10-1h0m2 3h0m2-1h0m14 0h0m0-3h0m2 2h0m0-1h0m2 1h0m1 2h0m0-6h0m3 6h0m2-6h0m1 5h0m1-2h0m4 0h0m0 2h0m0 2h0m0-4h0m4-1h0m7 0h0m0-1h0m3 4h0m0-1h0m2-1h0m0 1h0m4 3h0m1-7h0m1 2h0m0 2h0m2 0h0m2-4h0m0 4h0m2-3h0m1-1h0m0 4h0m0-3h0m6 2h0m0-2h0m2-1h0m0 7h0m7 0h0m1-5h0m0-2h0m1 3h0m0-2h0m2 3h0m2-3h0m2 1h0m0 2h0m1 1h0m2-2h0m0-2h0m0 3h0m2 0h0m2 3h0m1-7h0m5 2h0m2-2h0m2 5h0m1-1h0m5-4h0m4 6h0m1 1h0m1-6h0m7 3h0m3-2h0m1-1h0m4 0h0m0 3h0m2 2h0m7-5h0m1 5h0m1-3h0m1 1h0m2 3h0m6-4h0m4 3h0m7-5h0m1 1h0m4-1h0m0-1h0m2 5h0m1-5h0m1 1h0m0 4h0m4-1h0m3-1h0m4 3h0m18-6h0m7 4h0m21 2h0m7-6h0m17 5h0m20-4h0m-355 11h0m17-2h0m4 3h0m7-4h0m6 5h0m4-6h0m0 1h0m6 0h0m0-1h0m2 6h0m2-2h0m0 2h0m2-3h0m1 3h0m4-3h0m3 4h0m4-6h0m10 1h0m2 1h0m8 3h0m3-1h0m4-3h0m2 2h0m6 1h0m4 1h0m1-2h0m0-2h0m7 2h0m1 0h0m3-4h0m4 5h0m2 0h0m2 2h0m0-7h0m2 6h0m1-4h0m1-2h0m1 2h0m0 3h0m2-5h0m0 4h0m1 3h0m4-2h0m4 2h0m0 0h0m3-6h0m0 5h0m4-6h0m1 6h0m1-1h0m1-1h0m2 2h0m1-2h0m2 3h0m1-3h0m0 1h0m3 0h0m0-1h0m1-4h0m2 0h0m1 7h0m1-4h0m1 3h0m1-3h0m1 4h0m0-3h0m0-4h0m1 2h0m0 2h0m2 2h0m4-5h0m4 6h0m2-4h0m1 4h0m6-6h0m0 5h0m1-6h0m1 3h0m3 2h0m0-4h0m1 2h0m1-1h0m4 5h0m1 0h0m2-2h0m1-3h0m2 5h0m2-4h0m4-3h0m7 1h0m1 2h0m1-2h0m0 2h0m6 0h0m2 3h0m2-4h0m1 2h0m1-4h0m1 6h0m2 0h0m6-3h0m5 1h0m12-2h0m9 4h0m1 0h0m8-5h0m3 4h0m5-1h0m17-2h0m1 0h0m3 1h0m1 4h0m4-5h0m-345 7h0m16-1h0m17 5h0m15 0h0m15-1h0m22 0h0m7 1h0m2-1h0m3-2h0m4 4h0m5-2h0m2 0h0m1-4h0m0 1h0m0 5h0m2-6h0m7 0h0m2 5h0m0 0h0m1 0h0m3 0h0m5-3h0m4 2h0m6-1h0m2 1h0m1-1h0m1 4h0m5-5h0m2-2h0m0 5h0m1-1h0m7 0h0m2 0h0m0-4h0m0 5h0m3 2h0m3-4h0m1 4h0m1 0h0m3 0h0m3-3h0m4 0h0m1-2h0m5 4h0m1-4h0m2-2h0m3 7h0m1-5h0m0 5h0m1-5h0m0-2h0m0 2h0m1 0h0m1 2h0m0-3h0m4 6h0m3-4h0m1 4h0m2-6h0m1 4h0m1-4h0m1-1h0m2 4h0m1 0h0m0 0h0m1-4h0m2 5h0m0 1h0m2 1h0m5-7h0m0 1h0m1-1h0m2 7h0m1-4h0m2 4h0m0-3h0m0-4h0m1 3h0m4-2h0m0-1h0m4 4h0m2-4h0m1 3h0m0 3h0m0-1h0m4-3h0m0 3h0m2-2h0m3 3h0m1 0h0m5-6h0m1 6h0m5-4h0m0 5h0m2-1h0m0 0h0m3 1h0m1-6h0m1 6h0m4-4h0m2-2h0m1 6h0m2 0h0m1-1h0m1-2h0m1 2h0m8-3h0m10 3h0m3 1h0m2-2h0m0 0h0m17-1h0m0-3h0m1 4h0m1-3h0m4-2h0m4 7h0m2-5h0m4 3h0m4 0h0m2 1h0m10-6h0m12 5h0m0-4h0m13-1h0m-366 14h0m7-6h0m28 4h0m17 0h0m20-2h0m2 2h0m6-2h0m0 1h0m9-2h0m0 4h0m1 1h0m0-5h0m1 5h0m4-1h0m0-1h0m3-4h0m7 5h0m3-1h0m0 2h0m2 1h0m7-6h0m2 2h0m2-3h0m3 7h0m1-1h0m3 0h0m1-2h0m6-2h0m1-2h0m6 5h0m2 0h0m3-5h0m1 7h0m4 0h0m0-6h0m1 0h0m3 0h0m0 3h0m1-2h0m1 1h0m0 0h0m5 2h0m0 2h0m2-7h0m1 3h0m5 3h0m7-5h0m2 5h0m3-6h0m1 3h0m0 3h0m4-1h0m1 1h0m0-2h0m0-4h0m0 2h0m1 2h0m8 0h0m2-1h0m1 0h0m3 0h0m3-1h0m1 2h0m1-3h0m0 4h0m1-4h0m4 4h0m0-4h0m2 4h0m0 1h0m0-5h0m4 4h0m1-1h0m0-2h0m2 4h0m0 1h0m2-1h0m1-2h0m4-1h0m1 2h0m2-3h0m2-1h0m2 0h0m1 1h0m0 0h0m5 1h0m4 4h0m0-4h0m3 3h0m3 0h0m2 1h0m0-6h0m3-1h0m1 4h0m5-4h0m7 4h0m5-2h0m4 0h0m4 4h0m7-3h0m5 2h0m1-4h0m10 4h0m17-3h0m10 3h0m3 1h0m2-2h0m3-4h0m9 1h0m35 3h0m-392 10h0m33-1h0m22 2h0m16-5h0m3 3h0m4 1h0m8-4h0m4 5h0m16-4h0m3 1h0m4-2h0m1 5h0m1 0h0m2-1h0m1-4h0m3 0h0m0 5h0m6-3h0m1-1h0m2 2h0m1 1h0m3-3h0m5 2h0m1 2h0m8 0h0m0-4h0m2 1h0m1-1h0m3 0h0m6-3h0m4 7h0m4-5h0m3-1h0m2 5h0m7-4h0m3 3h0m1 0h0m1-3h0m0 1h0m0 2h0m7 1h0m1-3h0m1-1h0m0-1h0m2 0h0m0 0h0m0 0h0m0 0h0m2 6h0m1-1h0m0-5h0m4-1h0m1 2h0m7 4h0m0 0h0m1 1h0m2 0h0m1-1h0m1 1h0m1-2h0m0 0h0m4-1h0m1-4h0m1 6h0m1-1h0m2-1h0m1 0h0m4-3h0m1 2h0m0 3h0m0-4h0m3-1h0m4 0h0m5 3h0m3 0h0m3-3h0m1 0h0m3 1h0m3 2h0m1-1h0m6 4h0m4-7h0m3 2h0m2 1h0m0-1h0m6 3h0m4-5h0m6 2h0m2 1h0m1 4h0m13-5h0m9 5h0m17-3h0m9-4h0m12 4h0m40-1h0m-376 8h0m41 1h0m6 2h0m3 1h0m8-2h0m2 1h0m3-6h0m1 4h0m0 0h0m3-2h0m1 1h0m5 1h0m13-1h0m1 4h0m5-6h0m6 5h0m1-2h0m5-4h0m3 5h0m1 2h0m1-2h0m2-1h0m5-2h0m0-2h0m1 7h0m1 0h0m3-1h0m0 1h0m2-6h0m0-1h0m4 4h0m3-3h0m5 1h0m1 3h0m3-5h0m0 1h0m6 4h0m7-5h0m1 7h0m0-5h0m2 1h0m1 3h0m1-5h0m0 1h0m7 2h0m0 2h0m1 0h0m2-3h0m0 3h0m2 0h0m1-2h0m3 0h0m4 3h0m1-3h0m1 2h0m6-2h0m4 1h0m7-3h0m6 0h0m2 3h0m0 0h0m1 2h0m8-4h0m1 3h0m2-4h0m3-1h0m2 1h0m1 5h0m1-4h0m4-3h0m3 1h0m10 6h0m4-5h0m1 4h0m0-3h0m0-3h0m1 5h0m1-4h0m5-1h0m8 1h0m8 4h0m1-2h0m4-1h0m3 4h0m2-6h0m24 0h0m4 5h0m9-2h0m1-2h0m14 2h0m14-1h0m26 1h0m-357 10h0m4-2h0m9-2h0m4 5h0m9-5h0m2 2h0m2 4h0m39 0h0m7-1h0m2 0h0m5 1h0m4-4h0m4 1h0m3-3h0m4 2h0m1 1h0m11 0h0m2-1h0m0-2h0m0 0h0m1 3h0m1 2h0m1-1h0m3 0h0m0-2h0m2 4h0m4-2h0m0-2h0m2 0h0m6-3h0m1 1h0m5 4h0m0 1h0m1-4h0m2-1h0m0 2h0m1 0h0m0 4h0m1-3h0m3-1h0m10 4h0m0-5h0m9 4h0m3 0h0m2-3h0m1-3h0m1 5h0m2-2h0m0 0h0m3 4h0m5-5h0m4 4h0m2-4h0m2 2h0m1 1h0m4 0h0m3-1h0m1 1h0m2 1h0m2-5h0m5 3h0m3-3h0m7 0h0m6 0h0m0 1h0m1-2h0m4 0h0m4 5h0m2-1h0m2 2h0m0-5h0m3 0h0m0 1h0m5 3h0m10-2h0m4 3h0m1-6h0m0 4h0m1 1h0m5-3h0m9-2h0m9 5h0m4-2h0m14-3h0m6 5h0m10-5h0m6 4h0m13 1h0m7-2h0m6 4h0m-341 4h0m7 4h0m27-2h0m3-1h0m4-3h0m7 6h0m6-1h0m10-1h0m6 1h0m1-4h0m1-2h0m5 0h0m1 2h0m1 3h0m2-3h0m1 1h0m0-2h0m0 4h0m0-4h0m1 5h0m0-2h0m6 2h0m1-4h0m2 4h0m4-6h0m1 4h0m5-4h0m4 6h0m1-5h0m2 1h0m1 5h0m7-7h0m3 5h0m0-5h0m2 7h0m0-3h0m4-4h0m0 1h0m1 3h0m2 1h0m1-1h0m1 1h0m3-5h0m7 6h0m3-3h0m8 3h0m2 1h0m2-6h0m8 1h0m0 2h0m0 1h0m2 0h0m1-3h0m5 3h0m2 1h0m0 0h0m0-6h0m5 4h0m2-4h0m4 5h0m2-5h0m1 3h0m0 1h0m0 1h0m3-3h0m0 0h0m3-2h0m1 6h0m0-2h0m2 0h0m4-3h0m1 2h0m3-3h0m0 2h0m2 4h0m3-4h0m0 5h0m14-7h0m3 6h0m2-1h0m10-3h0m0 0h0m6-1h0m2 1h0m8 2h0m4-1h0m16-1h0m6 3h0m9-1h0m15-3h0m0 2h0m32-3h0m4 3h0m7 0h0m-349 9h0m19 3h0m8-2h0m11-5h0m1 3h0m15-2h0m5 3h0m2 1h0m2-1h0m5-1h0m0 4h0m5-1h0m0-2h0m0 2h0m3 0h0m2-6h0m12 0h0m0 2h0m1 2h0m1 1h0m11 2h0m1-4h0m3 4h0m3-4h0m0-2h0m2 1h0m1 4h0m1 0h0m1-3h0m4-1h0m1 1h0m1-3h0m4 1h0m1 0h0m1 5h0m10-1h0m1-2h0m2-2h0m1 0h0m0 4h0m2-1h0m0 2h0m7 1h0m2-7h0m3 3h0m0 0h0m7 0h0m0 3h0m0-2h0m1-2h0m4 3h0m5-5h0m1 2h0m1-1h0m0 3h0m2 2h0m0-2h0m1 2h0m2-4h0m4-2h0m1 2h0m4 1h0m0 1h0m1 0h0m2 1h0m4-3h0m7 0h0m3 5h0m1-4h0m5-2h0m0 2h0m4-3h0m0 6h0m12-2h0m5-1h0m0 1h0m3-4h0m13 2h0m2 0h0m1-1h0m5 6h0m8-6h0m10 4h0m3-3h0m2-2h0m10 0h0m16 0h0m0 4h0m1-2h0m10 5h0m29-7h0m3 3h0m-338 11h0m3 0h0m21-4h0m6 0h0m5 3h0m4-1h0m0 2h0m1-4h0m0 2h0m11-4h0m4 1h0m4 2h0m9 4h0m3-4h0m2-2h0m10 6h0m5 0h0m4-1h0m1-5h0m1 5h0m0-1h0m0 2h0m5-6h0m4 0h0m8 5h0m0 0h0m8 1h0m3-5h0m1 2h0m0 3h0m2-2h0m4-3h0m1 3h0m2-2h0m5 4h0m2-4h0m4-3h0m0 3h0m7-2h0m7 5h0m1 1h0m6-3h0m8-1h0m1 1h0m1-1h0m0 2h0m2-4h0m0 5h0m1-1h0m4-5h0m2 1h0m1 3h0m3-1h0m4 4h0m1-4h0m1-2h0m4 3h0m2 1h0m12 1h0m3-1h0m1-4h0m7 2h0m15 2h0m11-2h0m18 2h0m0-5h0m17 5h0m2-3h0m7-1h0m22-1h0m-336 9h0m17 3h0m2 2h0m0 1h0m5-3h0m7 1h0m12-5h0m13 2h0m22-2h0m5 0h0m9 7h0m1-4h0m3 2h0m4-5h0m1 7h0m2-7h0m3 0h0m1 3h0m1 3h0m6 0h0m2-3h0m5 0h0m1 0h0m7-1h0m3 2h0m0 3h0m4-7h0m8 2h0m5-1h0m4 3h0m3-3h0m1 1h0m2 5h0m1-4h0m5-1h0m3 5h0m3-7h0m3 0h0m2 7h0m8-5h0m1 2h0m4-3h0m1 0h0m9 3h0m7 0h0m1 1h0m2 0h0m0-5h0m0 5h0m1-3h0m3 5h0m7-3h0m1-1h0m2-1h0m4 3h0m5 2h0m1-6h0m5 4h0m4 0h0m5-5h0m5 6h0m1-1h0m3-3h0m3 2h0m0-3h0m7 5h0m1-4h0m5-2h0m6 7h0m2-4h0m11-1h0m5-2h0m5 6h0m13-6h0m15 3h0m-330 8h0m17 2h0m11-1h0m12 1h0m19 1h0m2-3h0m6-3h0m1 5h0m9-3h0m4 2h0m0 3h0m3-6h0m8-1h0m2 6h0m20-6h0m22 1h0m4 5h0m1-6h0m1 6h0m3-2h0m3 0h0m1 3h0m5-6h0m2 5h0m6-4h0m7 3h0m7 0h0m1-3h0m1-2h0m2 5h0m7-3h0m1-2h0m9 2h0m2 1h0m0-3h0m2 5h0m6 0h0m2-4h0m9-1h0m1 0h0m8 0h0m1 6h0m4-6h0m6 7h0m0-7h0m4 1h0m1 6h0m4-5h0m1-2h0m4 1h0m15 2h0m3 1h0m2-4h0m3 4h0m2-1h0m5-3h0m24 1h0m98 1h0m-342 8h0m7 5h0m6-1h0m9-1h0m4-5h0m6 1h0m3 1h0m4 3h0m8 0h0m7 0h0m0-5h0m12 1h0m1 5h0m3-6h0m0 0h0m2 0h0m6 6h0m0-3h0m1 4h0m16-7h0m3 0h0m0 0h0m1 0h0m1 4h0m4 0h0m2 3h0m6-2h0m1 0h0m4-4h0m2 0h0m2-1h0m2 1h0m1-1h0m1 6h0m1 1h0m5-7h0m3 4h0m1 3h0m0-3h0m0 3h0m9-1h0m0-2h0m11-4h0m1 0h0m8 7h0m1-3h0m1 3h0m13-5h0m3 4h0m2-3h0m2 3h0m3-2h0m4 0h0m6 0h0m2-2h0m3 5h0m3-3h0m3 1h0m1-1h0m0 3h0m4-1h0m2-4h0m0-2h0m40 1h0m5 6h0m3-5h0m-319 7h0m60 6h0m7-5h0m10 5h0m16-7h0m7 5h0m7 1h0m2-6h0m1 6h0m10-5h0m4 6h0m9-7h0m2 2h0m2-2h0m4 4h0m3-4h0m2 4h0m3 0h0m5-3h0m1 5h0m0-2h0m2-3h0m1 6h0m0 0h0m7-7h0m3 1h0m1-1h0m2 3h0m6 0h0m4 3h0m1-4h0m2 0h0m14 3h0m4-2h0m1 1h0m3-2h0m3 2h0m5-1h0m20-3h0m6 2h0m5 0h0m9 3h0m0 0h0m1-5h0m9 5h0m11 1h0m9-2h0m18-2h0m22 3h0m-299 9h0m9-4h0m17 3h0m9-5h0m13 1h0m16 3h0m1-4h0m5 4h0m1-3h0m7-1h0m2 1h0m15-1h0m7 2h0m2 4h0m4-5h0m3 6h0m1-5h0m12 5h0m3-4h0m4 1h0m0 3h0m4 0h0m3-7h0m1 2h0m1 5h0m4-3h0m2 1h0m10-2h0m9-3h0m10 2h0m8 0h0m11 2h0m9-1h0m20 3h0m8 1h0m4-6h0m10 2h0m6 1h0m5-2h0m33 3h0m-308 3h0m16 3h0m16 2h0m34 1h0m2-4h0m1-1h0m2 6h0m3-7h0m11 6h0m1-2h0m4-2h0m2-2h0m2 3h0m0-2h0m6 1h0m6 2h0m1 2h0m5 1h0m3-5h0m9 1h0m16-3h0m1 0h0m1 6h0m18-3h0m5-1h0m6 4h0m3 0h0m10 1h0m3 0h0m6-2h0m12-4h0m3 5h0m21 0h0m17-3h0m2-1h0m0 3h0m-192 5h0m6-1h0m1 4h0m13-4h0m2 0h0m10 3h0m6-4h0m5 0h0m23 2h0m4 3h0m0 2h0m5-2h0m2-1h0m3-2h0m2-1h0m0 3h0m1-1h0m1 4h0m6 0h0m21-1h0m2-4h0m3 0h0m12 3h0m5-3h0m13-1h0m12 2h0m2-2h0m11 0h0m7-1h0m13 2h0m22-1h0m10 0h0m26 4h0m-257 9h0m71-2h0m2 1h0m4-5h0m44 1h0m17 2h0m8 4h0m18-2h0m23-3h0m12 3h0m6 2h0m38-4h0m-236 11h0m30-4h0m1 1h0m1-2h0m15-1h0m3 5h0m1-2h0m11 1h0m50 2h0m15 1h0m1-7h0m10 1h0m9 0h0m8 0h0m5 1h0m6 5h0m7 0h0m1-2h0m6-3h0m10-1h0m9 0h0m5 0h0m1 4h0m-220 6h0m50-3h0m9 5h0m31-1h0m13-2h0m6 2h0m13-1h0m0-2h0m24-1h0m5 5h0m2 1h0m3-6h0m5 3h0m12 0h0m19 0h0m3 3h0m-192 9h0m60 0h0m1-7h0m3 3h0m13 1h0m45-2h0m4-2h0m2 5h0m9 0h0m11-4h0m13 3h0m6 0h0m7 0h0m2-3h0m4 3h0m3 1h0m22 1h0m19-2h0m8 0h0m51 2h0m-248 7h0m40 1h0m56 1h0m3-2h0m10 0h0m11-1h0m6-3h0m10 3h0m3 0h0m10 3h0m38-1h0m9-5h0m28 4h0m-196 8h0m13-2h0m4 4h0m3-1h0m7 1h0m10-2h0m8-3h0m16 0h0m3 0h0m6 3h0m10-2h0m3-3h0m23 6h0m16-2h0m37-1h0m57 2h0m50 0h0m-292 10h0m84-5h0m9-2h0m1 7h0m19-1h0m4-1h0m0-5h0m10 6h0m30-6h0m83 4h0m-219 9h0m11-5h0m24 2h0m53 0h0m13 1h0m13 4h0m144-2h0m-258 3h0m44 3h0m4 4h0m11-4h0m52-2h0m1 13h0m16-6h0m-30 28h0m193-4h0m-139 19h0"/>
<path stroke="#4893ae" stroke-opacity="0.38" stroke-width="5.0" d="M834 383h0m175 2h0m-60 10h0m41-3h0m-197 9h0m53 1h0m82 5h0m2-3h0m69 1h0m24 2h0m40-4h0m-51 7h0m77 2h0m-168 6h0m7 5h0m21 0h0m3-3h0m25-1h0m17 2h0m43 2h0m86-1h0m-184 5h0m32 0h0m1-1h0m10 0h0m8-1h0m1 5h0m10 1h0m41 0h0m28-3h0m37 2h0m-221 6h0m34 2h0m41-1h0m17 0h0m9 1h0m6 1h0m3-6h0m1 4h0m11-4h0m7 2h0m10 0h0m22 1h0m20-4h0m18 5h0m-246 6h0m76 0h0m10-3h0m2 4h0m13-3h0m5 5h0m3 0h0m6-2h0m13 2h0m0-1h0m1 1h0m22-6h0m9 6h0m1-2h0m50 2h0m21-3h0m3 3h0m43-5h0m-207 12h0m15 2h0m26-6h0m3 0h0m5 0h0m4-1h0m7 7h0m7-4h0m14 3h0m5-5h0m7 2h0m8 2h0m12-3h0m1 4h0m10-4h0m18 5h0m9-3h0m0 3h0m15-3h0m2-4h0m5 3h0m3-1h0m4-2h0m5 5h0m-256 8h0m18 1h0m21-2h0m24 1h0m4-5h0m6 0h0m8 3h0m5-3h0m27 7h0m4-1h0m6 0h0m4-5h0m0 2h0m7 4h0m2-6h0m15 1h0m23 0h0m5 5h0m1 0h0m12 0h0m9-3h0m1 2h0m35-4h0m6-2h0m1 6h0m58-4h0m-249 11h0m2 0h0m28 1h0m1-5h0m3 3h0m0-1h0m3 0h0m10 0h0m5-1h0m1 4h0m0-2h0m8 1h0m12-1h0m0 3h0m7-3h0m8 2h0m22-6h0m8 0h0m6 3h0m1-3h0m5 3h0m14 4h0m28-1h0m3 1h0m5 0h0m1-7h0m0 2h0m3 3h0m9-2h0m-237 12h0m44-5h0m0 1h0m1-3h0m16 0h0m7 4h0m4 3h0m4-3h0m1 2h0m11 0h0m13-5h0m1 4h0m9-1h0m12 3h0m13-5h0m6 1h0m6-1h0m1-2h0m4 6h0m2-1h0m3-2h0m5-2h0m2 2h0m4 0h0m1-1h0m9 0h0m3 4h0m11-6h0m10 3h0m5-1h0m1-2h0m1 6h0m9 0h0m1-3h0m22-1h0m6 0h0m7 3h0m40 0h0m-333 9h0m0-1h0m15-1h0m21 3h0m4 0h0m3-1h0m4-3h0m10-3h0m2 7h0m10-1h0m6 1h0m6 0h0m23-5h0m26 0h0m3-2h0m1 1h0m1 4h0m12-1h0m3 1h0m2 0h0m3 1h0m2 0h0m0-3h0m6-2h0m4 5h0m3-2h0m6 1h0m11-4h0m1 4h0m11-4h0m2 3h0m4 3h0m1-1h0m14-2h0m4 0h0m4-4h0m3 0h0m2 7h0m4-3h0m1 3h0m9-7h0m0 3h0m3-2h0m4 6h0m2-5h0m4 0h0m4-1h0m2 3h0m0-1h0m13 0h0m3 1h0m5-4h0m7 5h0m11 0h0m23-2h0m28 0h0m-298 9h0m6 1h0m32-4h0m3 2h0m2 4h0m16-3h0m12 3h0m11-2h0m5 2h0m2-2h0m17 0h0m2-1h0m15 0h0m4-4h0m3 6h0m1-3h0m17 2h0m2-2h0m2 1h0m1 0h0m3 2h0m0-1h0m3-4h0m0 6h0m2-4h0m2 4h0m8-1h0m10-3h0m1-3h0m8 4h0m1-3h0m5 4h0m2 2h0m41-4h0m49-1h0m-316 12h0m14-6h0m17 3h0m3 0h0m3 1h0m17-4h0m1 2h0m1 1h0m4 4h0m6 0h0m9 0h0m1 0h0m0-1h0m8-5h0m1 3h0m3-4h0m1 0h0m6 2h0m3 1h0m2-3h0m0 7h0m7-3h0m5 2h0m1 0h0m17-6h0m6 6h0m1-5h0m0 2h0m2-3h0m8 4h0m1 2h0m1 0h0m1 1h0m0-4h0m9-1h0m0 0h0m6 1h0m12 2h0m1 1h0m7-2h0m1-2h0m6 3h0m8-2h0m1 1h0m3 3h0m2-6h0m6-1h0m6 2h0m3-1h0m6 0h0m4 6h0m4 0h0m21-5h0m9 4h0m34 0h0m2-5h0m11 5h0m24-2h0m44-1h0m-389 8h0m29-2h0m10 6h0m11-4h0m25 2h0m6-3h0m4-2h0m1 3h0m3-2h0m8-1h0m1 3h0m7 4h0m4-2h0m7-5h0m6 4h0m10-2h0m1-2h0m2 2h0m1 2h0m11 1h0m3-5h0m6 0h0m4 3h0m0-1h0m11 2h0m6-1h0m0 2h0m0 2h0m1-5h0m3 4h0m3-2h0m6-1h0m21-2h0m1 3h0m0 2h0m5 0h0m5-3h0m2-3h0m4 7h0m5-5h0m0 1h0m5 0h0m1 4h0m2-5h0m12-1h0m15 1h0m3 3h0m7 0h0m0-1h0m9-1h0m1 4h0m5-2h0m17 1h0m3-4h0m11-2h0m0 5h0m2-3h0m37 0h0m127 1h0m-496 9h0m5 1h0m48 2h0m7-5h0m4-1h0m3 2h0m7 4h0m7-2h0m7 2h0m9 0h0m4-4h0m8 0h0m4 2h0m13-5h0m15 4h0m4-1h0m1 2h0m2-4h0m18 3h0m0 3h0m6 0h0m5-1h0m3-3h0m0-1h0m3-2h0m7 4h0m3-3h0m1 5h0m0-6h0m8 2h0m5 4h0m1-6h0m0 6h0m2-1h0m5-2h0m6 3h0m4 0h0m1-4h0m2 1h0m3 3h0m1 0h0m3-6h0m0 2h0m4 1h0m15 3h0m1-4h0m23 5h0m3-1h0m5-6h0m14 6h0m9 1h0m8-6h0m8 5h0m13-5h0m-346 14h0m5-2h0m19-4h0m19 3h0m4 0h0m15-3h0m2 6h0m15-5h0m12-1h0m3-1h0m5 7h0m1-7h0m4 4h0m5-3h0m0 2h0m6 4h0m0-7h0m0 5h0m5-3h0m5 3h0m3 0h0m1-1h0m2 2h0m0-2h0m4 1h0m2-3h0m6 3h0m3-2h0m2 4h0m0-2h0m1-5h0m5 0h0m2 4h0m20 1h0m12 1h0m2 1h0m1-3h0m0-4h0m3 2h0m4 4h0m1-4h0m1 5h0m1 0h0m2-6h0m2 0h0m2 2h0m1 1h0m1 3h0m1-7h0m3 6h0m0-5h0m1 5h0m11-4h0m5 3h0m9-2h0m1-3h0m0 7h0m3-2h0m3-5h0m2 6h0m6-3h0m2 0h0m0 3h0m6-5h0m1 5h0m6-4h0m9 1h0m10-2h0m3 4h0m8-5h0m1 1h0m1 0h0m9 6h0m3-6h0m1 4h0m5 0h0m8-4h0m2-1h0m4 4h0m3-4h0m1 3h0m10-1h0m2 2h0m2 1h0m1 1h0m48-5h0m-354 12h0m0-3h0m17 5h0m5 0h0m9 0h0m2-4h0m5 1h0m0 3h0m3-1h0m14 1h0m5 0h0m7-1h0m2 1h0m2-3h0m3 1h0m1-5h0m14 2h0m0 0h0m1-2h0m10 3h0m0-3h0m3 6h0m1-6h0m1 0h0m3 3h0m4 2h0m3 2h0m2-7h0m2 5h0m8-1h0m1 3h0m1-1h0m1-4h0m9-1h0m4 6h0m1-2h0m0-2h0m1 4h0m5-6h0m2 3h0m3 3h0m4-7h0m2 0h0m7 5h0m0-4h0m2 4h0m2 1h0m4-4h0m0 3h0m7-1h0m2-3h0m4 0h0m2 4h0m2 2h0m2-7h0m5 5h0m0-5h0m9 0h0m2 1h0m1 6h0m8-3h0m3-4h0m6 1h0m17 4h0m0 2h0m22-6h0m4-1h0m2 3h0m11 3h0m6-3h0m4 3h0m2 0h0m4 0h0m6-3h0m10 2h0m7-1h0m-332 5h0m6 4h0m5-2h0m14 2h0m0-1h0m1-2h0m4-2h0m0 7h0m18-2h0m2 1h0m1-2h0m2-2h0m7 3h0m1-5h0m6 5h0m8 2h0m4 0h0m9-3h0m1 1h0m1-5h0m2 5h0m5-2h0m4 4h0m1-1h0m6-2h0m11 0h0m2-4h0m3 0h0m11 3h0m3-1h0m4-2h0m2 6h0m4 0h0m2-1h0m2-1h0m1-2h0m2 5h0m1-3h0m2 1h0m6-1h0m1 3h0m2-1h0m4-5h0m3 4h0m6-3h0m2 5h0m1-7h0m0 1h0m6 1h0m1-2h0m2 7h0m0-6h0m5 0h0m4-1h0m2 3h0m4 2h0m1 0h0m3-2h0m0-3h0m4 3h0m3-1h0m7 1h0m7 2h0m1-1h0m1 0h0m8-1h0m1 4h0m2-1h0m2 0h0m5-3h0m4 2h0m9-2h0m17-3h0m0 3h0m3 2h0m5-1h0m0 1h0m0 0h0m5-3h0m14-1h0m13 4h0m5-2h0m50 0h0m-402 8h0m13 2h0m31-2h0m2-2h0m7 3h0m3-3h0m11 5h0m9 0h0m1-1h0m5-4h0m4 1h0m3 5h0m0-2h0m5 0h0m20-5h0m2 3h0m5-2h0m0 1h0m2 1h0m1-2h0m1 3h0m2 0h0m1-2h0m17 0h0m2 0h0m0 0h0m1 1h0m2-1h0m2 3h0m5-1h0m1 1h0m0 0h0m7-2h0m2-1h0m2 4h0m0-6h0m5 1h0m6 3h0m2 1h0m1-2h0m1 3h0m4-2h0m7 3h0m3-7h0m8 1h0m2-1h0m2 0h0m3 4h0m2 2h0m5-3h0m3 4h0m2 0h0m5-6h0m0 5h0m5-3h0m1 3h0m11 0h0m5-2h0m0-2h0m7 2h0m14 2h0m1-1h0m0-3h0m7 3h0m12 2h0m1-5h0m2 2h0m5 1h0m9 0h0m24-2h0m2 1h0m-359 10h0m20 1h0m3-2h0m10 1h0m23-3h0m3 2h0m3 1h0m7-4h0m13 2h0m2 1h0m8-1h0m11-3h0m1 2h0m9 4h0m25-5h0m8 5h0m0 0h0m4-4h0m1 4h0m0-3h0m7-2h0m5-1h0m10 4h0m7 2h0m0-5h0m5 5h0m9-3h0m2 1h0m3 0h0m2-1h0m7-4h0m6 7h0m1-6h0m1 6h0m4-4h0m2-3h0m11 6h0m1-5h0m3 0h0m3 3h0m4-2h0m1 2h0m1-2h0m1-1h0m1 0h0m2 4h0m0-4h0m0 4h0m6 2h0m0 0h0m1-7h0m3 1h0m7-1h0m1 0h0m3 7h0m2-1h0m1-2h0m5-1h0m4 4h0m4-1h0m16 0h0m1-4h0m17 3h0m2 0h0m2 2h0m3-6h0m5 3h0m17-3h0m5 0h0m44 1h0m-396 10h0m51 0h0m6-4h0m3 5h0m12-3h0m1 1h0m7 3h0m1-3h0m6 4h0m9-2h0m1-4h0m3-1h0m4 5h0m3 0h0m14 1h0m4 0h0m2-5h0m2 0h0m10 0h0m0 4h0m4 0h0m6 2h0m7-4h0m0-1h0m1 1h0m5 2h0m2-1h0m1 0h0m3-4h0m3 4h0m0-3h0m8 1h0m16-1h0m0 6h0m14-6h0m0 6h0m2-3h0m3-3h0m1 4h0m1-3h0m1 3h0m1-3h0m18 4h0m5 0h0m1-5h0m1 4h0m2 0h0m13 2h0m11-5h0m2 0h0m2 2h0m4-3h0m6 1h0m23 2h0m4-1h0m5 2h0m14-1h0m8-4h0m0 1h0m3 4h0m22-3h0m23-2h0m38 0h0m10 3h0m-427 10h0m3-5h0m29 4h0m23-4h0m0 2h0m27 3h0m3-5h0m5 4h0m14 3h0m1-6h0m17 1h0m3-1h0m2-1h0m4 4h0m0 2h0m0-6h0m3 0h0m5 5h0m4 0h0m2-4h0m10 5h0m2-1h0m2-1h0m5 2h0m1-1h0m5-2h0m5 3h0m0-3h0m12 2h0m2-4h0m20-1h0m6 5h0m0-4h0m2 4h0m7-1h0m4-2h0m9-2h0m7 2h0m4-2h0m9 5h0m0 1h0m2 0h0m6 0h0m0 0h0m4-1h0m1-4h0m5 0h0m0 5h0m5 0h0m6-5h0m4 1h0m2-2h0m2 7h0m1-2h0m3-1h0m5 1h0m10-5h0m4 4h0m6 1h0m11-5h0m4 4h0m5-4h0m26 6h0m12 1h0m13-7h0m11 2h0m22 3h0m-452 10h0m19-2h0m22 2h0m2-6h0m9 3h0m24 2h0m4-2h0m1 0h0m4-4h0m13 1h0m5 0h0m0 0h0m1 4h0m7 2h0m2-1h0m15-1h0m1 1h0m10-1h0m4 1h0m33-4h0m10 2h0m1 3h0m3-3h0m1-4h0m8 4h0m6-2h0m5 2h0m14-1h0m1-3h0m7 3h0m3-2h0m10 2h0m0-2h0m14 5h0m11-2h0m9-4h0m3 0h0m0 4h0m5 2h0m3 0h0m0-5h0m2 1h0m0-2h0m5 2h0m4 0h0m5 3h0m0-1h0m8-4h0m4 0h0m1 5h0m3-5h0m1 3h0m3 4h0m0-1h0m9-5h0m3 4h0m7 0h0m5-5h0m24 5h0m8-5h0m6 0h0m7 6h0m11-6h0m11 5h0m24-3h0m-384 7h0m12 6h0m2-7h0m2 3h0m7-2h0m10 2h0m1 1h0m6-3h0m2 6h0m27-7h0m8 4h0m2 0h0m6-3h0m3 0h0m1 3h0m6 0h0m2 2h0m9-3h0m1-3h0m12 4h0m12-3h0m6 4h0m6 2h0m14-7h0m9 6h0m3-2h0m5 2h0m5 1h0m1 0h0m6-1h0m0-2h0m0 2h0m2-2h0m4 1h0m5-2h0m3 1h0m6 1h0m1-1h0m20-1h0m3-1h0m6 1h0m7 3h0m8-6h0m0 5h0m11 0h0m4 2h0m16-2h0m0-1h0m3 1h0m12 2h0m4-6h0m10 3h0m3 3h0m11-4h0m39 2h0m-438 8h0m81-4h0m9 5h0m5-2h0m15-1h0m21-2h0m4 3h0m20 0h0m6 1h0m2 2h0m4-3h0m12-2h0m4-1h0m30 1h0m7 3h0m3 1h0m4-4h0m6 4h0m1-3h0m4-1h0m1-1h0m5 2h0m2 0h0m9 1h0m1-3h0m0-1h0m9 3h0m8 1h0m3 0h0m5-4h0m1 2h0m1 3h0m2-5h0m6 4h0m5 1h0m1-5h0m7 6h0m2 0h0m3 0h0m2-5h0m3 5h0m4-1h0m12-1h0m8-4h0m1 4h0m1 2h0m8-3h0m15-1h0m6 4h0m0 1h0m3-4h0m45 2h0m7 0h0m4-5h0m3 3h0m55 1h0m-420 11h0m2-1h0m18-2h0m12 1h0m1-2h0m1 2h0m1-1h0m7-4h0m6 2h0m14 5h0m0-7h0m5 2h0m2-1h0m7-1h0m4 6h0m2-3h0m11 2h0m3-5h0m1 2h0m4 2h0m3-2h0m20 3h0m2 2h0m0-2h0m16 2h0m6-7h0m0 6h0m1-3h0m9-1h0m2 1h0m1 4h0m0-6h0m5 1h0m2 2h0m6-2h0m2 2h0m2 2h0m2-1h0m14-5h0m3 7h0m1-4h0m2 2h0m2-4h0m6 5h0m7-3h0m1-1h0m1 3h0m0-2h0m3-3h0m14 5h0m4 1h0m1-3h0m3-2h0m1 3h0m2 1h0m7 0h0m0-4h0m6 1h0m10 2h0m6-1h0m14-2h0m26 2h0m18-2h0m9 1h0m3-1h0m65 2h0m39 0h0m-476 11h0m25-3h0m5-1h0m2 3h0m6 2h0m5-7h0m8 2h0m0-2h0m15 0h0m1 3h0m4 3h0m2 1h0m19-2h0m12-1h0m10-1h0m2 4h0m25-3h0m4 2h0m1-3h0m3-3h0m11 6h0m4-1h0m25 0h0m3-5h0m6 7h0m15-7h0m6 4h0m10 1h0m21-2h0m1-3h0m2 3h0m1 1h0m2-4h0m2 0h0m1 6h0m6-4h0m16-2h0m7 0h0m5 1h0m12-1h0m8 2h0m10-2h0m0 2h0m4 2h0m6-4h0m2 3h0m13-2h0m2 2h0m6 2h0m17-3h0m4 4h0m15 0h0m9 1h0m35-4h0m3 2h0m-465 10h0m64-5h0m5 4h0m5-3h0m0 3h0m12-3h0m7 1h0m0 0h0m11-4h0m4 3h0m15-2h0m1 4h0m5 1h0m5 0h0m2-6h0m11 5h0m10-4h0m9 0h0m23 0h0m31 5h0m1-6h0m0 6h0m2-1h0m13 2h0m3-3h0m1-4h0m1 3h0m9 0h0m15-2h0m3 0h0m2 2h0m5 0h0m0 0h0m4 1h0m11-3h0m1 0h0m2 1h0m1-2h0m4 6h0m3-4h0m17 2h0m2 2h0m1-6h0m5 2h0m4 0h0m3 2h0m0 0h0m2-3h0m7 2h0m14 1h0m13-1h0m9 3h0m3-6h0m0 4h0m29-1h0m0-2h0m12 3h0m17 0h0m20-3h0m31 4h0m-482 6h0m21-3h0m23 4h0m5-2h0m4 0h0m16 4h0m1 1h0m1-4h0m6 3h0m2-5h0m2 3h0m0 1h0m2 0h0m22-2h0m2-2h0m2 5h0m5-2h0m14-4h0m2 1h0m9-1h0m11 1h0m26 6h0m5-5h0m38 4h0m14-1h0m2 0h0m9 2h0m1-2h0m8 1h0m7 1h0m1-5h0m8-1h0m3 4h0m23 1h0m10 0h0m2-5h0m4 4h0m8 1h0m2-3h0m1-1h0m1-2h0m2 0h0m2 1h0m7 5h0m1-6h0m4 3h0m9-1h0m10 3h0m1-4h0m20-1h0m20 1h0m22 6h0m13-3h0m1-2h0m4-1h0m1 5h0m-417 5h0m7 3h0m41 0h0m4-2h0m10-3h0m24 5h0m1-2h0m4 1h0m26 1h0m16-2h0m5 1h0m30-5h0m16 0h0m8 5h0m16-2h0m1-1h0m8 4h0m4 0h0m22-4h0m3 3h0m2 1h0m23 1h0m1 0h0m5-3h0m2 2h0m8-5h0m4 5h0m3-3h0m2 4h0m9-3h0m2-3h0m3 3h0m3-3h0m3 6h0m4-4h0m3 0h0m25 3h0m4-4h0m4 5h0m5-3h0m7-2h0m6 2h0m32-4h0m5 0h0m-412 13h0m32-3h0m10 5h0m3-1h0m25-4h0m10 2h0m12-4h0m5 3h0m4 0h0m25-3h0m6 0h0m4 6h0m9-5h0m2 2h0m10 1h0m8 0h0m2 1h0m14-5h0m6 7h0m7 0h0m4-3h0m32-1h0m6 1h0m9 3h0m1-1h0m5 0h0m39-5h0m5 5h0m2-4h0m4 2h0m24 1h0m5 2h0m8-1h0m0-3h0m5 1h0m7-2h0m8 2h0m4 1h0m8 0h0m15-1h0m4 2h0m8 1h0m17-2h0m-456 10h0m18-3h0m17 2h0m24-2h0m21 0h0m23 0h0m8 2h0m3-6h0m0 2h0m48 5h0m6-3h0m22-1h0m50 4h0m14-4h0m12 0h0m12-1h0m6 5h0m14 0h0m3-3h0m1-2h0m12 0h0m7 4h0m4-5h0m10 0h0m4 0h0m11 2h0m0 0h0m3 3h0m7 0h0m2-6h0m4 5h0m15-2h0m88 1h0m-417 11h0m40-6h0m22 0h0m15 6h0m19-6h0m51 5h0m3 0h0m14-3h0m17-1h0m9 1h0m1 3h0m12 1h0m8-1h0m55-4h0m16 5h0m4-3h0m17 1h0m3-1h0m5-3h0m30 1h0m22 4h0m48-2h0m-426 7h0m7 1h0m23 3h0m16-5h0m13 4h0m3-2h0m2 2h0m21 0h0m16-6h0m3 5h0m6 1h0m22-2h0m12-2h0m48 1h0m84-3h0m8 4h0m20 2h0m11-2h0m22 3h0m0-7h0m24 2h0m10 1h0m16 3h0m16 1h0m32-5h0m-416 6h0m38 4h0m13-2h0m13 4h0m123-4h0m9-2h0m48 4h0m1 2h0m5 1h0m4-2h0m7-2h0m2 1h0m7 0h0m6 1h0m2-2h0m13 3h0m35-5h0m12 3h0m5 3h0m12-2h0m-351 8h0m33-3h0m25-2h0m33 5h0m10-5h0m117 0h0m14 5h0m30-1h0m2-3h0m24 3h0m21-3h0m26 0h0m2 5h0m11 0h0m17-5h0m20 2h0m8 1h0m10 3h0m5 0h0m5-2h0m16-3h0m-414 9h0m5 3h0m29-1h0m28-2h0m5 4h0m7 0h0m14-5h0m190 1h0m7 0h0m16-3h0m2 1h0m40 5h0m12-1h0m21-3h0m-355 8h0m52 4h0m200-6h0m1 2h0m56 1h0m7-1h0m12 4h0m15-3h0m35 4h0m4-4h0m-415 11h0m42 0h0m214-1h0m0-4h0m62 0h0m8 4h0m31-1h0m0-4h0m22 1h0m-349 11h0m3-1h0m1 1h0m45 2h0m178-1h0m24 0h0m75-4h0m6 0h0m-88 11h0m17 1h0m12-4h0m40 3h0m97-4h0m-170 13h0m59 4h0m52 4h0m9-3h0m-450 8h0m380 0h0"/>
<path stroke="#8dbcc6" stroke-opacity="0.5" stroke-width="5.0" d="M885 412h0m46 9h0m-26 12h0m44 6h0m62-6h0m50 2h0m-181 8h0m92 10h0m21-1h0m26 0h0m7 3h0m69-3h0m1-4h0m11 2h0m-57 9h0m47-2h0m-222 12h0m103 2h0m65-2h0m24 2h0m38-4h0m-253 9h0m64 1h0m50 0h0m77 2h0m13-1h0m36-5h0m15 4h0m8 2h0m-224 8h0m121 0h0m4-5h0m8 4h0m37-1h0m44-5h0m-231 14h0m69-1h0m77-1h0m165 3h0m-200 1h0m23 5h0m21-2h0m47 3h0m17-1h0m63 2h0m-341 3h0m166-2h0m48 1h0m114 5h0m-190 4h0m9 3h0m12-4h0m5 6h0m146 0h0m0 0h0m-209 3h0m17 0h0m30 4h0m52-1h0m6-4h0m8 1h0m18 0h0m2 5h0m12-1h0m22-4h0m5 5h0m94-5h0m-267 12h0m1-3h0m3 0h0m9-1h0m83 5h0m21 0h0m3-4h0m9 1h0m32 3h0m41-4h0m48 3h0m22-5h0m-293 7h0m19 1h0m3 5h0m20-6h0m65 7h0m5-1h0m8-4h0m4 4h0m20-4h0m3 4h0m14 1h0m43 0h0m41-4h0m-283 9h0m31-3h0m71 5h0m90 0h0m36 1h0m89-7h0m-366 14h0m46 1h0m19-3h0m4 3h0m9-1h0m2 0h0m3-1h0m29-3h0m14 5h0m1-2h0m0-1h0m96 1h0m22-5h0m-183 11h0m1 3h0m9-6h0m20 1h0m47 0h0m13 6h0m9-5h0m70 0h0m22 1h0m13-3h0m44 2h0m1-2h0m28 3h0m1-1h0m25-2h0m35 3h0m-381 5h0m100 2h0m59 3h0m17-5h0m2 3h0m17-1h0m1 0h0m40-2h0m5 3h0m58-3h0m8 7h0m79-7h0m-320 14h0m59 1h0m17-2h0m5-4h0m43 5h0m26 1h0m2-7h0m7 4h0m28-3h0m30-1h0m9 2h0m56-1h0m6 1h0m57 4h0m43-1h0m-448 7h0m14 2h0m117-4h0m20 4h0m4-6h0m36 2h0m37 3h0m3 1h0m23-6h0m1 2h0m16 4h0m3 1h0m27-5h0m17 4h0m119-5h0m-449 11h0m60-2h0m73 1h0m21 4h0m11 0h0m8-6h0m18 0h0m23 4h0m3 2h0m10-4h0m24-2h0m24 1h0m41 0h0m1-2h0m30 4h0m41-1h0m-353 10h0m27-5h0m17 6h0m6-5h0m30 0h0m2 4h0m56-1h0m2 3h0m12-6h0m31 2h0m24 0h0m48-1h0m5 1h0m44 0h0m10-2h0m41 1h0m2 2h0m-402 7h0m14 1h0m15 3h0m26-7h0m3 3h0m16-1h0m37 0h0m47 1h0m28 3h0m23 1h0m13-7h0m5 6h0m5 1h0m37-4h0m5-2h0m5-1h0m3 5h0m57 0h0m22-1h0m5-3h0m4 4h0m29-2h0m18-3h0m15 3h0m-445 11h0m153 1h0m83-6h0m11-1h0m12 4h0m2-1h0m26 0h0m32-1h0m27 5h0m38-4h0m-321 9h0m42-1h0m8 1h0m150-2h0m7 1h0m10 4h0m10-7h0m6 5h0m5 1h0m10-4h0m4 2h0m10 2h0m16-6h0m1 3h0m14 1h0m23 2h0m92 1h0m-419 7h0m43-1h0m29-1h0m76 2h0m45 0h0m9-5h0m8 1h0m20 2h0m8-4h0m45 1h0m11 4h0m6-4h0m3 5h0m8-1h0m2-2h0m23-1h0m-389 11h0m59-4h0m13 0h0m19 0h0m4 0h0m69 3h0m64 0h0m2 1h0m2-3h0m30-1h0m31 0h0m13 5h0m10-5h0m24 4h0m2-5h0m59 1h0m11 6h0m0 0h0m-309 7h0m61-1h0m44 2h0m35 0h0m44 0h0m11-3h0m17-3h0m17 4h0m5 2h0m11-3h0m8 3h0m29 0h0m3-7h0m29 1h0m71 2h0m15 0h0m-378 9h0m27-1h0m48 2h0m55-4h0m55 0h0m10 4h0m88 0h0m1-1h0m10 3h0m0 0h0m-423 6h0m100 2h0m103-7h0m62 2h0m13 5h0m48-7h0m10 7h0m35-1h0m11-2h0m3 3h0m30-5h0m6 2h0m3-4h0m-193 15h0m58-3h0m23-2h0m19 1h0m9 4h0m9-6h0m3 6h0m21-4h0m2 4h0m20-3h0m20 1h0m8-2h0m34 4h0m-283 4h0m40 2h0m30-3h0m45 2h0m34 2h0m0-5h0m14 5h0m29-3h0m22 4h0m2-1h0m10 1h0m2-6h0m3 6h0m3-4h0m2-1h0m15-2h0m16 4h0m15-3h0m19 6h0m-387 4h0m93-3h0m142 7h0m4-3h0m1-2h0m4 0h0m42-2h0m4 3h0m6 4h0m11 0h0m11 0h0m2-2h0m0-5h0m35 4h0m23-4h0m3 4h0m-163 9h0m87 2h0m3 0h0m40-5h0m6 0h0m-76 13h0m52-5h0m6 1h0m8 1h0m17 1h0m-149 7h0m52 0h0m27-3h0m2 3h0m49 0h0m45 1h0m45-2h0m-233 11h0m47-6h0m14 7h0m50 0h0m6-6h0m27 4h0m7-2h0m9 1h0m6 0h0m5 2h0m8-1h0m18-1h0m-131 6h0m15-1h0m8 4h0m20 0h0m8-4h0m4 0h0m8 1h0m15 4h0m55-6h0m-136 15h0m17-1h0m20 0h0m34 1h0m29-5h0m14 0h0m-121 10h0m9 3h0m43-1h0m29-4h0m10 1h0m5-1h0m57 1h0m-124 6h0m94 2h0m43 1h0m-142 4h0m31 1h0m9 5h0m2-4h0m4 0h0m6-2h0m34 6h0m26-1h0m-106 6h0m7-3h0m3 5h0m77 1h0m3-2h0m17-3h0m22 0h0m-169 12h0m34-1h0m33-4h0m27 6h0m4-1h0m16 1h0m35-1h0m-61 7h0m-6 10h0m46 0h0m-144 7h0m63 1h0m106-4h0m35 5h0m-145 6h0m17-3h0m46 0h0m-77 7h0m17 4h0m36-4h0m8 4h0m13-5h0m20 7h0m34 3h0m-111 12h0m50-6h0m-82 10h0m3 4h0m21 7h0m42 1h0m30-1h0m28-3h0m-148 12h0m103-3h0m55-3h0m-95 17h0m27 3h0m-30 5h0m100 0h0m-88 8h0m-40 10h0m78-2h0m-137 20h0m51 1h0m9 1h0m56-1h0m-44 4h0m13 4h0m15-4h0m12 3h0m15 8h0m-31 19h0m-77 20h0m99 8h0m17-4h0m31 0h0m-138 8h0m39 8h0"/>
<path stroke="#e6e2cf" stroke-opacity="0.6" stroke-width="5.0" d="M1046 412h0m-106 19h0m75-2h0m11-3h0m-139 10h0m32 0h0m62 0h0m-93 4h0m2 15h0m-30 8h0m152-4h0m9 2h0m-149 10h0m22 0h0m80-6h0m58 0h0m-91 9h0m20-1h0m21 0h0m1-1h0m8 7h0m1-2h0m79-2h0m-207 11h0m29 1h0m32-7h0m24 6h0m45 0h0m-87 8h0m89-2h0m26 3h0m9-4h0m71 3h0m61-2h0m-279 6h0m65 3h0m60 4h0m7 5h0m4-3h0m-94 12h0m75-7h0m49 4h0m8 1h0m10-2h0m23-2h0m27 0h0m-286 11h0m101 1h0m65 1h0m27-2h0m37-2h0m21 0h0m95 3h0m-265 9h0m25-2h0m1-1h0m63 3h0m32 1h0m4-5h0m28-2h0m-160 13h0m49 1h0m42-4h0m63 2h0m4-4h0m41 0h0m-212 8h0m22 7h0m54-2h0m21-4h0m25 5h0m1-1h0m2 0h0m16-1h0m16 1h0m211-2h0m-409 8h0m33-1h0m40 5h0m42 0h0m1-2h0m32 1h0m23-2h0m2-4h0m25 3h0m14 2h0m38-5h0m-239 10h0m31 5h0m38-3h0m10 2h0m1-5h0m10 6h0m4-2h0m8 2h0m2-2h0m8 2h0m8-2h0m6-4h0m8 6h0m5 0h0m23-1h0m1 1h0m35 0h0m3-6h0m72 6h0m33-1h0m-292 5h0m13 3h0m31-4h0m16 4h0m8-6h0m10 7h0m2-7h0m17 6h0m6 0h0m0-5h0m4 4h0m6 0h0m8-2h0m16-3h0m58 7h0m5-6h0m5 2h0m119 4h0m62-7h0m-389 8h0m20 7h0m28-6h0m10-1h0m23 3h0m2 4h0m4-1h0m1-1h0m7 2h0m7-6h0m8 3h0m5 0h0m9-2h0m7 5h0m11-4h0m24 2h0m8 0h0m18-2h0m1 2h0m9-2h0m3-1h0m16 0h0m17 2h0m55-3h0m-323 7h0m1 2h0m37 4h0m5-6h0m0 1h0m17 2h0m1 0h0m18 3h0m16-1h0m27-3h0m8 2h0m0 0h0m2-3h0m8 3h0m7-4h0m4 5h0m19 1h0m9-5h0m1 2h0m3-2h0m0 4h0m3-3h0m4-1h0m1-1h0m1 7h0m8-6h0m2 5h0m31-4h0m182-1h0m-373 11h0m26 2h0m17-2h0m8-1h0m17 3h0m13-3h0m11-3h0m5 1h0m2 3h0m1 0h0m3 1h0m7-5h0m11 7h0m33-5h0m1-2h0m8 7h0m2-2h0m8-3h0m1 3h0m3-2h0m26-3h0m10 4h0m11 0h0m2 2h0m59-3h0m12-1h0m3-1h0m4 5h0m-324 5h0m4 4h0m15-4h0m36-3h0m7 6h0m2 0h0m3-3h0m9-1h0m20 5h0m6-3h0m1 2h0m5-3h0m0-2h0m2 6h0m10 0h0m1-1h0m4 0h0m1-2h0m2 2h0m14 1h0m9-3h0m2 2h0m3-1h0m9-3h0m4-1h0m0 6h0m2-6h0m13 6h0m3-2h0m0 1h0m0-5h0m1-1h0m22 1h0m8 3h0m16 3h0m31-5h0m48-2h0m5 0h0m2 5h0m12-2h0m26-2h0m8 3h0m-359 5h0m0-1h0m40 3h0m21 3h0m4 1h0m11-6h0m34-1h0m7 1h0m5 5h0m13 0h0m6-3h0m6 2h0m9-1h0m1-3h0m9 4h0m6-2h0m8 3h0m28-4h0m3-1h0m23 0h0m22 6h0m2-2h0m1-1h0m3-2h0m9 1h0m6 2h0m16 2h0m5-1h0m10 0h0m3-4h0m86 2h0m-396 10h0m15-5h0m6 0h0m42 6h0m5-4h0m22 3h0m27-2h0m1 2h0m7-4h0m1 4h0m2-4h0m3 0h0m6 1h0m2 4h0m2-2h0m11-1h0m13-4h0m6 0h0m8 0h0m1 3h0m6 3h0m2-5h0m12 4h0m30-2h0m12-2h0m9 5h0m1-5h0m7 3h0m14 0h0m1 3h0m28-4h0m-283 6h0m16-1h0m13 3h0m11-2h0m4 5h0m5-5h0m3 2h0m19 3h0m8-2h0m1-3h0m25 5h0m19-6h0m12 1h0m10 4h0m3 0h0m1 0h0m18 0h0m16-3h0m4 2h0m3 0h0m20-3h0m5 2h0m2 1h0m3 0h0m4-3h0m4 4h0m6-1h0m8 3h0m2-3h0m11-2h0m10 1h0m4 0h0m22 3h0m1 0h0m20-2h0m12-3h0m-366 8h0m16 4h0m20 1h0m16 1h0m11-3h0m3-4h0m33 3h0m5 3h0m17-5h0m2 4h0m1 1h0m37 0h0m13 1h0m6-1h0m0-5h0m1 5h0m5 0h0m15-1h0m2-1h0m14-3h0m11 1h0m1 4h0m6 0h0m20-2h0m6 2h0m4-4h0m2 5h0m10-7h0m0 1h0m5 6h0m2-2h0m8-3h0m2 2h0m3 3h0m4-1h0m9-5h0m10 4h0m7-3h0m1 4h0m4-6h0m8 0h0m1 6h0m6-2h0m9 1h0m16 1h0m13 0h0m16-3h0m14 2h0m-353 10h0m2-6h0m34 4h0m7 2h0m4-1h0m1 0h0m14-6h0m12 3h0m6 0h0m32 0h0m20-1h0m4 2h0m9 0h0m3 2h0m0-4h0m2 1h0m2-3h0m6 4h0m0-3h0m11-1h0m19 6h0m0-1h0m10-3h0m18 0h0m1 2h0m1-2h0m15 3h0m29 2h0m1-5h0m7 1h0m0 3h0m12 1h0m15-6h0m10 0h0m2 4h0m34 2h0m2-3h0m-358 7h0m22-2h0m5 1h0m18 5h0m2 0h0m19-6h0m6 0h0m9-1h0m3 3h0m2-2h0m22 5h0m1-1h0m3 0h0m5 2h0m4-1h0m1-6h0m8 2h0m13 2h0m10 1h0m4-5h0m2 7h0m3-2h0m1-1h0m15-3h0m4-1h0m4 7h0m2-1h0m7 0h0m2-6h0m0 0h0m0 4h0m5 3h0m3-7h0m9 7h0m9-4h0m3-3h0m4 1h0m2 1h0m4-2h0m1 5h0m1-5h0m4 5h0m1-1h0m5 1h0m11-1h0m3 1h0m11-2h0m8-2h0m29 5h0m2-4h0m12 0h0m8 1h0m1-1h0m64 3h0m-516 5h0m140-1h0m32 2h0m8 3h0m4-4h0m1-1h0m9 2h0m7-1h0m4 3h0m31 0h0m4-4h0m3 2h0m2 1h0m3-2h0m2 2h0m0 0h0m3 1h0m6-2h0m8 4h0m10 0h0m15-1h0m23-6h0m0 5h0m1 2h0m17-3h0m1 3h0m1-5h0m7 5h0m3-4h0m4 2h0m6 1h0m6 0h0m3 0h0m6-4h0m14 5h0m18-4h0m3-2h0m5 4h0m1 2h0m11-6h0m0 4h0m13 2h0m1 0h0m5-3h0m2 0h0m11-2h0m1 4h0m1-4h0m11-1h0m18 1h0m8 3h0m26 2h0m-527 7h0m106-6h0m51 1h0m17 6h0m9-1h0m18 1h0m0-1h0m7-4h0m10 2h0m5 2h0m3-5h0m7 1h0m9 4h0m0-5h0m18 1h0m1 5h0m0-2h0m1 0h0m7-1h0m3 1h0m13-5h0m5 6h0m1-1h0m1-5h0m6 6h0m5-2h0m6 1h0m4 0h0m1-4h0m2 4h0m2-3h0m3 3h0m0 1h0m8-6h0m1 3h0m11 3h0m2-6h0m0 7h0m8-4h0m2-1h0m28 5h0m9-2h0m6-3h0m6 5h0m14-5h0m7 2h0m1-1h0m5 3h0m3-3h0m17 4h0m3-6h0m21 6h0m1-4h0m5-1h0m9 5h0m0-2h0m-291 5h0m26 0h0m27 4h0m12 1h0m7-5h0m1 5h0m10 0h0m16-3h0m3 3h0m21-5h0m14 4h0m11 0h0m8 0h0m15-1h0m1-3h0m5 1h0m7-2h0m2 3h0m3-3h0m29 4h0m13 0h0m12 0h0m3-4h0m36 6h0m21-6h0m-452 11h0m80-4h0m140 2h0m2-2h0m20 7h0m3-3h0m7-1h0m0 0h0m23-1h0m4 0h0m1 3h0m16-4h0m12 0h0m10 5h0m5-4h0m3-1h0m18 6h0m9-3h0m0 2h0m0-5h0m1 3h0m31 2h0m9-1h0m4 2h0m2-1h0m3-1h0m2-4h0m60 0h0m16 1h0m-346 7h0m7 5h0m25-4h0m81-2h0m2 6h0m10-4h0m5 1h0m4 0h0m10-3h0m2 5h0m0-1h0m12-2h0m4 4h0m7-6h0m2 6h0m10-1h0m2-3h0m4 0h0m3 3h0m3-4h0m3 5h0m21-2h0m1-2h0m0 4h0m2-1h0m6 2h0m4-4h0m8 2h0m7-2h0m3 4h0m4-1h0m16-2h0m0-2h0m2 4h0m2-6h0m13 1h0m29-1h0m15 4h0m-412 8h0m33 3h0m50-1h0m31-6h0m3 0h0m41 5h0m5 2h0m20-2h0m58 0h0m2-5h0m16 2h0m17-1h0m19 3h0m5 1h0m1 1h0m3-2h0m8-3h0m5 0h0m11 6h0m1-1h0m21 0h0m18-2h0m26 1h0m39-1h0m-418 10h0m93-4h0m9 5h0m13-5h0m26 0h0m2 4h0m2 0h0m1-4h0m30-2h0m34 7h0m6-2h0m10-5h0m18 2h0m1-2h0m0 2h0m6-1h0m0 5h0m3-3h0m7-3h0m21 7h0m2-4h0m9-2h0m5 3h0m10 2h0m4-3h0m1 1h0m22 2h0m3 0h0m15 1h0m3-4h0m6 3h0m14 1h0m16-6h0m12-1h0m-303 13h0m11-5h0m1 0h0m49 4h0m11 0h0m16 0h0m4 0h0m24-2h0m4 2h0m1 2h0m24-2h0m6 0h0m28-1h0m36-1h0m5 3h0m5 0h0m9-5h0m7 1h0m11 2h0m6-3h0m11 0h0m49 0h0m-439 15h0m95-1h0m48-3h0m3 0h0m5-3h0m81 5h0m10 1h0m21 0h0m13-5h0m9 4h0m1-2h0m6 2h0m10 2h0m1-6h0m1 5h0m4-5h0m2 6h0m10-2h0m11 2h0m21-3h0m51 3h0m5-6h0m6-1h0m36 7h0m-407 2h0m61 0h0m11 4h0m36-4h0m26 1h0m7 4h0m16-4h0m19 4h0m21-6h0m11 5h0m3-2h0m1 1h0m27-4h0m3 7h0m43-5h0m1 0h0m25 5h0m25-2h0m-330 8h0m71-1h0m80-1h0m31 0h0m16 0h0m14-3h0m26 0h0m7 1h0m14 1h0m7 1h0m14 1h0m11-4h0m29 3h0m3 3h0m11-1h0m32-1h0m-349 7h0m50 0h0m48 4h0m55-1h0m40-4h0m32 3h0m2-1h0m27-2h0m11 5h0m60-6h0m-221 10h0m76-2h0m50 4h0m3 2h0m3-5h0m11-1h0m20 4h0m0 2h0m0-2h0m25 1h0m-100 6h0m9 0h0m6 0h0m15-1h0m9 3h0m5-3h0m4 1h0m7 1h0m10 1h0m40 1h0m30-5h0m7 2h0m-122 5h0m72 2h0m10 1h0m68-4h0m-148 11h0m10 4h0m40-7h0m5 4h0m14-3h0m18 1h0m41 3h0m-157 5h0m25 5h0m14-5h0m8 5h0m4-1h0m10 0h0m29-4h0m12-1h0m32 3h0m7-4h0m-154 8h0m40 3h0m17 3h0m4-2h0m9 2h0m12-6h0m21 0h0m7 0h0m28 5h0m25 1h0m-173 9h0m48-1h0m13-5h0m14 1h0m12 3h0m8-1h0m0-4h0m5 3h0m-79 12h0m131-1h0m25 0h0m-171 8h0m32 0h0m27-1h0m1 0h0m46 2h0m4 0h0m1 0h0m16-7h0m30 6h0m7-2h0m-153 10h0m13-5h0m16 0h0m3 5h0m41 0h0m29-2h0m8 3h0m2 0h0m36-4h0m-167 8h0m40 0h0m3 0h0m13 4h0m2-1h0m34-2h0m2-4h0m14 1h0m3 3h0m54 0h0m-112 7h0m7 2h0m40-3h0m28 0h0m43-2h0m-174 12h0m47-1h0m54 4h0m1-2h0m53 2h0m9-5h0m1-2h0m38 5h0m-138 6h0m35-1h0m1-2h0m17 1h0m-43 10h0m14-3h0m27 4h0m-26 8h0m1 3h0m7-7h0m11 3h0m11 0h0m20 1h0m44 1h0m-104 7h0m16-1h0m18 0h0m10 2h0m3-3h0m6 10h0m29 1h0m-66 8h0m-52 4h0m-8 9h0m1-1h0m12 2h0m3-1h0m47 0h0m4 8h0m15 0h0m12 1h0m59 0h0m-140 5h0m38 15h0m3-1h0m7-3h0m57 15h0m12 3h0m-15 4h0m-131 13h0m124-1h0m-118 7h0m17 0h0m54 1h0m12 0h0m85 4h0m-108 7h0m-19 15h0m99 8h0m-59 3h0m-44 9h0"/>
<path stroke="#fbbd9c" stroke-opacity="0.55" stroke-width="5.2" d="M1013 550h0m24 0h0m11-4h0m20 0h0m-136 10h0m18-3h0m12 4h0m38-5h0m15 4h0m35 2h0m-189 6h0m54-2h0m25 5h0m15-2h0m22 2h0m10-3h0m48-1h0m6 3h0m128-3h0m83-3h0m-355 9h0m57 6h0m5-5h0m9 4h0m49-5h0m65 0h0m5-1h0m6 2h0m-194 11h0m42-2h0m7-3h0m2 5h0m17-5h0m10 0h0m11 7h0m69-6h0m-157 13h0m1 1h0m47-6h0m1 1h0m56 5h0m1-4h0m19-2h0m6 2h0m3-1h0m8 2h0m11-1h0m35-1h0m-210 8h0m32 5h0m9-7h0m3 2h0m19 4h0m7-1h0m1 2h0m5-1h0m19-2h0m4 0h0m6 3h0m27-1h0m2 1h0m6-4h0m4 2h0m17 0h0m21-5h0m51 7h0m44-4h0m53 4h0m29-4h0m-353 8h0m10 4h0m5-1h0m6-1h0m1-1h0m11 0h0m22 0h0m8-2h0m2 0h0m19 2h0m3 0h0m0 2h0m6-5h0m11 3h0m3-1h0m1-3h0m44 7h0m6-2h0m1 0h0m23-3h0m8-1h0m4 0h0m2 0h0m27 6h0m31-6h0m0 4h0m-262 7h0m53-3h0m3 1h0m8-2h0m3 0h0m2 7h0m26 0h0m21-2h0m12 0h0m7-4h0m6 6h0m2-5h0m11 2h0m10 3h0m7-7h0m9 2h0m9-1h0m10-1h0m5 0h0m9 1h0m3 2h0m11 0h0m6-1h0m8 5h0m12-6h0m19 6h0m21 0h0m39-1h0m-316 2h0m15 5h0m14-2h0m4 4h0m17-1h0m4-4h0m16 0h0m8 4h0m4 1h0m8-4h0m12 2h0m10-1h0m6 2h0m10-4h0m23 2h0m3 1h0m4 0h0m1-3h0m1-1h0m1 2h0m1 1h0m7-1h0m8 1h0m0-3h0m0 4h0m10 1h0m2 0h0m2-4h0m1-1h0m0 6h0m6-3h0m21 1h0m6 1h0m69-3h0m8-2h0m-282 13h0m2-1h0m20-4h0m0 3h0m6 1h0m18 2h0m18-5h0m9-2h0m1 0h0m21 7h0m4-7h0m9 0h0m12 1h0m22 5h0m4-6h0m14 5h0m18-1h0m12-2h0m12 2h0m2 1h0m1-1h0m37 0h0m20 0h0m23 2h0m8-3h0m29-2h0m11 5h0m10-4h0m9 5h0m-324 5h0m10 1h0m1 1h0m15 0h0m9 0h0m2-4h0m6 1h0m22-1h0m4 1h0m2 2h0m2-4h0m5 3h0m13-4h0m1 6h0m17-4h0m3 2h0m5 1h0m0-2h0m9-3h0m1 2h0m10-1h0m1 6h0m1 0h0m22-7h0m14 1h0m1 4h0m21-3h0m47 1h0m39-3h0m19 6h0m-348 7h0m13 1h0m4-3h0m14 2h0m34-1h0m0 1h0m41-3h0m15 4h0m6-6h0m19 1h0m8 0h0m2 2h0m0-3h0m10 2h0m8 0h0m18 2h0m10 0h0m0-4h0m5 7h0m2-1h0m8-4h0m6 4h0m22 0h0m9-3h0m7 2h0m27 2h0m20-1h0m8-1h0m39 2h0m18-2h0m21-2h0m-365 6h0m3 2h0m27 3h0m8 1h0m4-4h0m15 4h0m10-2h0m7-4h0m3-1h0m16 1h0m0 1h0m10 0h0m2 5h0m3-4h0m7-2h0m21 0h0m1 4h0m10 0h0m10-3h0m13 0h0m0 4h0m4-4h0m1 3h0m6 2h0m3-4h0m1 2h0m24 0h0m22-5h0m0 4h0m19-3h0m48 6h0m36-2h0m33-3h0m14 4h0m-376 4h0m28 0h0m26 3h0m6 1h0m25 0h0m2-1h0m10 0h0m3-4h0m6 6h0m38-3h0m2 3h0m13-1h0m0-2h0m9-4h0m10 2h0m1 0h0m8 2h0m3 2h0m2-2h0m10-2h0m2 2h0m6 0h0m1-1h0m8 0h0m5 2h0m3-4h0m9 3h0m6 3h0m3-7h0m9 2h0m-232 8h0m77 3h0m8 2h0m16-3h0m6 1h0m9-5h0m16 7h0m1-3h0m1 2h0m3-2h0m10-1h0m8 1h0m54 2h0m1-5h0m3 6h0m0-1h0m2-4h0m0 5h0m2-1h0m1-3h0m13-1h0m40-1h0m10 6h0m11-5h0m42-2h0m-282 11h0m36-3h0m2 2h0m62 0h0m2 5h0m5-4h0m13 2h0m18-3h0m19 0h0m5 5h0m23-5h0m5 5h0m17-5h0m13 5h0m28-5h0m17 3h0m12 0h0m2 2h0m-300 7h0m50-1h0m1 1h0m2-5h0m4 0h0m10 6h0m5-4h0m1 1h0m1-1h0m5-3h0m1 6h0m7-2h0m35-4h0m7 5h0m6-1h0m23 0h0m9 0h0m5 1h0m14 0h0m8 0h0m18 2h0m8-1h0m3-4h0m4-2h0m4 7h0m30-2h0m23 1h0m2-3h0m-339 11h0m24 1h0m47-6h0m20-1h0m32 1h0m18-1h0m5 4h0m8-1h0m3 0h0m25-2h0m19 6h0m10-2h0m33-4h0m8-1h0m17 5h0m1-4h0m8 2h0m1-3h0m3 1h0m3 5h0m21-4h0m39-1h0m-335 8h0m86 0h0m12-1h0m2 2h0m10-1h0m11 2h0m55-1h0m27 5h0m1-7h0m6 5h0m2 1h0m14 0h0m17-2h0m4 1h0m4-2h0m1 3h0m31-5h0m24 0h0m56 2h0m-376 6h0m57 4h0m20 1h0m21 0h0m23-4h0m15-1h0m24 2h0m16-3h0m27 6h0m9-4h0m15 1h0m5 1h0m11 1h0m12-5h0m2 7h0m14-2h0m7-1h0m6-3h0m4 2h0m14 2h0m26-3h0m21-2h0m-351 15h0m40-3h0m24-2h0m9 4h0m14-2h0m14-3h0m3 5h0m8-5h0m13 6h0m50-3h0m39-3h0m50 3h0m4-2h0m2 1h0m13-2h0m0 6h0m41-7h0m36 6h0m-286 5h0m16-2h0m15 4h0m82 1h0m34 0h0m12-3h0m3 3h0m26 1h0m27-5h0m19 2h0m-351 11h0m164-3h0m48-3h0m9 6h0m4 0h0m85-4h0m5-1h0m9 4h0m10-1h0m3 2h0m5-2h0m33 2h0m9-1h0m15 0h0m-308 3h0m99 1h0m51 2h0m1 1h0m17-1h0m18-3h0m12 6h0m8-5h0m63-1h0m17 4h0m-368 4h0m147-1h0m12 3h0m106-2h0m9-1h0m8 2h0m25-2h0m23 3h0m7-2h0m16 0h0m-251 8h0m108 6h0m78-2h0m1-2h0m13 2h0m53-5h0m18 5h0m-136 10h0m5-5h0m14 2h0m22 1h0m18-3h0m-153 9h0m138-3h0m7 1h0m20 1h0m23-1h0m8-1h0m8 7h0m12-4h0m1 2h0m5-2h0m-106 8h0m17 1h0m3 3h0m24-1h0m14-4h0m1 2h0m5 1h0m16-5h0m-88 9h0m9 1h0m38 5h0m6-2h0m21 0h0m23 1h0m1-5h0m8 1h0m24 2h0m-168 11h0m52-4h0m8 1h0m21 2h0m5-4h0m23 4h0m34-2h0m-133 10h0m17-4h0m16-2h0m23 3h0m8-3h0m12 3h0m5-1h0m9 5h0m5-5h0m8 4h0m2-5h0m39 2h0m-131 11h0m29-4h0m25-1h0m22 5h0m1-3h0m29 2h0m61-4h0m-210 9h0m48 3h0m1 1h0m8-6h0m3 3h0m43 4h0m32 0h0m5 0h0m6-7h0m2 1h0m2 1h0m9 5h0m9-1h0m-90 8h0m43-2h0m11 0h0m26-2h0m28-1h0m-112 7h0m19 4h0m4 1h0m20 0h0m12-3h0m57-2h0m-116 9h0m27 4h0m13-2h0m3 4h0m30-7h0m5 1h0m5-1h0m10 2h0m-122 13h0m29-7h0m9 3h0m14-3h0m34 7h0m-93 3h0m31 4h0m54-6h0m12 7h0m8-5h0m-101 10h0m3 0h0m3-2h0m8 3h0m31 0h0m23-5h0m9 7h0m17-1h0m1-4h0m62-2h0m-89 10h0m22-2h0m12 5h0m30 1h0m-50 4h0m1 4h0m-68 3h0m4 1h0m42 4h0m5-5h0m23 6h0m-77 8h0m24 0h0m29-2h0m24-2h0m5 4h0m50-5h0m0 2h0m14 2h0m-161 5h0m84 0h0m1 0h0m33-1h0m9-1h0m16 5h0m-126 6h0m24 0h0m3-1h0m0-2h0m29 1h0m11 2h0m12-3h0m8 6h0m7-3h0m2-4h0m2 7h0m4-5h0m60 0h0m-154 12h0m50-5h0m3 1h0m11 1h0m26-2h0m8 5h0m57-3h0m-159 6h0m77 5h0m-46 5h0m47-3h0m-47 14h0m20-5h0m13 2h0m4 2h0m6-3h0m30 3h0m-72 3h0m35 4h0m-45 4h0m45 3h0m7 3h0m-57 4h0m36 4h0m9-3h0m11 2h0m52 1h0m-120 6h0m68 3h0m-4 1h0m33 7h0m39-5h0m-220 13h0m91-1h0m36-4h0m26 11h0m27-2h0m-218 12h0m136-6h0m26 21h0m-83 8h0m77-4h0m29 0h0m-115 22h0m-76 15h0m149 0h0"/>
<path stroke="#fa8a68" stroke-opacity="0.5" stroke-width="5.4" d="M902 538h0m53 19h0m88 2h0m-108 5h0m151 0h0m-114 11h0m31 0h0m72-4h0m-261 11h0m91-1h0m54-1h0m3-1h0m35 3h0m41 1h0m36-2h0m-187 10h0m80-6h0m1 3h0m3 1h0m7 0h0m88 2h0m-231 8h0m30-5h0m46 2h0m94-3h0m5 6h0m10-1h0m28-2h0m18 2h0m47-3h0m64-3h0m-327 10h0m62 4h0m15-2h0m49 0h0m14 3h0m18-1h0m46-3h0m-111 5h0m81 1h0m15 0h0m82 6h0m44-3h0m-274 6h0m62-2h0m37 7h0m18-4h0m17 2h0m16 0h0m16-2h0m42 1h0m42-3h0m-229 13h0m18 0h0m41-2h0m78-2h0m6 2h0m13-1h0m16 2h0m2-2h0m10-1h0m0-2h0m4 1h0m15 6h0m2-5h0m63-1h0m-350 9h0m50 0h0m23 1h0m17 3h0m29-2h0m43-2h0m7-1h0m17 1h0m35 0h0m2 1h0m2-2h0m11 5h0m3 1h0m19-1h0m4-2h0m3 1h0m1-1h0m4 2h0m35-1h0m8 0h0m22 1h0m-354 7h0m39-1h0m88 1h0m74-4h0m9 0h0m25 0h0m9 5h0m5 1h0m57-2h0m2-1h0m46 2h0m-233 9h0m4-7h0m108 6h0m26-3h0m4-2h0m59 0h0m3 5h0m5 0h0m7-2h0m-259 9h0m11-2h0m20 1h0m80-3h0m9 4h0m13-1h0m10 3h0m9-1h0m13-1h0m24-4h0m9 5h0m64 1h0m6-2h0m-309 4h0m51 5h0m64 0h0m48-6h0m26 6h0m2-1h0m14-4h0m6 2h0m3 0h0m15 3h0m15-2h0m2 1h0m14 0h0m25 2h0m6-1h0m12-6h0m4 2h0m33 0h0m-211 6h0m20 1h0m29 4h0m22-4h0m3 1h0m9 2h0m4-2h0m3 0h0m20 4h0m13-3h0m25 0h0m19-1h0m106 3h0m68 2h0m-358 2h0m36 6h0m40-3h0m17-1h0m16-2h0m1 5h0m34 0h0m24 1h0m9-3h0m3-3h0m16 3h0m4-4h0m-232 8h0m26 1h0m8 4h0m12-2h0m15 2h0m3-2h0m5-2h0m6 6h0m14-2h0m2 0h0m2 0h0m2-5h0m4 5h0m20-2h0m16 2h0m3 1h0m13-2h0m21 0h0m6 0h0m45 1h0m1-1h0m4 0h0m6 0h0m0-1h0m6 1h0m98 1h0m21-1h0m-404 6h0m70 4h0m5-1h0m9-1h0m6 3h0m24-7h0m37 7h0m11-3h0m1 3h0m25-4h0m16 0h0m13 1h0m9 0h0m1 0h0m3-2h0m9 5h0m10-4h0m4 0h0m28 2h0m9-5h0m26 3h0m-273 6h0m5 2h0m26 2h0m0 2h0m13-3h0m9 0h0m2 2h0m7 1h0m2-5h0m5-1h0m2 5h0m6-6h0m12 1h0m2 1h0m1 3h0m3-3h0m9 0h0m2-2h0m2 0h0m5 1h0m5 3h0m1-1h0m11-3h0m27 3h0m9 0h0m0-1h0m12 1h0m6 2h0m24 0h0m6 2h0m3 0h0m1-7h0m0 5h0m12 2h0m2-5h0m36 0h0m-253 13h0m22-7h0m5 6h0m21-3h0m13-1h0m2-1h0m5 4h0m25-5h0m4 0h0m18 7h0m19-6h0m42 4h0m62-1h0m-218 9h0m41-1h0m2-1h0m9 1h0m5 1h0m17 2h0m5-2h0m3 0h0m1-1h0m16 2h0m8-2h0m1 2h0m3-5h0m25 5h0m3-4h0m9 3h0m15 2h0m21-7h0m3 2h0m20 1h0m16-3h0m20 1h0m6 2h0m-322 10h0m34 1h0m9 1h0m3-7h0m33 7h0m13-1h0m5 0h0m16 0h0m11 0h0m13-5h0m3-1h0m48 6h0m8 0h0m17-3h0m33-1h0m33-2h0m7 5h0m9-2h0m59 2h0m-318 9h0m62-2h0m27 1h0m10-3h0m17 1h0m3-3h0m4 1h0m13 4h0m2-2h0m5-3h0m2 0h0m3 4h0m2 0h0m17-1h0m6-1h0m14 1h0m2 1h0m15 1h0m18 0h0m2 0h0m7-1h0m43-3h0m0 4h0m0-1h0m10-1h0m2 3h0m-292 4h0m3 0h0m6 2h0m8 1h0m10-4h0m19 6h0m23-5h0m5 0h0m8-2h0m9 6h0m26-6h0m23 2h0m27 4h0m3-6h0m14 0h0m18 6h0m4-1h0m3-5h0m26 4h0m21-1h0m5 0h0m43 1h0m-357 8h0m65 1h0m30-2h0m21 4h0m23-4h0m7 0h0m6 4h0m9-2h0m3-1h0m5 1h0m4-3h0m32-1h0m6 3h0m10 1h0m21 1h0m23-2h0m49 3h0m-225 7h0m11 0h0m22-1h0m14-3h0m11 3h0m16 2h0m15-5h0m4 0h0m17 3h0m3-5h0m21 4h0m22 1h0m9 2h0m31-6h0m8 0h0m13 0h0m61 5h0m3-2h0m-291 5h0m19 0h0m18 5h0m8 0h0m16-3h0m15 4h0m75-4h0m1 1h0m32 3h0m1-4h0m24-3h0m49 0h0m-315 8h0m38 7h0m3 0h0m25-7h0m0 1h0m26 3h0m12 1h0m6 1h0m15-1h0m8-3h0m63 3h0m4-5h0m28 3h0m33-1h0m35 1h0m45 0h0m33 1h0m-316 7h0m14-3h0m17 0h0m7 6h0m20-2h0m13 2h0m10 1h0m3-5h0m14 4h0m28 0h0m49-5h0m29 2h0m7 1h0m-193 4h0m41 2h0m14-2h0m0 6h0m15 1h0m5-5h0m5-1h0m54 0h0m11 2h0m43-3h0m11 2h0m4-1h0m10 6h0m-268 4h0m27 0h0m27 0h0m1-2h0m3 1h0m11 1h0m18-1h0m20 1h0m22-2h0m12 0h0m9 5h0m6-6h0m19 1h0m10 2h0m4-2h0m3 6h0m102-1h0m-302 3h0m61 4h0m17-4h0m0 1h0m19 1h0m41 4h0m4-4h0m4-2h0m4 6h0m2-7h0m17 7h0m7 0h0m9-5h0m79 0h0m4 2h0m38 0h0m9-4h0m27 6h0m-287 2h0m9 0h0m37 5h0m46-2h0m1 0h0m1-1h0m7 4h0m17 0h0m49 1h0m18-1h0m15-5h0m2 1h0m4 3h0m10-4h0m17 1h0m-294 8h0m82 5h0m4-7h0m18 6h0m8 0h0m6 0h0m9 1h0m6-2h0m6-3h0m16-2h0m18 2h0m27 0h0m4 0h0m32 1h0m7 4h0m-247 6h0m38 2h0m15-3h0m7-2h0m41 4h0m37-4h0m5 3h0m32-2h0m27 1h0m10-2h0m15 5h0m5-7h0m10 0h0m2 5h0m1 2h0m18-7h0m21 4h0m52 2h0m-388 5h0m109-1h0m26 3h0m16 2h0m14-2h0m29-1h0m1 1h0m3 2h0m11-2h0m3-5h0m7 4h0m12 2h0m8-5h0m4-1h0m32 3h0m6 4h0m3-3h0m14 3h0m62-2h0m15-3h0m-282 11h0m12-4h0m21 0h0m16 1h0m18-1h0m7 2h0m35 2h0m27-3h0m6 1h0m2-2h0m22 5h0m0-3h0m28-3h0m92 0h0m3 6h0m-253 4h0m2 0h0m0 2h0m53 2h0m11-5h0m12 5h0m3-2h0m25 0h0m10 1h0m123-5h0m18 2h0m-306 13h0m11-1h0m40-3h0m23 2h0m12-3h0m11 2h0m28 0h0m13 1h0m4 0h0m4-5h0m29 1h0m9 6h0m97-6h0m6 0h0m12-1h0m-235 13h0m1-3h0m27 1h0m31-3h0m1 1h0m3 2h0m4-1h0m83 1h0m17-3h0m4 7h0m1-5h0m34 0h0m3 3h0m19-3h0m39-2h0m-335 8h0m2 6h0m27 1h0m30-7h0m25 5h0m15-4h0m3 6h0m0-3h0m2-4h0m16 1h0m1 0h0m8 6h0m5-3h0m5-2h0m4-2h0m1 5h0m21-3h0m22-2h0m127 4h0m-288 10h0m16-6h0m13 3h0m9 1h0m22 1h0m17-3h0m26-1h0m52 1h0m73 4h0m-304 3h0m35 4h0m22-5h0m22 5h0m34-1h0m3 1h0m0-3h0m7 4h0m13-1h0m22 1h0m7-3h0m1 2h0m23-5h0m25 1h0m33-1h0m19 6h0m14-3h0m6 0h0m6 2h0m-177 4h0m15 4h0m2 1h0m9-1h0m1-3h0m23-2h0m0 6h0m1-2h0m21-4h0m37 7h0m2-5h0m51-2h0m2 1h0m16 2h0m34 3h0m25-1h0m37 1h0m-342 2h0m50 2h0m20 0h0m38 1h0m51 3h0m3-2h0m3-4h0m28 7h0m0-6h0m53 0h0m7-1h0m20 1h0m-299 14h0m103-2h0m17-5h0m1 3h0m5 4h0m29-2h0m4 1h0m34-2h0m6-1h0m44 2h0m18-3h0m-230 6h0m23 5h0m39-1h0m2 0h0m30 3h0m64 0h0m1-1h0m23-5h0m1 0h0m12 4h0m10-2h0m55 2h0m1 2h0m9-1h0m36 0h0m-247 5h0m13-1h0m7-2h0m32 3h0m2 0h0m39-1h0m11 4h0m23-1h0m64-3h0m-223 10h0m90 3h0m3-5h0m88 3h0m9 2h0m28-7h0m-204 8h0m39 4h0m44 1h0m7-3h0m85 5h0m73-1h0m43 0h0m-306 2h0m11 3h0m11-2h0m1 1h0m93 2h0m43 3h0m-135 5h0m12-2h0m83 2h0m4-3h0m75 3h0m15-2h0m34 0h0m-198 12h0m14-6h0m76 1h0m0 0h0m30 4h0m21 0h0m-136 6h0m17 3h0m96-1h0m43-3h0m10 0h0m-209 6h0m152 6h0m100-4h0m-119 11h0m36 0h0m-194 10h0m28-1h0m15-4h0m8 3h0m10-5h0m129 1h0m-91 7h0m50 2h0m56 0h0m-56 13h0m19-7h0m-117 10h0m57 3h0m25 12h0m-101 7h0m141 27h0"/>
<path stroke="#f54b27" stroke-opacity="0.45" stroke-width="5.4" d="M1026 614h0m-26 8h0m18-6h0m-54 15h0m6-4h0m10-2h0m47 4h0m10-5h0m26 2h0m32-2h0m21 4h0m-154 11h0m36-5h0m37 2h0m25-3h0m16 5h0m-132 6h0m41-2h0m15 5h0m5-5h0m25-2h0m18 7h0m20-6h0m49 0h0m21 2h0m37 3h0m-247 7h0m21-4h0m10 4h0m38 2h0m18-5h0m2-1h0m4 4h0m2 1h0m26-3h0m2 3h0m5 1h0m13-5h0m11 4h0m10-4h0m0 2h0m17-2h0m1 2h0m4-2h0m1-1h0m18 6h0m3-5h0m22-2h0m61 2h0m-246 7h0m0 4h0m8-4h0m2-1h0m22 1h0m2-1h0m15 3h0m6 2h0m9 0h0m7 2h0m2-4h0m10 1h0m2 3h0m0-7h0m11 1h0m3 6h0m3-2h0m1-3h0m14 3h0m15-1h0m28 1h0m-209 9h0m32 0h0m0-6h0m9 6h0m9-6h0m22 4h0m9 3h0m15-2h0m6-1h0m8-4h0m2 6h0m29-2h0m4 1h0m10-5h0m14 4h0m3-2h0m2 2h0m8 3h0m3-2h0m3-5h0m0 5h0m22 1h0m4-5h0m38 3h0m3-3h0m-272 10h0m16 4h0m7 0h0m5 0h0m19-3h0m2-3h0m21 4h0m11-1h0m17 3h0m9-6h0m5 4h0m1 1h0m1 0h0m8-1h0m1-1h0m4-1h0m11-3h0m3 0h0m3 0h0m2 4h0m7 2h0m7-2h0m18 2h0m20-6h0m2 6h0m1-6h0m30 2h0m9 0h0m81-1h0m-374 11h0m55 0h0m11-1h0m20 3h0m0 0h0m18 0h0m4-3h0m5 0h0m25 3h0m13-2h0m4 3h0m7-6h0m0 6h0m2 0h0m11-2h0m1 1h0m1-2h0m1 1h0m2-3h0m2-1h0m12 2h0m2-2h0m2 0h0m2 1h0m5 2h0m3 2h0m7 0h0m1-4h0m6 1h0m20 3h0m5-1h0m0-1h0m1-2h0m5 0h0m16 3h0m12-5h0m7 4h0m14 1h0m7-2h0m2 1h0m7 2h0m1-6h0m42 5h0m59-5h0m-366 13h0m5 2h0m4-5h0m5 4h0m12-4h0m15 4h0m6-5h0m8 2h0m2 4h0m4-6h0m4 5h0m9 1h0m2-3h0m3 1h0m2-1h0m16-1h0m11 4h0m2-2h0m4-4h0m1 6h0m11-4h0m0 0h0m7-3h0m3 7h0m1 0h0m4-5h0m4 1h0m1-3h0m2 3h0m9 0h0m2-1h0m3 3h0m1-4h0m8 3h0m11 3h0m1-2h0m8-2h0m7-1h0m3-1h0m0 0h0m1 3h0m8 1h0m1 2h0m4 0h0m7-7h0m13 0h0m30 4h0m28-1h0m1 3h0m22 1h0m-286 1h0m28 7h0m3-3h0m1-3h0m12 0h0m4 3h0m1-1h0m1 3h0m9-1h0m7-5h0m3 1h0m9 5h0m4-6h0m2 6h0m0-6h0m4 7h0m2 0h0m5-1h0m13 0h0m12-1h0m1 1h0m2-2h0m4 1h0m3 2h0m4-2h0m5-4h0m10 6h0m7-2h0m2-3h0m2-1h0m3 0h0m8-1h0m1 3h0m5 4h0m4-2h0m8-4h0m2 3h0m1-2h0m7 3h0m2 1h0m1-4h0m12 1h0m4-2h0m4 6h0m4-2h0m9 1h0m5 1h0m11-1h0m9 0h0m-277 8h0m4 0h0m5-4h0m3 4h0m2-5h0m3 5h0m2-5h0m14 6h0m3-7h0m2 4h0m0 3h0m0-4h0m2-2h0m1 4h0m0-4h0m3 2h0m5-3h0m1 5h0m3-1h0m7-2h0m1 4h0m0-6h0m4 3h0m2 1h0m3 3h0m3-3h0m1 2h0m3 0h0m1-2h0m1 2h0m2-4h0m0 2h0m1 3h0m0-5h0m1 1h0m3 0h0m0 1h0m2 0h0m5 0h0m7-4h0m0 7h0m0-6h0m3 1h0m6 1h0m5 0h0m2 4h0m2-2h0m5-2h0m4 2h0m4-3h0m2 0h0m1-1h0m9 1h0m3-2h0m0 3h0m10-2h0m1 1h0m3 1h0m4 0h0m0 4h0m1-1h0m7-3h0m0-3h0m1 0h0m3 6h0m1-2h0m2-1h0m3 1h0m13-1h0m2 0h0m5 2h0m3-2h0m7-2h0m6 3h0m3 2h0m1-6h0m2 4h0m27-4h0m7 2h0m10-1h0m34-1h0m-343 13h0m1 0h0m18-2h0m46-3h0m4 0h0m3 4h0m12-3h0m1 1h0m12-1h0m5 6h0m6-4h0m2-3h0m0 6h0m0 1h0m1-1h0m5-3h0m0 2h0m7-3h0m2 1h0m1 4h0m1-2h0m2-2h0m4 2h0m2-3h0m1 5h0m0-6h0m1 6h0m1 0h0m1-5h0m1 3h0m7-2h0m1-3h0m6 7h0m6-3h0m2 3h0m6-1h0m3-4h0m1-1h0m7 6h0m9-1h0m5-4h0m9 4h0m0-6h0m0 7h0m2-1h0m1 0h0m7-4h0m1 2h0m14-2h0m4 1h0m7 3h0m3 1h0m1-4h0m5-2h0m10 0h0m13 1h0m2 1h0m16 4h0m13 0h0m1-7h0m4 0h0m2 0h0m25 2h0m13-2h0m-334 9h0m14 6h0m22 0h0m1-6h0m2 5h0m4-6h0m2 2h0m16 4h0m26-6h0m3 3h0m0 4h0m1-2h0m11-4h0m7 6h0m8-3h0m5-1h0m6 0h0m0 0h0m0-1h0m1 4h0m1-2h0m0 1h0m2-5h0m0 0h0m4 1h0m3 6h0m10-7h0m1 0h0m2 1h0m2 3h0m1 3h0m5 0h0m0-7h0m2 5h0m2 1h0m1 0h0m1-5h0m1 3h0m0 1h0m1 1h0m0-6h0m6 3h0m3-1h0m4 3h0m4 2h0m7 0h0m1-3h0m1-3h0m5 5h0m1-5h0m11 5h0m4-3h0m5 3h0m1-2h0m0 0h0m1 3h0m3 0h0m4-3h0m2-1h0m3 4h0m1-4h0m2 0h0m1 2h0m2-2h0m2 0h0m10-3h0m1 3h0m4 3h0m6-3h0m8-2h0m10 5h0m19-5h0m5 4h0m17-4h0m-339 10h0m7 0h0m30-1h0m13-2h0m7 5h0m2-3h0m1-2h0m4 3h0m18 3h0m1 1h0m22-3h0m4 1h0m8-1h0m12 2h0m1-3h0m2-3h0m2 6h0m5 0h0m1-4h0m1 0h0m11 2h0m4 1h0m1-1h0m2-4h0m9 6h0m5-4h0m2 3h0m20-4h0m18-1h0m1 3h0m1-3h0m0 5h0m1-1h0m0-4h0m7 6h0m5-1h0m1 2h0m0-4h0m2 1h0m3-3h0m14 5h0m10-5h0m14 1h0m1 1h0m7 4h0m3-4h0m2 3h0m2-4h0m2 4h0m1-1h0m33 0h0m3 1h0m-313 6h0m22-2h0m13-1h0m9 5h0m9-2h0m0-2h0m9 3h0m2 0h0m15-2h0m4 2h0m1-4h0m4-1h0m14 6h0m4-6h0m1 0h0m2 3h0m0-3h0m2 1h0m4 0h0m2 5h0m2 1h0m15-1h0m16 1h0m2 0h0m1-2h0m0 0h0m6-5h0m2 7h0m1 0h0m0 0h0m1-1h0m8-6h0m1 2h0m1 4h0m6 1h0m0-7h0m7 5h0m1-1h0m1 0h0m3 2h0m1 1h0m6-3h0m3 2h0m1-3h0m3 4h0m4-2h0m2-1h0m7 1h0m8-1h0m2 1h0m5 0h0m15-5h0m8 5h0m5-2h0m10-3h0m3 4h0m15-3h0m9 4h0m23 0h0m-328 5h0m23 0h0m26 5h0m13-6h0m1 0h0m5 6h0m1-6h0m2-1h0m0 7h0m2-1h0m2-5h0m25 2h0m6-2h0m3 4h0m1 1h0m0-1h0m3-1h0m0 1h0m0 1h0m2 1h0m3-2h0m2 0h0m5 1h0m2-1h0m10-5h0m12 1h0m1 6h0m0-7h0m4 1h0m2 1h0m0 3h0m0-5h0m1 5h0m2-3h0m9 4h0m0 1h0m1-1h0m5-6h0m2 2h0m1 4h0m0-4h0m3 0h0m1 3h0m1 2h0m1-6h0m1 4h0m6-4h0m1 5h0m0-1h0m1-1h0m1-1h0m1 0h0m1 1h0m2 3h0m0 0h0m2-2h0m2-4h0m5 1h0m4 0h0m1 3h0m0-1h0m0-4h0m3 1h0m0 5h0m3-4h0m5 4h0m2-3h0m0 4h0m5-7h0m2 7h0m0-7h0m2 6h0m2 0h0m0-6h0m3 1h0m4 0h0m0 6h0m2-1h0m2 1h0m9-5h0m0 5h0m0 0h0m2-3h0m4-2h0m5 5h0m8-4h0m4 3h0m0-3h0m1 1h0m14-2h0m5-1h0m9 5h0m5 1h0m19-2h0m3-1h0m-360 5h0m59 2h0m3 4h0m3 0h0m12-3h0m9-3h0m0 4h0m0-4h0m4 6h0m0 0h0m3-1h0m4 1h0m1-6h0m5 6h0m1-5h0m4 5h0m1-6h0m8 5h0m7-2h0m2 1h0m0-1h0m11 2h0m2-6h0m2 3h0m7 2h0m1-2h0m1 0h0m1 4h0m4-1h0m2-2h0m3 2h0m1-3h0m0-1h0m1-1h0m5 3h0m11-2h0m2 3h0m1-3h0m1 0h0m6 2h0m8-4h0m0 6h0m2-4h0m0-1h0m5 6h0m0-1h0m0-5h0m1 6h0m5 0h0m3-1h0m2-6h0m3 2h0m1 3h0m0 2h0m5-3h0m2-1h0m4-2h0m2-1h0m4 1h0m4 5h0m1 1h0m1-1h0m8-4h0m9 2h0m2 1h0m8-5h0m1 2h0m2 4h0m3-6h0m3 7h0m6-2h0m2-3h0m19-1h0m3 0h0m8 3h0m2-2h0m1-2h0m10 0h0m21 7h0m-330 3h0m10-2h0m19 0h0m15 5h0m26-4h0m0 5h0m3-2h0m1 2h0m13-1h0m3-2h0m0-2h0m2 3h0m5-1h0m1 4h0m0-5h0m6 0h0m9-1h0m4 5h0m6-4h0m1 4h0m1-2h0m2 1h0m5 1h0m0-4h0m1-1h0m1 6h0m0-5h0m0 1h0m1 2h0m0 2h0m1 0h0m0 0h0m0-4h0m7 1h0m1-3h0m1 1h0m3 4h0m0 1h0m2-5h0m1-1h0m0 1h0m1 3h0m1-5h0m1 5h0m4 0h0m3-4h0m1 6h0m1-1h0m1-5h0m5 1h0m1 4h0m0-3h0m0 3h0m1-6h0m1 3h0m4 4h0m2-2h0m0-5h0m1 4h0m3-1h0m0-1h0m0-2h0m5 4h0m4-2h0m4-2h0m3 0h0m2 6h0m0-1h0m9-5h0m1 7h0m7-5h0m2 0h0m4 1h0m5 0h0m3 3h0m1-3h0m3-3h0m0 3h0m7 0h0m5-2h0m8 5h0m2-4h0m2 0h0m1 5h0m1 0h0m5-2h0m0-3h0m1-2h0m3 7h0m1 0h0m3-6h0m3-1h0m4 5h0m0 2h0m7-2h0m1 2h0m19-5h0m20 1h0m18 3h0m-330 9h0m4-4h0m18-2h0m4 1h0m5-1h0m1 2h0m2 4h0m12-2h0m6 0h0m0-4h0m0 3h0m2-2h0m3 1h0m2 2h0m3-2h0m0-2h0m1 5h0m1-1h0m7-5h0m2 5h0m1-1h0m14-1h0m7-3h0m5 3h0m9 0h0m2 3h0m0-2h0m0 1h0m0 0h0m2-4h0m2 5h0m0 0h0m1-5h0m0 3h0m1-3h0m2-1h0m0 7h0m3-6h0m2-1h0m2 1h0m3 4h0m0 0h0m3-3h0m0 1h0m4 4h0m0-2h0m0 0h0m1-4h0m1-1h0m2 3h0m3 4h0m2 0h0m2-7h0m4 1h0m3 1h0m3-2h0m1 7h0m3-5h0m1 3h0m3-3h0m1 2h0m0-1h0m1-2h0m4 4h0m1-2h0m2 4h0m4-6h0m0-1h0m2 7h0m2-3h0m1-3h0m0 3h0m4-2h0m1 4h0m0-2h0m1 1h0m4-3h0m1 2h0m2 1h0m0 2h0m1-4h0m3-2h0m2 1h0m6 0h0m4-1h0m2 0h0m4 5h0m14-5h0m0 0h0m2 6h0m1-2h0m9 0h0m1-2h0m1 0h0m1 0h0m5-1h0m5-2h0m19 4h0m10 1h0m6-4h0m-298 7h0m24 6h0m16-3h0m24 3h0m2-6h0m0 6h0m10-3h0m1 2h0m4-4h0m6 0h0m2 2h0m5 1h0m2 3h0m2-7h0m0 2h0m1 2h0m0 1h0m6-4h0m1 0h0m4 0h0m4 5h0m4-3h0m3-3h0m5 0h0m1 3h0m0 0h0m2 4h0m3-2h0m2-4h0m0 1h0m5 5h0m7-3h0m0 3h0m1-4h0m3 0h0m0-3h0m1 2h0m2 2h0m1 1h0m4-2h0m3 4h0m1-7h0m6 6h0m0-6h0m2 6h0m10-5h0m1 3h0m3-1h0m1 0h0m2 4h0m3-2h0m0 1h0m0-1h0m2 0h0m3 2h0m1-4h0m3 3h0m1-1h0m0-3h0m4 2h0m1 3h0m3-7h0m0 0h0m0 1h0m1-1h0m4 0h0m2 7h0m2-7h0m1 5h0m2-1h0m1-4h0m0 6h0m1-1h0m0-1h0m3 2h0m1-5h0m0 1h0m10-1h0m3 0h0m8 0h0m6 2h0m1-2h0m1 4h0m2-2h0m7 4h0m2-4h0m20 1h0m3-4h0m3 4h0m6-1h0m25 4h0m-308 6h0m3 2h0m11-3h0m1 1h0m2 1h0m1-4h0m3 2h0m0-4h0m13 5h0m10-1h0m5 2h0m1 1h0m1-5h0m7 1h0m1-1h0m3 3h0m1-2h0m0 3h0m2-1h0m3-5h0m1 3h0m2 4h0m1-2h0m0 1h0m4-1h0m2 0h0m6-1h0m3 0h0m2 3h0m2-7h0m2 1h0m2 2h0m1-3h0m2 7h0m1-2h0m2 0h0m2 1h0m0-3h0m5 0h0m0 3h0m1 1h0m5-1h0m1-2h0m1 0h0m1-4h0m1 5h0m0 1h0m5-1h0m1 0h0m3 1h0m1 1h0m0-5h0m3 5h0m5-2h0m0 1h0m2-2h0m2-3h0m0-1h0m3 2h0m1 5h0m1-5h0m4 5h0m0-2h0m0 0h0m1-4h0m4 0h0m0 5h0m2-2h0m0-4h0m2 2h0m1 4h0m4-5h0m2 0h0m2 2h0m2 1h0m2 3h0m1-1h0m0-1h0m5 1h0m0-2h0m1 1h0m1 1h0m1 0h0m2-1h0m1 1h0m4-2h0m1 2h0m1-3h0m2 1h0m0-4h0m3 6h0m0-5h0m2 5h0m1 0h0m1-5h0m2 4h0m3-1h0m0-2h0m2 0h0m1 0h0m6-2h0m0 0h0m12 3h0m1 1h0m1-2h0m3-2h0m3 2h0m1 5h0m2-7h0m1 5h0m1-5h0m2 7h0m1-5h0m4 3h0m4-3h0m5-1h0m3 1h0m2-1h0m5-1h0m9 0h0m7 3h0m4 4h0m1-5h0m4-2h0m5 4h0m1 3h0m2-3h0m0-2h0m19 0h0m-369 8h0m26 5h0m8-7h0m7 1h0m2 5h0m24-2h0m9-2h0m2-2h0m8 2h0m5 1h0m11 4h0m14-3h0m5 1h0m1-3h0m3-2h0m0 5h0m1-2h0m2 1h0m6-4h0m1 5h0m0-5h0m3 1h0m6 4h0m7 1h0m0-3h0m1 1h0m0-1h0m0 2h0m1 2h0m2-2h0m6-3h0m1 1h0m1-3h0m1 3h0m11-1h0m0 1h0m1 2h0m0 2h0m0-1h0m7-3h0m4-2h0m0 2h0m2-1h0m2 3h0m0-2h0m5-3h0m0 6h0m0-6h0m1 7h0m1-7h0m4 6h0m2-4h0m7 5h0m2-1h0m1-4h0m2 2h0m1 3h0m0-4h0m0-3h0m0 6h0m1 1h0m0-2h0m2-5h0m1 0h0m5 3h0m0-3h0m3 7h0m3-4h0m4 1h0m4-1h0m1-2h0m0-1h0m3 0h0m2 1h0m3 0h0m2 3h0m1-1h0m2-1h0m9 4h0m0-3h0m4 2h0m2 2h0m3-1h0m2-2h0m2 0h0m2 1h0m1 2h0m2-3h0m5-2h0m5-2h0m2 7h0m0-3h0m1 1h0m4-4h0m14 1h0m14 5h0m4-1h0m4-5h0m3 0h0m21 3h0m3-1h0m7 1h0m27-1h0m-390 8h0m12 0h0m26 1h0m5-4h0m3 4h0m19 0h0m16-3h0m10-1h0m1 1h0m2 3h0m2-2h0m2 3h0m0-5h0m0 3h0m3 3h0m4 1h0m2-2h0m1 2h0m1 0h0m3-3h0m4 1h0m5 0h0m2-4h0m2 2h0m5 2h0m10-4h0m1 5h0m3-3h0m5-3h0m1 7h0m6-1h0m1-4h0m2-1h0m0 2h0m2-3h0m6 4h0m2 1h0m1 1h0m4-6h0m2 5h0m2-2h0m1 2h0m1-3h0m1-1h0m3 4h0m2 0h0m1-2h0m4-3h0m0 5h0m6 2h0m2 0h0m3-6h0m0 0h0m1 0h0m4 2h0m2 2h0m1-2h0m1 3h0m14-5h0m3-1h0m1 1h0m1 2h0m1-2h0m1 2h0m4 4h0m1-3h0m6-4h0m0 1h0m0 1h0m1 0h0m3-2h0m3 5h0m1 1h0m2-2h0m0-1h0m4-2h0m3-1h0m3 4h0m7-3h0m7 6h0m2 0h0m6-1h0m1 0h0m2-3h0m1 1h0m4 0h0m19-1h0m2-1h0m5 1h0m6 2h0m1-3h0m11 4h0m0-5h0m6-1h0m45 0h0m-355 9h0m9 6h0m6-4h0m1 1h0m4 1h0m2-1h0m2 3h0m0-1h0m7-1h0m0-3h0m2 5h0m6-3h0m13-3h0m2 2h0m1 2h0m0-4h0m1 5h0m0-5h0m3 0h0m3 2h0m3 4h0m8-3h0m1-4h0m1 4h0m2-4h0m1 5h0m0 0h0m12 1h0m0-2h0m2-2h0m3 0h0m8 5h0m1-4h0m2 3h0m0-1h0m1-4h0m0-1h0m1 0h0m2 2h0m13 1h0m10 1h0m1-1h0m1-2h0m1 0h0m1 2h0m1-1h0m0 5h0m1-6h0m1 1h0m1 4h0m1-1h0m4 2h0m0-5h0m5-1h0m1-1h0m0 4h0m1 1h0m2 0h0m1-1h0m0-2h0m1 2h0m1 2h0m3-3h0m1 4h0m1 0h0m1-4h0m0 4h0m1-1h0m6-4h0m5-1h0m1 6h0m1-3h0m3-2h0m1-2h0m1 1h0m1 4h0m1 2h0m0-6h0m1 1h0m1-1h0m0-1h0m3 1h0m2 5h0m7-4h0m1-2h0m6 7h0m1-7h0m2 4h0m0 0h0m0-2h0m1 5h0m0 0h0m0-2h0m2-1h0m0 2h0m1-6h0m1 3h0m2-1h0m2-2h0m0 5h0m3 1h0m1-3h0m0 0h0m0 3h0m1-6h0m2 1h0m5 5h0m1-1h0m3-1h0m7-4h0m2 3h0m8-1h0m0 1h0m2 4h0m2-3h0m0 3h0m1-7h0m5 5h0m2-3h0m7 5h0m1-3h0m2-4h0m4 2h0m3 1h0m5-3h0m1 5h0m3-4h0m2 6h0m0-6h0m11 5h0m4-5h0m10 3h0m13 0h0m0-1h0m8 3h0m26-3h0m-396 11h0m27-2h0m1-2h0m6 2h0m6 0h0m4-3h0m3 0h0m4-1h0m2 3h0m14 3h0m7-6h0m19 5h0m10 0h0m5 2h0m1 0h0m2 0h0m4-6h0m4 3h0m5-3h0m7 3h0m0 2h0m2-3h0m1 0h0m0-1h0m2 0h0m1-1h0m1 3h0m6-3h0m2-1h0m1 5h0m4 1h0m3-4h0m2 0h0m2 2h0m3 3h0m2-6h0m1 0h0m0-1h0m1 6h0m2 0h0m2-3h0m1 2h0m3-4h0m2 1h0m1 1h0m0 4h0m4-4h0m1 4h0m0-2h0m1-5h0m2 0h0m0 3h0m0 4h0m1-2h0m1 2h0m2-2h0m1 1h0m2-5h0m1 0h0m4 4h0m1 1h0m2 1h0m2-4h0m0-1h0m4 3h0m3-2h0m1 2h0m0-3h0m3-2h0m5 0h0m0 1h0m1 2h0m3 2h0m3-1h0m2-1h0m0 2h0m3-2h0m2-2h0m6 5h0m2-1h0m2-2h0m0-2h0m2 3h0m0-4h0m3 2h0m0 3h0m4-1h0m1 3h0m3-2h0m9-3h0m0 3h0m4 0h0m6-5h0m4 3h0m3 4h0m4-2h0m5 1h0m6-4h0m3 1h0m5 3h0m5-4h0m6-2h0m6 6h0m0 0h0m10 1h0m8-7h0m4 3h0m2-1h0m14 4h0m-333 5h0m1 4h0m4-2h0m5 2h0m4-6h0m7 0h0m1 2h0m3 0h0m10 1h0m16-3h0m7 0h0m1 0h0m2 4h0m8 1h0m0-1h0m4-3h0m2 5h0m7-4h0m5 0h0m2 2h0m8-3h0m2 4h0m9-3h0m0 1h0m2-1h0m1-1h0m1-1h0m7 2h0m1-2h0m0 5h0m4-4h0m0 5h0m5-4h0m2 1h0m1 2h0m0-1h0m0-5h0m0 4h0m1-3h0m0 1h0m2 4h0m1 0h0m1-5h0m1 0h0m6 4h0m1-4h0m0 3h0m2-1h0m0 1h0m1 0h0m0 2h0m2-2h0m0-3h0m4 4h0m2-4h0m2 1h0m4-2h0m2 3h0m1 3h0m1-3h0m2 0h0m0-1h0m1-2h0m0 5h0m2 2h0m0 0h0m2-1h0m0 1h0m2-1h0m0-4h0m0 3h0m3-3h0m1 0h0m2 1h0m2 2h0m0-2h0m1 2h0m1-2h0m3-3h0m1 2h0m1 5h0m3-2h0m1-2h0m7-1h0m0 4h0m4 0h0m2-6h0m2 4h0m5 2h0m1-6h0m8 0h0m2 2h0m4 1h0m2 1h0m9 2h0m0-2h0m6 0h0m3-3h0m2 5h0m1 0h0m4-4h0m2 2h0m6-4h0m1 4h0m2 3h0m4-5h0m5 1h0m9-1h0m3 2h0m3 2h0m2-4h0m2 2h0m2 2h0m4 0h0m5-5h0m13 0h0m10-1h0m7 1h0m7 5h0m6 1h0m4-3h0m18 3h0m-401 4h0m13 1h0m0-1h0m20-2h0m23-1h0m3 5h0m1-5h0m2 5h0m11-4h0m15 2h0m4-2h0m8 0h0m1 1h0m4 0h0m2 3h0m3-4h0m3 1h0m3 0h0m3 1h0m0 1h0m3 0h0m4 0h0m8-4h0m1 1h0m0 0h0m2 5h0m5-3h0m5-2h0m2 1h0m1 2h0m1-1h0m2 1h0m3-1h0m3-3h0m1 7h0m2-3h0m0 1h0m2-2h0m2 1h0m4 0h0m1 0h0m2 2h0m2-2h0m1 2h0m4-2h0m0-4h0m2 5h0m2 1h0m1 0h0m2 1h0m2-7h0m0 1h0m1 0h0m1 1h0m2 5h0m3-3h0m0-1h0m5-1h0m1-2h0m4 0h0m4 3h0m2-1h0m2 2h0m1-1h0m0 3h0m2-2h0m4 0h0m1-4h0m8 3h0m3-3h0m1 7h0m2-5h0m1 1h0m2-2h0m1 2h0m1 4h0m2-2h0m2-5h0m2 5h0m4 1h0m1 1h0m0-7h0m1 7h0m2-7h0m1 0h0m3 6h0m3 1h0m1-6h0m1 5h0m11-3h0m1-3h0m0 0h0m2 1h0m0 5h0m2-6h0m1 2h0m3 1h0m1-3h0m2 5h0m1 1h0m8-2h0m3 1h0m3-2h0m1 2h0m0 2h0m2-4h0m1 1h0m0-2h0m5-1h0m3 0h0m5 4h0m10-5h0m3 3h0m5 2h0m2-3h0m8-1h0m4 1h0m4 5h0m14-3h0m18-1h0m-357 5h0m11 7h0m16-1h0m10-5h0m1 6h0m4-5h0m3 2h0m2 1h0m8-4h0m1 4h0m2-1h0m2 0h0m3-4h0m2 0h0m2 3h0m1 3h0m8-5h0m9 4h0m9-4h0m1 6h0m1 0h0m1-1h0m1-5h0m3 3h0m4 1h0m8 0h0m1-5h0m0 1h0m1 6h0m5-1h0m7 0h0m0-3h0m2-3h0m2 2h0m1-2h0m6 1h0m0 2h0m0-2h0m3 3h0m0 2h0m4-6h0m1 0h0m4 2h0m1 3h0m1-3h0m1 2h0m2-2h0m2 4h0m2-3h0m0-3h0m1 1h0m1 6h0m2-1h0m3-1h0m1-5h0m2 2h0m1 0h0m1 5h0m0-5h0m1 4h0m1-5h0m9 6h0m3-6h0m0 2h0m3-2h0m1-1h0m4 0h0m3 6h0m2-4h0m0 5h0m4-4h0m1-2h0m2 3h0m0 2h0m2-5h0m3 0h0m0 6h0m1-2h0m0 0h0m12 1h0m1 0h0m3-2h0m6 0h0m0 2h0m5-4h0m1 5h0m1-6h0m11 0h0m4 6h0m2-2h0m0-2h0m2-3h0m1 4h0m4-2h0m3 2h0m1 2h0m0-2h0m1-2h0m4 2h0m5 3h0m9-4h0m4 1h0m11 2h0m3-5h0m5 2h0m11 3h0m4-6h0m3 7h0m5-7h0m-354 8h0m5 0h0m19 3h0m6-1h0m1 5h0m12-4h0m11 3h0m6-2h0m5-4h0m0 7h0m5-5h0m2 4h0m3-1h0m1 1h0m2 1h0m0-3h0m2-3h0m5-1h0m4 3h0m2 0h0m1 4h0m6-4h0m7-3h0m1 2h0m6-2h0m3 6h0m2-1h0m1-2h0m2-2h0m5 3h0m1 0h0m3-2h0m3 3h0m0-5h0m0 0h0m1 0h0m1 5h0m5 0h0m2-5h0m1 2h0m1-2h0m3 7h0m0-2h0m3-5h0m0 4h0m4-4h0m2 6h0m3-4h0m3 5h0m0-5h0m1-1h0m4 5h0m5-5h0m5-1h0m1 1h0m2 6h0m1-6h0m1 5h0m3-4h0m1 0h0m0 4h0m1-5h0m1 6h0m1-4h0m4-2h0m1-1h0m5 6h0m0 0h0m2-5h0m2 5h0m1-1h0m4-2h0m1 3h0m5-3h0m1 0h0m0 0h0m1 0h0m0 4h0m1-3h0m1-4h0m1 1h0m1 6h0m3-3h0m2 1h0m1-5h0m1 1h0m6 1h0m0-1h0m1 5h0m1 1h0m8 0h0m5-6h0m3 3h0m9 3h0m2-1h0m0-3h0m3-1h0m3 0h0m1 3h0m1 0h0m5 0h0m5-5h0m7 2h0m1 4h0m5-6h0m3 3h0m1 3h0m9 1h0m7-1h0m14-4h0m11 4h0m2-1h0m2-5h0m1 3h0m49-3h0m-394 15h0m18-2h0m2-4h0m8 5h0m27-2h0m14 3h0m2-2h0m1-4h0m1 5h0m7-4h0m4 3h0m13 1h0m3-1h0m3-1h0m1-4h0m0 4h0m2-2h0m1-1h0m3 3h0m3-4h0m4 6h0m4-3h0m6-2h0m1 2h0m8-2h0m6-1h0m2 0h0m2 6h0m2-2h0m0-2h0m1-1h0m3 1h0m12 4h0m0 1h0m1-2h0m1 1h0m1-1h0m1 2h0m0-3h0m2 2h0m0-3h0m1 4h0m3-5h0m1-1h0m0 3h0m1-2h0m1 0h0m2 2h0m2-3h0m3 3h0m3 0h0m5-3h0m1 1h0m12 2h0m2 1h0m2-2h0m0 0h0m0-1h0m2 3h0m0 2h0m3-5h0m0 1h0m2 3h0m4-5h0m1 4h0m2-5h0m1 5h0m1-5h0m2 0h0m3 5h0m1-4h0m0 5h0m1 1h0m2-3h0m1-1h0m1 2h0m5-5h0m3 3h0m0 4h0m1 0h0m8-7h0m1 5h0m0-2h0m1-1h0m1-2h0m0 0h0m2 7h0m3 0h0m0-2h0m2-2h0m2-1h0m0 5h0m2-5h0m3 4h0m4 1h0m1-1h0m3-4h0m2 0h0m1 5h0m0-1h0m0-3h0m3-3h0m5 7h0m7-3h0m0 2h0m1 1h0m11-4h0m0 0h0m4-3h0m2 3h0m9 1h0m0-2h0m7 4h0m5 1h0m2-7h0m8 7h0m8-4h0m4-2h0m8 6h0m2-2h0m26 2h0m-345 3h0m16 5h0m8-5h0m3 5h0m6-3h0m3 2h0m9-4h0m5 4h0m0-4h0m0 4h0m0-2h0m6-1h0m0 2h0m4 0h0m2 1h0m4-3h0m1 1h0m1 0h0m4 2h0m0-5h0m1 0h0m3-1h0m1 4h0m1-1h0m0 4h0m0-1h0m2 1h0m1 0h0m3-1h0m1-6h0m6 2h0m1-2h0m1 2h0m0 5h0m2 0h0m7 0h0m0 0h0m5-6h0m1 0h0m2-1h0m1 3h0m0-2h0m8 5h0m0 0h0m4 1h0m1-5h0m1 2h0m2 0h0m1 0h0m0-3h0m5 2h0m3 2h0m0 0h0m4 0h0m0-1h0m0 1h0m2 0h0m3-5h0m2 7h0m0-4h0m0-2h0m2 0h0m4-1h0m2 6h0m5 1h0m1-4h0m2 1h0m1-2h0m4 0h0m2 4h0m0-5h0m3 0h0m2 1h0m2 2h0m1 3h0m5-5h0m4 2h0m3 0h0m1 1h0m0-5h0m0 4h0m1-3h0m7 6h0m8-3h0m0-1h0m4 1h0m2-3h0m3 6h0m3 0h0m0-2h0m2-3h0m2-2h0m6 0h0m2 1h0m7-1h0m1 5h0m7 2h0m0-6h0m8 2h0m5-3h0m15 1h0m11 5h0m1 1h0m1-6h0m8 4h0m12 1h0m4-3h0m13 3h0m2 0h0m18-6h0m-381 14h0m20-5h0m1 3h0m3 3h0m5-5h0m20 0h0m19 5h0m6-7h0m3 3h0m6-3h0m1 0h0m0 3h0m2-3h0m6 0h0m1 7h0m1-4h0m2-3h0m3 6h0m2-6h0m1 5h0m2 1h0m15-1h0m2-5h0m1 0h0m3 4h0m5 0h0m5 2h0m0 1h0m1-2h0m0-4h0m1 5h0m0-1h0m0-5h0m1 0h0m2 6h0m3-1h0m1-4h0m2 4h0m2 2h0m1-5h0m2-1h0m1 1h0m0 0h0m0-2h0m0 4h0m4-1h0m3 4h0m0-6h0m2 2h0m2 2h0m0 1h0m2-5h0m2 2h0m2 1h0m1-1h0m2 1h0m1 3h0m4-4h0m1-2h0m0-1h0m3 2h0m1-1h0m3 2h0m1 1h0m0-2h0m0 5h0m0-5h0m1 1h0m2 4h0m1-2h0m2-5h0m1 3h0m1-1h0m1 1h0m1 2h0m0-2h0m1 2h0m5-1h0m0 1h0m2 1h0m2-4h0m1 0h0m1 5h0m4-6h0m1 5h0m7-3h0m0 3h0m3 1h0m2-6h0m1 2h0m0-1h0m1 3h0m2-4h0m8 6h0m0-5h0m8 2h0m2-4h0m3 5h0m2-5h0m1 7h0m4-6h0m0 6h0m3 0h0m0-5h0m2-2h0m2 2h0m1 1h0m2-3h0m3 5h0m1 0h0m2-3h0m3-1h0m8 5h0m1-1h0m11-4h0m2 2h0m3 3h0m11-5h0m4 5h0m5-4h0m0-1h0m1 0h0m12-1h0m2 5h0m22-3h0m2 4h0m-373 4h0m49 1h0m5 1h0m5-2h0m16 0h0m3 4h0m7-6h0m2 4h0m11 3h0m6-7h0m7 5h0m1-5h0m4 6h0m2-6h0m1 7h0m1-5h0m2 2h0m7-2h0m5 2h0m5-3h0m1 5h0m4-6h0m6 7h0m1-6h0m0 2h0m5 1h0m0-1h0m1-1h0m2-1h0m3 6h0m3 0h0m2-5h0m1 1h0m0 4h0m1 0h0m1-5h0m4-2h0m0 5h0m5-5h0m0 6h0m0 0h0m2-2h0m0-3h0m0 2h0m2 1h0m2 2h0m4 0h0m1-5h0m0-1h0m2 5h0m2-1h0m1-4h0m0 2h0m4-2h0m1 7h0m3-1h0m0-2h0m1-4h0m1 2h0m2 1h0m0 1h0m4-3h0m2 6h0m2-6h0m3 6h0m0-2h0m1 2h0m2-1h0m0-3h0m2 2h0m4 0h0m1 1h0m4-1h0m1 1h0m0-1h0m4-4h0m0 0h0m1 5h0m0-4h0m1 5h0m0-2h0m1-4h0m1 4h0m0 2h0m4-2h0m3 2h0m2-1h0m3 1h0m10-1h0m2-1h0m8-3h0m10-1h0m3 0h0m0-1h0m6 5h0m2-5h0m4 2h0m7 5h0m2-1h0m29-6h0m9 5h0m7 0h0m1-4h0m4 4h0m-359 3h0m20 3h0m29-1h0m2 3h0m2 0h0m13 0h0m6-2h0m10 0h0m8 1h0m12 1h0m7-1h0m5-3h0m7 0h0m1 5h0m7 1h0m2-3h0m3-4h0m9 5h0m1 2h0m3-3h0m0 1h0m2-3h0m1 0h0m2 2h0m1 3h0m0 0h0m1-6h0m1-1h0m0 3h0m3 1h0m1 2h0m0-1h0m1-3h0m5 5h0m1-3h0m0 2h0m1-1h0m1-5h0m1 6h0m3-1h0m4-4h0m5 5h0m10-1h0m2-4h0m5 2h0m6 3h0m1-5h0m5 2h0m1 2h0m0 2h0m0-4h0m1 0h0m3-3h0m1 3h0m2 2h0m5 0h0m3 0h0m0-2h0m2 4h0m5 0h0m1-3h0m0-2h0m2 2h0m0-3h0m4 0h0m6 0h0m6 3h0m2 3h0m6 0h0m0-2h0m1 0h0m0-3h0m2 5h0m0-3h0m1 3h0m6-7h0m3 3h0m1 2h0m2-3h0m0-2h0m1 1h0m5 6h0m0-2h0m2 0h0m6-2h0m8 3h0m2-4h0m3-2h0m3 6h0m14-5h0m5 2h0m4-2h0m9 2h0m0 0h0m7 0h0m42-2h0m15-1h0m-381 14h0m6-3h0m2 1h0m26 1h0m10-1h0m22-1h0m1-1h0m5 1h0m12 0h0m8-2h0m4 3h0m1 3h0m1-3h0m3-3h0m4 3h0m5 1h0m0-2h0m3 3h0m2-4h0m1 0h0m2 5h0m0-5h0m1-1h0m1 2h0m3 0h0m4 3h0m1-6h0m3 0h0m1 4h0m9-1h0m1-1h0m3-1h0m3 5h0m0-1h0m1 1h0m1-3h0m0 2h0m1-5h0m3 5h0m2-4h0m1 5h0m1 1h0m1-2h0m0-4h0m0 5h0m1-3h0m2 3h0m1-1h0m4 2h0m0-1h0m7 0h0m1-2h0m0-2h0m2 2h0m5 2h0m2-5h0m5-1h0m3 0h0m3 2h0m1 2h0m1 2h0m2-3h0m1 2h0m2-1h0m0 0h0m0 1h0m2 1h0m1-3h0m0-1h0m2-2h0m1 4h0m3 1h0m6 2h0m2-4h0m1 4h0m4 0h0m3-3h0m4-4h0m2 5h0m3-5h0m1 1h0m4 0h0m0-1h0m4 0h0m2 7h0m3 0h0m5-3h0m1 1h0m8-5h0m3 6h0m9-4h0m11 0h0m2 3h0m8-2h0m5-2h0m0 2h0m5 1h0m6-4h0m35 7h0m24-4h0m-386 7h0m0 2h0m55 3h0m4-7h0m14 4h0m2-1h0m2-1h0m4 2h0m9 0h0m1-2h0m0 4h0m1 0h0m5-5h0m0 4h0m3-5h0m13 1h0m11 4h0m2-1h0m2 0h0m0-4h0m5 4h0m1 0h0m7 0h0m0 2h0m1-5h0m5 3h0m2 0h0m2 3h0m4-4h0m1-3h0m1 2h0m4-1h0m5-1h0m6 4h0m0 2h0m2-5h0m2 1h0m2-1h0m2 1h0m1 0h0m6-1h0m2 2h0m2 2h0m3-2h0m1-3h0m0 2h0m2 0h0m2 3h0m4-4h0m0-1h0m1 3h0m0 3h0m2-6h0m4 2h0m5 4h0m3-5h0m1-1h0m1 1h0m2 0h0m3 6h0m7-4h0m2 0h0m3-1h0m7 4h0m2-2h0m3-2h0m1 0h0m9-2h0m2 7h0m0-7h0m0 7h0m1-1h0m2 1h0m1-1h0m0-3h0m1 3h0m7-6h0m2 6h0m0-4h0m15 5h0m23-3h0m10 0h0m24 0h0m25-2h0m-358 10h0m37 3h0m14-1h0m0-6h0m8 5h0m1-2h0m16 3h0m4-6h0m15 0h0m6 3h0m3 2h0m0 2h0m4-4h0m7 0h0m0 2h0m2 1h0m0 0h0m2-2h0m1-4h0m4 7h0m4-1h0m1 0h0m1-5h0m5 6h0m1-6h0m0 1h0m9-2h0m1 5h0m1-1h0m0 3h0m5-1h0m6-4h0m1-1h0m3 6h0m3-4h0m1-3h0m3 1h0m1 2h0m1 2h0m1-4h0m5-1h0m2 6h0m4-1h0m1-5h0m11 7h0m6-6h0m2 4h0m0-2h0m3 1h0m1-2h0m0 1h0m2 0h0m2-3h0m2 5h0m8-5h0m2 0h0m7 6h0m2-1h0m1 1h0m21-6h0m2 5h0m7 0h0m4-3h0m1-2h0m4 0h0m2 7h0m5-2h0m4 1h0m11-4h0m2-1h0m-292 7h0m18 2h0m15 0h0m26 1h0m5 1h0m3-2h0m3-1h0m2 5h0m5-5h0m18 6h0m4-1h0m6 1h0m6-4h0m2-3h0m6 5h0m6-4h0m8 2h0m1-1h0m1 3h0m1-5h0m4 5h0m1-5h0m0 7h0m6-2h0m0-2h0m7-1h0m0-1h0m2 5h0m3 1h0m3 0h0m1-6h0m1 6h0m3-7h0m1 5h0m7-4h0m3 3h0m5 3h0m2-2h0m2-5h0m6 3h0m2-2h0m0-1h0m14 0h0m3 3h0m2-2h0m0-1h0m5 5h0m3 2h0m13 0h0m2-1h0m1 0h0m5-1h0m2-1h0m0-4h0m0 0h0m8 1h0m6 4h0m4-4h0m1 1h0m2 3h0m1-3h0m1 4h0m0-4h0m2 5h0m0-6h0m2 2h0m1 0h0m9 4h0m4-3h0m5-1h0m3-3h0m20 3h0m16 2h0m11 2h0m-335 4h0m27-1h0m7 5h0m5-3h0m9 2h0m3 0h0m7-1h0m10-1h0m10 1h0m7-5h0m17 4h0m1-3h0m4 5h0m4-4h0m11 2h0m2 2h0m1-6h0m1 3h0m1 3h0m3-5h0m4 2h0m1 4h0m2-2h0m0-2h0m1-1h0m11 0h0m5 1h0m13 1h0m2 2h0m3-3h0m1-1h0m2 1h0m1-3h0m1 7h0m3-7h0m1 2h0m13 5h0m6-1h0m0-5h0m3-1h0m1 5h0m4-4h0m1 3h0m5-1h0m3 4h0m7-4h0m5-2h0m1-1h0m4 7h0m1-7h0m2 1h0m1 1h0m1 1h0m9 0h0m5-2h0m0 6h0m2-5h0m33 4h0m5-1h0m2-4h0m4 1h0m55 1h0m-350 6h0m17 5h0m0-2h0m47-3h0m9 0h0m1-1h0m11 7h0m1-2h0m6 1h0m2-1h0m7-1h0m0-1h0m6-1h0m3-1h0m1 6h0m1-2h0m1-3h0m5 3h0m9 2h0m3-3h0m2-4h0m1 7h0m6-5h0m4-1h0m1 2h0m1 2h0m0 0h0m1-1h0m0-2h0m9-2h0m1 2h0m1-1h0m2 5h0m1 1h0m5 0h0m2-2h0m0 1h0m2-5h0m2 3h0m0 0h0m5 2h0m2 1h0m9-4h0m0 3h0m6-1h0m1-1h0m0-3h0m4 4h0m12-1h0m5 0h0m0 2h0m4 1h0m4-3h0m8-4h0m1 5h0m16 1h0m2-4h0m11 5h0m7-2h0m11 0h0m4 1h0m22 0h0m-280 3h0m9 6h0m12-6h0m25 2h0m6-3h0m17 6h0m5-2h0m8 1h0m9-3h0m6 4h0m4 0h0m5-3h0m2 3h0m5-4h0m0-2h0m1 3h0m1-2h0m3 3h0m4 3h0m2-2h0m5-5h0m10 5h0m1-2h0m2-2h0m4 3h0m4 1h0m7-5h0m4 2h0m1 0h0m9 0h0m3-2h0m6 0h0m1 3h0m5-3h0m1 3h0m10-3h0m14 0h0m0 1h0m4 1h0m1 2h0m32-2h0m4 3h0m0 0h0m10-5h0m3 6h0m-293 3h0m44 6h0m11-7h0m0 1h0m11-1h0m7 7h0m1-3h0m6 2h0m5-5h0m9 2h0m16 4h0m1-1h0m1 0h0m2-6h0m2 6h0m4-2h0m5 3h0m2 0h0m2-1h0m3-3h0m12 1h0m0 1h0m4 2h0m8-1h0m1-6h0m1 0h0m7 3h0m30 3h0m9 1h0m0-1h0m0-3h0m4-2h0m1 1h0m8-1h0m0 4h0m1 1h0m0-6h0m1 2h0m7-1h0m0 3h0m12-3h0m2 1h0m5 1h0m5 2h0m1-5h0m12 6h0m19-1h0m35-2h0m-311 9h0m42 3h0m1-5h0m17 2h0m13 2h0m5 0h0m18-6h0m13 5h0m1 1h0m4-3h0m1 0h0m1 3h0m5-4h0m7-1h0m2 4h0m0-2h0m1 3h0m3 1h0m2 0h0m7 0h0m1-1h0m17 0h0m1 1h0m10-3h0m3-4h0m2 1h0m0 4h0m7-2h0m20 3h0m2-6h0m3 6h0m1-4h0m0 0h0m15-1h0m2 4h0m9-3h0m0 0h0m9 1h0m1-1h0m5 5h0m10-4h0m6-3h0m23 0h0m11 1h0m-274 7h0m52 1h0m7 2h0m24 4h0m9-7h0m5 2h0m4 1h0m5 1h0m1-1h0m6-1h0m4 1h0m5 0h0m5-2h0m2 2h0m4 1h0m12-1h0m6-2h0m7 4h0m1 0h0m4-4h0m6 2h0m1-2h0m8 3h0m15 0h0m1-2h0m1 5h0m2-2h0m3-3h0m6 3h0m40-3h0m2 2h0m20 2h0m-286 8h0m23-2h0m21-4h0m22 4h0m3 3h0m40-1h0m4-3h0m7 0h0m12 0h0m1 4h0m7-2h0m13 1h0m1-2h0m0-3h0m1 6h0m1 0h0m4 0h0m2-2h0m5 1h0m1 0h0m4-2h0m3 1h0m1-1h0m1 0h0m8-3h0m8 2h0m19-1h0m3 5h0m4-5h0m2 1h0m6 1h0m34-2h0m26-2h0m-270 10h0m39 2h0m3 3h0m30-1h0m4-2h0m10-3h0m9 0h0m2 2h0m6 4h0m11-3h0m3-4h0m3 6h0m2-5h0m1 6h0m7-7h0m21 6h0m0-2h0m6-3h0m9 1h0m3 1h0m2 3h0m2 0h0m1 1h0m7-4h0m14-2h0m3 6h0m9-1h0m3-3h0m39-1h0m20 3h0m3-3h0m27 3h0m-243 10h0m13-6h0m8 4h0m4-2h0m3 2h0m13 0h0m7-5h0m22 1h0m5 2h0m2 4h0m22 0h0m9-2h0m11-5h0m2 2h0m13-2h0m3 1h0m9 0h0m4 1h0m2 1h0m4 3h0m17-3h0m14-2h0m1 4h0m15-1h0m-253 5h0m26 4h0m55-5h0m9 1h0m8 0h0m4 1h0m6 2h0m0-4h0m13 2h0m2 0h0m7 4h0m7-4h0m5 2h0m7-2h0m21 1h0m1 0h0m8 0h0m2 3h0m2-1h0m15-5h0m31 1h0m-198 8h0m2-1h0m25 4h0m12-1h0m16 0h0m1 0h0m29 1h0m17 3h0m9-3h0m34-1h0m9 4h0m62-7h0m22 1h0m-226 7h0m40 1h0m17 3h0m25-1h0m4-1h0m16 5h0m16-2h0m14-1h0m13-1h0m20 1h0m3 1h0m77-2h0m-247 6h0m47-1h0m11 5h0m9-4h0m18 6h0m0-6h0m6 0h0m6 5h0m7 0h0m8-5h0m2 3h0m3-3h0m3 5h0m7-6h0m2 6h0m24-6h0m18 5h0m76-5h0m-187 10h0m16 5h0m6-6h0m23 5h0m14-5h0m1 3h0m17-1h0m1 0h0m22 3h0m46 1h0m37-5h0m-185 8h0m13 5h0m15-1h0m25-1h0m16 2h0m15-4h0m26-3h0m8 7h0m43-3h0m-142 9h0m13-3h0m15 1h0m11 4h0m57-5h0m7 10h0m0 5h0m-49 9h0m17 8h0m-70 8h0m2 3h0m123-5h0m-116 16h0"/>
<path stroke="#4893ae" stroke-opacity="0.38" stroke-width="5.0" d="M772 259h0m62 41h0m4 20h0m2 6h0m60 8h0m26 2h0m74 32h0m-19 22h0m10-2h0m18-1h0m-87 8h0m73 1h0m33 3h0m28-4h0m-127 10h0m36 0h0m51-4h0m30 6h0m-154 4h0m19 1h0m15 2h0m21-4h0m8 4h0m8-2h0m3-2h0m44 5h0m-125 4h0m12 0h0m28 0h0m41 1h0m27 1h0m72-2h0m10 0h0m-208 8h0m29 1h0m52-1h0m9-2h0m9 5h0m29-3h0m13 1h0m16 1h0m3 0h0m10 2h0m1 0h0m16-7h0m11 4h0m5-2h0m3-2h0m28 3h0m-260 5h0m34 4h0m5-4h0m39 2h0m1 0h0m10 2h0m4-2h0m16 4h0m1-1h0m2 1h0m9-6h0m2 6h0m14 1h0m6-5h0m1 3h0m1-5h0m14 5h0m13 2h0m6-6h0m2 3h0m39-3h0m22-1h0m21 3h0m-246 6h0m20 2h0m22 1h0m23 2h0m38-5h0m12 2h0m8 1h0m24-4h0m6 1h0m6 4h0m22-1h0m38 1h0m1 0h0m9 0h0m6 2h0m-250 8h0m4-2h0m13 0h0m1-3h0m12 2h0m51-4h0m11 1h0m5 3h0m39-4h0m0 0h0m1 7h0m1 0h0m18-3h0m22-1h0m3-3h0m4 7h0m0-7h0m10 3h0m73-1h0m55 5h0m-296 5h0m27 3h0m4-7h0m26 7h0m23-2h0m4-3h0m8 0h0m18-2h0m5 6h0m3-5h0m1 4h0m9-5h0m9 6h0m12-5h0m5 5h0m3-4h0m3 3h0m3 1h0m3 1h0m0-4h0m10 3h0m2-4h0m7-2h0m6 4h0m7 2h0m5-2h0m12-1h0m3 3h0m12-5h0m-286 13h0m20-2h0m3-2h0m6 3h0m9-4h0m23 6h0m8-6h0m0-1h0m1 2h0m1 4h0m10-2h0m8-2h0m7 3h0m19-4h0m0 2h0m9-2h0m2 0h0m2 6h0m1-5h0m7 2h0m1-1h0m2-2h0m1 5h0m1-3h0m11-3h0m0 4h0m10 3h0m10-3h0m17-4h0m6 6h0m5-4h0m0 2h0m16-2h0m9 0h0m35 3h0m4 0h0m-167 9h0m2-1h0m16-1h0m2-2h0m7 1h0m4-3h0m0 3h0m4-3h0m1 1h0m3 0h0m0-1h0m1 1h0m10-1h0m3 4h0m5 1h0m4-5h0m2 6h0m8-3h0m7-3h0m5 3h0m5 2h0m7 1h0m2-4h0m3-2h0m11 2h0m8 2h0m1-2h0m2 3h0m8-1h0m3 2h0m10-2h0m3 1h0m22 0h0m8 1h0m10-5h0m3 6h0m13-6h0m26 5h0m27 0h0m-349 2h0m53 2h0m3 5h0m24-5h0m2 4h0m3-5h0m3 4h0m5 2h0m2-6h0m1 2h0m7-3h0m4 6h0m1-4h0m21 0h0m9 2h0m2 0h0m5 2h0m4-6h0m2 5h0m2 2h0m17 0h0m9-2h0m1-1h0m3 0h0m5-1h0m1 1h0m9 0h0m1-4h0m1 5h0m0-4h0m3 1h0m25 3h0m14-4h0m3 5h0m7-5h0m7 6h0m3-5h0m2 5h0m10-3h0m7 1h0m23-4h0m13 3h0m-316 10h0m30-6h0m16 0h0m12 6h0m4-1h0m20-3h0m7 0h0m10-1h0m4 2h0m5 3h0m13 0h0m2-5h0m4 1h0m1 5h0m4-2h0m4 2h0m9 0h0m20-4h0m0 3h0m1-3h0m2 4h0m18-4h0m5 0h0m4 0h0m2 4h0m0-6h0m2 6h0m0-2h0m11 2h0m0-2h0m1-3h0m10 3h0m3-3h0m7 3h0m1-1h0m3-2h0m4 0h0m9 4h0m2-1h0m1 1h0m2-4h0m10 4h0m9 0h0m1-4h0m1 0h0m3 5h0m3 0h0m17-7h0m9 5h0m2 0h0m2 0h0m51-2h0m-325 11h0m2 0h0m6-3h0m8 1h0m20-1h0m24-2h0m10-1h0m6 6h0m5-3h0m26-2h0m2 5h0m1-4h0m6 1h0m5 3h0m7 1h0m2 0h0m1-5h0m0-1h0m6 2h0m1-1h0m1 4h0m0-1h0m3-3h0m0-2h0m7 3h0m2 3h0m1 1h0m0-3h0m1-3h0m3 4h0m8-5h0m3 4h0m18 3h0m1 0h0m5-2h0m1-1h0m4 0h0m3 1h0m3-4h0m0 1h0m5 1h0m1 1h0m0-3h0m3 4h0m10-4h0m10-1h0m0 2h0m9 4h0m1-2h0m12-2h0m10 5h0m21-6h0m3 2h0m9 0h0m1 2h0m5-5h0m14 2h0m-325 10h0m27-1h0m2 0h0m9-3h0m1 6h0m8-3h0m25-1h0m5-2h0m4 4h0m5 2h0m8-1h0m3-5h0m2 1h0m3-1h0m3 0h0m2 1h0m4 0h0m5 2h0m4-2h0m6 6h0m1-7h0m1 5h0m0-5h0m4 2h0m2 5h0m2-2h0m1-4h0m7 5h0m7-3h0m3 3h0m2 0h0m5-4h0m2 2h0m1-4h0m1 6h0m4-1h0m3 0h0m5-1h0m0 0h0m3 0h0m4 0h0m3-2h0m2 1h0m1-1h0m0 1h0m9-2h0m6 3h0m2-2h0m3 4h0m4 0h0m3 0h0m0-2h0m7-2h0m2 0h0m15 3h0m7 2h0m5-1h0m10-2h0m1-3h0m7 1h0m0 3h0m18 2h0m9 0h0m18-7h0m41 5h0m-361 6h0m3 0h0m31 3h0m3 1h0m0-7h0m15 5h0m4-5h0m4 6h0m7-5h0m2 4h0m1 1h0m2-6h0m2 5h0m2-1h0m4 0h0m4-1h0m2 3h0m3 1h0m3-3h0m4 3h0m11-1h0m3-2h0m7-1h0m1 0h0m3 2h0m1 1h0m15-6h0m2 1h0m1 0h0m1 6h0m0-1h0m0-5h0m3 1h0m3 2h0m6 1h0m0-4h0m4 6h0m3-6h0m0 4h0m1-4h0m3 3h0m1 3h0m6-7h0m2 4h0m3 2h0m3-5h0m2 4h0m7-2h0m0 3h0m13 0h0m0-4h0m3-1h0m2 0h0m10 5h0m5-1h0m4-2h0m11 0h0m1 3h0m8-1h0m2-1h0m6-1h0m13 0h0m21-3h0m7 6h0m1-5h0m18-1h0m3 6h0m3-3h0m13 0h0m19 2h0m-364 6h0m8 1h0m5-1h0m21 3h0m1-5h0m0 5h0m0-1h0m16-3h0m6 1h0m24 4h0m6 0h0m2 0h0m11-3h0m4 3h0m0-2h0m2-2h0m1 3h0m0-1h0m0-4h0m17 2h0m4 2h0m0-3h0m3-2h0m0 1h0m9-1h0m4 6h0m2-2h0m4 0h0m8-1h0m0 1h0m10 2h0m1-4h0m15 5h0m2-7h0m1 3h0m8-2h0m0 6h0m7-5h0m4 1h0m1 4h0m6-4h0m0 4h0m2-6h0m1 2h0m3 3h0m0-2h0m3-3h0m5-1h0m8 4h0m1 2h0m1 1h0m1-6h0m3 0h0m1 4h0m0-4h0m1-1h0m4 2h0m1 0h0m5 1h0m2 3h0m26-4h0m0 5h0m9-5h0m0-2h0m4 4h0m59 3h0m-311 5h0m3-4h0m10 3h0m17 0h0m5 2h0m7 0h0m1-3h0m0 4h0m14 0h0m1-2h0m0 0h0m0 1h0m0-2h0m1 2h0m8-4h0m5-1h0m4 6h0m3-3h0m0 2h0m14-4h0m2 6h0m3-1h0m4 0h0m6-4h0m3-1h0m3-1h0m1 5h0m8-5h0m1 1h0m1 4h0m4-3h0m2 3h0m2 0h0m3-2h0m1 3h0m8 1h0m3-1h0m4-6h0m6 1h0m4-1h0m2 6h0m2-5h0m0 1h0m3 4h0m0 1h0m6-7h0m1 2h0m3 2h0m5 2h0m5-6h0m15 1h0m7 1h0m1 1h0m1 0h0m0 0h0m5 1h0m15-3h0m2 4h0m3-5h0m9 4h0m3-1h0m3 4h0m13 0h0m8-5h0m36 4h0m4-1h0m3 0h0m9-1h0m-339 6h0m42 1h0m1 4h0m5-7h0m4 7h0m6-3h0m13-1h0m1 3h0m1-1h0m5 0h0m19-3h0m4 4h0m0-3h0m13 3h0m1 1h0m4-7h0m0 6h0m5 1h0m4-6h0m1 6h0m10-7h0m0 2h0m1-2h0m1 2h0m2 0h0m2 4h0m4 1h0m2-2h0m1 0h0m3 0h0m1 0h0m0-4h0m6 4h0m4-4h0m3 5h0m4-5h0m3 6h0m2-1h0m1-5h0m4 2h0m0 4h0m18-6h0m4 2h0m2 3h0m14-6h0m3 3h0m7 3h0m4 0h0m6-2h0m4-3h0m1-1h0m7 3h0m5-1h0m35 1h0m0 1h0m41 0h0m8 1h0m-395 10h0m43-5h0m41 1h0m3-3h0m8 1h0m3 0h0m2 4h0m0-1h0m5 3h0m0 0h0m5-1h0m2-4h0m2 0h0m1 4h0m1-6h0m1 3h0m2 3h0m0-2h0m1 2h0m4-4h0m1 3h0m1-1h0m6 3h0m9-3h0m5 1h0m4-4h0m4 0h0m3 1h0m2 2h0m0-3h0m1-1h0m2 7h0m1-7h0m5 7h0m0-1h0m0 1h0m0-6h0m12 1h0m1 0h0m7 1h0m3 2h0m2 0h0m0 1h0m2 0h0m2-5h0m0 3h0m1 0h0m2-2h0m3-2h0m5 1h0m1 4h0m1-3h0m2 2h0m1 2h0m2-1h0m0 2h0m0-6h0m5 4h0m3 0h0m4-4h0m5-1h0m2 1h0m6 6h0m5-2h0m3 2h0m1-1h0m3-5h0m8 0h0m9-1h0m1 2h0m10-2h0m4 0h0m0 6h0m0-5h0m1 1h0m13 4h0m1 0h0m1-1h0m5-5h0m4 4h0m30 3h0m23-6h0m56 2h0m-412 6h0m23 6h0m3-4h0m9 0h0m30 3h0m17-6h0m3 1h0m0 0h0m9 3h0m15 2h0m1-6h0m0 7h0m3-2h0m12 2h0m2-1h0m29-4h0m4-2h0m4 1h0m3 6h0m1-2h0m1 2h0m1-7h0m7 4h0m7 2h0m11-1h0m6-5h0m0 7h0m2-7h0m0 1h0m0 6h0m2 0h0m8-7h0m2 6h0m9-4h0m1-1h0m5 1h0m0 3h0m6 0h0m22 0h0m2 1h0m3-5h0m0 5h0m9-6h0m13 4h0m4-3h0m13 5h0m4-2h0m14-1h0m3 1h0m1-2h0m7 2h0m15-3h0m6-1h0m16 7h0m5-2h0m4-3h0m5-2h0m73 7h0m-513 3h0m88 4h0m8-4h0m5-1h0m0 3h0m2 0h0m9 1h0m1 0h0m0-4h0m17 3h0m7 3h0m1-3h0m9-4h0m8 0h0m12 1h0m7 3h0m2 3h0m2-1h0m4-1h0m1 2h0m2-4h0m0-1h0m2 0h0m5-2h0m4 0h0m4 5h0m0-5h0m6 1h0m3-1h0m5 0h0m5 0h0m15 7h0m2-5h0m2-2h0m13 3h0m5-3h0m5 1h0m1 4h0m1-4h0m5 6h0m9-4h0m3 3h0m1 1h0m0-6h0m8 2h0m1-1h0m1 0h0m2-2h0m3 4h0m6-4h0m2 4h0m20 3h0m1-2h0m3 0h0m4-2h0m1-3h0m5 2h0m4 0h0m1 1h0m4 3h0m4-6h0m24 5h0m2 1h0m1-2h0m3 1h0m3 1h0m13-1h0m1-4h0m4 3h0m5-2h0m34-2h0m-353 9h0m1 6h0m5-5h0m6-1h0m2 2h0m1-1h0m8 4h0m5-6h0m9 6h0m8-5h0m6 4h0m26-5h0m1 7h0m0-3h0m13 3h0m12-6h0m3 1h0m5 0h0m0-2h0m5 7h0m4-3h0m1-3h0m3 0h0m2 3h0m2-2h0m8 0h0m1 1h0m4 4h0m0-1h0m0 0h0m1-5h0m0 3h0m1 2h0m1-1h0m1-2h0m5 2h0m2 0h0m3-3h0m7 5h0m2-7h0m2 2h0m12 3h0m1 2h0m0-7h0m1 7h0m7 0h0m5-3h0m2 0h0m3 1h0m3-1h0m1-4h0m8 1h0m1 6h0m5-5h0m4 1h0m6 3h0m0 0h0m1-4h0m6 2h0m0-2h0m2 4h0m3-6h0m0 5h0m2 2h0m8-1h0m0 0h0m1-5h0m5 2h0m4 3h0m5-5h0m2 1h0m0-1h0m3 1h0m4 4h0m8-6h0m4 7h0m6-6h0m1 1h0m8 3h0m12 2h0m2-5h0m4 3h0m38 0h0m9-4h0m10 5h0m21-3h0m25 1h0m-474 7h0m32-3h0m1 6h0m23-2h0m31-4h0m6 6h0m13-2h0m12-4h0m7 7h0m9-5h0m0-1h0m9 2h0m3 3h0m17-3h0m10 1h0m0-4h0m7 4h0m6 2h0m1-5h0m0 3h0m6 3h0m7-6h0m0 6h0m5-2h0m18 2h0m7-3h0m4 1h0m3-3h0m5 1h0m1 1h0m0-4h0m2 6h0m21-1h0m4 1h0m14-5h0m1 2h0m4-3h0m12 6h0m1-2h0m6 2h0m6-5h0m5 4h0m4 2h0m10-6h0m7-1h0m12 0h0m21 3h0m3 1h0m8 3h0m7-2h0m4-4h0m6-1h0m61 2h0m-413 10h0m4-3h0m13 6h0m10-2h0m2-1h0m4-2h0m11-2h0m3 0h0m11 6h0m1-4h0m2 1h0m18-3h0m0 5h0m2 0h0m5-5h0m5 3h0m20 1h0m0-1h0m10-1h0m4 5h0m19-4h0m11 2h0m2-3h0m3 3h0m4-4h0m2 4h0m7-3h0m1 5h0m0-3h0m3-1h0m0 2h0m3 2h0m1-7h0m16 3h0m16-3h0m1 3h0m8 4h0m5-1h0m3-3h0m5 3h0m2-4h0m9 4h0m0-4h0m9 1h0m1-1h0m5 3h0m0-4h0m3 1h0m2 0h0m5 4h0m8 0h0m0-4h0m1 5h0m3-4h0m3 0h0m4-1h0m2 0h0m14-1h0m11-1h0m20 5h0m42 1h0m8 1h0m6-2h0m56-3h0m-478 13h0m22-7h0m16 3h0m18-1h0m3 2h0m1-1h0m0 0h0m2-1h0m11 3h0m20-5h0m19 3h0m19 1h0m9-3h0m0 5h0m0-1h0m30 2h0m0-7h0m2 4h0m4 3h0m3 0h0m2 0h0m6-7h0m3 0h0m10 0h0m4 0h0m0 5h0m2-5h0m4 5h0m2-1h0m4-4h0m2 3h0m1-2h0m2 0h0m11 3h0m2-1h0m1 3h0m6-3h0m3 3h0m0-2h0m4 2h0m7-5h0m1 4h0m3 0h0m1-4h0m11 0h0m3 2h0m2-3h0m0 5h0m0 1h0m2 0h0m0 0h0m3-1h0m7-1h0m2 2h0m7-5h0m7 0h0m7 3h0m4-4h0m1 2h0m0 0h0m1 2h0m18-2h0m4 5h0m9-2h0m7 2h0m24-5h0m2 3h0m34-5h0m5 0h0m-441 8h0m66 0h0m1 5h0m18 2h0m15-2h0m1 2h0m8-3h0m6-3h0m8 5h0m6 0h0m21-3h0m30-3h0m1 1h0m2 3h0m2-1h0m5 1h0m2 1h0m17-5h0m2 3h0m7 4h0m0-4h0m3-1h0m3-2h0m2 3h0m1-3h0m3 1h0m1 3h0m3 3h0m5-1h0m2 1h0m0-3h0m3-2h0m3 4h0m5-1h0m4 0h0m3 1h0m1 0h0m3-4h0m1 5h0m9-3h0m7 1h0m1 2h0m6-5h0m11 4h0m2-5h0m1 4h0m6 0h0m2-4h0m12 2h0m4 3h0m1-4h0m5-2h0m2 3h0m0-1h0m3 1h0m3 4h0m2-7h0m9 2h0m15-1h0m8 6h0m4 0h0m3-3h0m1-3h0m3 0h0m2 4h0m21-1h0m34 0h0m5 1h0m19-2h0m-440 7h0m25 1h0m10-3h0m3 5h0m4 1h0m14 0h0m8-1h0m10 2h0m7 0h0m2-6h0m3 5h0m6-3h0m0-1h0m11 3h0m26 0h0m7-4h0m19 6h0m1 0h0m9 0h0m10 0h0m22-2h0m3 2h0m4 0h0m6-5h0m8 0h0m6-1h0m1 3h0m7-2h0m11 1h0m1 4h0m8-3h0m2-1h0m3-1h0m5 5h0m5-1h0m5-2h0m16 3h0m1-5h0m2 4h0m12-6h0m7 0h0m14 6h0m0-2h0m12-2h0m1 0h0m7 0h0m14 1h0m4-1h0m5 4h0m4 0h0m6-4h0m5-2h0m13 2h0m16 5h0m3-1h0m3 1h0m53-7h0m-464 11h0m7-1h0m8 1h0m28 4h0m3-7h0m4 3h0m5-2h0m4-1h0m6 7h0m16-5h0m4 1h0m9 2h0m0 0h0m5-1h0m11 2h0m3 1h0m7-7h0m0 0h0m22 3h0m9 3h0m11 1h0m1-3h0m1-3h0m17-1h0m0 2h0m2-1h0m32 2h0m10 4h0m26-6h0m14 4h0m3-4h0m10 0h0m14 0h0m3 1h0m6-2h0m2 4h0m3 0h0m10 0h0m1-4h0m3 6h0m2 0h0m5-1h0m0-3h0m4 1h0m4-2h0m1 5h0m2 1h0m34-3h0m4-2h0m9 3h0m29 2h0m6-1h0m-453 5h0m50-1h0m3 0h0m4 0h0m3 4h0m4 1h0m7-7h0m9 1h0m6 0h0m1 6h0m4-1h0m45-4h0m5 4h0m3-5h0m38 0h0m1 1h0m22 2h0m36-2h0m11-1h0m10 0h0m0-1h0m2 7h0m1-5h0m0 0h0m1 0h0m7 0h0m0-1h0m1 4h0m25 2h0m0-2h0m18-3h0m12 1h0m0-2h0m15 4h0m2-2h0m5 1h0m1 0h0m3-3h0m5 2h0m7-3h0m1 3h0m7 0h0m2-1h0m2 4h0m8-1h0m4 0h0m9-1h0m11 1h0m7-5h0m12 5h0m11-5h0m35 2h0m-427 10h0m1 3h0m2-5h0m3 4h0m6-6h0m5 1h0m5 3h0m20 0h0m17 2h0m30-2h0m21 0h0m18-2h0m2 0h0m2-1h0m0 3h0m8-2h0m14 2h0m21-4h0m12 4h0m9 2h0m12-6h0m4 5h0m15-4h0m9-1h0m1 1h0m9 6h0m20-1h0m0 1h0m3-7h0m18 5h0m9-3h0m1 2h0m3-4h0m2 0h0m15 2h0m7 2h0m13-2h0m2 4h0m48-4h0m2-1h0m10 0h0m10 2h0m1 2h0m14-1h0m-448 5h0m36 1h0m14-1h0m21 5h0m0-5h0m4-1h0m2 7h0m9-4h0m1-2h0m6 3h0m6 2h0m6-1h0m8-2h0m18 3h0m5-3h0m4 4h0m41-2h0m7-5h0m23 0h0m21 2h0m7-2h0m10 3h0m5 2h0m10 2h0m15-6h0m8 0h0m31-1h0m15 6h0m0-2h0m2-4h0m7 3h0m25 2h0m23-4h0m18 0h0m2 5h0m35-5h0m-468 14h0m17-5h0m22-2h0m3 5h0m17-3h0m25 5h0m3 0h0m18 0h0m17-7h0m16 6h0m28-6h0m73 3h0m9 0h0m26 1h0m16 0h0m8 0h0m4 2h0m0-1h0m2-3h0m6 5h0m14-6h0m5 0h0m4 6h0m18-4h0m1 4h0m8-7h0m23 6h0m21-1h0m20-5h0m2 3h0m82 3h0m-467 4h0m11 4h0m16-6h0m10 0h0m7 4h0m17 3h0m14-2h0m17-1h0m13-4h0m46 6h0m0-6h0m28 2h0m39 1h0m0 4h0m36-1h0m12-3h0m3-2h0m7 3h0m2-4h0m0 4h0m8 2h0m9-6h0m70 4h0m17 0h0m-403 9h0m16-1h0m48-2h0m11 5h0m14-5h0m12 2h0m27 2h0m33-4h0m29-1h0m41 1h0m16 3h0m19-4h0m13 3h0m1 2h0m22 1h0m18-4h0m4-2h0m4 5h0m9-5h0m1 5h0m7 1h0m1 0h0m8-7h0m12 5h0m2 0h0m4-5h0m12 1h0m53 6h0m-385 6h0m22-5h0m34 0h0m8 6h0m2-5h0m112 0h0m25 6h0m8 0h0m94-4h0m29 4h0m5-4h0m12-2h0m25 1h0m68 0h0m-486 8h0m16 3h0m27 1h0m171-6h0m30 6h0m34-2h0m3 1h0m11-2h0m15 4h0m3-5h0m19-2h0m28 2h0m11 3h0m19 0h0m26-2h0m1-2h0m-343 10h0m7-2h0m32 4h0m179-2h0m40-3h0m20 2h0m14-2h0m1 1h0m4 5h0m18-1h0m9 2h0m8-1h0m127 1h0m-266 3h0m8-2h0m39 2h0m100 2h0m12-2h0m42 4h0m1-1h0m-389 9h0m22 0h0m195-3h0m19-2h0m22-1h0m21 4h0m-308 7h0m18 1h0m274-2h0m-63 10h0m55 3h0m23-7h0m19 4h0m167-1h0m-281 16h0m45 2h0m-96 13h0"/>
<path stroke="#8dbcc6" stroke-opacity="0.5" stroke-width="5.0" d="M948 423h0m-10 8h0m-103 3h0m101 5h0m-119 29h0m80-3h0m60 0h0m22 2h0m4 4h0m22-2h0m-140 3h0m104 2h0m20 2h0m-72 7h0m36-2h0m1-1h0m134 3h0m21 0h0m-179 7h0m7 2h0m62 2h0m62-4h0m15-2h0m33 2h0m3-2h0m-165 10h0m46 3h0m9 2h0m25 0h0m21-6h0m17 3h0m0-4h0m3 6h0m76-6h0m19 1h0m-255 8h0m16 1h0m35 5h0m50-7h0m3 5h0m15 2h0m12-2h0m82 0h0m53-5h0m-228 11h0m15-3h0m60 5h0m7 1h0m8-6h0m28 5h0m3 2h0m9-1h0m21 0h0m-292 7h0m103-2h0m43 1h0m33 1h0m16 1h0m106-4h0m-205 13h0m32 0h0m5-3h0m34-3h0m14 5h0m47-4h0m13 0h0m19 3h0m76-5h0m-262 15h0m19-3h0m16 2h0m25-1h0m58-3h0m6 4h0m7-3h0m30 1h0m15 1h0m50-5h0m33 7h0m18-4h0m27-1h0m-374 11h0m74-5h0m36 6h0m6-2h0m24 1h0m8-5h0m15 5h0m12 2h0m56-2h0m1-4h0m7 2h0m82 4h0m94-1h0m-381 4h0m22 1h0m41 0h0m118 4h0m30-6h0m18 4h0m17-1h0m8 2h0m6-1h0m28-2h0m92-3h0m-398 10h0m5 2h0m24-3h0m14 3h0m22-4h0m76 5h0m6 0h0m3 2h0m58-7h0m18 2h0m1 5h0m3 0h0m36-2h0m10 0h0m-270 3h0m3 4h0m95-3h0m12 6h0m34 0h0m88-4h0m6 4h0m5 0h0m7-2h0m9-5h0m0 6h0m6-2h0m14 1h0m9-3h0m2 4h0m39 1h0m93-6h0m-376 8h0m73-1h0m16 4h0m8 1h0m12-2h0m19 3h0m23-6h0m5 7h0m30-4h0m5-2h0m11 2h0m29-3h0m20 6h0m9 0h0m-251 9h0m11-5h0m31 4h0m38-5h0m89 2h0m41-1h0m10 1h0m40-1h0m1 3h0m96-4h0m-331 12h0m12 0h0m32 2h0m32-7h0m57 6h0m27 0h0m22 1h0m3-5h0m11-1h0m1 2h0m0 0h0m13 2h0m6-3h0m8 0h0m3 2h0m5 2h0m1-4h0m9 5h0m-323 1h0m18 0h0m27 4h0m17 1h0m12-1h0m18 0h0m13 3h0m19-6h0m61 3h0m30-4h0m59 5h0m5-5h0m21 6h0m7-5h0m30-1h0m16 6h0m1-2h0m4-3h0m83 2h0m-396 9h0m79-2h0m40 5h0m39-5h0m37 5h0m29-3h0m20-1h0m34-1h0m1 2h0m26 3h0m46 0h0m2-7h0m-436 13h0m71 0h0m10 2h0m148-4h0m49-1h0m3-2h0m1 3h0m9 2h0m18 1h0m18-2h0m1 0h0m37 1h0m22-3h0m58 0h0m-394 13h0m13-5h0m6-1h0m45 3h0m53-1h0m19 3h0m18-6h0m5 1h0m46 2h0m0-1h0m22 4h0m14-6h0m12 6h0m28-4h0m0 1h0m4 2h0m33-3h0m9-2h0m40 2h0m52 0h0m-409 6h0m66 6h0m65-3h0m45 0h0m38 4h0m10-6h0m8 1h0m3 4h0m25-5h0m37 3h0m18-3h0m3 5h0m24-1h0m26 1h0m43-5h0m-430 9h0m40-2h0m150 4h0m1 2h0m39-2h0m14-2h0m28 3h0m7-5h0m8 4h0m20-2h0m14 3h0m46 2h0m4-2h0m22-5h0m0 0h0m26 5h0m-324 3h0m112 5h0m17 2h0m0-6h0m30 3h0m12-2h0m13-1h0m11 2h0m28-1h0m26-2h0m38 6h0m12-3h0m6 0h0m6-2h0m7 4h0m47-1h0m-392 8h0m14 0h0m91 1h0m27 0h0m25 2h0m23-3h0m20-1h0m23 2h0m8-1h0m4 3h0m11-4h0m5-3h0m10 7h0m5-7h0m2 5h0m13-5h0m14 6h0m20-5h0m12 4h0m15-5h0m8 6h0m-364 6h0m71 0h0m31-4h0m29 6h0m15-1h0m15-2h0m49-2h0m75 3h0m8-1h0m126 2h0m-504 5h0m173-1h0m10 4h0m10 0h0m11-3h0m61 1h0m59 4h0m5-6h0m7 4h0m24 2h0m29-6h0m46 2h0m15-3h0m9 5h0m48-2h0m-430 5h0m203 0h0m58 4h0m0-4h0m30 0h0m41 7h0m0-2h0m17-4h0m46 3h0m-300 7h0m100 2h0m42 1h0m23-5h0m10 1h0m22 5h0m9 0h0m11-4h0m10 1h0m50 3h0m1-7h0m22 4h0m-377 9h0m45-1h0m2 1h0m105 2h0m103-2h0m2-3h0m25 5h0m47-5h0m13 4h0m2-2h0m1 0h0m-363 10h0m243-5h0m15 4h0m12-1h0m44-1h0m43-3h0m15 7h0m-106 3h0m22 0h0m38 0h0m4 0h0m0-2h0m25 2h0m5 3h0m21 2h0m-133 5h0m36 2h0m5-2h0m2 0h0m2-4h0m24 4h0m47 3h0m-53 8h0m1-4h0m26-1h0m0-2h0m18 4h0m46-4h0m-141 14h0m40-5h0m18 4h0m41-2h0m-129 6h0m25 4h0m83-5h0m8 7h0m19-1h0m33-1h0m-124 3h0m1 7h0m11-2h0m9-3h0m10 5h0m39-7h0m38 5h0m10-5h0m-139 13h0m16-3h0m15 5h0m8-2h0m5-2h0m21 0h0m29-3h0m-114 11h0m11-1h0m65 4h0m17-2h0m3-1h0m5 1h0m38 2h0m-72 8h0m22 0h0m8-3h0m22-3h0m15 1h0m5 1h0m3 2h0m7 1h0m-141 3h0m24 3h0m6-2h0m33 1h0m6 5h0m59-4h0m-104 9h0m27-3h0m67 3h0m-52 5h0m13 3h0m19 2h0m30-4h0m-157 6h0m69 7h0m15 0h0m7-2h0m21-1h0m15 2h0m13-1h0m-74 4h0m49 13h0m-82 5h0m29 4h0m47-7h0m24 6h0m42-1h0m15 0h0m-94 8h0m7-2h0m33-3h0m-119 9h0m21 1h0m1 1h0m103 1h0m-133 9h0m29-1h0m14-4h0m20 6h0m1-3h0m13-1h0m5-1h0m9-1h0m17 4h0m40-1h0m-40 7h0m30 5h0m-45 5h0m5 6h0m1 0h0m2 4h0m12-6h0m85 10h0m-38 14h0m-74 9h0m18 7h0m9 2h0m-13 9h0m-89 10h0m111-3h0m-90 12h0m51 9h0m-65 7h0m67 3h0"/>
<path stroke="#e6e2cf" stroke-opacity="0.6" stroke-width="5.0" d="M1046 394h0m-134 37h0m-70 1h0m157 7h0m-123 8h0m175-7h0m2 7h0m7-2h0m-229 8h0m56-1h0m73-3h0m-3 14h0m32-4h0m-54 12h0m28-2h0m37 2h0m39-4h0m39 0h0m-196 12h0m39-2h0m148-3h0m-123 13h0m26 0h0m71-4h0m38 1h0m-168 4h0m53 2h0m39 1h0m60 1h0m25-1h0m-175 12h0m49-1h0m12-5h0m9 3h0m89 3h0m58-1h0m-228 8h0m76-4h0m62 4h0m5 0h0m39-3h0m8 2h0m-192 7h0m4-4h0m122 6h0m19-6h0m3 4h0m81 3h0m-181 4h0m34-1h0m86 2h0m66-4h0m2 3h0m0 4h0m27-4h0m-274 8h0m18 2h0m23-2h0m1 2h0m40-1h0m32-1h0m30 4h0m130-7h0m6 3h0m-300 6h0m3-1h0m57 4h0m23 1h0m59-4h0m28 3h0m17 1h0m63-4h0m13 1h0m0 2h0m7 2h0m35-2h0m-356 7h0m78 0h0m17-1h0m8 5h0m23-4h0m40 4h0m11-6h0m25 5h0m23 1h0m191-1h0m21-5h0m-319 10h0m16 0h0m2 1h0m43 1h0m11-3h0m18-2h0m5 3h0m41 2h0m5-5h0m26 7h0m30 0h0m42-7h0m6 5h0m32-3h0m-334 10h0m29-2h0m36 5h0m23 0h0m17-1h0m0-4h0m7-2h0m40 0h0m37 3h0m24 4h0m3-3h0m61 3h0m-314 8h0m6-4h0m93 2h0m2-4h0m8 4h0m22 0h0m0-5h0m8 3h0m8-1h0m6 5h0m54-3h0m18-3h0m32 2h0m4-3h0m22 6h0m-298 8h0m57 0h0m8 1h0m9-4h0m8 2h0m12 1h0m18-3h0m7-2h0m9 2h0m13-1h0m2 5h0m9-1h0m16-5h0m15 1h0m2 2h0m3 2h0m26 1h0m11-3h0m24-3h0m45 2h0m42 3h0m60 0h0m-410 9h0m57-4h0m16 3h0m16-2h0m27-4h0m22 4h0m7-1h0m17-1h0m2-1h0m7 5h0m4-5h0m6 0h0m6 1h0m0 1h0m4 3h0m11-2h0m18 3h0m1-5h0m12 3h0m10-4h0m8 5h0m8-4h0m25 1h0m31 2h0m81 2h0m15-2h0m-438 6h0m30-3h0m1 4h0m30 2h0m22-1h0m28 1h0m35 1h0m17-7h0m2 2h0m5 4h0m8-6h0m7 4h0m11-1h0m9-2h0m4 6h0m4-4h0m9-2h0m3 6h0m12-3h0m11-3h0m4 4h0m19-3h0m18 4h0m3 1h0m24-4h0m0-2h0m0 3h0m11 2h0m2-5h0m0 4h0m43-4h0m44 5h0m-381 4h0m74-1h0m12 1h0m12-2h0m20 2h0m10 5h0m3 0h0m10 0h0m2-4h0m5 4h0m0-6h0m0 4h0m7-5h0m7 3h0m7-2h0m3 4h0m2 2h0m11-2h0m34-5h0m2 1h0m7 0h0m20 1h0m7 3h0m7 1h0m21-6h0m17 5h0m2-1h0m0-3h0m4 2h0m18 0h0m19-2h0m41 5h0m-323 3h0m45 1h0m4 0h0m32 5h0m0-3h0m9-1h0m17 1h0m14-2h0m5-2h0m4 5h0m0-1h0m6-3h0m3 0h0m0-1h0m0 5h0m6-4h0m29 6h0m3-3h0m0-4h0m3 4h0m6 3h0m23-3h0m4 1h0m9 0h0m1 2h0m21-3h0m29 1h0m34 0h0m43-5h0m55 3h0m-459 12h0m8-4h0m37 1h0m25 2h0m3 1h0m20-7h0m28 4h0m12-1h0m11-2h0m6-1h0m24 1h0m12 5h0m17-5h0m7 4h0m8-1h0m2-3h0m0-1h0m2 3h0m1-3h0m4 7h0m0-2h0m16-3h0m5 4h0m13-1h0m2 2h0m4 0h0m18-2h0m10-1h0m5-3h0m26 1h0m1 1h0m16-3h0m49 3h0m4-3h0m5 3h0m16-3h0m-412 14h0m56-5h0m10-1h0m10 7h0m6-2h0m4-4h0m23 1h0m2-2h0m3 5h0m1-1h0m1 0h0m16-2h0m2-1h0m4 3h0m21-4h0m5 0h0m16 0h0m3 5h0m5-4h0m3 1h0m7 5h0m3 0h0m9-4h0m12 4h0m9 0h0m3-4h0m6 0h0m3 2h0m2-2h0m8 0h0m2 4h0m7-2h0m28 0h0m1-5h0m2 5h0m9-4h0m7-1h0m5 2h0m9 1h0m2-3h0m6 1h0m7 5h0m15-6h0m2 6h0m-383 5h0m78 3h0m14-3h0m17 2h0m16-4h0m39 6h0m12-6h0m5 3h0m19-4h0m16 3h0m7 4h0m3-1h0m15 0h0m7 1h0m3-3h0m1 1h0m10-4h0m6 5h0m0-1h0m3-1h0m5 1h0m1 0h0m5 2h0m0-3h0m6-4h0m9 6h0m3 0h0m3-4h0m4 0h0m4 3h0m7 2h0m1-1h0m4 0h0m3-5h0m16 2h0m9-2h0m4 4h0m4 0h0m11-4h0m11 3h0m27-2h0m17 0h0m35 2h0m-378 9h0m64 2h0m2-5h0m21-1h0m9 4h0m22 0h0m6 2h0m9 0h0m15-5h0m3-1h0m19-1h0m4 3h0m5 0h0m2-3h0m5 1h0m3 4h0m7-5h0m7 6h0m4-5h0m1 5h0m15 1h0m10-2h0m5-2h0m25 1h0m7-1h0m5-1h0m0 5h0m3-1h0m10-5h0m0 0h0m0 2h0m13 1h0m3 2h0m11-2h0m9-2h0m12 4h0m4 0h0m48-4h0m18 0h0m-389 7h0m19 1h0m2 5h0m17 0h0m7-1h0m1-1h0m20 2h0m6-7h0m2 2h0m1 3h0m21-5h0m5 6h0m45 0h0m2-2h0m6-4h0m7 3h0m3-2h0m0 4h0m26-4h0m0 1h0m1-2h0m0 6h0m1 0h0m1-3h0m4 1h0m5 0h0m6 3h0m6 0h0m12 0h0m6-3h0m9 0h0m7-4h0m4 2h0m6-2h0m2 3h0m6 3h0m4 0h0m2-5h0m13 6h0m2-3h0m33-2h0m5 5h0m22-2h0m-396 3h0m43 0h0m23 5h0m56-5h0m6 4h0m9 1h0m26 0h0m12-2h0m5 1h0m7-2h0m1 0h0m13-2h0m1 7h0m11-1h0m8-4h0m1 4h0m1-3h0m3-2h0m4 0h0m3 4h0m1 1h0m6-5h0m3 2h0m4-1h0m1-1h0m3 0h0m0-1h0m6 2h0m0 0h0m1-2h0m5 6h0m3-5h0m35 1h0m15 5h0m1-1h0m6-1h0m4 0h0m6-2h0m15-3h0m14 4h0m17 2h0m6-4h0m10-1h0m10 3h0m3-4h0m16 7h0m20-1h0m-460 6h0m43 0h0m66-1h0m8-2h0m63-1h0m5 3h0m7-3h0m3 0h0m19 7h0m16-1h0m2 1h0m8-2h0m5 1h0m22 0h0m4-4h0m15 5h0m1-3h0m10-4h0m0 5h0m1-2h0m6 4h0m22-7h0m1 5h0m0-4h0m19 4h0m9-3h0m2-1h0m25 1h0m0 4h0m13-6h0m7 2h0m10 4h0m33-6h0m7 0h0m-434 12h0m16-3h0m46 2h0m44 2h0m13 1h0m46-2h0m23 1h0m19-4h0m14 2h0m6-1h0m4 5h0m8-6h0m2 5h0m8 1h0m10-3h0m4 1h0m2-2h0m13 0h0m14 2h0m16-1h0m2 1h0m1-5h0m1 0h0m0 0h0m1 4h0m14-3h0m7 3h0m3-2h0m15 2h0m6 2h0m11 0h0m17-4h0m1 5h0m20-7h0m4 6h0m18-5h0m18 5h0m-343 5h0m38 4h0m10-7h0m15 2h0m26 1h0m14-3h0m3 3h0m13 2h0m5-5h0m7 7h0m8-6h0m15 0h0m32-1h0m3 6h0m1-5h0m9 4h0m11-3h0m1 0h0m27 2h0m3-3h0m38 3h0m11 1h0m13-4h0m31 0h0m-493 13h0m93-2h0m59 3h0m44-4h0m19-3h0m13 0h0m7 7h0m3-2h0m1-4h0m2 0h0m8 3h0m18-4h0m4 5h0m6 0h0m13-1h0m28-2h0m10 2h0m9-1h0m6 3h0m3-6h0m1 1h0m8 6h0m8-6h0m27 3h0m2 2h0m5-4h0m5-1h0m14 5h0m3-6h0m22 2h0m2 4h0m12-3h0m33 0h0m10 2h0m-426 8h0m18-4h0m23 1h0m93 2h0m29-1h0m9 1h0m23 0h0m7 3h0m1-2h0m5 2h0m6-6h0m7 5h0m4-2h0m1-4h0m5 2h0m2 4h0m3-5h0m6 6h0m21-7h0m4 5h0m5-4h0m3 0h0m4 0h0m3 1h0m2 1h0m61 0h0m3-2h0m18 6h0m41-4h0m-392 8h0m51 1h0m11 2h0m51-1h0m5-3h0m21 3h0m37-1h0m17 2h0m4-4h0m4 2h0m16-1h0m16 1h0m11-2h0m5 1h0m13 0h0m5 3h0m2-6h0m7 4h0m14-3h0m4 6h0m3-6h0m4 3h0m9 0h0m5-3h0m1 4h0m4-2h0m8 2h0m12-3h0m6-2h0m27 1h0m17 1h0m-350 7h0m61-1h0m30 5h0m37 1h0m52 1h0m12-7h0m2 2h0m7 5h0m0-1h0m12 0h0m9 1h0m9-4h0m0 0h0m2 0h0m3 0h0m8 1h0m2-4h0m6 4h0m2 0h0m26 0h0m2-2h0m2 1h0m26 2h0m2-3h0m34 3h0m5 2h0m20-4h0m8-3h0m-364 14h0m52 0h0m21-4h0m91 5h0m36-3h0m0 1h0m4-4h0m6 4h0m22-1h0m7-2h0m5 1h0m53 4h0m9-1h0m15-6h0m6 3h0m45 1h0m16 0h0m-462 9h0m13 1h0m56-6h0m32 6h0m86-6h0m29 0h0m22 0h0m40 0h0m23 1h0m20 2h0m11 4h0m7-4h0m2 0h0m2 3h0m3-5h0m7 2h0m17 2h0m10-3h0m1 0h0m-257 10h0m61 1h0m1-5h0m18 1h0m29 4h0m0-3h0m3 0h0m37 5h0m2-4h0m25 3h0m9-5h0m16 1h0m4 5h0m2-6h0m0 6h0m17-2h0m4 2h0m68-5h0m-379 12h0m136-5h0m61 6h0m49-5h0m22 5h0m5-4h0m11-1h0m5 5h0m3-7h0m10 6h0m17-4h0m5-1h0m4 4h0m51-5h0m10 6h0m-295 4h0m74 0h0m54-1h0m9-1h0m28 3h0m9 1h0m4 3h0m8-3h0m39 2h0m18-5h0m24 0h0m-166 14h0m36-5h0m1 3h0m5-4h0m27 0h0m1 4h0m13 2h0m8-3h0m13 0h0m3-1h0m2 2h0m20-4h0m8 3h0m50 3h0m-185 4h0m4 0h0m77-3h0m3 1h0m23-1h0m16 1h0m4 2h0m1 4h0m-174 1h0m58 3h0m17-2h0m18 6h0m16-7h0m12 7h0m4-4h0m36 1h0m7-4h0m3 4h0m3 2h0m9-6h0m-137 12h0m11-4h0m29 7h0m3-6h0m22 6h0m12-6h0m15 2h0m19 4h0m21-5h0m15 3h0m8-2h0m-141 12h0m14-4h0m12 0h0m37-1h0m17 3h0m8-1h0m4-2h0m5-2h0m22 7h0m10 0h0m23-4h0m-103 9h0m19 2h0m11-5h0m2 5h0m19 1h0m8-7h0m2 2h0m24 0h0m9-1h0m22 4h0m-187 3h0m47 5h0m15-4h0m14 4h0m2-3h0m7-2h0m36 4h0m2 2h0m68 0h0m-99 2h0m15 4h0m1-3h0m2 6h0m-121 1h0m85 3h0m10 4h0m2-3h0m3 0h0m14 2h0m31-4h0m7-2h0m19 1h0m28-1h0m-154 11h0m10 0h0m41 3h0m4-1h0m16 2h0m3-6h0m6 3h0m0 1h0m3-1h0m38-2h0m-96 12h0m6-4h0m0 3h0m43-3h0m25 3h0m8 1h0m2-3h0m3-2h0m0 5h0m3 1h0m-135 6h0m17-1h0m15 1h0m51-5h0m6 2h0m15 4h0m5-6h0m19 1h0m-130 13h0m6-3h0m37 2h0m9-4h0m24-1h0m-45 8h0m14 4h0m12 3h0m8-7h0m3 2h0m-18 7h0m12 4h0m7-2h0m4 0h0m13 1h0m-111 5h0m59-1h0m5 3h0m8 0h0m2 2h0m41-2h0m42 3h0m4-4h0m-23 10h0m-67 11h0m34-6h0m21 0h0m52 5h0m-124 6h0m48 2h0m17 1h0m-64 4h0m97-3h0m37 3h0m-181 8h0m66 2h0m21-1h0m10 5h0m4 4h0m-59 8h0m20-4h0m55 2h0m3 1h0m17 0h0m13 2h0m-111 4h0m82 2h0m57 17h0m3 2h0m-16 5h0m-66 6h0m30 3h0m-61 18h0m-7 3h0m36 16h0"/>
<path stroke="#fbbd9c" stroke-opacity="0.55" stroke-width="5.2" d="M883 557h0m34 2h0m5-1h0m17 0h0m12-5h0m87 3h0m-110 10h0m29-5h0m74 1h0m42 5h0m3-2h0m11-2h0m100-2h0m-325 10h0m12 3h0m34-6h0m15 1h0m19 4h0m18-2h0m25 1h0m21 0h0m1 2h0m21 1h0m1-2h0m-120 10h0m34-7h0m23 0h0m7 2h0m18 4h0m36 1h0m8 0h0m1-7h0m3 3h0m17 0h0m49-3h0m-242 12h0m41 0h0m8 3h0m5-1h0m8-4h0m8 3h0m27-2h0m22 3h0m14 0h0m1-2h0m9-3h0m6 0h0m6 2h0m13 2h0m1-2h0m27-3h0m38 5h0m0 0h0m3-2h0m20-3h0m141 7h0m-431 8h0m87-7h0m17 5h0m23-3h0m3 4h0m3-3h0m5 2h0m2-3h0m10 5h0m11 0h0m11 0h0m10 0h0m8-6h0m3 5h0m19 1h0m2-7h0m3 5h0m1-4h0m36 5h0m16 0h0m41 1h0m7-1h0m-216 5h0m27 0h0m8-2h0m0 3h0m18-2h0m10 5h0m4-5h0m5 5h0m2-3h0m6-1h0m9 1h0m4-1h0m8 2h0m1-2h0m10 2h0m3-3h0m1 2h0m16 2h0m12-1h0m53 0h0m89 0h0m-313 9h0m28-6h0m2 1h0m6-1h0m1 0h0m1 7h0m48-5h0m2 0h0m6 4h0m2-5h0m11 6h0m4-4h0m7 2h0m14 1h0m7-6h0m1 3h0m6-1h0m16 0h0m8 4h0m17-6h0m26 1h0m16 6h0m11-4h0m19 2h0m20 1h0m-256 4h0m32 3h0m2-1h0m4 1h0m24 2h0m2-6h0m16 1h0m1-2h0m7 6h0m2-5h0m15 2h0m6 0h0m4 1h0m1 1h0m3 2h0m7-1h0m5-2h0m6 3h0m0-7h0m2 7h0m14-5h0m13 1h0m4 1h0m66 3h0m60-3h0m-316 7h0m7 0h0m14 0h0m33-1h0m11 1h0m3-2h0m2 1h0m2 4h0m10-3h0m35 4h0m1-1h0m4-3h0m11 2h0m14-2h0m0 1h0m8-3h0m0 4h0m3-1h0m1 3h0m7-4h0m4 2h0m1-1h0m10-2h0m1 5h0m22-2h0m24-2h0m19-1h0m19-1h0m21 3h0m1-2h0m80 4h0m-378 5h0m60-2h0m20 1h0m12-1h0m1 3h0m21-4h0m3 0h0m17 4h0m9-2h0m1-2h0m6 3h0m11 2h0m5 1h0m1 0h0m9-2h0m18-2h0m6 3h0m20 2h0m1-4h0m3 1h0m4-1h0m2 0h0m8 1h0m1 2h0m27-4h0m6 2h0m2 0h0m20 3h0m30-4h0m18 0h0m52 1h0m-342 8h0m21 0h0m27 0h0m7 1h0m2-5h0m17 4h0m2-2h0m5 1h0m2-3h0m4 0h0m1 0h0m17 5h0m17-2h0m5 0h0m0-1h0m5 4h0m10 1h0m8 0h0m3-1h0m17-6h0m9 1h0m10 1h0m5-2h0m21 4h0m17 3h0m19-1h0m5-5h0m-298 12h0m26 1h0m5-4h0m28-2h0m2 3h0m22-1h0m5-1h0m0 3h0m0-2h0m8 0h0m10 1h0m7-1h0m16 0h0m0 5h0m28-1h0m3-6h0m1 4h0m23-2h0m14 4h0m6-4h0m13 0h0m6 4h0m9-5h0m12 6h0m4-2h0m19-1h0m13 0h0m1 3h0m6-6h0m5-1h0m9 2h0m8 2h0m37-2h0m6 2h0m-380 10h0m23-4h0m40 1h0m3-2h0m26 1h0m11 4h0m25 0h0m9-6h0m31 5h0m6 0h0m8-3h0m5 4h0m18-4h0m3-2h0m9 2h0m4 3h0m10 2h0m3-3h0m1 2h0m27-5h0m1 0h0m5 1h0m6 5h0m2-4h0m14 3h0m50-1h0m34-5h0m1 7h0m42-5h0m7 0h0m-442 6h0m136 4h0m4 1h0m11-2h0m2 3h0m25 0h0m0-3h0m20-1h0m6 2h0m14 0h0m2-1h0m0 3h0m19-2h0m2 2h0m0-2h0m0-2h0m18 0h0m27-1h0m9 0h0m21 4h0m11-1h0m25 0h0m99 3h0m-464 1h0m133 6h0m2-3h0m9 3h0m0-5h0m2-1h0m15 7h0m39-2h0m2-4h0m4 0h0m85-1h0m16 5h0m6 1h0m1-2h0m3-3h0m1 0h0m1 1h0m4-2h0m1 1h0m42 3h0m15 2h0m2-5h0m5 6h0m51 0h0m-391 7h0m89-3h0m3 2h0m20 2h0m12-4h0m16 2h0m12-3h0m70-2h0m70 7h0m1-2h0m21-4h0m8 6h0m13-1h0m17 0h0m3-3h0m14 1h0m-408 9h0m75-2h0m21-2h0m10-1h0m9 2h0m31-1h0m15 5h0m56-3h0m9 3h0m11-6h0m4 0h0m3 2h0m1 2h0m8 0h0m7 2h0m5-5h0m0-1h0m20 6h0m3 1h0m30-2h0m10-3h0m25 0h0m10-1h0m2-1h0m28 2h0m2 3h0m10-5h0m18 7h0m-311 1h0m23 1h0m19 2h0m18-3h0m6 3h0m30 0h0m17 1h0m3 2h0m0-2h0m1-1h0m54 1h0m3-2h0m2 1h0m6 2h0m42-4h0m4 5h0m33-4h0m4-2h0m7 6h0m3-4h0m10-2h0m0 5h0m0-2h0m2 2h0m4-2h0m3 4h0m0-7h0m-312 15h0m0-1h0m45-1h0m15-4h0m41 6h0m2-1h0m21-5h0m3 1h0m3 4h0m12-4h0m11 1h0m14 1h0m13 0h0m11 3h0m0-2h0m7-2h0m2 4h0m23-2h0m38 2h0m1-7h0m8 2h0m3 5h0m6-6h0m15 2h0m4 4h0m31-5h0m-400 12h0m93-5h0m50 6h0m22-1h0m42-2h0m9-4h0m12 5h0m3-2h0m6-3h0m9 0h0m5 0h0m15 6h0m1 0h0m12 0h0m6-3h0m6 3h0m7-1h0m8 2h0m3-6h0m29 5h0m26-2h0m26-3h0m11-1h0m35 7h0m1-4h0m11-3h0m-364 15h0m6-1h0m42 0h0m55-4h0m9 3h0m21-3h0m59 5h0m41-2h0m17 2h0m23-6h0m15 5h0m0-4h0m-367 10h0m11-4h0m71 2h0m127-1h0m42 4h0m7-2h0m3 2h0m4-3h0m3 0h0m19 0h0m8 2h0m6 0h0m4 0h0m4-2h0m6 0h0m-92 12h0m17-3h0m9-1h0m7 3h0m7 2h0m5-5h0m20 0h0m27 2h0m49-3h0m33 2h0m-292 8h0m18-1h0m28 0h0m84 3h0m8-1h0m48-2h0m27-2h0m21 6h0m-172 4h0m57 3h0m1-3h0m55 4h0m10-1h0m17 1h0m21-4h0m30 4h0m-223 7h0m57-4h0m113 3h0m9 1h0m1 0h0m18 1h0m3-2h0m25 2h0m21-5h0m9 6h0m-166 8h0m92-6h0m27 3h0m7-2h0m-79 10h0m2-1h0m11-1h0m15 3h0m12-2h0m7 0h0m4 4h0m26-1h0m44-2h0m15 2h0m-203 5h0m77 2h0m1-3h0m6 2h0m2 1h0m38-5h0m1 3h0m6 2h0m11-3h0m38 4h0m1-4h0m27 0h0m-227 10h0m116 2h0m7 1h0m30-5h0m23 4h0m-158 9h0m87-7h0m0 7h0m2-3h0m5-2h0m59-2h0m23 2h0m-132 9h0m31 0h0m10 4h0m18-6h0m13 0h0m1 4h0m23-4h0m-93 10h0m4 1h0m9-4h0m31 1h0m20 0h0m51 4h0m27-1h0m-106 10h0m7-1h0m10-5h0m36 6h0m49-5h0m-156 7h0m34 2h0m18 4h0m19 0h0m2-4h0m13 0h0m47 5h0m44-5h0m-150 8h0m0 1h0m39 2h0m4 1h0m3-2h0m1 3h0m41-2h0m3 2h0m21-7h0m-150 13h0m7 2h0m7 0h0m42-3h0m6 0h0m11 3h0m5-6h0m10 2h0m1-2h0m12 5h0m49-2h0m-75 5h0m31 6h0m14-4h0m-99 6h0m15-1h0m12 5h0m27 1h0m0-1h0m10 0h0m8-2h0m-28 12h0m32-3h0m12 1h0m4-2h0m18-1h0m12 2h0m-142 6h0m49 1h0m26-3h0m1 7h0m1-6h0m2 6h0m25 0h0m4-3h0m13 2h0m18-4h0m-125 10h0m23 3h0m32-4h0m0-1h0m32-1h0m7 3h0m0-4h0m3 1h0m25 2h0m1 2h0m-112 8h0m54-1h0m6-3h0m45-1h0m60 0h0m-168 8h0m10 2h0m71 2h0m38-1h0m43 4h0m-106 2h0m0 3h0m1 0h0m20 1h0m11-5h0m34 1h0m38 2h0m-150 9h0m3 1h0m86 1h0m3 0h0m-111 2h0m11 3h0m2 1h0m30-3h0m38 1h0m19 0h0m-33 10h0m8 4h0m-28 12h0m30 6h0m24 1h0m6 3h0m-73 7h0m7 0h0m14 1h0m51-2h0m26-2h0m-109 6h0m-33 19h0m73 4h0m21-4h0m36 5h0m-111 11h0m122-3h0m-223 22h0m77 15h0m104-2h0m-264 9h0m265-1h0m-6 5h0m4 2h0"/>
<path stroke="#fa8a68" stroke-opacity="0.5" stroke-width="5.4" d="M925 547h0m8 7h0m73 11h0m-140 4h0m106-1h0m2 3h0m81-2h0m2 4h0m-120 10h0m40-1h0m16-5h0m4-1h0m12 3h0m21 1h0m15 3h0m59-2h0m-186 9h0m33-6h0m7 3h0m44 4h0m3-4h0m39 2h0m18 1h0m48-1h0m4 0h0m-181 8h0m1 2h0m104-1h0m6-2h0m74 3h0m-216 2h0m1 4h0m15 1h0m2-4h0m16 1h0m3-3h0m7 6h0m73-3h0m11-1h0m39-1h0m5 2h0m28 3h0m-242 3h0m46 6h0m0-6h0m113 4h0m28-2h0m8-3h0m18 4h0m17 2h0m-122 2h0m25 2h0m43-1h0m14 5h0m46 1h0m73-5h0m15 0h0m-281 6h0m37 4h0m13 1h0m6-5h0m2 7h0m47-3h0m3-2h0m7 1h0m11-1h0m20-1h0m18 4h0m5-4h0m17 6h0m39-4h0m1-2h0m4 2h0m5-2h0m-203 7h0m5 1h0m58 6h0m15 0h0m4-6h0m2-1h0m1 2h0m12 1h0m6 4h0m5-3h0m5 0h0m3-3h0m6 6h0m0-4h0m15-1h0m13 0h0m2 0h0m44 2h0m44-1h0m-236 6h0m72-1h0m6 6h0m22-1h0m25 0h0m6-5h0m6 2h0m7 5h0m40-1h0m6-2h0m20-3h0m139 5h0m1-5h0m-312 10h0m18 0h0m42 2h0m4-5h0m2 6h0m37-1h0m1 2h0m3-2h0m14-3h0m13 2h0m19 3h0m12-1h0m56-1h0m25 0h0m-281 10h0m37-5h0m13 1h0m0 2h0m14 0h0m4-3h0m3-1h0m7 2h0m41-2h0m7 6h0m21-3h0m13 2h0m25-6h0m9 7h0m-238 2h0m149 4h0m23-5h0m40 7h0m8-3h0m68 1h0m11 0h0m9 2h0m-283 8h0m26-5h0m19 4h0m6-2h0m45-2h0m5 1h0m2-1h0m1 3h0m31-5h0m7 6h0m29-1h0m6-2h0m0 3h0m57 0h0m33-2h0m72 1h0m-416 10h0m86-5h0m9 4h0m0-1h0m2-5h0m44 4h0m4-2h0m16 4h0m17-3h0m15-1h0m23 4h0m4-5h0m6 5h0m3-4h0m9-2h0m5 1h0m4 6h0m16 0h0m44-3h0m66 3h0m-337 7h0m17-2h0m49 0h0m1 0h0m13 1h0m9-2h0m18 1h0m5-1h0m4 1h0m35-4h0m5 1h0m1 4h0m0-5h0m21 5h0m17-2h0m8-1h0m2 4h0m14-4h0m9 0h0m8 5h0m2 0h0m14-3h0m18-2h0m23 0h0m8 5h0m9-7h0m5 6h0m2-1h0m-339 8h0m10-4h0m32 1h0m53 3h0m13-5h0m10 5h0m3 0h0m9-5h0m0 6h0m9-5h0m1 5h0m4-3h0m2 3h0m23-4h0m9-2h0m7 6h0m3-1h0m19 1h0m11-2h0m8-4h0m19 1h0m1 4h0m27 2h0m7-6h0m8 3h0m1-3h0m33 2h0m2 1h0m34 3h0m21-5h0m62 2h0m-473 9h0m3 2h0m49-7h0m41 7h0m20-5h0m23 0h0m3-1h0m3 0h0m14 1h0m4 1h0m12 3h0m0-5h0m3 3h0m3-2h0m11 3h0m14 2h0m7-7h0m12 2h0m2 4h0m4 0h0m4-5h0m3-1h0m3 1h0m19-1h0m3 1h0m4 0h0m17 0h0m19 0h0m8 6h0m50-3h0m46 3h0m-377 4h0m39-2h0m13 4h0m4-2h0m16 1h0m49-2h0m7 3h0m9-5h0m0 4h0m10-2h0m19 4h0m17-4h0m7 1h0m16 4h0m11 0h0m16-2h0m2-1h0m3-2h0m7 3h0m3 0h0m12-5h0m8 4h0m45-3h0m-235 7h0m4 3h0m14-3h0m12 4h0m31 3h0m11 0h0m14-6h0m11 4h0m0 1h0m2-1h0m3-3h0m9 3h0m3-2h0m9 1h0m0-2h0m14 3h0m13-4h0m3-1h0m27 0h0m0 4h0m3 1h0m24-1h0m12 2h0m11-4h0m29 0h0m-280 13h0m5-4h0m25 4h0m27-5h0m25 5h0m4-3h0m4-3h0m13 5h0m5-6h0m3 1h0m2-1h0m34 6h0m2-2h0m12 1h0m32-1h0m10-2h0m55 3h0m34 2h0m-268 4h0m16 2h0m57-5h0m3 4h0m4-3h0m32 6h0m11-1h0m36-5h0m1 4h0m18-2h0m8 4h0m6-1h0m11-2h0m11 1h0m6-3h0m49 0h0m48 2h0m-382 4h0m64 3h0m5 4h0m17-6h0m63 6h0m1-5h0m12 1h0m21-3h0m0 4h0m5 1h0m62-4h0m6 1h0m36 0h0m-222 9h0m12 4h0m10-5h0m30 4h0m56-6h0m23 6h0m5-4h0m43 4h0m35-1h0m0 2h0m2-6h0m45 3h0m-300 11h0m50-6h0m26-1h0m3 6h0m26 0h0m1-5h0m14 3h0m5-2h0m1-2h0m5 4h0m38-3h0m28 5h0m-170 3h0m4 5h0m9-3h0m10-1h0m63-1h0m5 3h0m15-1h0m15-3h0m8 2h0m0-1h0m18 5h0m11-6h0m4 3h0m-169 12h0m10-5h0m71 3h0m4-2h0m5-3h0m75 3h0m47 2h0m42-1h0m8 0h0m57-2h0m-297 11h0m42-4h0m16 6h0m13-5h0m14-1h0m7 6h0m20-4h0m4 0h0m6 3h0m37-1h0m9-2h0m6 4h0m5-3h0m1 1h0m65 1h0m41-4h0m-342 7h0m65-1h0m53 4h0m11-1h0m10 2h0m19 2h0m0-7h0m3 5h0m3-1h0m4 3h0m10-1h0m53-4h0m21 1h0m66 0h0m64 0h0m-390 12h0m70 0h0m7-5h0m80 4h0m18 0h0m30-5h0m14 2h0m8 3h0m10-1h0m1 2h0m12-2h0m64-1h0m14-2h0m61-1h0m18 4h0m-362 7h0m4-4h0m6 5h0m46-2h0m6 1h0m15-2h0m19 4h0m2-2h0m5 3h0m69-2h0m15-2h0m5 2h0m21 2h0m40 0h0m54-6h0m-280 7h0m13 3h0m10 0h0m19-2h0m0 5h0m1-4h0m7 3h0m0 2h0m2 0h0m6-7h0m4 2h0m13 0h0m4 2h0m4 3h0m46-6h0m9-1h0m3 4h0m0 1h0m19-4h0m90-1h0m-294 10h0m19 3h0m44-3h0m9 2h0m7-2h0m3 0h0m14 2h0m2 3h0m23-6h0m9 4h0m19 1h0m1-3h0m0 3h0m5-4h0m17-1h0m1 5h0m4-5h0m17 0h0m4 4h0m58-1h0m6-2h0m5 1h0m23-1h0m114-2h0m-369 9h0m56 4h0m1-1h0m23-2h0m47 4h0m2-1h0m6 2h0m5-5h0m29 4h0m55-2h0m-270 9h0m1-5h0m17 6h0m18-2h0m4 1h0m42 1h0m6 0h0m29-6h0m35 7h0m11-2h0m82 2h0m19 0h0m119-5h0m-375 9h0m47-3h0m28 6h0m3 1h0m19 0h0m2-7h0m6 4h0m0-4h0m0 5h0m10 1h0m13-1h0m4-2h0m8 0h0m2 0h0m26 2h0m9-4h0m33 1h0m30 1h0m14 0h0m2 4h0m18-6h0m31 1h0m28 3h0m50-1h0m15 1h0m-384 10h0m13-2h0m37 2h0m77-3h0m42-4h0m9 3h0m5 3h0m67 1h0m36-6h0m33 3h0m50 0h0m-376 8h0m14 0h0m0-2h0m8 5h0m13-5h0m7-2h0m3 2h0m29 3h0m2 0h0m18 0h0m2 1h0m25-1h0m35-4h0m21 3h0m4 0h0m18-1h0m21 1h0m14 0h0m19-1h0m1-3h0m33 2h0m-327 13h0m71-4h0m5 4h0m37-5h0m13 2h0m17-3h0m4 5h0m16-4h0m10 2h0m2 0h0m6-3h0m14 5h0m3 1h0m32-6h0m7 3h0m8-1h0m72-2h0m-172 8h0m11 3h0m30-4h0m36 6h0m12-5h0m0 6h0m14 0h0m18 0h0m57 0h0m6-6h0m15 2h0m26-2h0m-204 9h0m9-1h0m1 6h0m7-7h0m40 7h0m19-7h0m2 2h0m23 3h0m58-5h0m37 3h0m-312 9h0m38-1h0m11 3h0m56-4h0m8 4h0m95-5h0m16 5h0m13-2h0m23 1h0m-275 10h0m16-3h0m15 2h0m8-6h0m15 4h0m19 3h0m35-3h0m0 1h0m1-3h0m4-1h0m11 3h0m47-4h0m14 3h0m11 4h0m3-6h0m5 1h0m10 3h0m62-1h0m-314 10h0m87-4h0m27 2h0m6 1h0m23-5h0m5 6h0m4-5h0m34 0h0m13 4h0m6-3h0m46 0h0m0 4h0m150-2h0m-377 11h0m100-7h0m26 2h0m28 2h0m6 0h0m33-4h0m19 2h0m20-2h0m151 0h0m-367 10h0m73 2h0m6 3h0m9-6h0m20 3h0m11-3h0m9 2h0m46-1h0m65 3h0m10 2h0m-254 5h0m23 1h0m6-4h0m2 2h0m36 1h0m23-3h0m46-1h0m48 1h0m3-1h0m10 2h0m25-1h0m102 2h0m4 0h0m-251 6h0m30-1h0m52 5h0m19-2h0m17 3h0m43-5h0m88 6h0m-277 2h0m97 0h0m24 4h0m2-1h0m29 0h0m27-4h0m7 0h0m128 5h0m-278 5h0m32 5h0m6-3h0m21 3h0m39-7h0m22 5h0m41-4h0m46 2h0m-251 7h0m52-2h0m114 1h0m52 2h0m-238 9h0m199-3h0m-228 7h0m35 7h0m70-5h0m77 2h0m53-1h0m27 0h0m76 0h0m-231 12h0m117-5h0m9 0h0m13 1h0m36 3h0m-174 5h0m73-1h0m20-1h0m64-1h0m-155 9h0m105 3h0m44 2h0m-87 4h0m65 4h0m19-4h0m-12 7h0m-118 8h0m17 4h0m69-4h0m-47 8h0m269 0h0m-187 7h0m16 1h0m-137 15h0m75 61h0m-17 27h0"/>
<path stroke="#f54b27" stroke-opacity="0.45" stroke-width="5.4" d="M1175 609h0m-175 14h0m-46 8h0m19-3h0m2-3h0m22-1h0m16 2h0m62 5h0m16-3h0m5-1h0m-146 10h0m10-1h0m15-4h0m48 1h0m38 1h0m2-1h0m2 4h0m9-1h0m3 2h0m44 1h0m-213 4h0m42 0h0m18 1h0m8 2h0m1 1h0m6-4h0m2-2h0m2 5h0m10-1h0m3-4h0m4-1h0m0 6h0m2-5h0m5 6h0m8-7h0m1 0h0m5 3h0m22 0h0m23 0h0m69 1h0m-214 11h0m2-2h0m49 1h0m8 1h0m1-3h0m1 3h0m2-5h0m13 0h0m24 5h0m41-2h0m1-4h0m13 5h0m4 0h0m28-2h0m13-2h0m22 3h0m78 0h0m-302 4h0m56 2h0m20 3h0m3 0h0m11-1h0m27 2h0m1-1h0m8-1h0m10-2h0m9 1h0m6 1h0m3-2h0m6-3h0m2 5h0m4-3h0m37 0h0m7-1h0m14 3h0m23-3h0m-290 14h0m19-4h0m21 2h0m9 1h0m23-1h0m11 0h0m8-2h0m3-1h0m15 2h0m1-1h0m2 1h0m1-2h0m15 3h0m4-3h0m9 0h0m5 2h0m6-4h0m2 1h0m4-1h0m14 2h0m2 2h0m35-2h0m19 2h0m10-4h0m6 7h0m32-5h0m4 2h0m5 0h0m-286 6h0m8 2h0m20-4h0m14 4h0m3-1h0m16-1h0m2-1h0m20 0h0m3 1h0m5 1h0m21-1h0m6 3h0m1-3h0m1 0h0m4 5h0m6-5h0m5-1h0m1 5h0m1-2h0m8 3h0m2-3h0m19-4h0m1 6h0m5-5h0m1 4h0m4 1h0m2 0h0m3-2h0m7-4h0m11 0h0m13 7h0m9-1h0m10-1h0m23-5h0m0 2h0m25 0h0m7-1h0m28 0h0m5-1h0m-297 11h0m27 1h0m15 2h0m16 0h0m17-4h0m33 4h0m1-6h0m0 5h0m3-1h0m0 2h0m0-1h0m5-5h0m1 2h0m2 3h0m3 0h0m6-2h0m9 4h0m6-1h0m1-1h0m3 1h0m17 1h0m1-3h0m5 2h0m9-1h0m9-2h0m2 0h0m3 0h0m2 3h0m12 0h0m19 0h0m3-4h0m17 4h0m39-6h0m33 4h0m24-3h0m-385 13h0m54-3h0m8-3h0m5 0h0m5 6h0m8-2h0m2 3h0m6-3h0m4-2h0m12 2h0m0 1h0m6-3h0m15 0h0m13 2h0m2-2h0m3 4h0m1 0h0m9-2h0m2 2h0m4-3h0m4 0h0m2-2h0m4 0h0m2 0h0m2 1h0m4 0h0m9 1h0m2 1h0m3 2h0m2-3h0m13-1h0m0 1h0m10 2h0m7 0h0m0 2h0m2-4h0m6 3h0m0-6h0m16 3h0m14 2h0m5-5h0m4 0h0m3 2h0m2-2h0m2 0h0m2 1h0m20 4h0m5-3h0m1 2h0m16 1h0m8 1h0m15 1h0m7-5h0m-331 13h0m12-7h0m13 1h0m2 5h0m3-2h0m13 2h0m4 1h0m7-7h0m8 6h0m1 1h0m1-3h0m18 3h0m9-1h0m0-5h0m5 3h0m7 3h0m8-7h0m3 3h0m1 3h0m4-4h0m1 1h0m4 3h0m6-3h0m2 2h0m6-4h0m3 3h0m5 3h0m6-4h0m3-3h0m15 0h0m7 5h0m2 1h0m3 1h0m5 0h0m3-2h0m6 1h0m1-1h0m3 2h0m11-7h0m18 7h0m3 0h0m16-1h0m1-1h0m3-2h0m1 0h0m1 4h0m4 0h0m19-7h0m10 5h0m4-1h0m-260 6h0m15 0h0m8-1h0m1 1h0m7 5h0m8-7h0m4 6h0m3 1h0m0-6h0m4 1h0m1-1h0m3 5h0m1-4h0m15 5h0m1-2h0m1-1h0m4-4h0m15 0h0m8 6h0m12-6h0m0 7h0m3-7h0m1 0h0m9 4h0m2 1h0m6 1h0m6 0h0m2-1h0m4-2h0m3 4h0m1-6h0m3 0h0m4 2h0m1 0h0m3 3h0m8-4h0m3 1h0m1-3h0m12 2h0m3 4h0m2-1h0m1-1h0m7-3h0m3-1h0m5 2h0m6-1h0m2 1h0m2-2h0m1 4h0m2 2h0m4-6h0m5 1h0m0 1h0m2 2h0m4 0h0m10-3h0m7 6h0m15 0h0m0-6h0m2 3h0m-281 5h0m11 1h0m12 1h0m7-1h0m3-1h0m2 4h0m0-5h0m9 6h0m9-5h0m4 4h0m2-1h0m3 2h0m3-5h0m3 2h0m1-2h0m10 4h0m23-5h0m1 5h0m8-2h0m1-2h0m3 5h0m4-6h0m6 1h0m3 4h0m1-1h0m2 0h0m3 1h0m5 2h0m1-7h0m3 6h0m0 0h0m3-2h0m5 1h0m0 2h0m2-6h0m2 4h0m3-5h0m0 6h0m0-3h0m13-1h0m0-2h0m7 6h0m1 1h0m4-7h0m6 1h0m2 2h0m5-3h0m27 4h0m9-1h0m4 2h0m5 0h0m16-4h0m9 1h0m9 2h0m3-3h0m7 0h0m7 5h0m8 0h0m1-1h0m-341 4h0m25 5h0m17-2h0m5 2h0m15-4h0m2 0h0m5 2h0m15-1h0m12 3h0m4 1h0m8-3h0m11 0h0m1-4h0m5 6h0m4 1h0m0 0h0m12-5h0m1 1h0m4 0h0m4-2h0m4 3h0m4 3h0m1-3h0m1 2h0m1 1h0m4-6h0m8 2h0m0-1h0m1-2h0m3 5h0m0-1h0m1-4h0m5 5h0m2 2h0m10-4h0m1 3h0m1-2h0m4-3h0m6 0h0m0-1h0m1 7h0m14-5h0m4-2h0m4 7h0m1-7h0m1 0h0m8 1h0m1 6h0m5-7h0m0 7h0m5 0h0m4-4h0m1 0h0m8 0h0m2 2h0m23-1h0m2-3h0m3 4h0m14-3h0m21 3h0m1-5h0m82 7h0m-382 4h0m5-3h0m17 4h0m2 0h0m30 1h0m14-1h0m5 3h0m0-6h0m5 1h0m9 3h0m6-5h0m9 0h0m0 4h0m3 3h0m4-2h0m3 0h0m2 0h0m4-1h0m2 1h0m0 1h0m5-4h0m8 1h0m1-1h0m2 1h0m2-3h0m5 2h0m1 4h0m5-4h0m0 5h0m7 0h0m1-5h0m4 3h0m3-5h0m3 2h0m1 5h0m3-1h0m1-6h0m9 0h0m0 6h0m1 0h0m3-1h0m2-2h0m7 4h0m1-7h0m1 6h0m1 0h0m1-6h0m1 3h0m1 1h0m7-4h0m8 7h0m6 0h0m2-4h0m6-1h0m3-1h0m0 3h0m2 3h0m13-4h0m11 3h0m2-1h0m1-4h0m23 5h0m-280 4h0m28 0h0m4 3h0m18 0h0m1 1h0m8 1h0m4-6h0m6 5h0m0-3h0m4 2h0m2-4h0m3 3h0m5 3h0m2-3h0m9 1h0m7-3h0m0-1h0m1 1h0m0 1h0m2-2h0m6 1h0m4 5h0m1-2h0m1-2h0m1 1h0m12-2h0m6 5h0m1 0h0m0-7h0m6 2h0m2 0h0m0 0h0m5 4h0m1-5h0m1 0h0m2 4h0m1-3h0m1 1h0m4-3h0m2 4h0m9-3h0m1-1h0m2 5h0m0 0h0m0 0h0m1 0h0m1-5h0m0 3h0m2 3h0m1-6h0m1 1h0m0 2h0m2 2h0m7-5h0m1 2h0m6 4h0m1-2h0m0 3h0m2 0h0m0-3h0m4-3h0m1 4h0m0 2h0m2-7h0m16 4h0m5-2h0m10 3h0m3-4h0m9 6h0m6 0h0m0-5h0m2 0h0m6 4h0m7-4h0m8-2h0m9 3h0m23-3h0m-301 15h0m26-7h0m5 5h0m5 2h0m6 0h0m1-5h0m15-2h0m1 5h0m9-2h0m4 3h0m0-1h0m4 1h0m0-3h0m6 1h0m3 1h0m0 0h0m4-2h0m3 2h0m5-2h0m0 3h0m2-1h0m0-4h0m3 1h0m4-2h0m1 2h0m2 4h0m0 0h0m2-2h0m3 2h0m1-2h0m6-4h0m5 2h0m0 5h0m3-1h0m1-2h0m0 3h0m3-3h0m2 0h0m1-1h0m0-1h0m1-1h0m2-1h0m0 3h0m7-2h0m0 6h0m2-6h0m3 3h0m1-4h0m2 5h0m2 1h0m1 0h0m2-6h0m6 5h0m3-1h0m8 1h0m1-5h0m0 4h0m4 2h0m1 0h0m2 0h0m2 1h0m1-7h0m6 5h0m6-1h0m12 2h0m3-3h0m0-3h0m3 6h0m0-4h0m1 5h0m0 0h0m4-4h0m1-3h0m3 0h0m1 4h0m0 3h0m19-6h0m7 5h0m3 0h0m4-1h0m5-1h0m12-1h0m9 3h0m6-5h0m5 4h0m11 0h0m8 1h0m-368 9h0m4-4h0m4 1h0m3 3h0m49-1h0m5-1h0m4-3h0m2 0h0m13 4h0m10 1h0m3 0h0m6-5h0m3 3h0m1-3h0m12 2h0m2-4h0m1 0h0m4 7h0m2-2h0m0-1h0m3 1h0m5 0h0m1-5h0m5 1h0m6 2h0m6-1h0m4 5h0m1-2h0m1-1h0m6 2h0m0-2h0m2-2h0m1 0h0m2-1h0m0 3h0m1 1h0m5-1h0m0-4h0m2 1h0m4 1h0m4 2h0m4 3h0m2-1h0m0-3h0m4 1h0m2 0h0m1 1h0m0-4h0m2 6h0m1-5h0m2-2h0m2 5h0m1-2h0m3 0h0m2 3h0m1 0h0m4-2h0m2-3h0m1 6h0m1-1h0m2-3h0m1-2h0m4 5h0m7-2h0m0 3h0m0-2h0m2-5h0m6 0h0m0 2h0m1 1h0m4 2h0m1-3h0m5 0h0m10 0h0m4-2h0m16 5h0m1 2h0m2-6h0m3 4h0m0 2h0m6-6h0m1 4h0m4 2h0m7-2h0m24-4h0m1 1h0m2 2h0m28 3h0m8-7h0m-368 9h0m45-1h0m18 5h0m10-3h0m1-2h0m14 2h0m4-2h0m4 6h0m5 1h0m1-7h0m3 1h0m6-1h0m1 2h0m12 3h0m1 0h0m2 1h0m0-5h0m1 3h0m2-3h0m2 0h0m4 4h0m4-5h0m1 0h0m3 1h0m1 5h0m2-5h0m5 6h0m2 0h0m6-2h0m0 2h0m2-4h0m1-3h0m7 5h0m1 1h0m7-5h0m5 4h0m2-3h0m3 4h0m0-1h0m0-5h0m6 6h0m3-2h0m1 2h0m3-4h0m1 3h0m1-3h0m1 4h0m4-3h0m2 2h0m2 1h0m9-1h0m2 0h0m1-1h0m2-2h0m4-2h0m3 1h0m1 5h0m3-3h0m1 3h0m0 0h0m1-2h0m1-3h0m2 0h0m2 3h0m15 3h0m4 0h0m4-7h0m0 3h0m3-1h0m2 1h0m3 0h0m1-2h0m4 6h0m3-3h0m0-2h0m5 1h0m8 1h0m5 2h0m2-2h0m30 0h0m5 3h0m11-6h0m-339 13h0m11-2h0m15 0h0m22 3h0m6-2h0m1-1h0m18-4h0m11 2h0m12-2h0m7 4h0m6 3h0m2-2h0m1-4h0m2 5h0m9-1h0m8 2h0m5-4h0m4 4h0m4 0h0m3-3h0m1-2h0m2 2h0m2 3h0m2-2h0m0-3h0m1 5h0m1 0h0m2-4h0m1 0h0m3 1h0m2 1h0m2-3h0m2 0h0m1 5h0m2-5h0m1 2h0m1 3h0m2-3h0m9 3h0m0 0h0m6-7h0m0 2h0m9 0h0m1 2h0m14-3h0m2 5h0m10 0h0m1-1h0m0-2h0m1-1h0m0-2h0m2 7h0m1-5h0m1-2h0m1 4h0m5 2h0m0 0h0m3-5h0m1 6h0m3-3h0m1-3h0m3 1h0m3 0h0m1 0h0m1 5h0m4-3h0m3-2h0m2 2h0m7 3h0m2-5h0m2-2h0m3 4h0m1-3h0m4 5h0m1-4h0m2 0h0m3 0h0m8 4h0m3-2h0m1 3h0m6 0h0m3-7h0m5 0h0m5 2h0m23-2h0m4 6h0m20-1h0m-370 7h0m5 1h0m27-4h0m6 6h0m11 0h0m0 0h0m5-7h0m1 7h0m2-4h0m3 0h0m3-2h0m0 4h0m7-1h0m7 2h0m1-1h0m17 2h0m0-2h0m5 2h0m2-6h0m5 0h0m0 4h0m8-5h0m4 3h0m0-2h0m4-1h0m7 1h0m2 5h0m4-5h0m1-1h0m2 3h0m3-1h0m1 1h0m0 3h0m0-5h0m2 1h0m0-2h0m2 5h0m0-5h0m2 5h0m3-3h0m1 5h0m4-4h0m6 0h0m3-3h0m7 2h0m9 1h0m5 2h0m0-4h0m2 6h0m1-7h0m0 2h0m2-2h0m1 5h0m2-1h0m0-3h0m2 1h0m1-1h0m1 2h0m0-2h0m3 2h0m1 4h0m0-2h0m2-2h0m6 1h0m10-1h0m1 2h0m3 2h0m0-3h0m2-3h0m1-1h0m3 7h0m4 0h0m2-7h0m1 3h0m0 1h0m2-3h0m1 0h0m5 3h0m7-1h0m3 1h0m9 1h0m3 0h0m1-1h0m1-3h0m1-1h0m2 0h0m12 3h0m2-2h0m2 2h0m6-3h0m4 2h0m6-1h0m0 1h0m11 5h0m21-2h0m3-5h0m9 2h0m34-2h0m-376 13h0m4-2h0m2 0h0m19-1h0m8-1h0m6 5h0m13 0h0m13-3h0m1 2h0m1-2h0m0 3h0m4-2h0m0-3h0m4 2h0m5 1h0m8 0h0m1 1h0m11-1h0m1 1h0m3-1h0m1 2h0m1 0h0m1-2h0m0 1h0m8 1h0m3-5h0m1 0h0m1 6h0m3-1h0m1-5h0m6 3h0m3 0h0m1 2h0m1-5h0m0 0h0m2 1h0m1 4h0m0-3h0m0 4h0m2-5h0m2 4h0m6-3h0m1-2h0m1 0h0m4 2h0m1-1h0m2-2h0m8 1h0m2 1h0m1 1h0m3 3h0m1-5h0m1 1h0m2-1h0m1 4h0m5-1h0m5 1h0m0 0h0m6 2h0m2-4h0m3-3h0m2 6h0m1-6h0m1 1h0m2 3h0m1 0h0m0-1h0m1 1h0m0-4h0m1 4h0m1 3h0m5-6h0m3 6h0m1-7h0m2 4h0m1-4h0m1 1h0m6 5h0m1-2h0m1-1h0m1-3h0m8 5h0m2-2h0m2 2h0m7-1h0m8 3h0m1-6h0m2-1h0m2 5h0m12-4h0m8 0h0m2 6h0m2-7h0m4 6h0m14-1h0m12 2h0m20-5h0m18 2h0m-333 5h0m10-1h0m14 3h0m12-1h0m3 4h0m4 1h0m5-7h0m4 5h0m4-5h0m1 2h0m13-1h0m8-1h0m1 5h0m13-4h0m6 6h0m5-4h0m5 4h0m1-7h0m0 2h0m2 3h0m1-3h0m0-2h0m1 0h0m10 4h0m3 3h0m1-4h0m1 1h0m1-2h0m0 3h0m3-1h0m2 3h0m4-1h0m1 0h0m0-4h0m10 2h0m1 3h0m0-2h0m0-3h0m1 4h0m1-6h0m6 5h0m2-3h0m0 0h0m1 5h0m2 0h0m0-4h0m1-1h0m3 4h0m2-6h0m1 7h0m0-1h0m2-1h0m2-5h0m1 6h0m1 0h0m2-6h0m3 5h0m3-1h0m1-2h0m3 2h0m1 3h0m1-7h0m4 6h0m2 1h0m1-1h0m1 0h0m0 0h0m0-2h0m0-1h0m2 3h0m0-5h0m2 2h0m0 4h0m4-3h0m1-1h0m1 4h0m1-5h0m0 1h0m1-2h0m3 5h0m5-3h0m3 2h0m1 0h0m11-5h0m0 7h0m4-4h0m1 3h0m3 1h0m3-3h0m4 0h0m2-4h0m0 6h0m4-1h0m2 1h0m2-6h0m2 7h0m1-7h0m12 4h0m1-2h0m4 5h0m4-7h0m0 5h0m3 1h0m0-6h0m0 2h0m2 1h0m5-3h0m0 0h0m5 5h0m2-4h0m14 2h0m3 1h0m28 2h0m0 1h0m14-1h0m-368 2h0m2 1h0m13 3h0m5-3h0m38-1h0m5 6h0m0-2h0m5 3h0m3-7h0m6 2h0m1 1h0m1-3h0m3 2h0m3 5h0m5-6h0m0 3h0m2-2h0m9 5h0m2-7h0m3 7h0m0-1h0m3-2h0m1 0h0m0-4h0m2 7h0m2 0h0m1-3h0m2 1h0m3 1h0m0 1h0m0-5h0m0-2h0m2 2h0m0-2h0m5 7h0m3-6h0m0-1h0m2 6h0m5-3h0m2 2h0m4-3h0m0-1h0m2 6h0m1-7h0m2 0h0m1 1h0m2 6h0m0-3h0m0-3h0m3-1h0m1 3h0m2 1h0m0 1h0m6 0h0m2-3h0m2 5h0m1 0h0m2 0h0m5-4h0m2-3h0m5 7h0m3-5h0m4 2h0m1 2h0m1-6h0m2 0h0m2 2h0m5 1h0m4 3h0m0-6h0m0 2h0m1 4h0m0-2h0m2-4h0m2 0h0m4 5h0m0-1h0m3-3h0m2 0h0m1 0h0m0 3h0m2-4h0m1 2h0m1-1h0m1 5h0m0-3h0m4 2h0m2-1h0m6-1h0m0 1h0m1 0h0m1-4h0m1 6h0m2-5h0m2 3h0m0-1h0m1 0h0m3-1h0m2 5h0m0-2h0m0-2h0m1 2h0m7 0h0m2-1h0m1 1h0m3 0h0m2-5h0m2 5h0m0-2h0m2 2h0m7-5h0m3 7h0m1-5h0m3-2h0m2 0h0m4 2h0m6 1h0m1 3h0m6 0h0m17-4h0m18 2h0m1 0h0m24 1h0m3-2h0m-360 5h0m16 7h0m13-6h0m4-1h0m11 4h0m5 0h0m0 0h0m2 3h0m6-1h0m2-3h0m5 2h0m7-2h0m6 2h0m0-2h0m4-2h0m4 6h0m1-6h0m2 3h0m1 1h0m8-5h0m4 7h0m0-3h0m6 3h0m1-4h0m0-3h0m1 0h0m9 6h0m0-4h0m1 4h0m2-6h0m0 3h0m2 1h0m2-2h0m1 5h0m1 0h0m2-4h0m0-1h0m2 3h0m2 1h0m3-6h0m0 6h0m2 1h0m7 0h0m1-1h0m3 0h0m0 1h0m1-7h0m0 3h0m3 4h0m1-5h0m0 1h0m1 3h0m1-5h0m1 5h0m1 1h0m1-6h0m1 0h0m2 2h0m0-2h0m2 3h0m2 0h0m1-4h0m1 2h0m1 2h0m2-4h0m1 4h0m1 1h0m0-1h0m1-1h0m1-1h0m3 1h0m1 2h0m0 0h0m0-3h0m1 2h0m0-4h0m2 7h0m2-5h0m0 0h0m1 5h0m1 0h0m1-5h0m1-1h0m2 6h0m2-7h0m3 7h0m0-7h0m2 2h0m0-2h0m1 5h0m3-5h0m1 4h0m0 0h0m1-1h0m1 0h0m3 3h0m1 0h0m4-5h0m4 1h0m1 3h0m0-5h0m0 1h0m2 0h0m1 0h0m1 4h0m4 1h0m0-1h0m1-4h0m4 1h0m2 4h0m2-4h0m7 0h0m1 0h0m4-2h0m4 0h0m1 2h0m3 2h0m1 3h0m1-7h0m4 5h0m7 2h0m1-2h0m5-1h0m1-2h0m2-1h0m1-1h0m1 7h0m2-4h0m5 2h0m2 2h0m1-6h0m5 2h0m18-2h0m16 3h0m11 1h0m8 1h0m-361 7h0m0-1h0m12 0h0m31 1h0m10-2h0m8 1h0m3 1h0m4 2h0m5-2h0m11 1h0m2-2h0m0-4h0m1 7h0m6-4h0m5 3h0m0-3h0m0 4h0m2-6h0m1 6h0m3-2h0m1-5h0m2 1h0m6 2h0m4 4h0m0-4h0m4-3h0m2 1h0m2 0h0m0 2h0m2-3h0m2 2h0m0-2h0m2 7h0m5 0h0m4-1h0m0-3h0m1 0h0m3 0h0m0 0h0m3 2h0m3 1h0m2 0h0m1-4h0m1 0h0m3 0h0m2 3h0m0-3h0m2 1h0m4 3h0m0-1h0m6-1h0m0 0h0m2-1h0m2 4h0m0-5h0m2-1h0m1-1h0m2 3h0m2-3h0m2 6h0m0-5h0m2 0h0m1 4h0m0-3h0m0 5h0m0-1h0m5-3h0m2 3h0m0-4h0m1 5h0m0-4h0m1-1h0m1 2h0m3 2h0m1-3h0m7 0h0m2-3h0m0 3h0m2-3h0m2 1h0m2-1h0m3 6h0m4 0h0m2-1h0m3-2h0m3 0h0m1-2h0m1-1h0m0 0h0m1 6h0m1-5h0m1 0h0m0 5h0m0 0h0m0 0h0m2-2h0m6-3h0m1 1h0m5 3h0m1 2h0m5-6h0m0 3h0m2 3h0m1-5h0m2 1h0m6-3h0m8 3h0m6 3h0m1-3h0m2-1h0m3 2h0m5-2h0m23 5h0m3-1h0m3 0h0m3-5h0m7 6h0m22-7h0m2 7h0m2-4h0m29 4h0m1-5h0m-418 12h0m31-3h0m27-1h0m3 5h0m0-5h0m12-1h0m6 5h0m5-6h0m5 3h0m4-2h0m10 4h0m6-4h0m11 6h0m0-2h0m1-2h0m2-3h0m10 6h0m2 0h0m1 0h0m0 1h0m4-2h0m5-3h0m5 1h0m1 4h0m0-4h0m0 3h0m2-2h0m0-3h0m0-1h0m2 2h0m4-2h0m1 7h0m3 0h0m1-6h0m4 5h0m1 0h0m3 1h0m0-1h0m1 1h0m4-6h0m1 2h0m0 1h0m0 3h0m3 0h0m2-7h0m8 6h0m1 1h0m3-2h0m2 2h0m1-6h0m0 0h0m1 0h0m2 1h0m5 0h0m1 1h0m1-2h0m1 3h0m2 1h0m2-1h0m1 2h0m1-4h0m3 4h0m1 1h0m1-1h0m0-2h0m1-3h0m1 5h0m1-3h0m1 2h0m1 0h0m4-2h0m1 4h0m0-4h0m3-2h0m0 1h0m2 2h0m2-3h0m1 2h0m3 2h0m1-1h0m2-4h0m0 0h0m1 6h0m0 0h0m1 0h0m2-4h0m3 1h0m1-1h0m2-2h0m3 0h0m1 6h0m4-6h0m0 2h0m1 2h0m3-1h0m3-1h0m1 3h0m3 0h0m2-3h0m2 1h0m4 2h0m0 2h0m1-1h0m0 0h0m3-6h0m2 7h0m14-1h0m11-6h0m1 6h0m0 0h0m0-5h0m5-1h0m1 5h0m0 2h0m16-6h0m8 6h0m2-2h0m30 0h0m8-4h0m-350 14h0m17 0h0m13-3h0m6 2h0m18 1h0m0-1h0m8 1h0m14-2h0m5-1h0m2-2h0m6-1h0m2 5h0m0 0h0m1 1h0m1-6h0m2 4h0m4 0h0m11 1h0m1-6h0m0 5h0m1 0h0m6 1h0m2-6h0m0 7h0m0-2h0m0 2h0m3-1h0m1-5h0m1 6h0m1-1h0m2 0h0m2-3h0m4 2h0m2 1h0m6-6h0m3 1h0m1 1h0m0 4h0m3-2h0m0-1h0m1-3h0m0 4h0m1-4h0m1 5h0m1 0h0m0-2h0m1-3h0m0 4h0m1-4h0m0 2h0m2 0h0m0 5h0m4-4h0m2-2h0m5 6h0m0-4h0m1-2h0m1 5h0m0-2h0m2 3h0m0 0h0m1-6h0m0 3h0m0-4h0m2 6h0m1 0h0m4-6h0m4 0h0m5 6h0m4 0h0m3-2h0m3-1h0m4 3h0m3-3h0m0 2h0m3-1h0m1 1h0m0-1h0m1 2h0m4-6h0m2 0h0m0 0h0m0 3h0m3-1h0m5 4h0m4 0h0m2-1h0m0 0h0m7-4h0m3 6h0m3-4h0m0 2h0m2 2h0m3-1h0m3-2h0m3-1h0m1-1h0m6 4h0m1-2h0m1 3h0m4-2h0m6 2h0m3-5h0m3-2h0m3 7h0m2 0h0m4-3h0m21 1h0m0 1h0m8-5h0m6 1h0m5 3h0m0 1h0m13-6h0m8 6h0m27-4h0m-405 13h0m10-1h0m50-4h0m1 4h0m17-4h0m4 1h0m1 3h0m6-3h0m0 1h0m4-3h0m7 5h0m1 1h0m4-4h0m1-3h0m1 2h0m5 1h0m4 0h0m0-2h0m16 1h0m1 4h0m0-1h0m0-2h0m2-2h0m3 4h0m2-2h0m0 1h0m2 2h0m2-4h0m0 1h0m4 1h0m1-4h0m2 3h0m0 4h0m1-1h0m2-6h0m1 2h0m1 4h0m2-1h0m2-5h0m3 4h0m2 1h0m0-5h0m1 0h0m3 3h0m2-3h0m4 7h0m0-5h0m1-1h0m0 5h0m2-4h0m1 4h0m1-2h0m1-1h0m1-2h0m1 3h0m3 1h0m0 0h0m0 2h0m1-2h0m0 1h0m0-1h0m2-1h0m3-3h0m0 4h0m0-1h0m1 3h0m3 0h0m1-5h0m0 2h0m0 1h0m0 0h0m2-4h0m0 0h0m1 1h0m0 1h0m0 1h0m1-4h0m0 2h0m1-2h0m1 1h0m3 4h0m1-3h0m1-2h0m1 0h0m1 3h0m1-1h0m3 4h0m0-3h0m1 4h0m0-1h0m1-3h0m0 3h0m0 0h0m0-4h0m0 2h0m2 2h0m3-6h0m3 4h0m2 2h0m0-3h0m1 0h0m0 4h0m1-4h0m4 0h0m0-2h0m4 6h0m4-5h0m3-1h0m2 5h0m1 0h0m0-6h0m3 4h0m2-1h0m1 1h0m2 3h0m3 0h0m3 0h0m0-7h0m2 4h0m1 1h0m8 2h0m5 0h0m2-4h0m3-2h0m3 4h0m6 0h0m2 2h0m5-1h0m3-5h0m0 2h0m3-1h0m0 3h0m5-3h0m8 5h0m5 0h0m7-1h0m0 1h0m1-7h0m6 3h0m3-2h0m4 1h0m2 2h0m7-2h0m11 5h0m-331 8h0m1 0h0m20-4h0m0-1h0m5-1h0m3 1h0m0 3h0m19 2h0m5-3h0m8-3h0m3 0h0m6 3h0m5-2h0m1 5h0m3-5h0m8-2h0m1 7h0m10-4h0m3 1h0m1 0h0m2 1h0m1 1h0m0-3h0m5-1h0m2-2h0m2 5h0m2 0h0m3 0h0m5 2h0m8 0h0m2-7h0m1 4h0m0-2h0m3 0h0m0 5h0m1-7h0m0 5h0m2 2h0m7-7h0m1 1h0m5 6h0m2-7h0m0 7h0m1-6h0m0 0h0m1-1h0m5 2h0m0 4h0m1-5h0m2 3h0m1 3h0m2-7h0m3 3h0m1 2h0m1 1h0m2-1h0m2-3h0m4 4h0m1-5h0m0 2h0m4-2h0m2 3h0m1 1h0m1-3h0m1 2h0m1-3h0m0 6h0m2-7h0m0 4h0m1-2h0m0-1h0m1 2h0m1-1h0m6-1h0m0 3h0m1 1h0m0-2h0m2 2h0m5-4h0m3 4h0m1-1h0m2-3h0m1-1h0m1 0h0m3 0h0m1 3h0m3 0h0m1 2h0m1 0h0m1 0h0m2 1h0m4-1h0m2-2h0m0 2h0m2 2h0m2-3h0m2-1h0m1-3h0m3 7h0m1-1h0m6 1h0m1-7h0m9 4h0m5-2h0m3-1h0m0 0h0m1 0h0m10 3h0m27-2h0m29 3h0m5 0h0m20 1h0m7 1h0m-371 1h0m6 5h0m9-3h0m13 3h0m1-3h0m30-1h0m1 1h0m0 4h0m17 0h0m0-4h0m3 1h0m0 0h0m9 1h0m2 2h0m2 1h0m2-1h0m1-4h0m1 0h0m1-2h0m1 2h0m3 3h0m3-3h0m2 1h0m4-1h0m0 2h0m1-2h0m2 3h0m4 2h0m1-1h0m0-4h0m1 0h0m0-1h0m2 4h0m1-4h0m1 2h0m3 3h0m3-1h0m2-5h0m3 4h0m1 1h0m5 1h0m3-6h0m3 5h0m4 2h0m0-2h0m2 0h0m0 1h0m1-5h0m2 3h0m0-2h0m1 3h0m1-4h0m0-1h0m1 4h0m1 2h0m2 1h0m1-6h0m7 2h0m4 4h0m1-3h0m4-4h0m1 7h0m2 0h0m1 0h0m0 0h0m2-5h0m2 3h0m1-4h0m0 2h0m1-1h0m0 0h0m3 4h0m0 1h0m1 0h0m0-1h0m2-6h0m1 5h0m0-5h0m1 5h0m2-5h0m3 2h0m0 1h0m1 1h0m1 1h0m1-2h0m1 3h0m1-1h0m1-3h0m2 2h0m1 1h0m0-2h0m0 1h0m1 1h0m3-1h0m1 0h0m4 3h0m0-2h0m0 1h0m1-6h0m0 3h0m1 1h0m3-2h0m3-2h0m0 1h0m1 4h0m0 2h0m2-7h0m0 7h0m3-5h0m1 5h0m1 0h0m6-3h0m2 2h0m1-1h0m1 2h0m2-2h0m0-5h0m1 4h0m3-1h0m5-3h0m0 6h0m6-3h0m3-1h0m0 3h0m2 0h0m6-1h0m2 0h0m13 1h0m0-5h0m6 4h0m4 2h0m1-5h0m4 5h0m8-1h0m1 0h0m10-1h0m10-1h0m7 0h0m-304 12h0m8-4h0m6-3h0m1 6h0m5-3h0m5 2h0m4 0h0m1-2h0m3 2h0m4-4h0m1 5h0m1-3h0m8 1h0m2 3h0m5 0h0m7-3h0m0 0h0m2-2h0m0 0h0m4 3h0m1 2h0m1-5h0m4 4h0m3-5h0m2 5h0m0-5h0m3 2h0m2 2h0m1-3h0m5 5h0m0-1h0m3-3h0m1-3h0m1 4h0m6 1h0m2 2h0m3-1h0m1-4h0m1-1h0m0 6h0m7-7h0m0 4h0m0-1h0m2 1h0m3-3h0m4 3h0m2-1h0m0-3h0m6 5h0m0-5h0m2 5h0m2-3h0m1 3h0m0-4h0m0 0h0m4 5h0m0-6h0m1 4h0m5-2h0m3 1h0m0 3h0m1-4h0m0 5h0m2-5h0m3 3h0m1-4h0m0 2h0m2-1h0m1 2h0m0-1h0m0-3h0m1 2h0m1-1h0m1 3h0m4-4h0m1 3h0m3 4h0m5-7h0m2 2h0m1 4h0m0-5h0m2 2h0m2-2h0m0-1h0m0 1h0m8 0h0m0-1h0m6 6h0m1-3h0m4 3h0m0 0h0m2 1h0m0-6h0m2 5h0m9-1h0m1 1h0m2-1h0m5-5h0m1 1h0m1 3h0m2 3h0m1 0h0m1-7h0m1 5h0m3-2h0m3 4h0m7-1h0m6-6h0m2 6h0m0-6h0m5 1h0m2 5h0m2-1h0m3-1h0m17-1h0m11 4h0m1-4h0m48 1h0m1-3h0m2 1h0m-397 12h0m11-6h0m6 5h0m22-4h0m3-1h0m6 4h0m24 1h0m1-5h0m8 1h0m0 3h0m3-1h0m1 1h0m2 1h0m8-4h0m6 0h0m3 3h0m1-1h0m8-1h0m5 4h0m4 0h0m1 0h0m2-6h0m1 6h0m0-6h0m2 1h0m3 0h0m1 5h0m0 1h0m1 0h0m0 0h0m5-7h0m2 1h0m5 4h0m3 2h0m7-6h0m1 2h0m1-2h0m1 5h0m4-5h0m4 2h0m0-1h0m1 0h0m3 5h0m0-2h0m7-3h0m3 4h0m1-5h0m2 0h0m1 1h0m1 2h0m0 0h0m1 3h0m0-6h0m5 3h0m1-3h0m1 5h0m1-5h0m1-1h0m2 6h0m2-5h0m2 5h0m2-5h0m2 3h0m2-3h0m7 3h0m2 2h0m2-3h0m0 3h0m0-5h0m0 2h0m1 4h0m2-1h0m1 0h0m2-1h0m4-1h0m8 2h0m0 1h0m6-3h0m2 0h0m1 0h0m6 3h0m7-6h0m2 6h0m4-2h0m0 1h0m0-3h0m1 3h0m1-3h0m2 0h0m1 4h0m0-3h0m10 3h0m1-3h0m0 2h0m2-2h0m4 2h0m2-6h0m5 0h0m1 7h0m7-6h0m8 6h0m5-2h0m2-4h0m2 4h0m14-5h0m5 2h0m23-2h0m7 3h0m7-1h0m14 0h0m-382 9h0m13 2h0m18 2h0m6-1h0m13-5h0m6 0h0m1 2h0m2 4h0m17-5h0m4 3h0m1-2h0m4 2h0m3-5h0m5 1h0m5 0h0m2 5h0m1-4h0m9-2h0m1 0h0m7 0h0m0 2h0m2-2h0m1 5h0m0 1h0m1 1h0m3-3h0m7 2h0m11 1h0m1-5h0m3 4h0m2-6h0m2 6h0m2-6h0m1 0h0m4 0h0m0 3h0m3-3h0m4 3h0m3 3h0m1-3h0m6-2h0m0 0h0m3 5h0m0-3h0m1-1h0m0 0h0m3 2h0m0 0h0m7-3h0m0 2h0m1 2h0m0 2h0m0-3h0m3-1h0m7 3h0m0 1h0m0-6h0m0-1h0m1 0h0m2 1h0m1 5h0m2-1h0m2-2h0m0-2h0m1 5h0m1-1h0m1 0h0m4 2h0m2 0h0m2-3h0m1 0h0m1 0h0m1 3h0m1-5h0m7-1h0m2 3h0m0-2h0m2-1h0m3-1h0m3 1h0m10-1h0m3 5h0m2 1h0m6-5h0m0 0h0m7 1h0m5-2h0m3 6h0m6-5h0m7 3h0m13 0h0m5-2h0m4-2h0m3 0h0m2 5h0m11-4h0m7 3h0m1 0h0m3-4h0m48 5h0m0-2h0m-396 10h0m64-4h0m8 5h0m1-4h0m1 5h0m0-6h0m15 1h0m1 5h0m17-2h0m2-5h0m0 5h0m2-4h0m4-1h0m6 6h0m4-2h0m3 3h0m5-6h0m1 3h0m1-4h0m12 6h0m2-6h0m0 6h0m5 1h0m7-1h0m3 1h0m0 0h0m0-1h0m5-3h0m0-2h0m1 1h0m1 1h0m4-3h0m5 0h0m4 4h0m2-2h0m1-1h0m0 0h0m2 1h0m1 3h0m0 1h0m1-6h0m2 7h0m0-5h0m1 5h0m2-1h0m0-1h0m1 1h0m3-6h0m1 0h0m1 6h0m0 1h0m1-1h0m3-3h0m3 2h0m0-2h0m1 3h0m3-2h0m4-2h0m11 2h0m2-2h0m0-2h0m2 5h0m7 0h0m1-4h0m5 2h0m0-2h0m7 5h0m4-3h0m1 4h0m3-3h0m3 2h0m0-6h0m1 6h0m9-6h0m3 2h0m4 0h0m1 3h0m0 2h0m2-3h0m0 3h0m3-4h0m4-3h0m2 1h0m2 0h0m6 3h0m3-2h0m23 2h0m0 0h0m3-1h0m1 4h0m2 0h0m8-7h0m14 7h0m2-1h0m-325 9h0m18-5h0m5 2h0m13-2h0m16-1h0m1-1h0m2 7h0m0 0h0m8-2h0m3-1h0m5-4h0m13 0h0m1 6h0m9-4h0m0 2h0m0-4h0m2 0h0m10 7h0m16-6h0m4 1h0m2 5h0m9-6h0m3 6h0m4 0h0m2-5h0m4 5h0m1 0h0m5-3h0m0-2h0m3 3h0m3-3h0m0 4h0m1-2h0m5 2h0m2-3h0m3 2h0m4 1h0m2-3h0m1 2h0m9-2h0m1-1h0m0 5h0m6-6h0m3 4h0m3 1h0m3-4h0m1 3h0m7-2h0m1-3h0m1 2h0m2 0h0m1 0h0m2 1h0m0 4h0m2-1h0m7-5h0m4 6h0m6-4h0m0 3h0m3-1h0m11-2h0m2 3h0m10-3h0m6 4h0m11-1h0m1-5h0m13 6h0m8 0h0m0 0h0m1-4h0m3 0h0m6 3h0m21-1h0m11-1h0m-316 8h0m3 0h0m1-1h0m1-3h0m1 6h0m24-1h0m9-2h0m9 4h0m14 0h0m10-5h0m1 0h0m0 4h0m1-1h0m3 2h0m2-2h0m2-3h0m0-2h0m12 1h0m3 1h0m3 5h0m6-7h0m1 2h0m0 1h0m1 3h0m1-2h0m2-1h0m5 3h0m1 0h0m13-4h0m2 5h0m1-3h0m0 3h0m9-1h0m0 0h0m5-2h0m6-4h0m0 2h0m3 2h0m2 3h0m7 0h0m1-2h0m1 2h0m0 0h0m2-1h0m3-2h0m2-3h0m1-1h0m2 6h0m4 1h0m1-7h0m1 5h0m9-4h0m2 3h0m12 0h0m6-2h0m9 1h0m1 3h0m4-3h0m0-1h0m4 3h0m2-5h0m11 6h0m2 1h0m20-3h0m1-3h0m23 1h0m3 4h0m32-6h0m-366 8h0m16 6h0m18-3h0m3-1h0m35 2h0m16-2h0m2 0h0m6 1h0m6 1h0m3 1h0m2-1h0m1-1h0m8 2h0m0 0h0m3-3h0m5 3h0m5 2h0m2-2h0m3 1h0m0-4h0m6 5h0m0-2h0m2 1h0m1-3h0m0 0h0m3 3h0m3-3h0m1-3h0m4 3h0m7-3h0m2 0h0m13 6h0m5-1h0m2-3h0m0 3h0m1-2h0m4 3h0m4-1h0m1 1h0m0 1h0m1-7h0m1 3h0m1-1h0m5 1h0m2-1h0m0 1h0m6-2h0m2 1h0m9 2h0m2-2h0m1 1h0m0 0h0m5 4h0m3-2h0m10 0h0m3-3h0m11 3h0m1 2h0m0-6h0m5 2h0m4 3h0m3 1h0m0-5h0m2 3h0m2-5h0m2 1h0m8-1h0m2 1h0m2 4h0m7 2h0m12-5h0m3 4h0m6-2h0m5-1h0m9 3h0m10-4h0m7 5h0m15-5h0m13 4h0m-365 9h0m19 0h0m16-6h0m30 6h0m5-7h0m1 6h0m2-2h0m5 3h0m2-6h0m2 6h0m7-3h0m3 2h0m5-2h0m4-1h0m3 0h0m1 3h0m12-4h0m5 3h0m5 0h0m2-3h0m0 1h0m1-2h0m4 6h0m0-6h0m10 1h0m2 2h0m1-2h0m6 5h0m0 0h0m11-4h0m2-1h0m2-1h0m4 1h0m5 0h0m2-2h0m1 6h0m4 1h0m6 0h0m3-6h0m0 1h0m2-2h0m1 4h0m5 2h0m8-5h0m5 2h0m0-1h0m2 2h0m13 2h0m2-4h0m3-2h0m4 4h0m11-2h0m4 1h0m2-1h0m3-2h0m17 2h0m2 5h0m28-1h0m15 0h0m-281 8h0m0-1h0m9-2h0m7-1h0m7-1h0m7 0h0m6 2h0m9-2h0m3 0h0m0 5h0m13-2h0m3 1h0m5 1h0m0-6h0m1 2h0m2 4h0m3-1h0m0 1h0m4-4h0m3 0h0m1 3h0m15 1h0m2 1h0m2-7h0m3 0h0m2 6h0m4-2h0m6-1h0m3 1h0m3 0h0m2-2h0m2 0h0m1 1h0m9 0h0m0-2h0m3-1h0m3 2h0m1 3h0m4 0h0m0-1h0m3-1h0m1 2h0m0-1h0m0 2h0m2-4h0m9 2h0m0 1h0m2 2h0m1-1h0m1 1h0m0-3h0m0-1h0m1 0h0m7 2h0m2-5h0m1 1h0m2 6h0m3-2h0m3-4h0m2 2h0m5-1h0m4 1h0m7 1h0m13-3h0m10 4h0m2-2h0m0-3h0m8 1h0m1 5h0m4 1h0m0-4h0m7 4h0m8-6h0m3 5h0m6-1h0m6-4h0m8-1h0m3 4h0m-277 4h0m32 2h0m4 1h0m0-1h0m10 3h0m5 2h0m6-4h0m9 3h0m2-2h0m2-3h0m3-1h0m3 2h0m8 3h0m3-2h0m6 1h0m0 1h0m9-1h0m3-1h0m1-3h0m1 2h0m0-1h0m5 1h0m3 1h0m12 0h0m7 4h0m1-4h0m0 4h0m1-2h0m3-3h0m5 0h0m2 2h0m0-4h0m1 2h0m1-2h0m15 6h0m4-2h0m5-1h0m2 4h0m0-4h0m8 0h0m8 1h0m34 1h0m2-3h0m7 4h0m8 1h0m4-3h0m24 0h0m12 0h0m-317 9h0m16-4h0m6 2h0m31-1h0m6 0h0m4-2h0m4 7h0m2-3h0m5-2h0m4 1h0m0 2h0m4 0h0m1-2h0m1 2h0m1 2h0m11-4h0m6 3h0m10-1h0m1 0h0m0-1h0m1 3h0m3 0h0m1 0h0m5-2h0m1-3h0m5-2h0m2 0h0m4 2h0m7 2h0m0 3h0m1 0h0m1-7h0m2 5h0m5-2h0m0-2h0m1-1h0m4 5h0m2-2h0m1-3h0m2 5h0m0-4h0m0 6h0m0-2h0m3-2h0m6 4h0m1-5h0m2 0h0m3-2h0m7 6h0m1-3h0m17-1h0m1-1h0m2-1h0m8 2h0m5 5h0m0-7h0m2 7h0m1-3h0m9-1h0m5-1h0m34 5h0m5-1h0m3-6h0m10 0h0m9 0h0m9 4h0m18 1h0m10-2h0m4-2h0m2 3h0m-311 6h0m21 2h0m25-3h0m1 1h0m2 3h0m12 1h0m8-2h0m0-3h0m5 1h0m1-1h0m2 6h0m4-2h0m2-4h0m6 4h0m2-1h0m1-4h0m1 4h0m19 1h0m1-1h0m4-4h0m6 5h0m2-1h0m5 2h0m2 1h0m0-6h0m6 5h0m1 1h0m2-6h0m3 0h0m15 3h0m0 3h0m7-3h0m1 2h0m12-6h0m2 1h0m32 3h0m6-1h0m7-3h0m3 6h0m18-3h0m15 0h0m4 4h0m11 0h0m-299 1h0m58 7h0m7 0h0m18-7h0m12 2h0m2 5h0m27-2h0m3-5h0m8 5h0m12 1h0m4-6h0m7 2h0m1 3h0m1 1h0m1-5h0m2 6h0m0 0h0m10-4h0m0 0h0m5-3h0m6 1h0m2 6h0m2-1h0m1-2h0m4-3h0m3 4h0m2 2h0m15-5h0m25 1h0m14 3h0m4 1h0m2-6h0m18 4h0m12-3h0m19 4h0m-294 7h0m22-5h0m5 1h0m31 6h0m13-7h0m24 3h0m13 0h0m5 2h0m4-2h0m9-1h0m5-1h0m27 2h0m4 1h0m4 3h0m8-5h0m4 0h0m4-2h0m2 2h0m3 0h0m32-2h0m3 5h0m2-4h0m12 1h0m4 2h0m2-1h0m9-1h0m6-2h0m10 2h0m2-1h0m8 4h0m9-5h0m14 3h0m-305 7h0m47 0h0m4-2h0m3 0h0m2 0h0m45 5h0m2-5h0m14 6h0m4-2h0m8-3h0m3 3h0m2 0h0m1 1h0m8 2h0m14-7h0m23 3h0m6-2h0m2 4h0m6-3h0m13-1h0m9 3h0m8-4h0m1 5h0m1-1h0m4-1h0m1-2h0m4 2h0m3 2h0m12 0h0m0-4h0m7 6h0m12-4h0m11 4h0m3-5h0m10 5h0m6-3h0m3 3h0m-268 8h0m8-5h0m8 3h0m6 1h0m11-1h0m6 2h0m6 0h0m4-6h0m8 4h0m19-5h0m2 0h0m5 1h0m22 4h0m5 0h0m14 2h0m3-6h0m4 6h0m18-7h0m3 7h0m4-5h0m18 0h0m2 0h0m11-1h0m16 0h0m17 3h0m12 3h0m2-6h0m10 4h0m-238 7h0m10 3h0m43-2h0m12-5h0m21 1h0m7 6h0m10 0h0m9-5h0m1-2h0m4 2h0m5 1h0m3 3h0m2-1h0m2-4h0m6 2h0m2 0h0m32-1h0m5 0h0m1-1h0m17 3h0m26 3h0m11-2h0m29 0h0m-277 9h0m60 1h0m4-6h0m19 1h0m22 0h0m14 1h0m1 3h0m6-5h0m25 4h0m16-5h0m45 6h0m1 1h0m10-7h0m19 1h0m1 4h0m16 1h0m-223 4h0m25 2h0m42 3h0m7 0h0m3-1h0m16-3h0m3-3h0m16 3h0m5-1h0m3 5h0m2-3h0m6-2h0m3 3h0m1-1h0m2-2h0m3 2h0m1 2h0m0 0h0m8-3h0m20-3h0m2 5h0m8 2h0m4 0h0m-116 1h0m14 6h0m34-3h0m19-1h0m19 0h0m1 5h0m7-2h0m6-2h0m8 0h0m4 4h0m3-5h0m0 4h0m31-6h0m4 4h0m3-4h0m-204 15h0m26-4h0m25 2h0m25 1h0m11-2h0m15-3h0m10 1h0m13 0h0m13 2h0m2 0h0m13 0h0m12-4h0m129 7h0m-245 6h0m9-4h0m16-1h0m29 0h0m5 6h0m55-4h0m-133 11h0m125-2h0m34 4h0m24-7h0m51 7h0m-202 5h0m35-2h0m16 2h0m72 0h0m75-2h0m-188 7h0m54 2h0m38 3h0m-96 4h0m82 1h0m60-1h0m73-1h0m-202 9h0m75 5h0m-94 3h0m117 0h0m-51 15h0m37 3h0"/>
</g></g>
<polyline points="490.8,118 496,120 510.3,122.3 519.9,119.5 546,120.4 535.8,167 533.4,175 528.6,186.1 553,203.5 541.8,208.8 526.4,208" fill="none" stroke="#f98058" stroke-width="0.8" stroke-opacity="0.9"/>
<polyline points="513.2,114 519.9,119.5 523.9,127.1 512.7,142.7 502.8,147.4" fill="none" stroke="#f66a42" stroke-width="0.8" stroke-opacity="0.9"/>
<polyline points="510.3,122.3 508.4,129 512.7,142.7 521,163.3 525.5,137.5" fill="none" stroke="#f66a42" stroke-width="0.8" stroke-opacity="0.9"/>
<polyline points="541.8,208.8 541.4,223.9 520,233.8 504,238.6 512.2,258.5 518.1,266.5 536.6,252 551,272.4 531,267.6 522.1,276.1" fill="none" stroke="#fba27e" stroke-width="0.8" stroke-opacity="0.9"/>
<polyline points="522.1,276.1 533.4,285 552.6,291 536.6,305.8 556.2,302.3 563.9,318.7 586.4,321.1" fill="none" stroke="#fcb08e" stroke-width="0.8" stroke-opacity="0.9"/>
<polyline points="410.8,202.1 420,216.4 439.8,213.1 454.7,209 468,215.8 481.3,212.7 477.2,198.4" fill="none" stroke="#e8e4d0" stroke-width="0.8" stroke-opacity="0.9"/>
<polyline points="387.9,314.5 393.1,347.5 398.8,366.6 393.7,384.5 401.1,401 405.2,417 409,425.9 414.8,436.7 423,443.4 434.7,430.7 443.5,439.9 455.7,439.9" fill="none" stroke="#adc6c1" stroke-width="0.8" stroke-opacity="0.9"/>
<circle cx="490.8" cy="118" r="3.9" fill="#f98058" fill-opacity="0.95"/>
<circle cx="496" cy="120" r="3.9" fill="#f98058" fill-opacity="0.95"/>
<circle cx="513.2" cy="114" r="3.9" fill="#f4532c" fill-opacity="0.95"/>
<circle cx="519.9" cy="119.5" r="3.9" fill="#f4532c" fill-opacity="0.95"/>
<circle cx="508.4" cy="129" r="3.9" fill="#f4532c" fill-opacity="0.95"/>
<circle cx="512.7" cy="142.7" r="3.9" fill="#f4532c" fill-opacity="0.95"/>
<circle cx="502.8" cy="147.4" r="3.9" fill="#f4532c" fill-opacity="0.95"/>
<circle cx="510.3" cy="122.3" r="3.9" fill="#f66a42" fill-opacity="0.95"/>
<circle cx="523.9" cy="127.1" r="3.9" fill="#f66a42" fill-opacity="0.95"/>
<circle cx="525.5" cy="137.5" r="3.9" fill="#f66a42" fill-opacity="0.95"/>
<circle cx="531" cy="137.5" r="3.9" fill="#f66a42" fill-opacity="0.95"/>
<circle cx="521" cy="163.3" r="3.9" fill="#f66a42" fill-opacity="0.95"/>
<circle cx="546" cy="120.4" r="3.9" fill="#f98058" fill-opacity="0.95"/>
<circle cx="535.8" cy="167" r="3.9" fill="#f98058" fill-opacity="0.95"/>
<circle cx="533.4" cy="175" r="3.9" fill="#f98058" fill-opacity="0.95"/>
<circle cx="528.6" cy="186.1" r="3.9" fill="#f98058" fill-opacity="0.95"/>
<circle cx="553" cy="203.5" r="3.9" fill="#fa9470" fill-opacity="0.95"/>
<circle cx="526.4" cy="208" r="3.9" fill="#fa9470" fill-opacity="0.95"/>
<circle cx="541.8" cy="208.8" r="3.9" fill="#fa9470" fill-opacity="0.95"/>
<circle cx="541.4" cy="223.9" r="3.9" fill="#fa9470" fill-opacity="0.95"/>
<circle cx="520" cy="233.8" r="3.9" fill="#fba27e" fill-opacity="0.95"/>
<circle cx="504" cy="238.6" r="3.9" fill="#fba27e" fill-opacity="0.95"/>
<circle cx="522.7" cy="238.6" r="3.9" fill="#fba27e" fill-opacity="0.95"/>
<circle cx="528" cy="243.4" r="3.9" fill="#fba27e" fill-opacity="0.95"/>
<circle cx="504.5" cy="240.8" r="3.9" fill="#fba27e" fill-opacity="0.95"/>
<circle cx="527.7" cy="243.2" r="3.9" fill="#fba27e" fill-opacity="0.95"/>
<circle cx="536.6" cy="252" r="3.9" fill="#fba27e" fill-opacity="0.95"/>
<circle cx="528" cy="254.8" r="3.9" fill="#fba27e" fill-opacity="0.95"/>
<circle cx="512.2" cy="258.5" r="3.9" fill="#fba27e" fill-opacity="0.95"/>
<circle cx="530.1" cy="260.4" r="3.9" fill="#fba27e" fill-opacity="0.95"/>
<circle cx="518.1" cy="266.5" r="3.9" fill="#fba27e" fill-opacity="0.95"/>
<circle cx="522.1" cy="266.5" r="3.9" fill="#fba27e" fill-opacity="0.95"/>
<circle cx="531" cy="267.6" r="3.9" fill="#fba27e" fill-opacity="0.95"/>
<circle cx="551" cy="272.4" r="3.9" fill="#fba27e" fill-opacity="0.95"/>
<circle cx="522.1" cy="276.1" r="3.9" fill="#fcb08e" fill-opacity="0.95"/>
<circle cx="528.5" cy="278.5" r="3.9" fill="#fcb08e" fill-opacity="0.95"/>
<circle cx="507.7" cy="281" r="3.9" fill="#fcb08e" fill-opacity="0.95"/>
<circle cx="533.4" cy="285" r="3.9" fill="#fcb08e" fill-opacity="0.95"/>
<circle cx="515.7" cy="288.2" r="3.9" fill="#fcb08e" fill-opacity="0.95"/>
<circle cx="552.6" cy="291" r="3.9" fill="#fcb08e" fill-opacity="0.95"/>
<circle cx="526.1" cy="298.6" r="3.9" fill="#fcc2a4" fill-opacity="0.95"/>
<circle cx="522.1" cy="305" r="3.9" fill="#fcc2a4" fill-opacity="0.95"/>
<circle cx="536.6" cy="305.8" r="3.9" fill="#fcc2a4" fill-opacity="0.95"/>
<circle cx="528.5" cy="315.5" r="3.9" fill="#fcc2a4" fill-opacity="0.95"/>
<circle cx="550.2" cy="303.4" r="3.9" fill="#fdd3b8" fill-opacity="0.95"/>
<circle cx="556.2" cy="302.3" r="3.9" fill="#fdd3b8" fill-opacity="0.95"/>
<circle cx="558.3" cy="305.8" r="3.9" fill="#fdd3b8" fill-opacity="0.95"/>
<circle cx="554.2" cy="309" r="3.9" fill="#fdd3b8" fill-opacity="0.95"/>
<circle cx="555.8" cy="315.5" r="3.9" fill="#fdd3b8" fill-opacity="0.95"/>
<circle cx="563.9" cy="318.7" r="3.9" fill="#fdd3b8" fill-opacity="0.95"/>
<circle cx="583.1" cy="317.9" r="3.9" fill="#fdd3b8" fill-opacity="0.95"/>
<circle cx="586.4" cy="321.1" r="3.9" fill="#fdd3b8" fill-opacity="0.95"/>
<circle cx="513.8" cy="241.6" r="3.9" fill="#efe6cf" fill-opacity="0.95"/>
<circle cx="507.7" cy="272.1" r="3.9" fill="#efe6cf" fill-opacity="0.95"/>
<circle cx="538.2" cy="282.6" r="3.9" fill="#efe6cf" fill-opacity="0.95"/>
<circle cx="544.3" cy="298.6" r="3.9" fill="#efe6cf" fill-opacity="0.95"/>
<circle cx="518.7" cy="227.4" r="3.9" fill="#efe6cf" fill-opacity="0.95"/>
<circle cx="504" cy="225" r="3.9" fill="#efe6cf" fill-opacity="0.95"/>
<circle cx="502" cy="216.3" r="3.9" fill="#efe6cf" fill-opacity="0.95"/>
<circle cx="495.6" cy="217" r="3.9" fill="#efe6cf" fill-opacity="0.95"/>
<circle cx="458.8" cy="217.2" r="3.9" fill="#efe6cf" fill-opacity="0.95"/>
<circle cx="468" cy="215.8" r="3.9" fill="#efe6cf" fill-opacity="0.95"/>
<circle cx="473.7" cy="217.2" r="3.9" fill="#efe6cf" fill-opacity="0.95"/>
<circle cx="467" cy="226" r="3.9" fill="#efe6cf" fill-opacity="0.95"/>
<circle cx="477.2" cy="198.4" r="3.9" fill="#efe6cf" fill-opacity="0.95"/>
<circle cx="481.3" cy="190.6" r="3.9" fill="#efe6cf" fill-opacity="0.95"/>
<circle cx="476.2" cy="193.3" r="3.9" fill="#efe6cf" fill-opacity="0.95"/>
<circle cx="482.3" cy="205.5" r="3.9" fill="#efe6cf" fill-opacity="0.95"/>
<circle cx="488.4" cy="205.5" r="3.9" fill="#efe6cf" fill-opacity="0.95"/>
<circle cx="481.3" cy="212.7" r="3.9" fill="#efe6cf" fill-opacity="0.95"/>
<circle cx="492.5" cy="215.8" r="3.9" fill="#efe6cf" fill-opacity="0.95"/>
<circle cx="500.7" cy="215.8" r="3.9" fill="#efe6cf" fill-opacity="0.95"/>
<circle cx="487.4" cy="219.9" r="3.9" fill="#efe6cf" fill-opacity="0.95"/>
<circle cx="484.4" cy="226" r="3.9" fill="#efe6cf" fill-opacity="0.95"/>
<circle cx="503.8" cy="225" r="3.9" fill="#efe6cf" fill-opacity="0.95"/>
<circle cx="486" cy="239.3" r="3.9" fill="#efe6cf" fill-opacity="0.95"/>
<circle cx="454.7" cy="209" r="3.9" fill="#e8e4d0" fill-opacity="0.95"/>
<circle cx="439.8" cy="213.1" r="3.9" fill="#e8e4d0" fill-opacity="0.95"/>
<circle cx="443.1" cy="220.9" r="3.9" fill="#e8e4d0" fill-opacity="0.95"/>
<circle cx="410.8" cy="202.1" r="3.9" fill="#d9ddca" fill-opacity="0.95"/>
<circle cx="420" cy="216.4" r="3.9" fill="#d9ddca" fill-opacity="0.95"/>
<circle cx="387.9" cy="243.1" r="3.9" fill="#bfd0c6" fill-opacity="0.95"/>
<circle cx="387.9" cy="314.5" r="3.9" fill="#bfd0c6" fill-opacity="0.95"/>
<circle cx="393.1" cy="347.5" r="3.9" fill="#bfd0c6" fill-opacity="0.95"/>
<circle cx="393.7" cy="355.8" r="3.9" fill="#bfd0c6" fill-opacity="0.95"/>
<circle cx="392.5" cy="361.2" r="3.9" fill="#bfd0c6" fill-opacity="0.95"/>
<circle cx="398.8" cy="366.6" r="3.9" fill="#bfd0c6" fill-opacity="0.95"/>
<circle cx="393.7" cy="384.5" r="3.9" fill="#bfd0c6" fill-opacity="0.95"/>
<circle cx="401.1" cy="401" r="3.9" fill="#adc6c1" fill-opacity="0.95"/>
<circle cx="405.2" cy="417" r="3.9" fill="#adc6c1" fill-opacity="0.95"/>
<circle cx="409" cy="425.9" r="3.9" fill="#adc6c1" fill-opacity="0.95"/>
<circle cx="414.8" cy="436.7" r="3.9" fill="#adc6c1" fill-opacity="0.95"/>
<circle cx="420.2" cy="436" r="3.9" fill="#adc6c1" fill-opacity="0.95"/>
<circle cx="416" cy="436.9" r="3.9" fill="#adc6c1" fill-opacity="0.95"/>
<circle cx="409" cy="453.6" r="3.9" fill="#93bbbf" fill-opacity="0.95"/>
<circle cx="415.4" cy="452" r="3.9" fill="#93bbbf" fill-opacity="0.95"/>
<circle cx="408.4" cy="453.9" r="3.9" fill="#93bbbf" fill-opacity="0.95"/>
<circle cx="414.9" cy="451.5" r="3.9" fill="#93bbbf" fill-opacity="0.95"/>
<circle cx="418.4" cy="458.5" r="3.9" fill="#93bbbf" fill-opacity="0.95"/>
<circle cx="417.2" cy="469" r="3.9" fill="#93bbbf" fill-opacity="0.95"/>
<circle cx="421.9" cy="476" r="3.9" fill="#93bbbf" fill-opacity="0.95"/>
<circle cx="427.7" cy="480.7" r="3.9" fill="#93bbbf" fill-opacity="0.95"/>
<circle cx="421.8" cy="458.3" r="3.9" fill="#78aebb" fill-opacity="0.95"/>
<circle cx="418" cy="467.9" r="3.9" fill="#78aebb" fill-opacity="0.95"/>
<circle cx="426.5" cy="471" r="3.9" fill="#78aebb" fill-opacity="0.95"/>
<circle cx="423.4" cy="475.9" r="3.9" fill="#78aebb" fill-opacity="0.95"/>
<circle cx="424.8" cy="458.5" r="3.9" fill="#78aebb" fill-opacity="0.95"/>
<circle cx="428.9" cy="471.4" r="3.9" fill="#78aebb" fill-opacity="0.95"/>
<circle cx="421.9" cy="453.9" r="3.9" fill="#78aebb" fill-opacity="0.95"/>
<circle cx="434.7" cy="430.7" r="3.9" fill="#5fa1b6" fill-opacity="0.95"/>
<circle cx="430" cy="436.4" r="3.9" fill="#5fa1b6" fill-opacity="0.95"/>
<circle cx="423" cy="443.4" r="3.9" fill="#5fa1b6" fill-opacity="0.95"/>
<circle cx="431.2" cy="455" r="3.9" fill="#5fa1b6" fill-opacity="0.95"/>
<circle cx="434.7" cy="457.4" r="3.9" fill="#5fa1b6" fill-opacity="0.95"/>
<circle cx="443.5" cy="439.9" r="3.9" fill="#4a98b2" fill-opacity="0.95"/>
<circle cx="455.7" cy="439.9" r="3.9" fill="#4a98b2" fill-opacity="0.95"/>
<circle cx="458.1" cy="446.3" r="3.9" fill="#4a98b2" fill-opacity="0.95"/>
<circle cx="444" cy="453.9" r="3.9" fill="#4a98b2" fill-opacity="0.95"/>
<circle cx="412" cy="457" r="4.1" fill="#78aebb" fill-opacity="0.95"/>
<circle cx="420" cy="462" r="4.1" fill="#78aebb" fill-opacity="0.95"/>
<circle cx="426" cy="465" r="4.1" fill="#78aebb" fill-opacity="0.95"/>
<circle cx="413" cy="462" r="4.1" fill="#78aebb" fill-opacity="0.95"/>
<circle cx="425" cy="476" r="4.1" fill="#78aebb" fill-opacity="0.95"/>
<circle cx="430" cy="468" r="4.1" fill="#78aebb" fill-opacity="0.95"/>
<circle cx="419" cy="473" r="4.1" fill="#78aebb" fill-opacity="0.95"/>
<circle cx="432" cy="461" r="4.1" fill="#78aebb" fill-opacity="0.95"/>
<circle cx="437" cy="456" r="4.1" fill="#78aebb" fill-opacity="0.95"/>
<circle cx="416" cy="466" r="4.1" fill="#78aebb" fill-opacity="0.95"/>
<circle cx="423" cy="470" r="4.1" fill="#78aebb" fill-opacity="0.95"/>
<circle cx="409.6" cy="425.3" r="3.9" fill="#93bbbf" fill-opacity="0.95"/>
<circle cx="416" cy="436.9" r="3.9" fill="#93bbbf" fill-opacity="0.95"/>
<circle cx="511.2" cy="199.3" r="5.2" fill="#ee2a12" stroke="#1a1a1a" stroke-width="1.5"/>
<circle cx="438" cy="449.2" r="5" fill="#3c93ad" stroke="#1a1a1a" stroke-width="1.5"/>
<rect x="373.5" y="10.8" width="310.9" height="575.7" fill="none" stroke="#444" stroke-width="1.05"/>
<line x1="369.2" y1="499.7" x2="373.5" y2="499.7" stroke="#444" stroke-width="0.8"/>
<text x="365.2" y="504" font-size="12.4" text-anchor="end" fill="#222" textLength="19" lengthAdjust="spacingAndGlyphs">2.0</text>
<line x1="369.2" y1="376.2" x2="373.5" y2="376.2" stroke="#444" stroke-width="0.8"/>
<text x="365.2" y="380.5" font-size="12.4" text-anchor="end" fill="#222" textLength="19" lengthAdjust="spacingAndGlyphs">2.2</text>
<line x1="369.2" y1="252.7" x2="373.5" y2="252.7" stroke="#444" stroke-width="0.8"/>
<text x="365.2" y="257" font-size="12.4" text-anchor="end" fill="#222" textLength="19" lengthAdjust="spacingAndGlyphs">2.4</text>
<line x1="369.2" y1="129.2" x2="373.5" y2="129.2" stroke="#444" stroke-width="0.8"/>
<text x="365.2" y="133.5" font-size="12.4" text-anchor="end" fill="#222" textLength="19" lengthAdjust="spacingAndGlyphs">2.6</text>
<line x1="387.6" y1="586.5" x2="387.6" y2="591.6" stroke="#444" stroke-width="0.8"/>
<text x="387.6" y="605.7" font-size="12" text-anchor="middle" fill="#222">1.0</text>
<line x1="458.3" y1="586.5" x2="458.3" y2="591.6" stroke="#444" stroke-width="0.8"/>
<text x="458.3" y="605.7" font-size="12" text-anchor="middle" fill="#222">1.2</text>
<line x1="529" y1="586.5" x2="529" y2="591.6" stroke="#444" stroke-width="0.8"/>
<text x="529" y="605.7" font-size="12" text-anchor="middle" fill="#222">1.4</text>
<line x1="599.6" y1="586.5" x2="599.6" y2="591.6" stroke="#444" stroke-width="0.8"/>
<text x="599.6" y="605.7" font-size="12" text-anchor="middle" fill="#222">1.6</text>
<line x1="670.3" y1="586.5" x2="670.3" y2="591.6" stroke="#444" stroke-width="0.8"/>
<text x="670.3" y="605.7" font-size="12" text-anchor="middle" fill="#222">1.8</text>
<text x="503" y="622.8" font-size="12.8" fill="#222" textLength="52" lengthAdjust="spacingAndGlyphs">Slope <tspan font-style="italic">β</tspan></text>
<text font-size="13.2" fill="#222" textLength="74.5" lengthAdjust="spacingAndGlyphs" transform="translate(337,336.8) rotate(-90)">Intercept <tspan font-style="italic">α</tspan></text>
<text x="616.2" y="40.8" font-size="14" fill="#222">LUI</text>
<circle cx="622.3" cy="55.4" r="5" fill="#f4532c"/>
<text x="633.8" y="59.6" font-size="12" fill="#222">2.5</text>
<circle cx="622.3" cy="71.8" r="5" fill="#fbb593"/>
<text x="633.8" y="76" font-size="12" fill="#222">2.0</text>
<circle cx="622.3" cy="88.1" r="5" fill="#d5dbc9"/>
<text x="633.8" y="92.3" font-size="12" fill="#222">1.5</text>
<circle cx="622.3" cy="104.5" r="5" fill="#7fb3bf"/>
<text x="633.8" y="108.7" font-size="12" fill="#222">1.0</text></svg>
</body></html>
